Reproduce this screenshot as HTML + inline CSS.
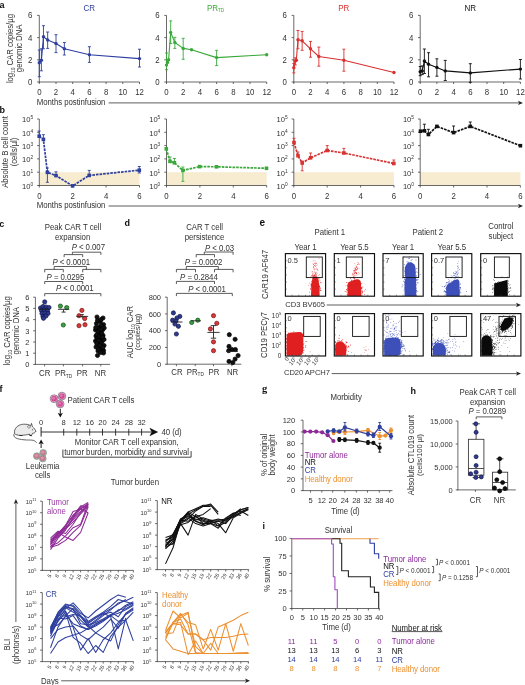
<!DOCTYPE html>
<html><head><meta charset="utf-8"><style>
html,body{margin:0;padding:0;background:#fff;}
svg{display:block;font-family:"Liberation Sans", sans-serif;filter:blur(0.3px);}
</style></head><body>
<svg width="525" height="685" viewBox="0 0 525 685">
<rect width="525" height="685" fill="#fff"/>
<text x="-0.60" y="8.14" font-size="9" font-weight="bold" fill="#111">a</text>
<line x1="39.30" y1="15.40" x2="39.30" y2="82.40" stroke="#444" stroke-width="0.8"/>
<line x1="38.90" y1="82.00" x2="139.50" y2="82.00" stroke="#444" stroke-width="0.8"/>
<line x1="37.10" y1="82.00" x2="39.30" y2="82.00" stroke="#444" stroke-width="0.8"/>
<g transform="translate(32.40 82.00) scale(1 1.07)"><text x="0" y="2.83" font-size="7.85" fill="#333" text-anchor="end" letter-spacing="-0.05">0</text></g>
<line x1="37.10" y1="59.80" x2="39.30" y2="59.80" stroke="#444" stroke-width="0.8"/>
<g transform="translate(32.40 59.80) scale(1 1.07)"><text x="0" y="2.83" font-size="7.85" fill="#333" text-anchor="end" letter-spacing="-0.05">2</text></g>
<line x1="37.10" y1="37.60" x2="39.30" y2="37.60" stroke="#444" stroke-width="0.8"/>
<g transform="translate(32.40 37.60) scale(1 1.07)"><text x="0" y="2.83" font-size="7.85" fill="#333" text-anchor="end" letter-spacing="-0.05">4</text></g>
<line x1="37.10" y1="15.40" x2="39.30" y2="15.40" stroke="#444" stroke-width="0.8"/>
<g transform="translate(32.40 15.40) scale(1 1.07)"><text x="0" y="2.83" font-size="7.85" fill="#333" text-anchor="end" letter-spacing="-0.05">6</text></g>
<line x1="39.30" y1="82.00" x2="39.30" y2="84.00" stroke="#444" stroke-width="0.8"/>
<g transform="translate(39.30 92.20) scale(1 1.07)"><text x="0" y="2.83" font-size="7.85" fill="#333" text-anchor="middle" letter-spacing="-0.05">0</text></g>
<line x1="56.00" y1="82.00" x2="56.00" y2="84.00" stroke="#444" stroke-width="0.8"/>
<g transform="translate(56.00 92.20) scale(1 1.07)"><text x="0" y="2.83" font-size="7.85" fill="#333" text-anchor="middle" letter-spacing="-0.05">2</text></g>
<line x1="72.70" y1="82.00" x2="72.70" y2="84.00" stroke="#444" stroke-width="0.8"/>
<g transform="translate(72.70 92.20) scale(1 1.07)"><text x="0" y="2.83" font-size="7.85" fill="#333" text-anchor="middle" letter-spacing="-0.05">4</text></g>
<line x1="89.40" y1="82.00" x2="89.40" y2="84.00" stroke="#444" stroke-width="0.8"/>
<g transform="translate(89.40 92.20) scale(1 1.07)"><text x="0" y="2.83" font-size="7.85" fill="#333" text-anchor="middle" letter-spacing="-0.05">6</text></g>
<line x1="106.10" y1="82.00" x2="106.10" y2="84.00" stroke="#444" stroke-width="0.8"/>
<g transform="translate(106.10 92.20) scale(1 1.07)"><text x="0" y="2.83" font-size="7.85" fill="#333" text-anchor="middle" letter-spacing="-0.05">8</text></g>
<line x1="122.80" y1="82.00" x2="122.80" y2="84.00" stroke="#444" stroke-width="0.8"/>
<g transform="translate(122.80 92.20) scale(1 1.07)"><text x="0" y="2.83" font-size="7.85" fill="#333" text-anchor="middle" letter-spacing="-0.05">10</text></g>
<line x1="139.50" y1="82.00" x2="139.50" y2="84.00" stroke="#444" stroke-width="0.8"/>
<g transform="translate(139.50 92.20) scale(1 1.07)"><text x="0" y="2.83" font-size="7.85" fill="#333" text-anchor="middle" letter-spacing="-0.05">12</text></g>
<g transform="translate(89.30 7.50) scale(1 1.07)"><text x="0" y="2.88" font-size="8.0" fill="#2e3f9e" text-anchor="middle" letter-spacing="-0.05">CR</text></g>
<line x1="166.50" y1="15.40" x2="166.50" y2="82.40" stroke="#444" stroke-width="0.8"/>
<line x1="166.10" y1="82.00" x2="266.70" y2="82.00" stroke="#444" stroke-width="0.8"/>
<line x1="164.30" y1="82.00" x2="166.50" y2="82.00" stroke="#444" stroke-width="0.8"/>
<g transform="translate(159.60 82.00) scale(1 1.07)"><text x="0" y="2.83" font-size="7.85" fill="#333" text-anchor="end" letter-spacing="-0.05">0</text></g>
<line x1="164.30" y1="59.80" x2="166.50" y2="59.80" stroke="#444" stroke-width="0.8"/>
<g transform="translate(159.60 59.80) scale(1 1.07)"><text x="0" y="2.83" font-size="7.85" fill="#333" text-anchor="end" letter-spacing="-0.05">2</text></g>
<line x1="164.30" y1="37.60" x2="166.50" y2="37.60" stroke="#444" stroke-width="0.8"/>
<g transform="translate(159.60 37.60) scale(1 1.07)"><text x="0" y="2.83" font-size="7.85" fill="#333" text-anchor="end" letter-spacing="-0.05">4</text></g>
<line x1="164.30" y1="15.40" x2="166.50" y2="15.40" stroke="#444" stroke-width="0.8"/>
<g transform="translate(159.60 15.40) scale(1 1.07)"><text x="0" y="2.83" font-size="7.85" fill="#333" text-anchor="end" letter-spacing="-0.05">6</text></g>
<line x1="166.50" y1="82.00" x2="166.50" y2="84.00" stroke="#444" stroke-width="0.8"/>
<g transform="translate(166.50 92.20) scale(1 1.07)"><text x="0" y="2.83" font-size="7.85" fill="#333" text-anchor="middle" letter-spacing="-0.05">0</text></g>
<line x1="183.20" y1="82.00" x2="183.20" y2="84.00" stroke="#444" stroke-width="0.8"/>
<g transform="translate(183.20 92.20) scale(1 1.07)"><text x="0" y="2.83" font-size="7.85" fill="#333" text-anchor="middle" letter-spacing="-0.05">2</text></g>
<line x1="199.90" y1="82.00" x2="199.90" y2="84.00" stroke="#444" stroke-width="0.8"/>
<g transform="translate(199.90 92.20) scale(1 1.07)"><text x="0" y="2.83" font-size="7.85" fill="#333" text-anchor="middle" letter-spacing="-0.05">4</text></g>
<line x1="216.60" y1="82.00" x2="216.60" y2="84.00" stroke="#444" stroke-width="0.8"/>
<g transform="translate(216.60 92.20) scale(1 1.07)"><text x="0" y="2.83" font-size="7.85" fill="#333" text-anchor="middle" letter-spacing="-0.05">6</text></g>
<line x1="233.30" y1="82.00" x2="233.30" y2="84.00" stroke="#444" stroke-width="0.8"/>
<g transform="translate(233.30 92.20) scale(1 1.07)"><text x="0" y="2.83" font-size="7.85" fill="#333" text-anchor="middle" letter-spacing="-0.05">8</text></g>
<line x1="250.00" y1="82.00" x2="250.00" y2="84.00" stroke="#444" stroke-width="0.8"/>
<g transform="translate(250.00 92.20) scale(1 1.07)"><text x="0" y="2.83" font-size="7.85" fill="#333" text-anchor="middle" letter-spacing="-0.05">10</text></g>
<line x1="266.70" y1="82.00" x2="266.70" y2="84.00" stroke="#444" stroke-width="0.8"/>
<g transform="translate(266.70 92.20) scale(1 1.07)"><text x="0" y="2.83" font-size="7.85" fill="#333" text-anchor="middle" letter-spacing="-0.05">12</text></g>
<g transform="translate(215.50 7.50) scale(1 1.07)"><text x="0" y="2.88" font-size="8.0" fill="#3aa83a" text-anchor="middle" letter-spacing="-0.05">PR<tspan font-size="4.6" dy="1.5">TD</tspan></text></g>
<line x1="293.80" y1="15.40" x2="293.80" y2="82.40" stroke="#444" stroke-width="0.8"/>
<line x1="293.40" y1="82.00" x2="394.00" y2="82.00" stroke="#444" stroke-width="0.8"/>
<line x1="291.60" y1="82.00" x2="293.80" y2="82.00" stroke="#444" stroke-width="0.8"/>
<g transform="translate(286.90 82.00) scale(1 1.07)"><text x="0" y="2.83" font-size="7.85" fill="#333" text-anchor="end" letter-spacing="-0.05">0</text></g>
<line x1="291.60" y1="59.80" x2="293.80" y2="59.80" stroke="#444" stroke-width="0.8"/>
<g transform="translate(286.90 59.80) scale(1 1.07)"><text x="0" y="2.83" font-size="7.85" fill="#333" text-anchor="end" letter-spacing="-0.05">2</text></g>
<line x1="291.60" y1="37.60" x2="293.80" y2="37.60" stroke="#444" stroke-width="0.8"/>
<g transform="translate(286.90 37.60) scale(1 1.07)"><text x="0" y="2.83" font-size="7.85" fill="#333" text-anchor="end" letter-spacing="-0.05">4</text></g>
<line x1="291.60" y1="15.40" x2="293.80" y2="15.40" stroke="#444" stroke-width="0.8"/>
<g transform="translate(286.90 15.40) scale(1 1.07)"><text x="0" y="2.83" font-size="7.85" fill="#333" text-anchor="end" letter-spacing="-0.05">6</text></g>
<line x1="293.80" y1="82.00" x2="293.80" y2="84.00" stroke="#444" stroke-width="0.8"/>
<g transform="translate(293.80 92.20) scale(1 1.07)"><text x="0" y="2.83" font-size="7.85" fill="#333" text-anchor="middle" letter-spacing="-0.05">0</text></g>
<line x1="310.50" y1="82.00" x2="310.50" y2="84.00" stroke="#444" stroke-width="0.8"/>
<g transform="translate(310.50 92.20) scale(1 1.07)"><text x="0" y="2.83" font-size="7.85" fill="#333" text-anchor="middle" letter-spacing="-0.05">2</text></g>
<line x1="327.20" y1="82.00" x2="327.20" y2="84.00" stroke="#444" stroke-width="0.8"/>
<g transform="translate(327.20 92.20) scale(1 1.07)"><text x="0" y="2.83" font-size="7.85" fill="#333" text-anchor="middle" letter-spacing="-0.05">4</text></g>
<line x1="343.90" y1="82.00" x2="343.90" y2="84.00" stroke="#444" stroke-width="0.8"/>
<g transform="translate(343.90 92.20) scale(1 1.07)"><text x="0" y="2.83" font-size="7.85" fill="#333" text-anchor="middle" letter-spacing="-0.05">6</text></g>
<line x1="360.60" y1="82.00" x2="360.60" y2="84.00" stroke="#444" stroke-width="0.8"/>
<g transform="translate(360.60 92.20) scale(1 1.07)"><text x="0" y="2.83" font-size="7.85" fill="#333" text-anchor="middle" letter-spacing="-0.05">8</text></g>
<line x1="377.30" y1="82.00" x2="377.30" y2="84.00" stroke="#444" stroke-width="0.8"/>
<g transform="translate(377.30 92.20) scale(1 1.07)"><text x="0" y="2.83" font-size="7.85" fill="#333" text-anchor="middle" letter-spacing="-0.05">10</text></g>
<line x1="394.00" y1="82.00" x2="394.00" y2="84.00" stroke="#444" stroke-width="0.8"/>
<g transform="translate(394.00 92.20) scale(1 1.07)"><text x="0" y="2.83" font-size="7.85" fill="#333" text-anchor="middle" letter-spacing="-0.05">12</text></g>
<g transform="translate(343.80 7.50) scale(1 1.07)"><text x="0" y="2.88" font-size="8.0" fill="#d93030" text-anchor="middle" letter-spacing="-0.05">PR</text></g>
<line x1="420.20" y1="15.40" x2="420.20" y2="82.40" stroke="#444" stroke-width="0.8"/>
<line x1="419.80" y1="82.00" x2="520.40" y2="82.00" stroke="#444" stroke-width="0.8"/>
<line x1="418.00" y1="82.00" x2="420.20" y2="82.00" stroke="#444" stroke-width="0.8"/>
<g transform="translate(413.30 82.00) scale(1 1.07)"><text x="0" y="2.83" font-size="7.85" fill="#333" text-anchor="end" letter-spacing="-0.05">0</text></g>
<line x1="418.00" y1="59.80" x2="420.20" y2="59.80" stroke="#444" stroke-width="0.8"/>
<g transform="translate(413.30 59.80) scale(1 1.07)"><text x="0" y="2.83" font-size="7.85" fill="#333" text-anchor="end" letter-spacing="-0.05">2</text></g>
<line x1="418.00" y1="37.60" x2="420.20" y2="37.60" stroke="#444" stroke-width="0.8"/>
<g transform="translate(413.30 37.60) scale(1 1.07)"><text x="0" y="2.83" font-size="7.85" fill="#333" text-anchor="end" letter-spacing="-0.05">4</text></g>
<line x1="418.00" y1="15.40" x2="420.20" y2="15.40" stroke="#444" stroke-width="0.8"/>
<g transform="translate(413.30 15.40) scale(1 1.07)"><text x="0" y="2.83" font-size="7.85" fill="#333" text-anchor="end" letter-spacing="-0.05">6</text></g>
<line x1="420.20" y1="82.00" x2="420.20" y2="84.00" stroke="#444" stroke-width="0.8"/>
<g transform="translate(420.20 92.20) scale(1 1.07)"><text x="0" y="2.83" font-size="7.85" fill="#333" text-anchor="middle" letter-spacing="-0.05">0</text></g>
<line x1="436.90" y1="82.00" x2="436.90" y2="84.00" stroke="#444" stroke-width="0.8"/>
<g transform="translate(436.90 92.20) scale(1 1.07)"><text x="0" y="2.83" font-size="7.85" fill="#333" text-anchor="middle" letter-spacing="-0.05">2</text></g>
<line x1="453.60" y1="82.00" x2="453.60" y2="84.00" stroke="#444" stroke-width="0.8"/>
<g transform="translate(453.60 92.20) scale(1 1.07)"><text x="0" y="2.83" font-size="7.85" fill="#333" text-anchor="middle" letter-spacing="-0.05">4</text></g>
<line x1="470.30" y1="82.00" x2="470.30" y2="84.00" stroke="#444" stroke-width="0.8"/>
<g transform="translate(470.30 92.20) scale(1 1.07)"><text x="0" y="2.83" font-size="7.85" fill="#333" text-anchor="middle" letter-spacing="-0.05">6</text></g>
<line x1="487.00" y1="82.00" x2="487.00" y2="84.00" stroke="#444" stroke-width="0.8"/>
<g transform="translate(487.00 92.20) scale(1 1.07)"><text x="0" y="2.83" font-size="7.85" fill="#333" text-anchor="middle" letter-spacing="-0.05">8</text></g>
<line x1="503.70" y1="82.00" x2="503.70" y2="84.00" stroke="#444" stroke-width="0.8"/>
<g transform="translate(503.70 92.20) scale(1 1.07)"><text x="0" y="2.83" font-size="7.85" fill="#333" text-anchor="middle" letter-spacing="-0.05">10</text></g>
<line x1="520.40" y1="82.00" x2="520.40" y2="84.00" stroke="#444" stroke-width="0.8"/>
<g transform="translate(520.40 92.20) scale(1 1.07)"><text x="0" y="2.83" font-size="7.85" fill="#333" text-anchor="middle" letter-spacing="-0.05">12</text></g>
<g transform="translate(470.20 7.50) scale(1 1.07)"><text x="0" y="2.88" font-size="8.0" fill="#111" text-anchor="middle" letter-spacing="-0.05">NR</text></g>
<g transform="translate(10.30 48.60) rotate(-90) scale(1 1.07)"><text x="0" y="2.81" font-size="7.8" fill="#333" text-anchor="middle" letter-spacing="-0.05">log<tspan font-size="4.8" dy="1.5">10</tspan><tspan dy="-1.5"> CAR copies/µg</tspan></text></g>
<g transform="translate(19.10 48.40) rotate(-90) scale(1 1.07)"><text x="0" y="2.81" font-size="7.8" fill="#333" text-anchor="middle" letter-spacing="-0.05">genomic DNA</text></g>
<g transform="translate(36.70 102.20) scale(1 1.07)"><text x="0" y="2.83" font-size="7.85" fill="#333" letter-spacing="-0.05">Months postinfusion</text></g>
<line x1="108.60" y1="102.90" x2="519.00" y2="102.90" stroke="#333" stroke-width="0.8"/>
<path d="M523.00,102.90 L518.00,100.70 L519.25,102.90 L518.00,105.10Z" fill="#222"/>
<line x1="39.30" y1="50.00" x2="39.30" y2="76.70" stroke="#2e3f9e" stroke-width="0.9"/>
<line x1="37.80" y1="50.00" x2="40.80" y2="50.00" stroke="#2e3f9e" stroke-width="0.9"/>
<line x1="37.80" y1="76.70" x2="40.80" y2="76.70" stroke="#2e3f9e" stroke-width="0.9"/>
<line x1="41.39" y1="48.80" x2="41.39" y2="70.80" stroke="#2e3f9e" stroke-width="0.9"/>
<line x1="39.89" y1="48.80" x2="42.89" y2="48.80" stroke="#2e3f9e" stroke-width="0.9"/>
<line x1="39.89" y1="70.80" x2="42.89" y2="70.80" stroke="#2e3f9e" stroke-width="0.9"/>
<line x1="43.47" y1="25.70" x2="43.47" y2="48.80" stroke="#2e3f9e" stroke-width="0.9"/>
<line x1="41.97" y1="25.70" x2="44.97" y2="25.70" stroke="#2e3f9e" stroke-width="0.9"/>
<line x1="41.97" y1="48.80" x2="44.97" y2="48.80" stroke="#2e3f9e" stroke-width="0.9"/>
<line x1="47.65" y1="32.00" x2="47.65" y2="48.40" stroke="#2e3f9e" stroke-width="0.9"/>
<line x1="46.15" y1="32.00" x2="49.15" y2="32.00" stroke="#2e3f9e" stroke-width="0.9"/>
<line x1="46.15" y1="48.40" x2="49.15" y2="48.40" stroke="#2e3f9e" stroke-width="0.9"/>
<line x1="56.00" y1="34.70" x2="56.00" y2="52.60" stroke="#2e3f9e" stroke-width="0.9"/>
<line x1="54.50" y1="34.70" x2="57.50" y2="34.70" stroke="#2e3f9e" stroke-width="0.9"/>
<line x1="54.50" y1="52.60" x2="57.50" y2="52.60" stroke="#2e3f9e" stroke-width="0.9"/>
<line x1="64.35" y1="42.50" x2="64.35" y2="55.00" stroke="#2e3f9e" stroke-width="0.9"/>
<line x1="62.85" y1="42.50" x2="65.85" y2="42.50" stroke="#2e3f9e" stroke-width="0.9"/>
<line x1="62.85" y1="55.00" x2="65.85" y2="55.00" stroke="#2e3f9e" stroke-width="0.9"/>
<line x1="89.40" y1="46.70" x2="89.40" y2="62.40" stroke="#2e3f9e" stroke-width="0.9"/>
<line x1="87.90" y1="46.70" x2="90.90" y2="46.70" stroke="#2e3f9e" stroke-width="0.9"/>
<line x1="87.90" y1="62.40" x2="90.90" y2="62.40" stroke="#2e3f9e" stroke-width="0.9"/>
<line x1="139.50" y1="49.20" x2="139.50" y2="67.00" stroke="#2e3f9e" stroke-width="0.9"/>
<line x1="138.00" y1="49.20" x2="141.00" y2="49.20" stroke="#2e3f9e" stroke-width="0.9"/>
<line x1="138.00" y1="67.00" x2="141.00" y2="67.00" stroke="#2e3f9e" stroke-width="0.9"/>
<polyline points="39.30,62.80 41.39,60.30 43.47,36.80 47.65,40.00 56.00,43.50 64.35,48.80 89.40,54.70 139.50,58.60" fill="none" stroke="#2e3f9e" stroke-width="1.1" stroke-linejoin="round"/>
<circle cx="39.30" cy="62.80" r="1.7" fill="#2e3f9e" stroke="none" stroke-width="0.5"/>
<circle cx="41.39" cy="60.30" r="1.7" fill="#2e3f9e" stroke="none" stroke-width="0.5"/>
<circle cx="43.47" cy="36.80" r="1.7" fill="#2e3f9e" stroke="none" stroke-width="0.5"/>
<circle cx="47.65" cy="40.00" r="1.7" fill="#2e3f9e" stroke="none" stroke-width="0.5"/>
<circle cx="56.00" cy="43.50" r="1.7" fill="#2e3f9e" stroke="none" stroke-width="0.5"/>
<circle cx="64.35" cy="48.80" r="1.7" fill="#2e3f9e" stroke="none" stroke-width="0.5"/>
<circle cx="89.40" cy="54.70" r="1.7" fill="#2e3f9e" stroke="none" stroke-width="0.5"/>
<circle cx="139.50" cy="58.60" r="1.7" fill="#2e3f9e" stroke="none" stroke-width="0.5"/>
<line x1="166.50" y1="53.00" x2="166.50" y2="69.70" stroke="#3aa83a" stroke-width="0.9"/>
<line x1="165.00" y1="53.00" x2="168.00" y2="53.00" stroke="#3aa83a" stroke-width="0.9"/>
<line x1="165.00" y1="69.70" x2="168.00" y2="69.70" stroke="#3aa83a" stroke-width="0.9"/>
<line x1="170.68" y1="20.90" x2="170.68" y2="43.50" stroke="#3aa83a" stroke-width="0.9"/>
<line x1="169.18" y1="20.90" x2="172.18" y2="20.90" stroke="#3aa83a" stroke-width="0.9"/>
<line x1="169.18" y1="43.50" x2="172.18" y2="43.50" stroke="#3aa83a" stroke-width="0.9"/>
<line x1="174.85" y1="37.30" x2="174.85" y2="48.40" stroke="#3aa83a" stroke-width="0.9"/>
<line x1="173.35" y1="37.30" x2="176.35" y2="37.30" stroke="#3aa83a" stroke-width="0.9"/>
<line x1="173.35" y1="48.40" x2="176.35" y2="48.40" stroke="#3aa83a" stroke-width="0.9"/>
<line x1="183.20" y1="38.30" x2="183.20" y2="59.30" stroke="#3aa83a" stroke-width="0.9"/>
<line x1="181.70" y1="38.30" x2="184.70" y2="38.30" stroke="#3aa83a" stroke-width="0.9"/>
<line x1="181.70" y1="59.30" x2="184.70" y2="59.30" stroke="#3aa83a" stroke-width="0.9"/>
<line x1="216.60" y1="50.30" x2="216.60" y2="65.60" stroke="#3aa83a" stroke-width="0.9"/>
<line x1="215.10" y1="50.30" x2="218.10" y2="50.30" stroke="#3aa83a" stroke-width="0.9"/>
<line x1="215.10" y1="65.60" x2="218.10" y2="65.60" stroke="#3aa83a" stroke-width="0.9"/>
<polyline points="166.50,65.10 167.50,62.40 168.59,59.70 170.68,32.40 174.85,42.50 183.20,48.40 191.55,49.80 216.60,57.60 266.70,54.70" fill="none" stroke="#3aa83a" stroke-width="1.1" stroke-linejoin="round"/>
<circle cx="166.50" cy="65.10" r="1.7" fill="#3aa83a" stroke="none" stroke-width="0.5"/>
<circle cx="167.50" cy="62.40" r="1.7" fill="#3aa83a" stroke="none" stroke-width="0.5"/>
<circle cx="168.59" cy="59.70" r="1.7" fill="#3aa83a" stroke="none" stroke-width="0.5"/>
<circle cx="170.68" cy="32.40" r="1.7" fill="#3aa83a" stroke="none" stroke-width="0.5"/>
<circle cx="174.85" cy="42.50" r="1.7" fill="#3aa83a" stroke="none" stroke-width="0.5"/>
<circle cx="183.20" cy="48.40" r="1.7" fill="#3aa83a" stroke="none" stroke-width="0.5"/>
<circle cx="191.55" cy="49.80" r="1.7" fill="#3aa83a" stroke="none" stroke-width="0.5"/>
<circle cx="216.60" cy="57.60" r="1.7" fill="#3aa83a" stroke="none" stroke-width="0.5"/>
<circle cx="266.70" cy="54.70" r="1.7" fill="#3aa83a" stroke="none" stroke-width="0.5"/>
<line x1="293.80" y1="63.50" x2="293.80" y2="72.90" stroke="#d93030" stroke-width="0.9"/>
<line x1="292.30" y1="63.50" x2="295.30" y2="63.50" stroke="#d93030" stroke-width="0.9"/>
<line x1="292.30" y1="72.90" x2="295.30" y2="72.90" stroke="#d93030" stroke-width="0.9"/>
<line x1="295.30" y1="57.80" x2="295.30" y2="65.00" stroke="#d93030" stroke-width="0.9"/>
<line x1="293.80" y1="57.80" x2="296.80" y2="57.80" stroke="#d93030" stroke-width="0.9"/>
<line x1="293.80" y1="65.00" x2="296.80" y2="65.00" stroke="#d93030" stroke-width="0.9"/>
<line x1="297.98" y1="30.50" x2="297.98" y2="48.80" stroke="#d93030" stroke-width="0.9"/>
<line x1="296.48" y1="30.50" x2="299.48" y2="30.50" stroke="#d93030" stroke-width="0.9"/>
<line x1="296.48" y1="48.80" x2="299.48" y2="48.80" stroke="#d93030" stroke-width="0.9"/>
<line x1="302.15" y1="31.40" x2="302.15" y2="50.30" stroke="#d93030" stroke-width="0.9"/>
<line x1="300.65" y1="31.40" x2="303.65" y2="31.40" stroke="#d93030" stroke-width="0.9"/>
<line x1="300.65" y1="50.30" x2="303.65" y2="50.30" stroke="#d93030" stroke-width="0.9"/>
<line x1="310.50" y1="41.40" x2="310.50" y2="57.20" stroke="#d93030" stroke-width="0.9"/>
<line x1="309.00" y1="41.40" x2="312.00" y2="41.40" stroke="#d93030" stroke-width="0.9"/>
<line x1="309.00" y1="57.20" x2="312.00" y2="57.20" stroke="#d93030" stroke-width="0.9"/>
<line x1="318.85" y1="47.10" x2="318.85" y2="66.20" stroke="#d93030" stroke-width="0.9"/>
<line x1="317.35" y1="47.10" x2="320.35" y2="47.10" stroke="#d93030" stroke-width="0.9"/>
<line x1="317.35" y1="66.20" x2="320.35" y2="66.20" stroke="#d93030" stroke-width="0.9"/>
<line x1="343.90" y1="49.20" x2="343.90" y2="71.20" stroke="#d93030" stroke-width="0.9"/>
<line x1="342.40" y1="49.20" x2="345.40" y2="49.20" stroke="#d93030" stroke-width="0.9"/>
<line x1="342.40" y1="71.20" x2="345.40" y2="71.20" stroke="#d93030" stroke-width="0.9"/>
<polyline points="293.80,67.70 295.30,61.00 296.31,60.30 297.98,39.80 302.15,40.80 310.50,48.80 318.85,56.50 343.90,60.30 394.00,72.50" fill="none" stroke="#d93030" stroke-width="1.1" stroke-linejoin="round"/>
<circle cx="293.80" cy="67.70" r="1.7" fill="#d93030" stroke="none" stroke-width="0.5"/>
<circle cx="295.30" cy="61.00" r="1.7" fill="#d93030" stroke="none" stroke-width="0.5"/>
<circle cx="296.31" cy="60.30" r="1.7" fill="#d93030" stroke="none" stroke-width="0.5"/>
<circle cx="297.98" cy="39.80" r="1.7" fill="#d93030" stroke="none" stroke-width="0.5"/>
<circle cx="302.15" cy="40.80" r="1.7" fill="#d93030" stroke="none" stroke-width="0.5"/>
<circle cx="310.50" cy="48.80" r="1.7" fill="#d93030" stroke="none" stroke-width="0.5"/>
<circle cx="318.85" cy="56.50" r="1.7" fill="#d93030" stroke="none" stroke-width="0.5"/>
<circle cx="343.90" cy="60.30" r="1.7" fill="#d93030" stroke="none" stroke-width="0.5"/>
<circle cx="394.00" cy="72.50" r="1.7" fill="#d93030" stroke="none" stroke-width="0.5"/>
<line x1="420.20" y1="66.50" x2="420.20" y2="75.70" stroke="#111" stroke-width="0.9"/>
<line x1="418.70" y1="66.50" x2="421.70" y2="66.50" stroke="#111" stroke-width="0.9"/>
<line x1="418.70" y1="75.70" x2="421.70" y2="75.70" stroke="#111" stroke-width="0.9"/>
<line x1="422.29" y1="65.90" x2="422.29" y2="74.60" stroke="#111" stroke-width="0.9"/>
<line x1="420.79" y1="65.90" x2="423.79" y2="65.90" stroke="#111" stroke-width="0.9"/>
<line x1="420.79" y1="74.60" x2="423.79" y2="74.60" stroke="#111" stroke-width="0.9"/>
<line x1="424.38" y1="49.00" x2="424.38" y2="73.50" stroke="#111" stroke-width="0.9"/>
<line x1="422.88" y1="49.00" x2="425.88" y2="49.00" stroke="#111" stroke-width="0.9"/>
<line x1="422.88" y1="73.50" x2="425.88" y2="73.50" stroke="#111" stroke-width="0.9"/>
<line x1="428.55" y1="52.70" x2="428.55" y2="76.80" stroke="#111" stroke-width="0.9"/>
<line x1="427.05" y1="52.70" x2="430.05" y2="52.70" stroke="#111" stroke-width="0.9"/>
<line x1="427.05" y1="76.80" x2="430.05" y2="76.80" stroke="#111" stroke-width="0.9"/>
<line x1="436.90" y1="58.80" x2="436.90" y2="76.20" stroke="#111" stroke-width="0.9"/>
<line x1="435.40" y1="58.80" x2="438.40" y2="58.80" stroke="#111" stroke-width="0.9"/>
<line x1="435.40" y1="76.20" x2="438.40" y2="76.20" stroke="#111" stroke-width="0.9"/>
<line x1="445.25" y1="60.40" x2="445.25" y2="80.50" stroke="#111" stroke-width="0.9"/>
<line x1="443.75" y1="60.40" x2="446.75" y2="60.40" stroke="#111" stroke-width="0.9"/>
<line x1="443.75" y1="80.50" x2="446.75" y2="80.50" stroke="#111" stroke-width="0.9"/>
<line x1="470.30" y1="63.70" x2="470.30" y2="82.30" stroke="#111" stroke-width="0.9"/>
<line x1="468.80" y1="63.70" x2="471.80" y2="63.70" stroke="#111" stroke-width="0.9"/>
<line x1="468.80" y1="82.30" x2="471.80" y2="82.30" stroke="#111" stroke-width="0.9"/>
<line x1="520.40" y1="59.50" x2="520.40" y2="79.00" stroke="#111" stroke-width="0.9"/>
<line x1="518.90" y1="59.50" x2="521.90" y2="59.50" stroke="#111" stroke-width="0.9"/>
<line x1="518.90" y1="79.00" x2="521.90" y2="79.00" stroke="#111" stroke-width="0.9"/>
<polyline points="420.20,71.80 422.29,70.90 424.38,61.00 428.55,64.30 436.90,67.40 445.25,70.90 470.30,72.90 520.40,69.10" fill="none" stroke="#111" stroke-width="1.1" stroke-linejoin="round"/>
<circle cx="420.20" cy="71.80" r="1.7" fill="#111" stroke="none" stroke-width="0.5"/>
<circle cx="422.29" cy="70.90" r="1.7" fill="#111" stroke="none" stroke-width="0.5"/>
<circle cx="424.38" cy="61.00" r="1.7" fill="#111" stroke="none" stroke-width="0.5"/>
<circle cx="428.55" cy="64.30" r="1.7" fill="#111" stroke="none" stroke-width="0.5"/>
<circle cx="436.90" cy="67.40" r="1.7" fill="#111" stroke="none" stroke-width="0.5"/>
<circle cx="445.25" cy="70.90" r="1.7" fill="#111" stroke="none" stroke-width="0.5"/>
<circle cx="470.30" cy="72.90" r="1.7" fill="#111" stroke="none" stroke-width="0.5"/>
<circle cx="520.40" cy="69.10" r="1.7" fill="#111" stroke="none" stroke-width="0.5"/>
<text x="-0.60" y="113.34" font-size="9" font-weight="bold" fill="#111">b</text>
<rect x="39.30" y="172.20" width="100.20" height="13.30" fill="#f7ecd0" stroke="none" stroke-width="0.8"/>
<line x1="39.30" y1="119.00" x2="39.30" y2="185.90" stroke="#444" stroke-width="0.8"/>
<line x1="38.90" y1="185.50" x2="139.50" y2="185.50" stroke="#444" stroke-width="0.8"/>
<line x1="37.10" y1="185.50" x2="39.30" y2="185.50" stroke="#444" stroke-width="0.8"/>
<g transform="translate(33.00 186.10) scale(1 1.0)"><text x="0" y="2.74" font-size="7.6" fill="#333" text-anchor="end" letter-spacing="-0.05">10<tspan font-size="4.8" dy="-2.88">0</tspan></text></g>
<line x1="37.10" y1="172.20" x2="39.30" y2="172.20" stroke="#444" stroke-width="0.8"/>
<g transform="translate(33.00 172.80) scale(1 1.0)"><text x="0" y="2.74" font-size="7.6" fill="#333" text-anchor="end" letter-spacing="-0.05">10<tspan font-size="4.8" dy="-2.88">1</tspan></text></g>
<line x1="37.10" y1="158.90" x2="39.30" y2="158.90" stroke="#444" stroke-width="0.8"/>
<g transform="translate(33.00 159.50) scale(1 1.0)"><text x="0" y="2.74" font-size="7.6" fill="#333" text-anchor="end" letter-spacing="-0.05">10<tspan font-size="4.8" dy="-2.88">2</tspan></text></g>
<line x1="37.10" y1="145.60" x2="39.30" y2="145.60" stroke="#444" stroke-width="0.8"/>
<g transform="translate(33.00 146.20) scale(1 1.0)"><text x="0" y="2.74" font-size="7.6" fill="#333" text-anchor="end" letter-spacing="-0.05">10<tspan font-size="4.8" dy="-2.88">3</tspan></text></g>
<line x1="37.10" y1="132.30" x2="39.30" y2="132.30" stroke="#444" stroke-width="0.8"/>
<g transform="translate(33.00 132.90) scale(1 1.0)"><text x="0" y="2.74" font-size="7.6" fill="#333" text-anchor="end" letter-spacing="-0.05">10<tspan font-size="4.8" dy="-2.88">4</tspan></text></g>
<line x1="37.10" y1="119.00" x2="39.30" y2="119.00" stroke="#444" stroke-width="0.8"/>
<g transform="translate(33.00 119.60) scale(1 1.0)"><text x="0" y="2.74" font-size="7.6" fill="#333" text-anchor="end" letter-spacing="-0.05">10<tspan font-size="4.8" dy="-2.88">5</tspan></text></g>
<line x1="39.30" y1="185.50" x2="39.30" y2="187.50" stroke="#444" stroke-width="0.8"/>
<g transform="translate(39.30 195.50) scale(1 1.07)"><text x="0" y="2.83" font-size="7.85" fill="#333" text-anchor="middle" letter-spacing="-0.05">0</text></g>
<line x1="72.70" y1="185.50" x2="72.70" y2="187.50" stroke="#444" stroke-width="0.8"/>
<g transform="translate(72.70 195.50) scale(1 1.07)"><text x="0" y="2.83" font-size="7.85" fill="#333" text-anchor="middle" letter-spacing="-0.05">2</text></g>
<line x1="106.10" y1="185.50" x2="106.10" y2="187.50" stroke="#444" stroke-width="0.8"/>
<g transform="translate(106.10 195.50) scale(1 1.07)"><text x="0" y="2.83" font-size="7.85" fill="#333" text-anchor="middle" letter-spacing="-0.05">4</text></g>
<line x1="139.50" y1="185.50" x2="139.50" y2="187.50" stroke="#444" stroke-width="0.8"/>
<g transform="translate(139.50 195.50) scale(1 1.07)"><text x="0" y="2.83" font-size="7.85" fill="#333" text-anchor="middle" letter-spacing="-0.05">6</text></g>
<rect x="166.50" y="172.20" width="100.20" height="13.30" fill="#f7ecd0" stroke="none" stroke-width="0.8"/>
<line x1="166.50" y1="119.00" x2="166.50" y2="185.90" stroke="#444" stroke-width="0.8"/>
<line x1="166.10" y1="185.50" x2="266.70" y2="185.50" stroke="#444" stroke-width="0.8"/>
<line x1="164.30" y1="185.50" x2="166.50" y2="185.50" stroke="#444" stroke-width="0.8"/>
<g transform="translate(160.20 186.10) scale(1 1.0)"><text x="0" y="2.74" font-size="7.6" fill="#333" text-anchor="end" letter-spacing="-0.05">10<tspan font-size="4.8" dy="-2.88">0</tspan></text></g>
<line x1="164.30" y1="172.20" x2="166.50" y2="172.20" stroke="#444" stroke-width="0.8"/>
<g transform="translate(160.20 172.80) scale(1 1.0)"><text x="0" y="2.74" font-size="7.6" fill="#333" text-anchor="end" letter-spacing="-0.05">10<tspan font-size="4.8" dy="-2.88">1</tspan></text></g>
<line x1="164.30" y1="158.90" x2="166.50" y2="158.90" stroke="#444" stroke-width="0.8"/>
<g transform="translate(160.20 159.50) scale(1 1.0)"><text x="0" y="2.74" font-size="7.6" fill="#333" text-anchor="end" letter-spacing="-0.05">10<tspan font-size="4.8" dy="-2.88">2</tspan></text></g>
<line x1="164.30" y1="145.60" x2="166.50" y2="145.60" stroke="#444" stroke-width="0.8"/>
<g transform="translate(160.20 146.20) scale(1 1.0)"><text x="0" y="2.74" font-size="7.6" fill="#333" text-anchor="end" letter-spacing="-0.05">10<tspan font-size="4.8" dy="-2.88">3</tspan></text></g>
<line x1="164.30" y1="132.30" x2="166.50" y2="132.30" stroke="#444" stroke-width="0.8"/>
<g transform="translate(160.20 132.90) scale(1 1.0)"><text x="0" y="2.74" font-size="7.6" fill="#333" text-anchor="end" letter-spacing="-0.05">10<tspan font-size="4.8" dy="-2.88">4</tspan></text></g>
<line x1="164.30" y1="119.00" x2="166.50" y2="119.00" stroke="#444" stroke-width="0.8"/>
<g transform="translate(160.20 119.60) scale(1 1.0)"><text x="0" y="2.74" font-size="7.6" fill="#333" text-anchor="end" letter-spacing="-0.05">10<tspan font-size="4.8" dy="-2.88">5</tspan></text></g>
<line x1="166.50" y1="185.50" x2="166.50" y2="187.50" stroke="#444" stroke-width="0.8"/>
<g transform="translate(166.50 195.50) scale(1 1.07)"><text x="0" y="2.83" font-size="7.85" fill="#333" text-anchor="middle" letter-spacing="-0.05">0</text></g>
<line x1="199.90" y1="185.50" x2="199.90" y2="187.50" stroke="#444" stroke-width="0.8"/>
<g transform="translate(199.90 195.50) scale(1 1.07)"><text x="0" y="2.83" font-size="7.85" fill="#333" text-anchor="middle" letter-spacing="-0.05">2</text></g>
<line x1="233.30" y1="185.50" x2="233.30" y2="187.50" stroke="#444" stroke-width="0.8"/>
<g transform="translate(233.30 195.50) scale(1 1.07)"><text x="0" y="2.83" font-size="7.85" fill="#333" text-anchor="middle" letter-spacing="-0.05">4</text></g>
<line x1="266.70" y1="185.50" x2="266.70" y2="187.50" stroke="#444" stroke-width="0.8"/>
<g transform="translate(266.70 195.50) scale(1 1.07)"><text x="0" y="2.83" font-size="7.85" fill="#333" text-anchor="middle" letter-spacing="-0.05">6</text></g>
<rect x="293.80" y="172.20" width="100.20" height="13.30" fill="#f7ecd0" stroke="none" stroke-width="0.8"/>
<line x1="293.80" y1="119.00" x2="293.80" y2="185.90" stroke="#444" stroke-width="0.8"/>
<line x1="293.40" y1="185.50" x2="394.00" y2="185.50" stroke="#444" stroke-width="0.8"/>
<line x1="291.60" y1="185.50" x2="293.80" y2="185.50" stroke="#444" stroke-width="0.8"/>
<g transform="translate(287.50 186.10) scale(1 1.0)"><text x="0" y="2.74" font-size="7.6" fill="#333" text-anchor="end" letter-spacing="-0.05">10<tspan font-size="4.8" dy="-2.88">0</tspan></text></g>
<line x1="291.60" y1="172.20" x2="293.80" y2="172.20" stroke="#444" stroke-width="0.8"/>
<g transform="translate(287.50 172.80) scale(1 1.0)"><text x="0" y="2.74" font-size="7.6" fill="#333" text-anchor="end" letter-spacing="-0.05">10<tspan font-size="4.8" dy="-2.88">1</tspan></text></g>
<line x1="291.60" y1="158.90" x2="293.80" y2="158.90" stroke="#444" stroke-width="0.8"/>
<g transform="translate(287.50 159.50) scale(1 1.0)"><text x="0" y="2.74" font-size="7.6" fill="#333" text-anchor="end" letter-spacing="-0.05">10<tspan font-size="4.8" dy="-2.88">2</tspan></text></g>
<line x1="291.60" y1="145.60" x2="293.80" y2="145.60" stroke="#444" stroke-width="0.8"/>
<g transform="translate(287.50 146.20) scale(1 1.0)"><text x="0" y="2.74" font-size="7.6" fill="#333" text-anchor="end" letter-spacing="-0.05">10<tspan font-size="4.8" dy="-2.88">3</tspan></text></g>
<line x1="291.60" y1="132.30" x2="293.80" y2="132.30" stroke="#444" stroke-width="0.8"/>
<g transform="translate(287.50 132.90) scale(1 1.0)"><text x="0" y="2.74" font-size="7.6" fill="#333" text-anchor="end" letter-spacing="-0.05">10<tspan font-size="4.8" dy="-2.88">4</tspan></text></g>
<line x1="291.60" y1="119.00" x2="293.80" y2="119.00" stroke="#444" stroke-width="0.8"/>
<g transform="translate(287.50 119.60) scale(1 1.0)"><text x="0" y="2.74" font-size="7.6" fill="#333" text-anchor="end" letter-spacing="-0.05">10<tspan font-size="4.8" dy="-2.88">5</tspan></text></g>
<line x1="293.80" y1="185.50" x2="293.80" y2="187.50" stroke="#444" stroke-width="0.8"/>
<g transform="translate(293.80 195.50) scale(1 1.07)"><text x="0" y="2.83" font-size="7.85" fill="#333" text-anchor="middle" letter-spacing="-0.05">0</text></g>
<line x1="327.20" y1="185.50" x2="327.20" y2="187.50" stroke="#444" stroke-width="0.8"/>
<g transform="translate(327.20 195.50) scale(1 1.07)"><text x="0" y="2.83" font-size="7.85" fill="#333" text-anchor="middle" letter-spacing="-0.05">2</text></g>
<line x1="360.60" y1="185.50" x2="360.60" y2="187.50" stroke="#444" stroke-width="0.8"/>
<g transform="translate(360.60 195.50) scale(1 1.07)"><text x="0" y="2.83" font-size="7.85" fill="#333" text-anchor="middle" letter-spacing="-0.05">4</text></g>
<line x1="394.00" y1="185.50" x2="394.00" y2="187.50" stroke="#444" stroke-width="0.8"/>
<g transform="translate(394.00 195.50) scale(1 1.07)"><text x="0" y="2.83" font-size="7.85" fill="#333" text-anchor="middle" letter-spacing="-0.05">6</text></g>
<rect x="420.20" y="172.20" width="100.20" height="13.30" fill="#f7ecd0" stroke="none" stroke-width="0.8"/>
<line x1="420.20" y1="119.00" x2="420.20" y2="185.90" stroke="#444" stroke-width="0.8"/>
<line x1="419.80" y1="185.50" x2="520.40" y2="185.50" stroke="#444" stroke-width="0.8"/>
<line x1="418.00" y1="185.50" x2="420.20" y2="185.50" stroke="#444" stroke-width="0.8"/>
<g transform="translate(413.90 186.10) scale(1 1.0)"><text x="0" y="2.74" font-size="7.6" fill="#333" text-anchor="end" letter-spacing="-0.05">10<tspan font-size="4.8" dy="-2.88">0</tspan></text></g>
<line x1="418.00" y1="172.20" x2="420.20" y2="172.20" stroke="#444" stroke-width="0.8"/>
<g transform="translate(413.90 172.80) scale(1 1.0)"><text x="0" y="2.74" font-size="7.6" fill="#333" text-anchor="end" letter-spacing="-0.05">10<tspan font-size="4.8" dy="-2.88">1</tspan></text></g>
<line x1="418.00" y1="158.90" x2="420.20" y2="158.90" stroke="#444" stroke-width="0.8"/>
<g transform="translate(413.90 159.50) scale(1 1.0)"><text x="0" y="2.74" font-size="7.6" fill="#333" text-anchor="end" letter-spacing="-0.05">10<tspan font-size="4.8" dy="-2.88">2</tspan></text></g>
<line x1="418.00" y1="145.60" x2="420.20" y2="145.60" stroke="#444" stroke-width="0.8"/>
<g transform="translate(413.90 146.20) scale(1 1.0)"><text x="0" y="2.74" font-size="7.6" fill="#333" text-anchor="end" letter-spacing="-0.05">10<tspan font-size="4.8" dy="-2.88">3</tspan></text></g>
<line x1="418.00" y1="132.30" x2="420.20" y2="132.30" stroke="#444" stroke-width="0.8"/>
<g transform="translate(413.90 132.90) scale(1 1.0)"><text x="0" y="2.74" font-size="7.6" fill="#333" text-anchor="end" letter-spacing="-0.05">10<tspan font-size="4.8" dy="-2.88">4</tspan></text></g>
<line x1="418.00" y1="119.00" x2="420.20" y2="119.00" stroke="#444" stroke-width="0.8"/>
<g transform="translate(413.90 119.60) scale(1 1.0)"><text x="0" y="2.74" font-size="7.6" fill="#333" text-anchor="end" letter-spacing="-0.05">10<tspan font-size="4.8" dy="-2.88">5</tspan></text></g>
<line x1="420.20" y1="185.50" x2="420.20" y2="187.50" stroke="#444" stroke-width="0.8"/>
<g transform="translate(420.20 195.50) scale(1 1.07)"><text x="0" y="2.83" font-size="7.85" fill="#333" text-anchor="middle" letter-spacing="-0.05">0</text></g>
<line x1="453.60" y1="185.50" x2="453.60" y2="187.50" stroke="#444" stroke-width="0.8"/>
<g transform="translate(453.60 195.50) scale(1 1.07)"><text x="0" y="2.83" font-size="7.85" fill="#333" text-anchor="middle" letter-spacing="-0.05">2</text></g>
<line x1="487.00" y1="185.50" x2="487.00" y2="187.50" stroke="#444" stroke-width="0.8"/>
<g transform="translate(487.00 195.50) scale(1 1.07)"><text x="0" y="2.83" font-size="7.85" fill="#333" text-anchor="middle" letter-spacing="-0.05">4</text></g>
<line x1="520.40" y1="185.50" x2="520.40" y2="187.50" stroke="#444" stroke-width="0.8"/>
<g transform="translate(520.40 195.50) scale(1 1.07)"><text x="0" y="2.83" font-size="7.85" fill="#333" text-anchor="middle" letter-spacing="-0.05">6</text></g>
<g transform="translate(5.00 152.00) rotate(-90) scale(1 1.07)"><text x="0" y="2.81" font-size="7.8" fill="#333" text-anchor="middle" letter-spacing="-0.05">Absolute B cell count</text></g>
<g transform="translate(14.40 152.00) rotate(-90) scale(1 1.07)"><text x="0" y="2.81" font-size="7.8" fill="#333" text-anchor="middle" letter-spacing="-0.05">(cells/µl)</text></g>
<g transform="translate(36.70 205.30) scale(1 1.07)"><text x="0" y="2.83" font-size="7.85" fill="#333" letter-spacing="-0.05">Months postinfusion</text></g>
<line x1="108.60" y1="206.00" x2="519.00" y2="206.00" stroke="#333" stroke-width="0.8"/>
<path d="M523.00,206.00 L518.00,203.80 L519.25,206.00 L518.00,208.20Z" fill="#222"/>
<line x1="39.20" y1="136.20" x2="39.20" y2="131.00" stroke="#2e3f9e" stroke-width="0.9"/>
<line x1="37.70" y1="131.00" x2="40.70" y2="131.00" stroke="#2e3f9e" stroke-width="0.9"/>
<line x1="43.40" y1="139.40" x2="43.40" y2="134.70" stroke="#2e3f9e" stroke-width="0.9"/>
<line x1="41.90" y1="134.70" x2="44.90" y2="134.70" stroke="#2e3f9e" stroke-width="0.9"/>
<line x1="47.40" y1="172.30" x2="47.40" y2="182.30" stroke="#2e3f9e" stroke-width="0.9"/>
<line x1="45.90" y1="182.30" x2="48.90" y2="182.30" stroke="#2e3f9e" stroke-width="0.9"/>
<line x1="47.40" y1="172.30" x2="47.40" y2="168.00" stroke="#2e3f9e" stroke-width="0.9"/>
<line x1="45.90" y1="168.00" x2="48.90" y2="168.00" stroke="#2e3f9e" stroke-width="0.9"/>
<line x1="56.00" y1="175.60" x2="56.00" y2="171.80" stroke="#2e3f9e" stroke-width="0.9"/>
<line x1="54.50" y1="171.80" x2="57.50" y2="171.80" stroke="#2e3f9e" stroke-width="0.9"/>
<line x1="89.20" y1="175.40" x2="89.20" y2="170.40" stroke="#2e3f9e" stroke-width="0.9"/>
<line x1="87.70" y1="170.40" x2="90.70" y2="170.40" stroke="#2e3f9e" stroke-width="0.9"/>
<line x1="139.30" y1="170.20" x2="139.30" y2="166.50" stroke="#2e3f9e" stroke-width="0.9"/>
<line x1="137.80" y1="166.50" x2="140.80" y2="166.50" stroke="#2e3f9e" stroke-width="0.9"/>
<line x1="139.30" y1="170.20" x2="139.30" y2="173.00" stroke="#2e3f9e" stroke-width="0.9"/>
<line x1="137.80" y1="173.00" x2="140.80" y2="173.00" stroke="#2e3f9e" stroke-width="0.9"/>
<polyline points="39.20,136.20 43.40,139.40 47.40,172.30 56.00,175.60 72.60,185.90 89.20,175.40 139.30,170.20" fill="none" stroke="#2e3f9e" stroke-width="1.7" stroke-linejoin="round" stroke-dasharray="2.6,1.0"/>
<rect x="37.40" y="134.40" width="3.60" height="3.60" fill="#2e3f9e" stroke="none" stroke-width="0.8"/>
<rect x="41.60" y="137.60" width="3.60" height="3.60" fill="#2e3f9e" stroke="none" stroke-width="0.8"/>
<rect x="45.60" y="170.50" width="3.60" height="3.60" fill="#2e3f9e" stroke="none" stroke-width="0.8"/>
<rect x="54.20" y="173.80" width="3.60" height="3.60" fill="#2e3f9e" stroke="none" stroke-width="0.8"/>
<rect x="70.80" y="184.10" width="3.60" height="3.60" fill="#2e3f9e" stroke="none" stroke-width="0.8"/>
<rect x="87.40" y="173.60" width="3.60" height="3.60" fill="#2e3f9e" stroke="none" stroke-width="0.8"/>
<rect x="137.50" y="168.40" width="3.60" height="3.60" fill="#2e3f9e" stroke="none" stroke-width="0.8"/>
<line x1="170.00" y1="161.40" x2="170.00" y2="157.00" stroke="#3aa83a" stroke-width="0.9"/>
<line x1="168.50" y1="157.00" x2="171.50" y2="157.00" stroke="#3aa83a" stroke-width="0.9"/>
<line x1="174.40" y1="162.80" x2="174.40" y2="158.50" stroke="#3aa83a" stroke-width="0.9"/>
<line x1="172.90" y1="158.50" x2="175.90" y2="158.50" stroke="#3aa83a" stroke-width="0.9"/>
<line x1="182.90" y1="170.40" x2="182.90" y2="167.00" stroke="#3aa83a" stroke-width="0.9"/>
<line x1="181.40" y1="167.00" x2="184.40" y2="167.00" stroke="#3aa83a" stroke-width="0.9"/>
<line x1="182.90" y1="170.40" x2="182.90" y2="181.30" stroke="#3aa83a" stroke-width="0.9"/>
<line x1="181.40" y1="181.30" x2="184.40" y2="181.30" stroke="#3aa83a" stroke-width="0.9"/>
<polyline points="166.30,148.80 170.00,161.40 174.40,162.80 182.90,170.40 199.60,166.60 216.50,166.80 266.50,168.30" fill="none" stroke="#3aa83a" stroke-width="1.7" stroke-linejoin="round" stroke-dasharray="2.6,1.0"/>
<rect x="164.50" y="147.00" width="3.60" height="3.60" fill="#3aa83a" stroke="none" stroke-width="0.8"/>
<rect x="168.20" y="159.60" width="3.60" height="3.60" fill="#3aa83a" stroke="none" stroke-width="0.8"/>
<rect x="172.60" y="161.00" width="3.60" height="3.60" fill="#3aa83a" stroke="none" stroke-width="0.8"/>
<rect x="181.10" y="168.60" width="3.60" height="3.60" fill="#3aa83a" stroke="none" stroke-width="0.8"/>
<rect x="197.80" y="164.80" width="3.60" height="3.60" fill="#3aa83a" stroke="none" stroke-width="0.8"/>
<rect x="214.70" y="165.00" width="3.60" height="3.60" fill="#3aa83a" stroke="none" stroke-width="0.8"/>
<rect x="264.70" y="166.50" width="3.60" height="3.60" fill="#3aa83a" stroke="none" stroke-width="0.8"/>
<line x1="294.00" y1="142.50" x2="294.00" y2="138.30" stroke="#d93030" stroke-width="0.9"/>
<line x1="292.50" y1="138.30" x2="295.50" y2="138.30" stroke="#d93030" stroke-width="0.9"/>
<line x1="298.00" y1="155.70" x2="298.00" y2="152.00" stroke="#d93030" stroke-width="0.9"/>
<line x1="296.50" y1="152.00" x2="299.50" y2="152.00" stroke="#d93030" stroke-width="0.9"/>
<line x1="302.20" y1="163.00" x2="302.20" y2="161.00" stroke="#d93030" stroke-width="0.9"/>
<line x1="300.70" y1="161.00" x2="303.70" y2="161.00" stroke="#d93030" stroke-width="0.9"/>
<line x1="302.20" y1="163.00" x2="302.20" y2="170.80" stroke="#d93030" stroke-width="0.9"/>
<line x1="300.70" y1="170.80" x2="303.70" y2="170.80" stroke="#d93030" stroke-width="0.9"/>
<line x1="310.60" y1="157.80" x2="310.60" y2="153.00" stroke="#d93030" stroke-width="0.9"/>
<line x1="309.10" y1="153.00" x2="312.10" y2="153.00" stroke="#d93030" stroke-width="0.9"/>
<line x1="327.20" y1="150.50" x2="327.20" y2="145.60" stroke="#d93030" stroke-width="0.9"/>
<line x1="325.70" y1="145.60" x2="328.70" y2="145.60" stroke="#d93030" stroke-width="0.9"/>
<line x1="343.90" y1="153.00" x2="343.90" y2="148.40" stroke="#d93030" stroke-width="0.9"/>
<line x1="342.40" y1="148.40" x2="345.40" y2="148.40" stroke="#d93030" stroke-width="0.9"/>
<line x1="393.80" y1="163.50" x2="393.80" y2="160.00" stroke="#d93030" stroke-width="0.9"/>
<line x1="392.30" y1="160.00" x2="395.30" y2="160.00" stroke="#d93030" stroke-width="0.9"/>
<polyline points="294.00,142.50 298.00,155.70 302.20,163.00 310.60,157.80 327.20,150.50 343.90,153.00 393.80,163.50" fill="none" stroke="#d93030" stroke-width="1.7" stroke-linejoin="round" stroke-dasharray="2.6,1.0"/>
<rect x="292.20" y="140.70" width="3.60" height="3.60" fill="#d93030" stroke="none" stroke-width="0.8"/>
<rect x="296.20" y="153.90" width="3.60" height="3.60" fill="#d93030" stroke="none" stroke-width="0.8"/>
<rect x="300.40" y="161.20" width="3.60" height="3.60" fill="#d93030" stroke="none" stroke-width="0.8"/>
<rect x="308.80" y="156.00" width="3.60" height="3.60" fill="#d93030" stroke="none" stroke-width="0.8"/>
<rect x="325.40" y="148.70" width="3.60" height="3.60" fill="#d93030" stroke="none" stroke-width="0.8"/>
<rect x="342.10" y="151.20" width="3.60" height="3.60" fill="#d93030" stroke="none" stroke-width="0.8"/>
<rect x="392.00" y="161.70" width="3.60" height="3.60" fill="#d93030" stroke="none" stroke-width="0.8"/>
<line x1="424.40" y1="130.80" x2="424.40" y2="124.20" stroke="#111" stroke-width="0.9"/>
<line x1="422.90" y1="124.20" x2="425.90" y2="124.20" stroke="#111" stroke-width="0.9"/>
<line x1="428.40" y1="134.50" x2="428.40" y2="129.30" stroke="#111" stroke-width="0.9"/>
<line x1="426.90" y1="129.30" x2="429.90" y2="129.30" stroke="#111" stroke-width="0.9"/>
<line x1="453.60" y1="132.60" x2="453.60" y2="126.00" stroke="#111" stroke-width="0.9"/>
<line x1="452.10" y1="126.00" x2="455.10" y2="126.00" stroke="#111" stroke-width="0.9"/>
<line x1="470.30" y1="126.40" x2="470.30" y2="122.00" stroke="#111" stroke-width="0.9"/>
<line x1="468.80" y1="122.00" x2="471.80" y2="122.00" stroke="#111" stroke-width="0.9"/>
<polyline points="420.50,131.20 424.40,130.80 428.40,134.50 436.90,126.40 453.60,132.60 470.30,126.40 520.40,145.70" fill="none" stroke="#111" stroke-width="1.7" stroke-linejoin="round" stroke-dasharray="2.6,1.0"/>
<rect x="418.70" y="129.40" width="3.60" height="3.60" fill="#111" stroke="none" stroke-width="0.8"/>
<rect x="422.60" y="129.00" width="3.60" height="3.60" fill="#111" stroke="none" stroke-width="0.8"/>
<rect x="426.60" y="132.70" width="3.60" height="3.60" fill="#111" stroke="none" stroke-width="0.8"/>
<rect x="435.10" y="124.60" width="3.60" height="3.60" fill="#111" stroke="none" stroke-width="0.8"/>
<rect x="451.80" y="130.80" width="3.60" height="3.60" fill="#111" stroke="none" stroke-width="0.8"/>
<rect x="468.50" y="124.60" width="3.60" height="3.60" fill="#111" stroke="none" stroke-width="0.8"/>
<rect x="518.60" y="143.90" width="3.60" height="3.60" fill="#111" stroke="none" stroke-width="0.8"/>
<text x="-0.80" y="226.54" font-size="9" font-weight="bold" fill="#111">c</text>
<text x="124.60" y="225.64" font-size="9" font-weight="bold" fill="#111">d</text>
<g transform="translate(73.00 227.30) scale(1 1.07)"><text x="0" y="2.83" font-size="7.85" fill="#333" text-anchor="middle" letter-spacing="-0.05">Peak CAR T cell</text></g>
<g transform="translate(72.60 236.60) scale(1 1.07)"><text x="0" y="2.83" font-size="7.85" fill="#333" text-anchor="middle" letter-spacing="-0.05">expansion</text></g>
<g transform="translate(204.50 226.90) scale(1 1.07)"><text x="0" y="2.83" font-size="7.85" fill="#333" text-anchor="middle" letter-spacing="-0.05">CAR T cell</text></g>
<g transform="translate(204.50 236.80) scale(1 1.07)"><text x="0" y="2.83" font-size="7.85" fill="#333" text-anchor="middle" letter-spacing="-0.05">persistence</text></g>
<g transform="translate(88.30 247.40) scale(1 1.07)"><text x="0" y="2.83" font-size="7.85" fill="#333" text-anchor="middle" letter-spacing="-0.05"><tspan font-style="italic">P</tspan> &lt; 0.007</text></g>
<path d="M72.40,254.40 L72.40,252.20 L100.90,252.20 L100.90,254.90" fill="none" stroke="#333" stroke-width="0.8"/>
<path d="M64.10,257.20 L64.10,254.60 L82.70,254.60 L82.70,257.20" fill="none" stroke="#333" stroke-width="0.8"/>
<g transform="translate(71.20 262.30) scale(1 1.07)"><text x="0" y="2.83" font-size="7.85" fill="#333" text-anchor="middle" letter-spacing="-0.05"><tspan font-style="italic">P</tspan> &lt; 0.0001</text></g>
<path d="M54.20,269.50 L54.20,266.50 L86.40,266.50 L86.40,269.50" fill="none" stroke="#333" stroke-width="0.8"/>
<path d="M44.70,272.30 L44.70,269.40 L63.30,269.40 L63.30,272.30" fill="none" stroke="#333" stroke-width="0.8"/>
<path d="M82.70,272.30 L82.70,269.40 L100.90,269.40 L100.90,272.30" fill="none" stroke="#333" stroke-width="0.8"/>
<g transform="translate(65.40 276.60) scale(1 1.07)"><text x="0" y="2.83" font-size="7.85" fill="#333" text-anchor="middle" letter-spacing="-0.05"><tspan font-style="italic">P</tspan> = 0.0295</text></g>
<path d="M44.70,284.10 L44.70,281.50 L82.70,281.50 L82.70,284.10" fill="none" stroke="#333" stroke-width="0.8"/>
<g transform="translate(74.80 288.40) scale(1 1.07)"><text x="0" y="2.83" font-size="7.85" fill="#333" text-anchor="middle" letter-spacing="-0.05"><tspan font-style="italic">P</tspan> &lt; 0.0001</text></g>
<path d="M44.70,296.30 L44.70,293.60 L100.90,293.60 L100.90,296.30" fill="none" stroke="#333" stroke-width="0.8"/>
<g transform="translate(219.50 247.90) scale(1 1.07)"><text x="0" y="2.83" font-size="7.85" fill="#333" text-anchor="middle" letter-spacing="-0.05"><tspan font-style="italic">P</tspan> &lt; 0.03</text></g>
<path d="M204.30,254.20 L204.30,252.00 L233.10,252.00 L233.10,254.80" fill="none" stroke="#333" stroke-width="0.8"/>
<path d="M196.20,257.30 L196.20,254.60 L214.50,254.60 L214.50,257.30" fill="none" stroke="#333" stroke-width="0.8"/>
<g transform="translate(203.60 262.00) scale(1 1.07)"><text x="0" y="2.83" font-size="7.85" fill="#333" text-anchor="middle" letter-spacing="-0.05"><tspan font-style="italic">P</tspan> = 0.0002</text></g>
<path d="M186.30,269.50 L186.30,266.50 L218.30,266.50 L218.30,269.50" fill="none" stroke="#333" stroke-width="0.8"/>
<path d="M176.40,272.30 L176.40,269.40 L195.50,269.40 L195.50,272.30" fill="none" stroke="#333" stroke-width="0.8"/>
<path d="M214.50,272.30 L214.50,269.40 L233.10,269.40 L233.10,272.30" fill="none" stroke="#333" stroke-width="0.8"/>
<g transform="translate(198.90 276.80) scale(1 1.07)"><text x="0" y="2.83" font-size="7.85" fill="#333" text-anchor="middle" letter-spacing="-0.05"><tspan font-style="italic">P</tspan> = 0.2844</text></g>
<path d="M176.40,284.00 L176.40,281.40 L214.50,281.40 L214.50,284.00" fill="none" stroke="#333" stroke-width="0.8"/>
<g transform="translate(207.10 288.60) scale(1 1.07)"><text x="0" y="2.83" font-size="7.85" fill="#333" text-anchor="middle" letter-spacing="-0.05"><tspan font-style="italic">P</tspan> &lt; 0.0001</text></g>
<path d="M176.40,296.10 L176.40,293.40 L232.30,293.40 L232.30,296.10" fill="none" stroke="#333" stroke-width="0.8"/>
<line x1="35.40" y1="297.20" x2="35.40" y2="364.80" stroke="#444" stroke-width="0.8"/>
<line x1="35.00" y1="364.40" x2="110.00" y2="364.40" stroke="#444" stroke-width="0.8"/>
<line x1="33.20" y1="364.40" x2="35.40" y2="364.40" stroke="#444" stroke-width="0.8"/>
<g transform="translate(27.20 364.40) scale(1 1.0)"><text x="0" y="2.70" font-size="7.5" fill="#333" text-anchor="middle" letter-spacing="-0.05">0</text></g>
<line x1="33.20" y1="353.20" x2="35.40" y2="353.20" stroke="#444" stroke-width="0.8"/>
<g transform="translate(27.20 353.20) scale(1 1.0)"><text x="0" y="2.70" font-size="7.5" fill="#333" text-anchor="middle" letter-spacing="-0.05">1</text></g>
<line x1="33.20" y1="342.00" x2="35.40" y2="342.00" stroke="#444" stroke-width="0.8"/>
<g transform="translate(27.20 342.00) scale(1 1.0)"><text x="0" y="2.70" font-size="7.5" fill="#333" text-anchor="middle" letter-spacing="-0.05">2</text></g>
<line x1="33.20" y1="330.80" x2="35.40" y2="330.80" stroke="#444" stroke-width="0.8"/>
<g transform="translate(27.20 330.80) scale(1 1.0)"><text x="0" y="2.70" font-size="7.5" fill="#333" text-anchor="middle" letter-spacing="-0.05">3</text></g>
<line x1="33.20" y1="319.60" x2="35.40" y2="319.60" stroke="#444" stroke-width="0.8"/>
<g transform="translate(27.20 319.60) scale(1 1.0)"><text x="0" y="2.70" font-size="7.5" fill="#333" text-anchor="middle" letter-spacing="-0.05">4</text></g>
<line x1="33.20" y1="308.40" x2="35.40" y2="308.40" stroke="#444" stroke-width="0.8"/>
<g transform="translate(27.20 308.40) scale(1 1.0)"><text x="0" y="2.70" font-size="7.5" fill="#333" text-anchor="middle" letter-spacing="-0.05">5</text></g>
<line x1="33.20" y1="297.20" x2="35.40" y2="297.20" stroke="#444" stroke-width="0.8"/>
<g transform="translate(27.20 297.20) scale(1 1.0)"><text x="0" y="2.70" font-size="7.5" fill="#333" text-anchor="middle" letter-spacing="-0.05">6</text></g>
<line x1="44.60" y1="364.40" x2="44.60" y2="366.40" stroke="#444" stroke-width="0.8"/>
<line x1="63.40" y1="364.40" x2="63.40" y2="366.40" stroke="#444" stroke-width="0.8"/>
<line x1="82.60" y1="364.40" x2="82.60" y2="366.40" stroke="#444" stroke-width="0.8"/>
<line x1="100.80" y1="364.40" x2="100.80" y2="366.40" stroke="#444" stroke-width="0.8"/>
<g transform="translate(44.70 373.40) scale(1 1.07)"><text x="0" y="2.83" font-size="7.85" fill="#333" text-anchor="middle" letter-spacing="-0.05">CR</text></g>
<g transform="translate(63.60 373.40) scale(1 1.07)"><text x="0" y="2.83" font-size="7.85" fill="#333" text-anchor="middle" letter-spacing="-0.05">PR<tspan font-size="4.8" dy="1.6">TD</tspan></text></g>
<g transform="translate(82.10 373.40) scale(1 1.07)"><text x="0" y="2.83" font-size="7.85" fill="#333" text-anchor="middle" letter-spacing="-0.05">PR</text></g>
<g transform="translate(100.40 373.40) scale(1 1.07)"><text x="0" y="2.83" font-size="7.85" fill="#333" text-anchor="middle" letter-spacing="-0.05">NR</text></g>
<g transform="translate(7.00 330.80) rotate(-90) scale(1 1.07)"><text x="0" y="2.81" font-size="7.8" fill="#333" text-anchor="middle" letter-spacing="-0.05">log<tspan font-size="4.8" dy="1.5">10</tspan><tspan dy="-1.5"> CAR copies/µg</tspan></text></g>
<g transform="translate(16.00 330.80) rotate(-90) scale(1 1.07)"><text x="0" y="2.81" font-size="7.8" fill="#333" text-anchor="middle" letter-spacing="-0.05">genomic DNA</text></g>
<circle cx="44.70" cy="301.90" r="2.1" fill="#2e3b8e" stroke="#10164a" stroke-width="0.7"/>
<circle cx="40.50" cy="308.00" r="2.1" fill="#2e3b8e" stroke="#10164a" stroke-width="0.7"/>
<circle cx="43.00" cy="306.50" r="2.1" fill="#2e3b8e" stroke="#10164a" stroke-width="0.7"/>
<circle cx="46.00" cy="307.00" r="2.1" fill="#2e3b8e" stroke="#10164a" stroke-width="0.7"/>
<circle cx="49.00" cy="307.50" r="2.1" fill="#2e3b8e" stroke="#10164a" stroke-width="0.7"/>
<circle cx="41.50" cy="310.50" r="2.1" fill="#2e3b8e" stroke="#10164a" stroke-width="0.7"/>
<circle cx="44.50" cy="310.00" r="2.1" fill="#2e3b8e" stroke="#10164a" stroke-width="0.7"/>
<circle cx="47.50" cy="311.00" r="2.1" fill="#2e3b8e" stroke="#10164a" stroke-width="0.7"/>
<circle cx="42.00" cy="313.50" r="2.1" fill="#2e3b8e" stroke="#10164a" stroke-width="0.7"/>
<circle cx="45.00" cy="313.00" r="2.1" fill="#2e3b8e" stroke="#10164a" stroke-width="0.7"/>
<circle cx="48.00" cy="313.50" r="2.1" fill="#2e3b8e" stroke="#10164a" stroke-width="0.7"/>
<circle cx="43.00" cy="316.50" r="2.1" fill="#2e3b8e" stroke="#10164a" stroke-width="0.7"/>
<circle cx="46.00" cy="316.00" r="2.1" fill="#2e3b8e" stroke="#10164a" stroke-width="0.7"/>
<circle cx="43.50" cy="318.30" r="2.1" fill="#2e3b8e" stroke="#10164a" stroke-width="0.7"/>
<line x1="39.50" y1="309.30" x2="50.00" y2="309.30" stroke="#222" stroke-width="0.9"/>
<circle cx="60.40" cy="306.10" r="2.1" fill="#3aa040" stroke="#0f4a12" stroke-width="0.7"/>
<circle cx="66.70" cy="307.60" r="2.1" fill="#3aa040" stroke="#0f4a12" stroke-width="0.7"/>
<circle cx="63.30" cy="325.00" r="2.1" fill="#3aa040" stroke="#0f4a12" stroke-width="0.7"/>
<line x1="57.90" y1="309.30" x2="69.30" y2="309.30" stroke="#222" stroke-width="0.9"/>
<line x1="63.60" y1="309.30" x2="63.60" y2="312.10" stroke="#222" stroke-width="0.9"/>
<line x1="61.60" y1="312.10" x2="65.60" y2="312.10" stroke="#222" stroke-width="0.9"/>
<circle cx="81.90" cy="310.40" r="2.1" fill="#d83a3a" stroke="#7a1010" stroke-width="0.7"/>
<circle cx="79.00" cy="315.70" r="2.1" fill="#d83a3a" stroke="#7a1010" stroke-width="0.7"/>
<circle cx="84.70" cy="318.60" r="2.1" fill="#d83a3a" stroke="#7a1010" stroke-width="0.7"/>
<circle cx="79.00" cy="325.70" r="2.1" fill="#d83a3a" stroke="#7a1010" stroke-width="0.7"/>
<circle cx="85.00" cy="324.70" r="2.1" fill="#d83a3a" stroke="#7a1010" stroke-width="0.7"/>
<line x1="76.40" y1="316.40" x2="88.10" y2="316.40" stroke="#222" stroke-width="0.9"/>
<line x1="82.20" y1="314.60" x2="82.20" y2="318.20" stroke="#222" stroke-width="0.9"/>
<line x1="80.60" y1="314.60" x2="83.80" y2="314.60" stroke="#222" stroke-width="0.9"/>
<circle cx="97.00" cy="317.00" r="2.1" fill="#111" stroke="#000" stroke-width="0.7"/>
<circle cx="103.00" cy="318.00" r="2.1" fill="#111" stroke="#000" stroke-width="0.7"/>
<circle cx="100.20" cy="321.50" r="2.1" fill="#111" stroke="#000" stroke-width="0.7"/>
<circle cx="96.50" cy="323.50" r="2.1" fill="#111" stroke="#000" stroke-width="0.7"/>
<circle cx="103.50" cy="324.50" r="2.1" fill="#111" stroke="#000" stroke-width="0.7"/>
<circle cx="99.50" cy="327.00" r="2.1" fill="#111" stroke="#000" stroke-width="0.7"/>
<circle cx="95.50" cy="330.00" r="2.1" fill="#111" stroke="#000" stroke-width="0.7"/>
<circle cx="102.50" cy="330.00" r="2.1" fill="#111" stroke="#000" stroke-width="0.7"/>
<circle cx="99.50" cy="333.00" r="2.1" fill="#111" stroke="#000" stroke-width="0.7"/>
<circle cx="96.00" cy="336.00" r="2.1" fill="#111" stroke="#000" stroke-width="0.7"/>
<circle cx="103.00" cy="335.50" r="2.1" fill="#111" stroke="#000" stroke-width="0.7"/>
<circle cx="100.00" cy="338.50" r="2.1" fill="#111" stroke="#000" stroke-width="0.7"/>
<circle cx="95.50" cy="341.00" r="2.1" fill="#111" stroke="#000" stroke-width="0.7"/>
<circle cx="102.00" cy="341.50" r="2.1" fill="#111" stroke="#000" stroke-width="0.7"/>
<circle cx="98.50" cy="344.00" r="2.1" fill="#111" stroke="#000" stroke-width="0.7"/>
<circle cx="104.00" cy="345.50" r="2.1" fill="#111" stroke="#000" stroke-width="0.7"/>
<circle cx="96.00" cy="347.00" r="2.1" fill="#111" stroke="#000" stroke-width="0.7"/>
<circle cx="100.50" cy="348.50" r="2.1" fill="#111" stroke="#000" stroke-width="0.7"/>
<circle cx="103.50" cy="350.50" r="2.1" fill="#111" stroke="#000" stroke-width="0.7"/>
<circle cx="97.50" cy="355.50" r="2.1" fill="#111" stroke="#000" stroke-width="0.7"/>
<circle cx="103.50" cy="353.00" r="2.1" fill="#111" stroke="#000" stroke-width="0.7"/>
<circle cx="98.00" cy="351.00" r="2.1" fill="#111" stroke="#000" stroke-width="0.7"/>
<circle cx="101.00" cy="343.50" r="2.1" fill="#111" stroke="#000" stroke-width="0.7"/>
<circle cx="97.00" cy="338.50" r="2.1" fill="#111" stroke="#000" stroke-width="0.7"/>
<circle cx="104.00" cy="339.50" r="2.1" fill="#111" stroke="#000" stroke-width="0.7"/>
<circle cx="98.00" cy="328.00" r="2.1" fill="#111" stroke="#000" stroke-width="0.7"/>
<circle cx="101.50" cy="325.00" r="2.1" fill="#111" stroke="#000" stroke-width="0.7"/>
<circle cx="97.50" cy="320.50" r="2.1" fill="#111" stroke="#000" stroke-width="0.7"/>
<circle cx="101.00" cy="319.50" r="2.1" fill="#111" stroke="#000" stroke-width="0.7"/>
<circle cx="98.20" cy="331.50" r="2.1" fill="#111" stroke="#000" stroke-width="0.7"/>
<circle cx="101.80" cy="333.50" r="2.1" fill="#111" stroke="#000" stroke-width="0.7"/>
<circle cx="97.00" cy="334.50" r="2.1" fill="#111" stroke="#000" stroke-width="0.7"/>
<circle cx="99.50" cy="336.50" r="2.1" fill="#111" stroke="#000" stroke-width="0.7"/>
<circle cx="102.50" cy="337.00" r="2.1" fill="#111" stroke="#000" stroke-width="0.7"/>
<circle cx="96.80" cy="343.50" r="2.1" fill="#111" stroke="#000" stroke-width="0.7"/>
<circle cx="99.80" cy="345.50" r="2.1" fill="#111" stroke="#000" stroke-width="0.7"/>
<circle cx="102.80" cy="347.50" r="2.1" fill="#111" stroke="#000" stroke-width="0.7"/>
<circle cx="98.50" cy="349.50" r="2.1" fill="#111" stroke="#000" stroke-width="0.7"/>
<circle cx="100.50" cy="352.50" r="2.1" fill="#111" stroke="#000" stroke-width="0.7"/>
<circle cx="95.80" cy="327.50" r="2.1" fill="#111" stroke="#000" stroke-width="0.7"/>
<circle cx="104.20" cy="328.00" r="2.1" fill="#111" stroke="#000" stroke-width="0.7"/>
<circle cx="98.50" cy="340.50" r="2.1" fill="#111" stroke="#000" stroke-width="0.7"/>
<circle cx="101.20" cy="329.50" r="2.1" fill="#111" stroke="#000" stroke-width="0.7"/>
<line x1="167.20" y1="297.16" x2="167.20" y2="364.60" stroke="#444" stroke-width="0.8"/>
<line x1="166.80" y1="364.20" x2="241.30" y2="364.20" stroke="#444" stroke-width="0.8"/>
<line x1="165.00" y1="364.20" x2="167.20" y2="364.20" stroke="#444" stroke-width="0.8"/>
<g transform="translate(161.00 364.20) scale(1 1.0)"><text x="0" y="2.70" font-size="7.5" fill="#333" text-anchor="end" letter-spacing="-0.05">0</text></g>
<line x1="165.00" y1="347.44" x2="167.20" y2="347.44" stroke="#444" stroke-width="0.8"/>
<g transform="translate(161.00 347.44) scale(1 1.0)"><text x="0" y="2.70" font-size="7.5" fill="#333" text-anchor="end" letter-spacing="-0.05">200</text></g>
<line x1="165.00" y1="330.68" x2="167.20" y2="330.68" stroke="#444" stroke-width="0.8"/>
<g transform="translate(161.00 330.68) scale(1 1.0)"><text x="0" y="2.70" font-size="7.5" fill="#333" text-anchor="end" letter-spacing="-0.05">400</text></g>
<line x1="165.00" y1="313.92" x2="167.20" y2="313.92" stroke="#444" stroke-width="0.8"/>
<g transform="translate(161.00 313.92) scale(1 1.0)"><text x="0" y="2.70" font-size="7.5" fill="#333" text-anchor="end" letter-spacing="-0.05">600</text></g>
<line x1="165.00" y1="297.16" x2="167.20" y2="297.16" stroke="#444" stroke-width="0.8"/>
<g transform="translate(161.00 297.16) scale(1 1.0)"><text x="0" y="2.70" font-size="7.5" fill="#333" text-anchor="end" letter-spacing="-0.05">800</text></g>
<line x1="176.40" y1="364.20" x2="176.40" y2="366.20" stroke="#444" stroke-width="0.8"/>
<line x1="195.20" y1="364.20" x2="195.20" y2="366.20" stroke="#444" stroke-width="0.8"/>
<line x1="213.50" y1="364.20" x2="213.50" y2="366.20" stroke="#444" stroke-width="0.8"/>
<line x1="231.80" y1="364.20" x2="231.80" y2="366.20" stroke="#444" stroke-width="0.8"/>
<g transform="translate(176.90 371.70) scale(1 1.07)"><text x="0" y="2.83" font-size="7.85" fill="#333" text-anchor="middle" letter-spacing="-0.05">CR</text></g>
<g transform="translate(195.30 371.70) scale(1 1.07)"><text x="0" y="2.83" font-size="7.85" fill="#333" text-anchor="middle" letter-spacing="-0.05">PR<tspan font-size="4.8" dy="1.6">TD</tspan></text></g>
<g transform="translate(214.00 371.70) scale(1 1.07)"><text x="0" y="2.83" font-size="7.85" fill="#333" text-anchor="middle" letter-spacing="-0.05">PR</text></g>
<g transform="translate(232.60 371.70) scale(1 1.07)"><text x="0" y="2.83" font-size="7.85" fill="#333" text-anchor="middle" letter-spacing="-0.05">NR</text></g>
<g transform="translate(129.90 332.00) rotate(-90) scale(1 1.07)"><text x="0" y="2.81" font-size="7.8" fill="#333" text-anchor="middle" letter-spacing="-0.05">AUC log<tspan font-size="4.8" dy="1.5">10</tspan><tspan dy="-1.5"> CAR</tspan></text></g>
<g transform="translate(137.40 332.00) rotate(-90) scale(1 1.07)"><text x="0" y="2.70" font-size="7.5" fill="#333" text-anchor="middle" letter-spacing="-0.05">(copies/µg)</text></g>
<circle cx="173.40" cy="312.90" r="2.1" fill="#2e3b8e" stroke="#10164a" stroke-width="0.7"/>
<circle cx="179.80" cy="316.40" r="2.1" fill="#2e3b8e" stroke="#10164a" stroke-width="0.7"/>
<circle cx="176.90" cy="318.00" r="2.1" fill="#2e3b8e" stroke="#10164a" stroke-width="0.7"/>
<circle cx="172.60" cy="320.20" r="2.1" fill="#2e3b8e" stroke="#10164a" stroke-width="0.7"/>
<circle cx="176.00" cy="321.00" r="2.1" fill="#2e3b8e" stroke="#10164a" stroke-width="0.7"/>
<circle cx="174.90" cy="324.00" r="2.1" fill="#2e3b8e" stroke="#10164a" stroke-width="0.7"/>
<circle cx="178.40" cy="326.30" r="2.1" fill="#2e3b8e" stroke="#10164a" stroke-width="0.7"/>
<circle cx="176.40" cy="334.00" r="2.1" fill="#2e3b8e" stroke="#10164a" stroke-width="0.7"/>
<line x1="170.80" y1="322.00" x2="182.50" y2="322.00" stroke="#222" stroke-width="0.9"/>
<circle cx="191.70" cy="322.50" r="2.1" fill="#3aa040" stroke="#0f4a12" stroke-width="0.7"/>
<circle cx="197.80" cy="320.20" r="2.1" fill="#3aa040" stroke="#0f4a12" stroke-width="0.7"/>
<line x1="191.00" y1="320.80" x2="201.00" y2="320.80" stroke="#222" stroke-width="0.9"/>
<circle cx="213.50" cy="315.70" r="2.1" fill="#d83a3a" stroke="#7a1010" stroke-width="0.7"/>
<circle cx="216.80" cy="323.30" r="2.1" fill="#d83a3a" stroke="#7a1010" stroke-width="0.7"/>
<circle cx="210.40" cy="328.90" r="2.1" fill="#d83a3a" stroke="#7a1010" stroke-width="0.7"/>
<circle cx="213.50" cy="341.90" r="2.1" fill="#d83a3a" stroke="#7a1010" stroke-width="0.7"/>
<circle cx="213.50" cy="350.70" r="2.1" fill="#d83a3a" stroke="#7a1010" stroke-width="0.7"/>
<line x1="207.40" y1="332.40" x2="219.60" y2="332.40" stroke="#222" stroke-width="0.9"/>
<line x1="213.50" y1="325.60" x2="213.50" y2="338.20" stroke="#222" stroke-width="0.9"/>
<line x1="210.80" y1="325.60" x2="216.20" y2="325.60" stroke="#222" stroke-width="0.9"/>
<line x1="210.80" y1="338.20" x2="216.20" y2="338.20" stroke="#222" stroke-width="0.9"/>
<circle cx="229.30" cy="334.70" r="2.1" fill="#111" stroke="#000" stroke-width="0.7"/>
<circle cx="235.10" cy="339.30" r="2.1" fill="#111" stroke="#000" stroke-width="0.7"/>
<circle cx="229.00" cy="346.40" r="2.1" fill="#111" stroke="#000" stroke-width="0.7"/>
<circle cx="232.00" cy="349.50" r="2.1" fill="#111" stroke="#000" stroke-width="0.7"/>
<circle cx="235.40" cy="349.50" r="2.1" fill="#111" stroke="#000" stroke-width="0.7"/>
<circle cx="228.70" cy="350.70" r="2.1" fill="#111" stroke="#000" stroke-width="0.7"/>
<circle cx="238.10" cy="355.60" r="2.1" fill="#111" stroke="#000" stroke-width="0.7"/>
<circle cx="235.10" cy="359.10" r="2.1" fill="#111" stroke="#000" stroke-width="0.7"/>
<circle cx="229.00" cy="361.40" r="2.1" fill="#111" stroke="#000" stroke-width="0.7"/>
<circle cx="232.80" cy="362.60" r="2.1" fill="#111" stroke="#000" stroke-width="0.7"/>
<line x1="226.30" y1="351.50" x2="237.80" y2="351.50" stroke="#222" stroke-width="0.9"/>
<text x="259.60" y="226.00" font-size="10" font-weight="bold" fill="#111">e</text>
<g transform="translate(329.80 232.00) scale(1 1.07)"><text x="0" y="2.83" font-size="7.85" fill="#333" text-anchor="middle" letter-spacing="-0.05">Patient 1</text></g>
<g transform="translate(427.80 232.00) scale(1 1.07)"><text x="0" y="2.83" font-size="7.85" fill="#333" text-anchor="middle" letter-spacing="-0.05">Patient 2</text></g>
<g transform="translate(500.80 225.90) scale(1 1.07)"><text x="0" y="2.83" font-size="7.85" fill="#333" text-anchor="middle" letter-spacing="-0.05">Control</text></g>
<g transform="translate(500.80 236.00) scale(1 1.07)"><text x="0" y="2.83" font-size="7.85" fill="#333" text-anchor="middle" letter-spacing="-0.05">subject</text></g>
<g transform="translate(305.50 247.00) scale(1 1.07)"><text x="0" y="2.83" font-size="7.85" fill="#333" text-anchor="middle" letter-spacing="-0.05">Year 1</text></g>
<g transform="translate(354.40 247.00) scale(1 1.07)"><text x="0" y="2.83" font-size="7.85" fill="#333" text-anchor="middle" letter-spacing="-0.05">Year 5.5</text></g>
<g transform="translate(403.10 247.00) scale(1 1.07)"><text x="0" y="2.83" font-size="7.85" fill="#333" text-anchor="middle" letter-spacing="-0.05">Year 1</text></g>
<g transform="translate(451.70 247.00) scale(1 1.07)"><text x="0" y="2.83" font-size="7.85" fill="#333" text-anchor="middle" letter-spacing="-0.05">Year 5.5</text></g>
<path d="M315.2 286.6h0.7v0.7h-0.7zM315.9 285.8h0.7v0.7h-0.7zM313.2 291.0h0.7v0.7h-0.7zM314.2 292.0h0.7v0.7h-0.7zM313.0 285.0h0.7v0.7h-0.7zM314.1 291.4h0.7v0.7h-0.7zM313.8 292.1h0.7v0.7h-0.7zM316.3 275.8h0.7v0.7h-0.7zM316.0 291.8h0.7v0.7h-0.7zM315.4 286.8h0.7v0.7h-0.7zM313.2 290.6h0.7v0.7h-0.7zM315.1 292.1h0.7v0.7h-0.7zM316.7 286.0h0.7v0.7h-0.7zM312.2 277.9h0.7v0.7h-0.7zM314.2 290.2h0.7v0.7h-0.7zM311.0 283.6h0.7v0.7h-0.7zM312.4 286.0h0.7v0.7h-0.7zM311.1 284.4h0.7v0.7h-0.7zM314.7 286.0h0.7v0.7h-0.7zM312.4 274.1h0.7v0.7h-0.7zM315.5 289.5h0.7v0.7h-0.7zM314.8 294.7h0.7v0.7h-0.7zM314.0 288.1h0.7v0.7h-0.7zM315.1 277.2h0.7v0.7h-0.7zM315.4 282.6h0.7v0.7h-0.7zM311.8 280.8h0.7v0.7h-0.7zM314.1 285.0h0.7v0.7h-0.7zM313.0 288.5h0.7v0.7h-0.7zM313.4 276.0h0.7v0.7h-0.7zM317.5 290.1h0.7v0.7h-0.7zM313.4 278.9h0.7v0.7h-0.7zM315.1 289.8h0.7v0.7h-0.7zM317.1 287.3h0.7v0.7h-0.7zM313.9 286.1h0.7v0.7h-0.7zM315.0 287.6h0.7v0.7h-0.7zM315.4 284.8h0.7v0.7h-0.7zM315.3 284.3h0.7v0.7h-0.7zM312.5 277.9h0.7v0.7h-0.7zM315.4 287.8h0.7v0.7h-0.7zM315.5 292.2h0.7v0.7h-0.7zM313.8 283.9h0.7v0.7h-0.7zM316.9 287.7h0.7v0.7h-0.7zM312.6 287.6h0.7v0.7h-0.7zM315.4 286.3h0.7v0.7h-0.7zM316.5 288.6h0.7v0.7h-0.7zM314.8 285.4h0.7v0.7h-0.7zM316.7 287.5h0.7v0.7h-0.7zM315.1 281.5h0.7v0.7h-0.7zM316.7 285.8h0.7v0.7h-0.7zM313.7 287.6h0.7v0.7h-0.7zM315.6 286.6h0.7v0.7h-0.7zM314.2 291.2h0.7v0.7h-0.7zM315.5 292.2h0.7v0.7h-0.7zM312.6 281.3h0.7v0.7h-0.7zM313.9 286.8h0.7v0.7h-0.7zM314.8 293.5h0.7v0.7h-0.7zM317.2 289.6h0.7v0.7h-0.7zM317.7 288.7h0.7v0.7h-0.7zM313.5 283.9h0.7v0.7h-0.7zM316.6 288.5h0.7v0.7h-0.7zM310.8 284.9h0.7v0.7h-0.7zM315.0 276.3h0.7v0.7h-0.7zM318.0 284.0h0.7v0.7h-0.7zM316.7 284.8h0.7v0.7h-0.7zM314.5 292.0h0.7v0.7h-0.7zM314.4 291.6h0.7v0.7h-0.7zM318.6 278.6h0.7v0.7h-0.7zM314.3 292.5h0.7v0.7h-0.7zM314.5 286.2h0.7v0.7h-0.7zM316.0 284.0h0.7v0.7h-0.7zM314.9 291.2h0.7v0.7h-0.7zM314.8 282.5h0.7v0.7h-0.7zM312.7 275.5h0.7v0.7h-0.7zM315.2 285.8h0.7v0.7h-0.7zM314.2 279.0h0.7v0.7h-0.7zM317.8 284.1h0.7v0.7h-0.7zM316.6 290.2h0.7v0.7h-0.7zM315.1 289.9h0.7v0.7h-0.7zM314.5 286.8h0.7v0.7h-0.7zM317.5 278.8h0.7v0.7h-0.7zM315.2 283.5h0.7v0.7h-0.7zM316.5 282.5h0.7v0.7h-0.7zM312.4 280.7h0.7v0.7h-0.7zM316.0 290.6h0.7v0.7h-0.7zM311.5 284.1h0.7v0.7h-0.7zM310.7 276.1h0.7v0.7h-0.7zM314.5 292.2h0.7v0.7h-0.7zM313.2 287.3h0.7v0.7h-0.7zM315.6 290.1h0.7v0.7h-0.7zM320.1 288.6h0.7v0.7h-0.7zM313.4 291.8h0.7v0.7h-0.7zM313.8 288.2h0.7v0.7h-0.7zM316.3 290.5h0.7v0.7h-0.7zM314.8 290.4h0.7v0.7h-0.7zM314.7 290.5h0.7v0.7h-0.7zM316.7 279.3h0.7v0.7h-0.7zM316.3 287.0h0.7v0.7h-0.7zM312.9 286.4h0.7v0.7h-0.7zM315.0 289.2h0.7v0.7h-0.7zM315.3 279.8h0.7v0.7h-0.7zM315.8 288.6h0.7v0.7h-0.7zM313.3 280.7h0.7v0.7h-0.7zM317.3 277.7h0.7v0.7h-0.7zM315.6 286.3h0.7v0.7h-0.7zM315.4 287.5h0.7v0.7h-0.7zM313.9 283.7h0.7v0.7h-0.7zM314.9 288.6h0.7v0.7h-0.7zM310.8 284.2h0.7v0.7h-0.7zM312.7 291.3h0.7v0.7h-0.7zM316.0 283.7h0.7v0.7h-0.7zM310.5 287.8h0.7v0.7h-0.7zM317.1 293.9h0.7v0.7h-0.7zM316.9 282.0h0.7v0.7h-0.7zM313.3 285.2h0.7v0.7h-0.7zM316.9 283.0h0.7v0.7h-0.7zM315.5 292.7h0.7v0.7h-0.7zM311.8 281.1h0.7v0.7h-0.7zM317.9 285.1h0.7v0.7h-0.7zM318.4 287.8h0.7v0.7h-0.7zM315.1 282.1h0.7v0.7h-0.7zM314.6 282.3h0.7v0.7h-0.7zM314.8 285.1h0.7v0.7h-0.7zM313.1 275.4h0.7v0.7h-0.7zM317.6 279.3h0.7v0.7h-0.7zM314.0 285.5h0.7v0.7h-0.7zM315.1 288.9h0.7v0.7h-0.7zM313.5 286.9h0.7v0.7h-0.7zM313.8 277.4h0.7v0.7h-0.7zM312.4 285.2h0.7v0.7h-0.7zM318.0 292.8h0.7v0.7h-0.7zM314.9 291.3h0.7v0.7h-0.7zM317.3 287.5h0.7v0.7h-0.7zM315.2 282.7h0.7v0.7h-0.7zM313.7 291.8h0.7v0.7h-0.7zM314.5 284.5h0.7v0.7h-0.7zM314.0 281.0h0.7v0.7h-0.7zM315.2 283.2h0.7v0.7h-0.7zM314.5 289.3h0.7v0.7h-0.7zM312.2 295.0h0.7v0.7h-0.7zM313.4 285.1h0.7v0.7h-0.7zM318.8 293.6h0.7v0.7h-0.7zM313.7 284.4h0.7v0.7h-0.7zM312.9 287.1h0.7v0.7h-0.7zM318.3 292.6h0.7v0.7h-0.7zM312.0 285.0h0.7v0.7h-0.7zM314.7 287.5h0.7v0.7h-0.7zM313.8 290.0h0.7v0.7h-0.7zM316.8 285.1h0.7v0.7h-0.7zM315.1 277.6h0.7v0.7h-0.7zM315.4 286.3h0.7v0.7h-0.7zM313.5 288.1h0.7v0.7h-0.7zM316.2 288.7h0.7v0.7h-0.7zM314.9 289.9h0.7v0.7h-0.7zM312.8 292.9h0.7v0.7h-0.7zM312.5 281.4h0.7v0.7h-0.7zM318.1 293.2h0.7v0.7h-0.7zM315.8 292.6h0.7v0.7h-0.7zM315.1 289.5h0.7v0.7h-0.7zM314.2 288.9h0.7v0.7h-0.7zM316.6 282.4h0.7v0.7h-0.7zM314.5 287.3h0.7v0.7h-0.7zM314.9 290.8h0.7v0.7h-0.7zM315.2 292.5h0.7v0.7h-0.7zM317.8 285.4h0.7v0.7h-0.7zM316.7 289.8h0.7v0.7h-0.7zM316.0 286.3h0.7v0.7h-0.7zM314.0 288.7h0.7v0.7h-0.7zM312.2 287.2h0.7v0.7h-0.7zM317.3 281.2h0.7v0.7h-0.7zM317.3 287.9h0.7v0.7h-0.7zM314.9 293.3h0.7v0.7h-0.7zM316.4 282.2h0.7v0.7h-0.7zM316.9 286.6h0.7v0.7h-0.7zM317.0 292.0h0.7v0.7h-0.7zM317.2 281.6h0.7v0.7h-0.7zM314.2 289.1h0.7v0.7h-0.7zM318.5 281.6h0.7v0.7h-0.7zM312.5 294.8h0.7v0.7h-0.7zM317.1 286.7h0.7v0.7h-0.7zM319.3 292.4h0.7v0.7h-0.7zM318.5 288.7h0.7v0.7h-0.7zM312.7 288.6h0.7v0.7h-0.7zM317.0 280.1h0.7v0.7h-0.7zM313.0 294.3h0.7v0.7h-0.7zM315.2 287.7h0.7v0.7h-0.7zM311.6 289.1h0.7v0.7h-0.7zM310.6 284.0h0.7v0.7h-0.7zM315.8 289.7h0.7v0.7h-0.7zM315.3 292.4h0.7v0.7h-0.7zM314.7 288.2h0.7v0.7h-0.7zM315.3 290.9h0.7v0.7h-0.7zM313.3 284.9h0.7v0.7h-0.7zM311.9 275.2h0.7v0.7h-0.7zM314.8 293.4h0.7v0.7h-0.7zM313.1 292.2h0.7v0.7h-0.7zM311.6 288.9h0.7v0.7h-0.7zM316.3 288.4h0.7v0.7h-0.7zM315.1 294.2h0.7v0.7h-0.7zM316.1 285.3h0.7v0.7h-0.7zM313.0 283.8h0.7v0.7h-0.7zM313.8 286.9h0.7v0.7h-0.7zM313.2 279.7h0.7v0.7h-0.7zM313.5 284.2h0.7v0.7h-0.7zM316.0 281.4h0.7v0.7h-0.7zM319.7 287.4h0.7v0.7h-0.7zM312.1 280.2h0.7v0.7h-0.7zM317.2 285.8h0.7v0.7h-0.7zM315.0 293.6h0.7v0.7h-0.7zM312.0 285.4h0.7v0.7h-0.7zM314.2 290.4h0.7v0.7h-0.7zM316.8 292.3h0.7v0.7h-0.7zM315.0 284.1h0.7v0.7h-0.7zM315.4 290.1h0.7v0.7h-0.7zM314.6 287.8h0.7v0.7h-0.7zM317.7 284.8h0.7v0.7h-0.7zM315.2 285.0h0.7v0.7h-0.7zM310.4 288.4h0.7v0.7h-0.7zM313.7 288.2h0.7v0.7h-0.7zM310.9 284.6h0.7v0.7h-0.7zM308.0 285.4h0.7v0.7h-0.7zM314.0 294.7h0.7v0.7h-0.7zM318.1 289.3h0.7v0.7h-0.7zM315.3 293.3h0.7v0.7h-0.7zM313.1 291.5h0.7v0.7h-0.7zM315.5 283.0h0.7v0.7h-0.7zM315.3 292.9h0.7v0.7h-0.7zM315.1 286.1h0.7v0.7h-0.7zM316.4 276.3h0.7v0.7h-0.7zM315.7 282.2h0.7v0.7h-0.7zM312.9 292.0h0.7v0.7h-0.7zM316.3 292.7h0.7v0.7h-0.7zM313.7 292.4h0.7v0.7h-0.7zM317.6 287.6h0.7v0.7h-0.7zM312.4 290.7h0.7v0.7h-0.7zM314.9 291.9h0.7v0.7h-0.7zM315.2 287.5h0.7v0.7h-0.7zM312.3 294.2h0.7v0.7h-0.7zM319.0 274.4h0.7v0.7h-0.7zM318.4 291.8h0.7v0.7h-0.7zM314.2 281.8h0.7v0.7h-0.7zM316.9 293.8h0.7v0.7h-0.7zM316.0 286.6h0.7v0.7h-0.7zM309.5 282.7h0.7v0.7h-0.7zM315.8 290.2h0.7v0.7h-0.7zM315.1 282.5h0.7v0.7h-0.7zM315.4 282.5h0.7v0.7h-0.7zM312.8 278.6h0.7v0.7h-0.7zM314.6 287.8h0.7v0.7h-0.7zM314.8 291.0h0.7v0.7h-0.7zM317.8 294.1h0.7v0.7h-0.7zM315.9 287.1h0.7v0.7h-0.7zM315.2 294.3h0.7v0.7h-0.7zM318.6 288.1h0.7v0.7h-0.7zM314.0 287.4h0.7v0.7h-0.7zM314.3 291.4h0.7v0.7h-0.7zM311.2 294.4h0.7v0.7h-0.7zM318.7 286.0h0.7v0.7h-0.7zM317.3 286.5h0.7v0.7h-0.7zM317.2 287.0h0.7v0.7h-0.7zM316.7 288.5h0.7v0.7h-0.7zM315.4 282.6h0.7v0.7h-0.7zM315.7 294.2h0.7v0.7h-0.7zM314.6 285.6h0.7v0.7h-0.7zM314.8 290.8h0.7v0.7h-0.7zM315.3 283.0h0.7v0.7h-0.7zM318.5 290.2h0.7v0.7h-0.7zM316.4 290.3h0.7v0.7h-0.7zM315.1 285.5h0.7v0.7h-0.7zM313.8 290.2h0.7v0.7h-0.7zM316.3 293.8h0.7v0.7h-0.7zM315.3 284.0h0.7v0.7h-0.7zM314.4 285.7h0.7v0.7h-0.7zM312.8 290.6h0.7v0.7h-0.7zM315.1 288.4h0.7v0.7h-0.7zM317.1 288.3h0.7v0.7h-0.7zM314.3 286.3h0.7v0.7h-0.7zM314.7 277.1h0.7v0.7h-0.7zM314.7 286.6h0.7v0.7h-0.7zM315.4 274.7h0.7v0.7h-0.7zM311.7 290.2h0.7v0.7h-0.7zM314.7 283.6h0.7v0.7h-0.7zM313.3 283.7h0.7v0.7h-0.7zM317.1 286.7h0.7v0.7h-0.7zM313.5 289.6h0.7v0.7h-0.7zM316.5 279.4h0.7v0.7h-0.7zM318.6 277.5h0.7v0.7h-0.7zM314.5 281.6h0.7v0.7h-0.7zM313.9 275.7h0.7v0.7h-0.7zM315.6 282.2h0.7v0.7h-0.7zM313.0 281.7h0.7v0.7h-0.7zM316.2 291.9h0.7v0.7h-0.7zM319.6 279.8h0.7v0.7h-0.7zM314.6 289.8h0.7v0.7h-0.7zM314.8 286.1h0.7v0.7h-0.7zM312.9 287.6h0.7v0.7h-0.7zM315.9 291.4h0.7v0.7h-0.7zM312.8 289.2h0.7v0.7h-0.7zM318.0 288.7h0.7v0.7h-0.7zM313.2 282.2h0.7v0.7h-0.7zM317.6 291.5h0.7v0.7h-0.7zM318.6 286.5h0.7v0.7h-0.7zM315.8 293.0h0.7v0.7h-0.7zM316.4 287.7h0.7v0.7h-0.7zM314.8 276.1h0.7v0.7h-0.7zM313.9 286.2h0.7v0.7h-0.7zM312.2 293.3h0.7v0.7h-0.7zM315.3 285.9h0.7v0.7h-0.7zM318.5 283.2h0.7v0.7h-0.7zM317.3 286.4h0.7v0.7h-0.7zM313.1 279.7h0.7v0.7h-0.7zM313.3 288.7h0.7v0.7h-0.7zM315.8 294.9h0.7v0.7h-0.7zM314.7 281.3h0.7v0.7h-0.7zM315.7 282.8h0.7v0.7h-0.7zM315.9 285.6h0.7v0.7h-0.7zM314.5 294.0h0.7v0.7h-0.7zM315.1 283.1h0.7v0.7h-0.7zM315.7 283.9h0.7v0.7h-0.7zM315.0 293.3h0.7v0.7h-0.7zM316.3 293.2h0.7v0.7h-0.7zM319.3 285.8h0.7v0.7h-0.7zM316.5 281.3h0.7v0.7h-0.7zM315.3 278.7h0.7v0.7h-0.7zM311.5 283.8h0.7v0.7h-0.7zM316.1 274.6h0.7v0.7h-0.7zM310.9 292.5h0.7v0.7h-0.7zM312.1 284.2h0.7v0.7h-0.7zM317.1 290.9h0.7v0.7h-0.7zM311.4 281.1h0.7v0.7h-0.7zM314.4 293.2h0.7v0.7h-0.7zM313.7 294.9h0.7v0.7h-0.7zM316.6 283.5h0.7v0.7h-0.7zM320.2 282.3h0.7v0.7h-0.7zM315.7 287.3h0.7v0.7h-0.7zM313.5 278.4h0.7v0.7h-0.7zM315.1 273.6h0.7v0.7h-0.7zM314.8 281.4h0.7v0.7h-0.7zM312.7 286.4h0.7v0.7h-0.7zM315.5 286.6h0.7v0.7h-0.7zM312.7 289.0h0.7v0.7h-0.7zM317.6 289.6h0.7v0.7h-0.7zM317.5 286.7h0.7v0.7h-0.7zM317.6 294.8h0.7v0.7h-0.7zM314.2 275.2h0.7v0.7h-0.7zM316.3 288.0h0.7v0.7h-0.7zM314.9 283.7h0.7v0.7h-0.7zM314.3 288.8h0.7v0.7h-0.7zM314.5 289.3h0.7v0.7h-0.7zM312.3 282.5h0.7v0.7h-0.7zM312.0 284.2h0.7v0.7h-0.7zM316.9 292.8h0.7v0.7h-0.7zM314.8 290.1h0.7v0.7h-0.7zM315.7 283.9h0.7v0.7h-0.7zM313.5 279.2h0.7v0.7h-0.7zM315.6 289.8h0.7v0.7h-0.7zM314.4 292.7h0.7v0.7h-0.7zM317.5 289.3h0.7v0.7h-0.7zM315.7 286.8h0.7v0.7h-0.7zM312.5 284.8h0.7v0.7h-0.7zM313.2 286.7h0.7v0.7h-0.7zM317.0 284.7h0.7v0.7h-0.7zM316.2 292.5h0.7v0.7h-0.7zM311.0 285.6h0.7v0.7h-0.7zM318.2 285.4h0.7v0.7h-0.7zM316.5 280.8h0.7v0.7h-0.7zM318.2 287.7h0.7v0.7h-0.7zM314.4 282.6h0.7v0.7h-0.7zM314.5 286.9h0.7v0.7h-0.7zM312.7 294.3h0.7v0.7h-0.7zM320.8 290.2h0.7v0.7h-0.7zM314.8 291.0h0.7v0.7h-0.7zM318.7 290.1h0.7v0.7h-0.7zM313.8 288.4h0.7v0.7h-0.7zM315.6 287.2h0.7v0.7h-0.7zM311.5 286.2h0.7v0.7h-0.7zM314.4 292.6h0.7v0.7h-0.7zM317.4 281.5h0.7v0.7h-0.7zM317.6 288.2h0.7v0.7h-0.7zM315.9 283.5h0.7v0.7h-0.7zM312.9 285.1h0.7v0.7h-0.7zM314.1 283.9h0.7v0.7h-0.7zM314.2 289.0h0.7v0.7h-0.7zM315.1 283.7h0.7v0.7h-0.7zM314.0 294.9h0.7v0.7h-0.7zM313.4 283.3h0.7v0.7h-0.7zM314.5 274.4h0.7v0.7h-0.7zM312.9 283.6h0.7v0.7h-0.7zM312.4 275.9h0.7v0.7h-0.7zM315.1 287.8h0.7v0.7h-0.7zM317.1 294.4h0.7v0.7h-0.7zM311.8 291.9h0.7v0.7h-0.7zM315.2 280.0h0.7v0.7h-0.7zM313.8 283.4h0.7v0.7h-0.7zM317.1 289.9h0.7v0.7h-0.7zM314.1 288.0h0.7v0.7h-0.7zM318.5 294.3h0.7v0.7h-0.7zM314.7 288.8h0.7v0.7h-0.7zM313.5 290.1h0.7v0.7h-0.7zM316.5 291.7h0.7v0.7h-0.7zM314.9 284.3h0.7v0.7h-0.7zM316.5 281.6h0.7v0.7h-0.7zM315.1 288.3h0.7v0.7h-0.7zM312.8 282.3h0.7v0.7h-0.7zM315.0 287.6h0.7v0.7h-0.7zM315.3 288.6h0.7v0.7h-0.7zM313.2 282.9h0.7v0.7h-0.7zM315.1 287.3h0.7v0.7h-0.7zM311.4 287.0h0.7v0.7h-0.7zM316.6 290.6h0.7v0.7h-0.7zM312.8 294.3h0.7v0.7h-0.7zM311.2 285.1h0.7v0.7h-0.7zM315.1 283.1h0.7v0.7h-0.7zM317.6 278.2h0.7v0.7h-0.7zM311.8 282.4h0.7v0.7h-0.7zM312.8 291.2h0.7v0.7h-0.7zM313.6 288.3h0.7v0.7h-0.7zM312.7 281.9h0.7v0.7h-0.7zM316.0 285.8h0.7v0.7h-0.7zM313.4 288.2h0.7v0.7h-0.7zM313.6 291.0h0.7v0.7h-0.7zM316.5 284.4h0.7v0.7h-0.7zM313.5 286.5h0.7v0.7h-0.7zM316.2 277.1h0.7v0.7h-0.7zM313.1 281.1h0.7v0.7h-0.7zM311.2 274.9h0.7v0.7h-0.7zM319.3 286.0h0.7v0.7h-0.7zM314.5 289.3h0.7v0.7h-0.7zM315.7 285.8h0.7v0.7h-0.7zM315.1 283.2h0.7v0.7h-0.7zM315.6 287.6h0.7v0.7h-0.7zM315.3 288.0h0.7v0.7h-0.7zM319.4 287.5h0.7v0.7h-0.7zM312.9 276.7h0.7v0.7h-0.7zM311.8 287.1h0.7v0.7h-0.7zM313.0 282.9h0.7v0.7h-0.7zM312.3 284.7h0.7v0.7h-0.7zM316.8 289.4h0.7v0.7h-0.7zM317.0 291.8h0.7v0.7h-0.7zM313.1 293.4h0.7v0.7h-0.7zM312.1 285.0h0.7v0.7h-0.7zM314.4 293.5h0.7v0.7h-0.7zM309.0 294.8h0.7v0.7h-0.7zM312.8 287.1h0.7v0.7h-0.7zM317.5 287.0h0.7v0.7h-0.7zM312.8 293.0h0.7v0.7h-0.7zM314.6 279.8h0.7v0.7h-0.7zM311.9 289.3h0.7v0.7h-0.7zM313.1 284.8h0.7v0.7h-0.7zM318.2 285.8h0.7v0.7h-0.7zM317.0 277.6h0.7v0.7h-0.7zM314.3 282.7h0.7v0.7h-0.7zM313.3 287.9h0.7v0.7h-0.7zM311.0 293.3h0.7v0.7h-0.7zM314.3 293.9h0.7v0.7h-0.7zM315.1 287.5h0.7v0.7h-0.7zM315.0 286.9h0.7v0.7h-0.7zM315.0 283.0h0.7v0.7h-0.7zM312.7 290.4h0.7v0.7h-0.7zM315.1 286.5h0.7v0.7h-0.7zM315.1 291.6h0.7v0.7h-0.7zM319.3 287.8h0.7v0.7h-0.7zM314.9 279.0h0.7v0.7h-0.7zM313.5 282.8h0.7v0.7h-0.7zM315.1 279.3h0.7v0.7h-0.7zM313.9 280.8h0.7v0.7h-0.7zM315.1 289.4h0.7v0.7h-0.7zM312.9 278.9h0.7v0.7h-0.7zM316.5 291.9h0.7v0.7h-0.7zM315.8 285.8h0.7v0.7h-0.7zM314.8 283.9h0.7v0.7h-0.7zM313.6 286.0h0.7v0.7h-0.7zM313.1 289.7h0.7v0.7h-0.7zM314.7 291.8h0.7v0.7h-0.7zM315.3 292.0h0.7v0.7h-0.7zM312.2 278.8h0.7v0.7h-0.7zM313.8 287.2h0.7v0.7h-0.7zM314.6 289.9h0.7v0.7h-0.7zM310.6 285.7h0.7v0.7h-0.7zM315.4 293.5h0.7v0.7h-0.7zM315.5 285.8h0.7v0.7h-0.7zM314.9 282.4h0.7v0.7h-0.7zM314.4 292.0h0.7v0.7h-0.7zM313.1 289.3h0.7v0.7h-0.7zM314.6 293.6h0.7v0.7h-0.7zM314.0 294.4h0.7v0.7h-0.7zM315.4 290.0h0.7v0.7h-0.7zM312.6 273.3h0.7v0.7h-0.7zM315.7 283.9h0.7v0.7h-0.7zM315.5 285.3h0.7v0.7h-0.7zM314.9 282.1h0.7v0.7h-0.7zM314.2 289.2h0.7v0.7h-0.7zM311.5 285.1h0.7v0.7h-0.7zM316.2 281.2h0.7v0.7h-0.7zM315.8 285.3h0.7v0.7h-0.7zM316.0 280.6h0.7v0.7h-0.7zM313.8 289.4h0.7v0.7h-0.7zM314.6 290.6h0.7v0.7h-0.7zM316.6 283.8h0.7v0.7h-0.7zM316.1 292.7h0.7v0.7h-0.7zM315.7 285.1h0.7v0.7h-0.7zM311.9 282.5h0.7v0.7h-0.7zM316.4 289.1h0.7v0.7h-0.7zM317.8 292.6h0.7v0.7h-0.7zM317.4 284.2h0.7v0.7h-0.7zM315.7 290.0h0.7v0.7h-0.7zM311.8 287.4h0.7v0.7h-0.7zM314.9 283.7h0.7v0.7h-0.7zM316.0 287.7h0.7v0.7h-0.7zM311.9 287.2h0.7v0.7h-0.7zM312.3 292.3h0.7v0.7h-0.7zM313.8 293.4h0.7v0.7h-0.7zM314.4 290.0h0.7v0.7h-0.7zM315.8 284.4h0.7v0.7h-0.7zM319.0 284.8h0.7v0.7h-0.7zM318.7 291.1h0.7v0.7h-0.7zM315.0 291.5h0.7v0.7h-0.7zM312.4 290.5h0.7v0.7h-0.7zM313.7 294.4h0.7v0.7h-0.7zM316.1 289.0h0.7v0.7h-0.7zM315.4 279.1h0.7v0.7h-0.7zM317.4 280.9h0.7v0.7h-0.7zM313.5 279.4h0.7v0.7h-0.7zM316.8 282.9h0.7v0.7h-0.7zM317.6 291.5h0.7v0.7h-0.7zM314.5 294.0h0.7v0.7h-0.7zM316.0 287.4h0.7v0.7h-0.7zM313.0 286.8h0.7v0.7h-0.7zM311.6 288.5h0.7v0.7h-0.7zM316.5 289.1h0.7v0.7h-0.7zM315.1 284.8h0.7v0.7h-0.7zM315.9 287.8h0.7v0.7h-0.7zM314.4 277.8h0.7v0.7h-0.7zM313.9 289.6h0.7v0.7h-0.7zM313.3 282.6h0.7v0.7h-0.7zM310.2 289.1h0.7v0.7h-0.7zM314.5 293.0h0.7v0.7h-0.7zM317.2 287.7h0.7v0.7h-0.7zM316.0 292.6h0.7v0.7h-0.7zM313.9 278.5h0.7v0.7h-0.7zM315.2 294.6h0.7v0.7h-0.7zM316.9 284.4h0.7v0.7h-0.7zM309.1 291.7h0.7v0.7h-0.7zM314.9 289.1h0.7v0.7h-0.7zM316.4 272.5h0.7v0.7h-0.7zM316.7 283.5h0.7v0.7h-0.7zM318.9 289.3h0.7v0.7h-0.7zM315.9 289.7h0.7v0.7h-0.7zM315.9 289.5h0.7v0.7h-0.7zM316.9 279.5h0.7v0.7h-0.7zM317.2 288.2h0.7v0.7h-0.7zM319.5 286.7h0.7v0.7h-0.7zM314.8 278.3h0.7v0.7h-0.7zM315.1 293.3h0.7v0.7h-0.7zM318.2 292.3h0.7v0.7h-0.7zM318.4 291.3h0.7v0.7h-0.7zM313.1 282.1h0.7v0.7h-0.7zM314.8 280.6h0.7v0.7h-0.7zM316.9 286.7h0.7v0.7h-0.7zM317.5 289.7h0.7v0.7h-0.7zM311.9 293.3h0.7v0.7h-0.7zM313.2 290.5h0.7v0.7h-0.7zM315.9 290.3h0.7v0.7h-0.7zM313.8 283.4h0.7v0.7h-0.7zM311.9 280.3h0.7v0.7h-0.7zM317.5 288.4h0.7v0.7h-0.7zM316.3 283.7h0.7v0.7h-0.7zM316.3 280.2h0.7v0.7h-0.7zM314.2 280.4h0.7v0.7h-0.7zM317.5 285.1h0.7v0.7h-0.7zM314.7 276.9h0.7v0.7h-0.7zM317.6 279.9h0.7v0.7h-0.7zM313.2 278.2h0.7v0.7h-0.7zM313.3 289.1h0.7v0.7h-0.7zM315.7 290.4h0.7v0.7h-0.7zM316.7 279.0h0.7v0.7h-0.7zM315.8 283.9h0.7v0.7h-0.7zM313.2 293.5h0.7v0.7h-0.7zM315.4 286.7h0.7v0.7h-0.7zM314.4 286.0h0.7v0.7h-0.7zM313.8 286.0h0.7v0.7h-0.7zM314.2 281.1h0.7v0.7h-0.7zM317.9 280.1h0.7v0.7h-0.7zM320.1 290.0h0.7v0.7h-0.7zM319.6 289.8h0.7v0.7h-0.7zM315.3 279.8h0.7v0.7h-0.7zM315.7 282.1h0.7v0.7h-0.7zM318.6 291.2h0.7v0.7h-0.7zM314.9 291.5h0.7v0.7h-0.7zM313.1 284.1h0.7v0.7h-0.7zM315.5 291.7h0.7v0.7h-0.7zM316.2 291.4h0.7v0.7h-0.7zM313.4 277.3h0.7v0.7h-0.7zM311.6 286.1h0.7v0.7h-0.7zM312.0 290.5h0.7v0.7h-0.7zM316.7 284.6h0.7v0.7h-0.7zM313.5 275.2h0.7v0.7h-0.7zM314.9 286.3h0.7v0.7h-0.7zM315.7 292.5h0.7v0.7h-0.7zM314.5 274.9h0.7v0.7h-0.7zM313.2 281.2h0.7v0.7h-0.7zM314.4 293.7h0.7v0.7h-0.7zM317.7 293.9h0.7v0.7h-0.7zM315.1 288.9h0.7v0.7h-0.7zM313.6 281.0h0.7v0.7h-0.7zM314.4 291.8h0.7v0.7h-0.7zM314.7 283.7h0.7v0.7h-0.7zM316.7 272.9h0.7v0.7h-0.7zM312.9 292.2h0.7v0.7h-0.7zM320.8 282.5h0.7v0.7h-0.7zM319.7 287.9h0.7v0.7h-0.7z" fill="#e02020"/>
<path d="M311,296 L311.5,284 Q312,277 315,276.5 Q318.5,277 319,284 L319.5,296Z" fill="#e02020" opacity="1"/>
<path d="M313.1 263.9h0.6v0.6h-0.6zM314.7 263.3h0.6v0.6h-0.6zM311.5 271.7h0.6v0.6h-0.6zM312.3 276.5h0.6v0.6h-0.6zM315.1 272.3h0.6v0.6h-0.6zM313.4 266.3h0.6v0.6h-0.6zM314.7 275.3h0.6v0.6h-0.6zM314.8 260.4h0.6v0.6h-0.6zM318.1 275.5h0.6v0.6h-0.6zM317.1 264.7h0.6v0.6h-0.6zM316.9 281.3h0.6v0.6h-0.6zM313.8 275.9h0.6v0.6h-0.6zM314.5 262.8h0.6v0.6h-0.6zM316.5 268.8h0.6v0.6h-0.6zM313.0 266.9h0.6v0.6h-0.6zM314.6 268.5h0.6v0.6h-0.6zM312.9 260.6h0.6v0.6h-0.6zM315.2 264.6h0.6v0.6h-0.6zM317.6 270.3h0.6v0.6h-0.6zM313.8 269.1h0.6v0.6h-0.6zM315.4 274.0h0.6v0.6h-0.6zM313.6 268.4h0.6v0.6h-0.6zM313.2 279.7h0.6v0.6h-0.6zM313.0 264.4h0.6v0.6h-0.6zM317.3 269.3h0.6v0.6h-0.6zM318.8 258.4h0.6v0.6h-0.6zM315.8 261.7h0.6v0.6h-0.6zM313.9 274.6h0.6v0.6h-0.6zM316.1 263.3h0.6v0.6h-0.6zM314.5 270.7h0.6v0.6h-0.6zM316.3 267.7h0.6v0.6h-0.6zM315.5 262.8h0.6v0.6h-0.6zM315.4 266.3h0.6v0.6h-0.6zM316.0 265.4h0.6v0.6h-0.6zM314.1 265.6h0.6v0.6h-0.6zM314.4 271.8h0.6v0.6h-0.6zM312.2 271.3h0.6v0.6h-0.6zM314.3 265.1h0.6v0.6h-0.6zM312.7 263.5h0.6v0.6h-0.6zM314.8 269.4h0.6v0.6h-0.6zM313.5 267.5h0.6v0.6h-0.6zM315.2 273.1h0.6v0.6h-0.6zM315.7 281.3h0.6v0.6h-0.6zM312.7 272.2h0.6v0.6h-0.6z" fill="#e02020"/>
<path d="M354.2 283.7h0.7v0.7h-0.7zM351.2 285.9h0.7v0.7h-0.7zM351.0 279.7h0.7v0.7h-0.7zM350.7 288.5h0.7v0.7h-0.7zM352.9 288.4h0.7v0.7h-0.7zM357.0 287.6h0.7v0.7h-0.7zM352.9 288.9h0.7v0.7h-0.7zM353.6 291.5h0.7v0.7h-0.7zM360.2 288.7h0.7v0.7h-0.7zM356.1 293.4h0.7v0.7h-0.7zM360.7 291.2h0.7v0.7h-0.7zM357.2 287.8h0.7v0.7h-0.7zM359.7 289.3h0.7v0.7h-0.7zM353.4 289.1h0.7v0.7h-0.7zM356.9 285.2h0.7v0.7h-0.7zM364.0 294.1h0.7v0.7h-0.7zM349.9 283.2h0.7v0.7h-0.7zM358.5 293.9h0.7v0.7h-0.7zM360.4 293.0h0.7v0.7h-0.7zM355.8 288.6h0.7v0.7h-0.7zM357.1 285.8h0.7v0.7h-0.7zM358.9 288.0h0.7v0.7h-0.7zM351.9 291.0h0.7v0.7h-0.7zM355.8 292.1h0.7v0.7h-0.7zM351.1 290.2h0.7v0.7h-0.7zM351.8 293.2h0.7v0.7h-0.7zM352.0 286.7h0.7v0.7h-0.7zM353.8 290.0h0.7v0.7h-0.7zM354.8 282.4h0.7v0.7h-0.7zM356.0 292.2h0.7v0.7h-0.7zM349.1 289.6h0.7v0.7h-0.7zM361.6 287.3h0.7v0.7h-0.7zM358.6 293.9h0.7v0.7h-0.7zM357.0 291.9h0.7v0.7h-0.7zM353.0 277.2h0.7v0.7h-0.7zM354.0 289.2h0.7v0.7h-0.7zM356.3 282.9h0.7v0.7h-0.7zM355.8 293.5h0.7v0.7h-0.7zM357.0 286.8h0.7v0.7h-0.7zM365.1 289.3h0.7v0.7h-0.7zM347.5 287.9h0.7v0.7h-0.7zM358.0 290.5h0.7v0.7h-0.7zM355.7 291.7h0.7v0.7h-0.7zM353.9 294.4h0.7v0.7h-0.7zM359.4 284.9h0.7v0.7h-0.7zM354.9 285.1h0.7v0.7h-0.7zM359.7 290.2h0.7v0.7h-0.7zM353.6 293.9h0.7v0.7h-0.7zM352.8 292.0h0.7v0.7h-0.7zM354.7 285.1h0.7v0.7h-0.7zM352.7 286.1h0.7v0.7h-0.7zM360.0 287.1h0.7v0.7h-0.7zM350.9 288.8h0.7v0.7h-0.7zM357.5 293.8h0.7v0.7h-0.7zM349.7 283.6h0.7v0.7h-0.7zM356.8 291.0h0.7v0.7h-0.7zM353.9 291.6h0.7v0.7h-0.7zM344.7 291.3h0.7v0.7h-0.7zM354.3 291.0h0.7v0.7h-0.7zM352.7 291.0h0.7v0.7h-0.7zM360.0 292.6h0.7v0.7h-0.7zM350.2 291.4h0.7v0.7h-0.7zM359.6 281.0h0.7v0.7h-0.7zM354.7 294.4h0.7v0.7h-0.7zM360.0 287.9h0.7v0.7h-0.7zM355.5 287.8h0.7v0.7h-0.7zM351.0 284.9h0.7v0.7h-0.7zM354.1 281.2h0.7v0.7h-0.7zM358.9 287.4h0.7v0.7h-0.7zM357.8 286.1h0.7v0.7h-0.7zM354.3 291.1h0.7v0.7h-0.7zM354.5 282.8h0.7v0.7h-0.7zM352.2 290.1h0.7v0.7h-0.7zM361.4 288.0h0.7v0.7h-0.7zM354.3 286.0h0.7v0.7h-0.7zM350.1 285.7h0.7v0.7h-0.7zM352.5 284.3h0.7v0.7h-0.7zM357.0 286.7h0.7v0.7h-0.7zM356.7 289.0h0.7v0.7h-0.7zM353.8 288.3h0.7v0.7h-0.7zM351.8 283.1h0.7v0.7h-0.7zM354.4 287.9h0.7v0.7h-0.7zM348.1 285.2h0.7v0.7h-0.7zM349.5 289.7h0.7v0.7h-0.7zM352.5 291.6h0.7v0.7h-0.7zM355.7 287.7h0.7v0.7h-0.7zM358.8 282.2h0.7v0.7h-0.7zM356.7 283.1h0.7v0.7h-0.7zM354.4 281.9h0.7v0.7h-0.7zM362.2 292.0h0.7v0.7h-0.7zM356.8 285.8h0.7v0.7h-0.7zM353.0 289.3h0.7v0.7h-0.7zM357.0 286.4h0.7v0.7h-0.7zM355.8 289.4h0.7v0.7h-0.7zM351.1 294.9h0.7v0.7h-0.7zM354.6 286.1h0.7v0.7h-0.7zM353.7 287.6h0.7v0.7h-0.7zM347.0 285.6h0.7v0.7h-0.7zM353.7 292.7h0.7v0.7h-0.7zM353.3 284.7h0.7v0.7h-0.7zM352.7 284.2h0.7v0.7h-0.7zM348.2 283.2h0.7v0.7h-0.7zM353.0 283.1h0.7v0.7h-0.7zM354.2 291.0h0.7v0.7h-0.7zM350.1 284.8h0.7v0.7h-0.7zM356.6 293.0h0.7v0.7h-0.7zM349.8 290.1h0.7v0.7h-0.7zM353.5 284.4h0.7v0.7h-0.7zM359.1 287.8h0.7v0.7h-0.7zM351.7 288.0h0.7v0.7h-0.7zM352.4 286.1h0.7v0.7h-0.7zM352.9 281.0h0.7v0.7h-0.7zM353.2 290.6h0.7v0.7h-0.7zM355.1 290.4h0.7v0.7h-0.7zM358.2 286.6h0.7v0.7h-0.7zM346.1 289.6h0.7v0.7h-0.7zM351.2 292.7h0.7v0.7h-0.7zM350.6 289.6h0.7v0.7h-0.7zM350.3 290.8h0.7v0.7h-0.7zM351.1 291.9h0.7v0.7h-0.7zM351.2 280.5h0.7v0.7h-0.7zM354.8 293.1h0.7v0.7h-0.7zM355.8 293.3h0.7v0.7h-0.7zM351.6 283.1h0.7v0.7h-0.7zM354.8 288.5h0.7v0.7h-0.7zM360.3 285.6h0.7v0.7h-0.7zM355.5 286.5h0.7v0.7h-0.7zM351.9 293.1h0.7v0.7h-0.7zM354.1 285.6h0.7v0.7h-0.7zM350.9 288.5h0.7v0.7h-0.7zM355.3 281.0h0.7v0.7h-0.7zM357.5 288.3h0.7v0.7h-0.7zM351.3 289.4h0.7v0.7h-0.7zM353.5 286.0h0.7v0.7h-0.7zM358.4 286.0h0.7v0.7h-0.7zM355.0 283.9h0.7v0.7h-0.7zM350.5 284.6h0.7v0.7h-0.7zM351.3 285.6h0.7v0.7h-0.7zM352.4 294.0h0.7v0.7h-0.7zM352.8 290.4h0.7v0.7h-0.7zM352.4 286.0h0.7v0.7h-0.7zM352.3 287.2h0.7v0.7h-0.7zM353.7 293.5h0.7v0.7h-0.7zM356.7 285.2h0.7v0.7h-0.7zM361.7 294.9h0.7v0.7h-0.7zM355.1 289.3h0.7v0.7h-0.7zM359.5 291.7h0.7v0.7h-0.7zM355.3 292.1h0.7v0.7h-0.7zM349.1 284.6h0.7v0.7h-0.7zM353.8 294.0h0.7v0.7h-0.7zM354.1 287.4h0.7v0.7h-0.7zM353.4 285.8h0.7v0.7h-0.7zM346.5 289.4h0.7v0.7h-0.7zM357.5 288.1h0.7v0.7h-0.7zM352.9 284.9h0.7v0.7h-0.7zM352.7 282.3h0.7v0.7h-0.7zM353.4 285.0h0.7v0.7h-0.7zM349.7 291.7h0.7v0.7h-0.7zM350.9 294.0h0.7v0.7h-0.7zM355.3 286.8h0.7v0.7h-0.7zM354.8 288.7h0.7v0.7h-0.7zM352.9 290.2h0.7v0.7h-0.7zM352.2 284.5h0.7v0.7h-0.7zM351.3 284.8h0.7v0.7h-0.7zM354.1 289.4h0.7v0.7h-0.7zM358.6 287.7h0.7v0.7h-0.7zM350.5 284.5h0.7v0.7h-0.7zM359.8 290.6h0.7v0.7h-0.7zM357.3 287.9h0.7v0.7h-0.7zM352.7 293.3h0.7v0.7h-0.7zM357.1 289.0h0.7v0.7h-0.7zM349.0 287.7h0.7v0.7h-0.7zM348.1 289.5h0.7v0.7h-0.7zM349.7 288.3h0.7v0.7h-0.7zM352.8 286.2h0.7v0.7h-0.7zM353.1 287.3h0.7v0.7h-0.7zM352.4 292.1h0.7v0.7h-0.7zM354.7 291.7h0.7v0.7h-0.7zM346.6 294.4h0.7v0.7h-0.7zM356.1 281.9h0.7v0.7h-0.7zM349.2 287.3h0.7v0.7h-0.7zM351.9 287.3h0.7v0.7h-0.7zM352.8 289.7h0.7v0.7h-0.7zM350.1 287.1h0.7v0.7h-0.7zM349.4 286.8h0.7v0.7h-0.7zM350.7 292.3h0.7v0.7h-0.7zM354.3 289.7h0.7v0.7h-0.7zM356.4 284.1h0.7v0.7h-0.7zM356.3 294.6h0.7v0.7h-0.7zM350.7 293.2h0.7v0.7h-0.7zM351.5 286.6h0.7v0.7h-0.7zM351.0 292.5h0.7v0.7h-0.7zM355.9 285.9h0.7v0.7h-0.7zM347.0 293.7h0.7v0.7h-0.7zM358.8 288.1h0.7v0.7h-0.7zM352.6 285.6h0.7v0.7h-0.7zM351.5 287.4h0.7v0.7h-0.7zM355.5 285.8h0.7v0.7h-0.7zM358.0 289.8h0.7v0.7h-0.7zM355.5 289.7h0.7v0.7h-0.7zM358.1 289.2h0.7v0.7h-0.7zM354.8 286.7h0.7v0.7h-0.7zM358.7 273.6h0.7v0.7h-0.7zM358.8 289.4h0.7v0.7h-0.7zM353.9 281.0h0.7v0.7h-0.7zM359.5 290.0h0.7v0.7h-0.7zM354.9 293.7h0.7v0.7h-0.7zM354.6 290.2h0.7v0.7h-0.7zM351.0 287.4h0.7v0.7h-0.7zM353.3 288.2h0.7v0.7h-0.7zM357.1 288.4h0.7v0.7h-0.7zM349.6 286.7h0.7v0.7h-0.7zM356.6 286.5h0.7v0.7h-0.7zM355.6 285.1h0.7v0.7h-0.7zM355.3 294.0h0.7v0.7h-0.7zM346.4 288.9h0.7v0.7h-0.7zM353.9 293.0h0.7v0.7h-0.7zM356.6 287.9h0.7v0.7h-0.7zM351.6 289.3h0.7v0.7h-0.7zM354.6 288.3h0.7v0.7h-0.7zM345.7 290.9h0.7v0.7h-0.7zM356.7 292.5h0.7v0.7h-0.7zM351.9 290.0h0.7v0.7h-0.7zM357.4 286.2h0.7v0.7h-0.7zM347.7 285.7h0.7v0.7h-0.7zM353.4 287.8h0.7v0.7h-0.7zM357.2 287.8h0.7v0.7h-0.7zM352.1 293.6h0.7v0.7h-0.7zM362.4 291.2h0.7v0.7h-0.7zM351.3 287.3h0.7v0.7h-0.7zM353.3 290.7h0.7v0.7h-0.7zM350.6 291.3h0.7v0.7h-0.7zM358.6 288.3h0.7v0.7h-0.7zM360.5 283.1h0.7v0.7h-0.7zM351.8 283.4h0.7v0.7h-0.7zM348.1 290.7h0.7v0.7h-0.7zM358.5 290.6h0.7v0.7h-0.7zM358.3 288.0h0.7v0.7h-0.7zM357.3 284.1h0.7v0.7h-0.7zM358.5 282.9h0.7v0.7h-0.7zM351.2 287.6h0.7v0.7h-0.7zM353.7 282.9h0.7v0.7h-0.7zM349.3 292.8h0.7v0.7h-0.7zM349.2 293.8h0.7v0.7h-0.7zM351.9 292.7h0.7v0.7h-0.7zM362.5 286.5h0.7v0.7h-0.7zM354.6 285.3h0.7v0.7h-0.7zM352.0 274.5h0.7v0.7h-0.7zM357.2 286.5h0.7v0.7h-0.7zM360.8 288.3h0.7v0.7h-0.7zM356.1 293.1h0.7v0.7h-0.7zM349.9 291.6h0.7v0.7h-0.7zM355.6 291.5h0.7v0.7h-0.7zM359.3 289.9h0.7v0.7h-0.7zM352.5 291.8h0.7v0.7h-0.7zM358.0 284.5h0.7v0.7h-0.7zM354.8 287.1h0.7v0.7h-0.7zM350.3 283.2h0.7v0.7h-0.7zM351.6 294.4h0.7v0.7h-0.7zM355.4 292.2h0.7v0.7h-0.7zM354.7 284.0h0.7v0.7h-0.7zM358.4 289.7h0.7v0.7h-0.7zM356.9 288.0h0.7v0.7h-0.7zM348.7 289.3h0.7v0.7h-0.7zM355.8 288.2h0.7v0.7h-0.7zM357.5 291.2h0.7v0.7h-0.7zM355.9 287.3h0.7v0.7h-0.7zM358.0 292.6h0.7v0.7h-0.7zM352.3 290.0h0.7v0.7h-0.7zM350.9 287.8h0.7v0.7h-0.7zM357.6 288.5h0.7v0.7h-0.7zM350.5 287.1h0.7v0.7h-0.7zM346.5 292.4h0.7v0.7h-0.7zM358.0 287.9h0.7v0.7h-0.7zM351.7 290.2h0.7v0.7h-0.7zM353.2 287.4h0.7v0.7h-0.7zM349.3 282.8h0.7v0.7h-0.7zM349.5 292.8h0.7v0.7h-0.7zM350.1 284.6h0.7v0.7h-0.7zM353.0 291.9h0.7v0.7h-0.7zM355.6 290.8h0.7v0.7h-0.7zM346.0 282.0h0.7v0.7h-0.7zM357.0 285.0h0.7v0.7h-0.7zM350.0 286.8h0.7v0.7h-0.7zM350.5 285.6h0.7v0.7h-0.7zM356.7 284.0h0.7v0.7h-0.7zM354.0 292.1h0.7v0.7h-0.7zM348.8 288.0h0.7v0.7h-0.7zM360.9 290.6h0.7v0.7h-0.7zM351.2 287.2h0.7v0.7h-0.7zM355.2 290.3h0.7v0.7h-0.7zM355.0 285.8h0.7v0.7h-0.7zM359.4 288.9h0.7v0.7h-0.7zM352.7 291.4h0.7v0.7h-0.7zM357.9 289.2h0.7v0.7h-0.7zM351.6 287.1h0.7v0.7h-0.7zM358.3 284.4h0.7v0.7h-0.7zM351.6 289.7h0.7v0.7h-0.7zM353.0 290.4h0.7v0.7h-0.7zM361.1 287.9h0.7v0.7h-0.7zM355.4 285.8h0.7v0.7h-0.7zM354.7 291.3h0.7v0.7h-0.7zM355.6 287.7h0.7v0.7h-0.7zM351.4 290.4h0.7v0.7h-0.7zM356.9 290.6h0.7v0.7h-0.7zM350.0 278.2h0.7v0.7h-0.7zM358.4 289.5h0.7v0.7h-0.7zM358.6 286.0h0.7v0.7h-0.7zM352.2 294.8h0.7v0.7h-0.7zM352.0 287.9h0.7v0.7h-0.7zM354.9 285.7h0.7v0.7h-0.7zM354.4 288.1h0.7v0.7h-0.7zM350.8 289.7h0.7v0.7h-0.7zM356.3 286.6h0.7v0.7h-0.7zM346.9 288.8h0.7v0.7h-0.7zM352.7 283.3h0.7v0.7h-0.7zM352.8 288.1h0.7v0.7h-0.7zM353.3 292.3h0.7v0.7h-0.7zM349.9 292.0h0.7v0.7h-0.7zM356.4 290.1h0.7v0.7h-0.7zM353.7 294.0h0.7v0.7h-0.7zM352.0 293.3h0.7v0.7h-0.7zM350.0 293.5h0.7v0.7h-0.7zM355.6 288.5h0.7v0.7h-0.7zM350.8 290.1h0.7v0.7h-0.7zM354.5 289.8h0.7v0.7h-0.7zM358.1 290.3h0.7v0.7h-0.7zM358.0 289.8h0.7v0.7h-0.7zM359.9 285.7h0.7v0.7h-0.7zM353.2 280.2h0.7v0.7h-0.7zM350.4 286.2h0.7v0.7h-0.7zM358.0 280.5h0.7v0.7h-0.7zM355.4 289.3h0.7v0.7h-0.7zM358.3 289.0h0.7v0.7h-0.7zM354.3 282.0h0.7v0.7h-0.7zM358.6 291.9h0.7v0.7h-0.7zM357.3 292.6h0.7v0.7h-0.7zM356.9 289.4h0.7v0.7h-0.7zM355.1 283.9h0.7v0.7h-0.7zM355.1 293.4h0.7v0.7h-0.7zM357.9 290.9h0.7v0.7h-0.7zM352.5 290.8h0.7v0.7h-0.7zM360.5 292.9h0.7v0.7h-0.7zM353.9 286.0h0.7v0.7h-0.7zM357.8 286.5h0.7v0.7h-0.7zM354.0 285.5h0.7v0.7h-0.7zM353.4 285.8h0.7v0.7h-0.7zM361.6 288.6h0.7v0.7h-0.7zM353.2 282.9h0.7v0.7h-0.7zM349.7 284.6h0.7v0.7h-0.7zM351.7 291.4h0.7v0.7h-0.7zM353.2 288.7h0.7v0.7h-0.7zM362.1 290.6h0.7v0.7h-0.7zM355.0 281.1h0.7v0.7h-0.7zM357.7 285.7h0.7v0.7h-0.7zM350.7 286.7h0.7v0.7h-0.7zM355.6 289.1h0.7v0.7h-0.7zM356.7 286.5h0.7v0.7h-0.7zM360.8 292.9h0.7v0.7h-0.7zM351.8 288.8h0.7v0.7h-0.7zM356.5 289.1h0.7v0.7h-0.7zM355.4 289.1h0.7v0.7h-0.7zM350.6 292.0h0.7v0.7h-0.7zM354.2 287.0h0.7v0.7h-0.7zM353.4 293.7h0.7v0.7h-0.7zM345.9 290.9h0.7v0.7h-0.7zM356.5 289.6h0.7v0.7h-0.7zM356.2 289.2h0.7v0.7h-0.7zM352.7 291.2h0.7v0.7h-0.7zM349.5 293.3h0.7v0.7h-0.7zM359.6 293.0h0.7v0.7h-0.7zM355.3 290.6h0.7v0.7h-0.7zM358.0 292.7h0.7v0.7h-0.7zM359.4 289.5h0.7v0.7h-0.7zM352.4 294.3h0.7v0.7h-0.7zM357.2 288.9h0.7v0.7h-0.7zM353.4 280.3h0.7v0.7h-0.7zM354.1 294.6h0.7v0.7h-0.7zM354.0 289.5h0.7v0.7h-0.7zM354.3 284.1h0.7v0.7h-0.7zM358.3 288.2h0.7v0.7h-0.7zM354.7 285.3h0.7v0.7h-0.7zM353.3 291.1h0.7v0.7h-0.7zM355.5 282.4h0.7v0.7h-0.7zM351.1 291.3h0.7v0.7h-0.7zM352.5 287.3h0.7v0.7h-0.7zM352.3 284.6h0.7v0.7h-0.7zM353.9 279.6h0.7v0.7h-0.7zM352.1 289.3h0.7v0.7h-0.7zM361.5 287.5h0.7v0.7h-0.7zM359.1 287.3h0.7v0.7h-0.7zM355.9 280.0h0.7v0.7h-0.7zM354.1 290.8h0.7v0.7h-0.7zM355.5 281.0h0.7v0.7h-0.7zM354.0 293.9h0.7v0.7h-0.7zM355.4 286.6h0.7v0.7h-0.7zM359.4 290.8h0.7v0.7h-0.7zM354.2 288.2h0.7v0.7h-0.7zM361.9 293.6h0.7v0.7h-0.7zM351.1 291.2h0.7v0.7h-0.7zM356.8 286.5h0.7v0.7h-0.7zM350.7 292.0h0.7v0.7h-0.7zM360.8 286.9h0.7v0.7h-0.7zM353.1 281.5h0.7v0.7h-0.7zM357.6 287.5h0.7v0.7h-0.7zM358.8 286.4h0.7v0.7h-0.7zM350.3 290.4h0.7v0.7h-0.7zM353.1 282.4h0.7v0.7h-0.7zM349.3 283.3h0.7v0.7h-0.7zM354.8 286.9h0.7v0.7h-0.7zM353.9 286.8h0.7v0.7h-0.7zM353.0 289.3h0.7v0.7h-0.7zM351.8 293.7h0.7v0.7h-0.7zM352.9 287.0h0.7v0.7h-0.7zM351.6 291.1h0.7v0.7h-0.7zM356.2 291.5h0.7v0.7h-0.7zM359.8 284.4h0.7v0.7h-0.7zM347.3 290.0h0.7v0.7h-0.7zM353.9 285.0h0.7v0.7h-0.7zM352.8 293.5h0.7v0.7h-0.7zM356.1 290.9h0.7v0.7h-0.7zM350.9 289.1h0.7v0.7h-0.7zM353.8 283.4h0.7v0.7h-0.7zM350.6 289.5h0.7v0.7h-0.7zM356.8 285.8h0.7v0.7h-0.7zM354.7 292.0h0.7v0.7h-0.7zM353.7 288.5h0.7v0.7h-0.7zM355.6 285.6h0.7v0.7h-0.7zM353.4 292.9h0.7v0.7h-0.7zM348.7 292.0h0.7v0.7h-0.7zM356.4 286.5h0.7v0.7h-0.7zM355.3 293.9h0.7v0.7h-0.7zM353.7 287.7h0.7v0.7h-0.7zM357.8 287.7h0.7v0.7h-0.7zM358.7 289.5h0.7v0.7h-0.7zM350.4 285.8h0.7v0.7h-0.7zM351.5 287.1h0.7v0.7h-0.7zM359.9 288.3h0.7v0.7h-0.7zM350.0 287.9h0.7v0.7h-0.7zM352.5 288.8h0.7v0.7h-0.7zM348.6 290.6h0.7v0.7h-0.7zM354.4 292.7h0.7v0.7h-0.7zM349.7 290.2h0.7v0.7h-0.7zM357.6 290.0h0.7v0.7h-0.7zM351.8 284.0h0.7v0.7h-0.7zM354.0 294.5h0.7v0.7h-0.7zM356.6 287.3h0.7v0.7h-0.7zM357.2 287.7h0.7v0.7h-0.7zM353.1 276.4h0.7v0.7h-0.7zM354.5 293.2h0.7v0.7h-0.7zM351.3 292.4h0.7v0.7h-0.7zM360.6 292.4h0.7v0.7h-0.7zM356.6 293.1h0.7v0.7h-0.7zM354.3 288.8h0.7v0.7h-0.7zM356.9 292.9h0.7v0.7h-0.7zM356.0 285.9h0.7v0.7h-0.7zM360.9 287.5h0.7v0.7h-0.7zM359.2 293.4h0.7v0.7h-0.7zM352.4 290.6h0.7v0.7h-0.7zM354.0 283.4h0.7v0.7h-0.7zM349.7 290.5h0.7v0.7h-0.7zM355.2 288.2h0.7v0.7h-0.7zM354.8 285.6h0.7v0.7h-0.7zM364.0 290.8h0.7v0.7h-0.7zM354.7 287.3h0.7v0.7h-0.7zM346.8 282.4h0.7v0.7h-0.7zM351.9 284.3h0.7v0.7h-0.7zM349.8 282.6h0.7v0.7h-0.7zM351.2 289.9h0.7v0.7h-0.7zM353.0 291.6h0.7v0.7h-0.7zM355.5 291.7h0.7v0.7h-0.7zM353.7 283.9h0.7v0.7h-0.7zM351.1 287.6h0.7v0.7h-0.7zM357.1 289.6h0.7v0.7h-0.7zM352.4 292.4h0.7v0.7h-0.7zM352.5 286.3h0.7v0.7h-0.7zM349.3 284.1h0.7v0.7h-0.7zM351.5 293.2h0.7v0.7h-0.7zM356.6 293.6h0.7v0.7h-0.7zM348.5 290.6h0.7v0.7h-0.7zM354.0 286.4h0.7v0.7h-0.7zM356.9 290.7h0.7v0.7h-0.7zM352.9 289.5h0.7v0.7h-0.7zM355.2 292.5h0.7v0.7h-0.7zM350.3 283.8h0.7v0.7h-0.7zM359.0 289.5h0.7v0.7h-0.7zM358.3 288.3h0.7v0.7h-0.7zM355.1 284.3h0.7v0.7h-0.7zM348.0 289.9h0.7v0.7h-0.7zM350.5 289.1h0.7v0.7h-0.7zM357.8 287.3h0.7v0.7h-0.7zM360.5 290.7h0.7v0.7h-0.7zM355.4 283.0h0.7v0.7h-0.7zM358.8 288.8h0.7v0.7h-0.7zM352.1 290.8h0.7v0.7h-0.7zM353.6 290.2h0.7v0.7h-0.7zM354.3 293.5h0.7v0.7h-0.7zM355.8 284.0h0.7v0.7h-0.7zM348.8 282.7h0.7v0.7h-0.7zM357.7 290.0h0.7v0.7h-0.7zM359.1 290.9h0.7v0.7h-0.7zM349.4 291.6h0.7v0.7h-0.7zM355.6 285.3h0.7v0.7h-0.7zM351.9 292.4h0.7v0.7h-0.7zM345.8 285.4h0.7v0.7h-0.7zM357.2 282.8h0.7v0.7h-0.7zM352.6 290.4h0.7v0.7h-0.7zM361.9 292.0h0.7v0.7h-0.7zM354.8 291.4h0.7v0.7h-0.7zM354.7 290.2h0.7v0.7h-0.7zM350.6 294.1h0.7v0.7h-0.7zM351.6 284.7h0.7v0.7h-0.7zM355.7 283.2h0.7v0.7h-0.7zM352.3 295.0h0.7v0.7h-0.7zM360.3 291.1h0.7v0.7h-0.7zM357.4 289.9h0.7v0.7h-0.7zM357.2 289.7h0.7v0.7h-0.7zM356.2 286.1h0.7v0.7h-0.7zM359.5 291.8h0.7v0.7h-0.7zM354.2 291.1h0.7v0.7h-0.7zM361.0 290.6h0.7v0.7h-0.7zM350.9 293.4h0.7v0.7h-0.7zM353.4 291.1h0.7v0.7h-0.7zM349.3 292.1h0.7v0.7h-0.7zM353.1 284.1h0.7v0.7h-0.7zM356.2 291.1h0.7v0.7h-0.7zM351.9 286.8h0.7v0.7h-0.7zM354.3 288.5h0.7v0.7h-0.7zM353.0 292.7h0.7v0.7h-0.7zM351.6 293.0h0.7v0.7h-0.7zM350.0 291.6h0.7v0.7h-0.7zM354.5 282.2h0.7v0.7h-0.7zM348.1 291.1h0.7v0.7h-0.7zM354.7 284.0h0.7v0.7h-0.7zM354.4 285.5h0.7v0.7h-0.7zM351.9 291.3h0.7v0.7h-0.7zM350.7 287.8h0.7v0.7h-0.7zM349.3 292.4h0.7v0.7h-0.7zM349.5 292.3h0.7v0.7h-0.7zM359.9 292.0h0.7v0.7h-0.7zM356.5 285.2h0.7v0.7h-0.7zM353.0 286.3h0.7v0.7h-0.7zM350.1 284.5h0.7v0.7h-0.7zM358.1 286.8h0.7v0.7h-0.7zM360.5 284.4h0.7v0.7h-0.7zM350.9 286.2h0.7v0.7h-0.7zM353.2 288.1h0.7v0.7h-0.7zM358.1 284.8h0.7v0.7h-0.7zM355.5 283.0h0.7v0.7h-0.7zM361.5 283.3h0.7v0.7h-0.7zM352.2 290.9h0.7v0.7h-0.7zM356.3 289.3h0.7v0.7h-0.7z" fill="#e02020"/>
<path d="M347.6,296 L347.4,285 Q347.8,281.5 351.5,281 L356.5,279.2 Q360.6,278.8 361,283 L361.3,296Z" fill="#e02020" opacity="1"/>
<path d="M357.1 264.2h0.6v0.6h-0.6zM357.2 267.8h0.6v0.6h-0.6zM355.0 272.3h0.6v0.6h-0.6zM356.6 266.8h0.6v0.6h-0.6zM353.2 276.7h0.6v0.6h-0.6zM359.2 264.0h0.6v0.6h-0.6zM357.4 264.1h0.6v0.6h-0.6zM355.2 271.7h0.6v0.6h-0.6zM353.6 280.9h0.6v0.6h-0.6zM356.1 267.5h0.6v0.6h-0.6zM352.5 280.2h0.6v0.6h-0.6zM354.3 278.1h0.6v0.6h-0.6zM356.7 274.4h0.6v0.6h-0.6zM355.6 267.8h0.6v0.6h-0.6zM354.7 279.6h0.6v0.6h-0.6zM357.0 268.9h0.6v0.6h-0.6zM353.8 272.9h0.6v0.6h-0.6zM356.0 269.4h0.6v0.6h-0.6zM354.7 274.5h0.6v0.6h-0.6zM354.1 273.5h0.6v0.6h-0.6zM356.2 269.1h0.6v0.6h-0.6zM353.9 278.3h0.6v0.6h-0.6zM358.5 263.3h0.6v0.6h-0.6zM354.6 268.8h0.6v0.6h-0.6zM358.7 268.5h0.6v0.6h-0.6zM353.7 276.5h0.6v0.6h-0.6zM356.5 273.3h0.6v0.6h-0.6zM353.6 270.4h0.6v0.6h-0.6zM353.4 278.5h0.6v0.6h-0.6zM355.8 272.3h0.6v0.6h-0.6zM356.6 275.5h0.6v0.6h-0.6zM353.5 269.9h0.6v0.6h-0.6zM357.4 268.6h0.6v0.6h-0.6zM354.2 272.2h0.6v0.6h-0.6zM355.7 264.9h0.6v0.6h-0.6zM356.1 267.4h0.6v0.6h-0.6zM356.5 273.5h0.6v0.6h-0.6zM352.6 274.2h0.6v0.6h-0.6zM358.1 264.0h0.6v0.6h-0.6zM356.4 272.6h0.6v0.6h-0.6zM354.8 275.7h0.6v0.6h-0.6zM353.9 277.3h0.6v0.6h-0.6zM352.8 272.7h0.6v0.6h-0.6zM353.3 274.5h0.6v0.6h-0.6zM356.4 273.2h0.6v0.6h-0.6zM355.0 269.6h0.6v0.6h-0.6zM353.7 271.4h0.6v0.6h-0.6zM354.7 275.4h0.6v0.6h-0.6zM358.0 272.4h0.6v0.6h-0.6zM355.0 267.7h0.6v0.6h-0.6zM354.6 263.2h0.6v0.6h-0.6zM357.7 262.1h0.6v0.6h-0.6zM356.2 266.1h0.6v0.6h-0.6zM355.6 270.4h0.6v0.6h-0.6zM354.5 274.9h0.6v0.6h-0.6zM353.0 274.7h0.6v0.6h-0.6zM353.6 271.6h0.6v0.6h-0.6zM354.7 272.8h0.6v0.6h-0.6zM355.1 268.1h0.6v0.6h-0.6zM356.1 269.9h0.6v0.6h-0.6zM356.4 267.2h0.6v0.6h-0.6zM355.9 280.0h0.6v0.6h-0.6zM355.9 273.3h0.6v0.6h-0.6zM353.9 270.7h0.6v0.6h-0.6zM352.1 273.2h0.6v0.6h-0.6zM354.7 270.8h0.6v0.6h-0.6zM354.0 267.7h0.6v0.6h-0.6zM354.5 270.1h0.6v0.6h-0.6zM355.1 269.1h0.6v0.6h-0.6zM353.5 277.5h0.6v0.6h-0.6z" fill="#e02020"/>
<path d="M408.9 266.8h0.7v0.7h-0.7zM407.8 272.2h0.7v0.7h-0.7zM406.2 266.5h0.7v0.7h-0.7zM406.7 290.6h0.7v0.7h-0.7zM410.0 286.5h0.7v0.7h-0.7zM409.6 287.3h0.7v0.7h-0.7zM413.6 273.1h0.7v0.7h-0.7zM408.3 270.5h0.7v0.7h-0.7zM413.4 281.7h0.7v0.7h-0.7zM411.0 281.9h0.7v0.7h-0.7zM410.2 273.3h0.7v0.7h-0.7zM404.2 282.3h0.7v0.7h-0.7zM406.3 286.8h0.7v0.7h-0.7zM412.4 283.1h0.7v0.7h-0.7zM414.4 271.6h0.7v0.7h-0.7zM410.8 262.0h0.7v0.7h-0.7zM412.5 278.7h0.7v0.7h-0.7zM409.0 282.5h0.7v0.7h-0.7zM409.1 278.7h0.7v0.7h-0.7zM408.2 277.1h0.7v0.7h-0.7zM413.1 274.8h0.7v0.7h-0.7zM411.2 287.4h0.7v0.7h-0.7zM409.5 280.5h0.7v0.7h-0.7zM409.2 282.1h0.7v0.7h-0.7zM411.9 272.3h0.7v0.7h-0.7zM411.2 275.4h0.7v0.7h-0.7zM407.7 282.5h0.7v0.7h-0.7zM415.3 272.0h0.7v0.7h-0.7zM411.0 269.7h0.7v0.7h-0.7zM410.2 278.0h0.7v0.7h-0.7zM414.6 291.8h0.7v0.7h-0.7zM413.3 282.7h0.7v0.7h-0.7zM409.9 294.1h0.7v0.7h-0.7zM411.8 279.8h0.7v0.7h-0.7zM407.0 278.2h0.7v0.7h-0.7zM408.3 268.5h0.7v0.7h-0.7zM403.4 275.8h0.7v0.7h-0.7zM413.9 293.9h0.7v0.7h-0.7zM404.5 283.9h0.7v0.7h-0.7zM412.2 287.6h0.7v0.7h-0.7zM407.7 287.3h0.7v0.7h-0.7zM407.3 280.9h0.7v0.7h-0.7zM409.6 279.2h0.7v0.7h-0.7zM411.0 282.1h0.7v0.7h-0.7zM412.0 287.0h0.7v0.7h-0.7zM415.5 285.1h0.7v0.7h-0.7zM411.3 285.4h0.7v0.7h-0.7zM412.8 282.4h0.7v0.7h-0.7zM408.4 274.1h0.7v0.7h-0.7zM412.3 278.6h0.7v0.7h-0.7zM410.7 272.5h0.7v0.7h-0.7zM408.8 290.0h0.7v0.7h-0.7zM409.9 262.1h0.7v0.7h-0.7zM410.0 279.0h0.7v0.7h-0.7zM411.4 277.9h0.7v0.7h-0.7zM408.7 270.8h0.7v0.7h-0.7zM408.0 280.8h0.7v0.7h-0.7zM412.4 292.6h0.7v0.7h-0.7zM405.1 279.6h0.7v0.7h-0.7zM408.3 286.5h0.7v0.7h-0.7zM414.9 281.9h0.7v0.7h-0.7zM402.1 277.6h0.7v0.7h-0.7zM412.3 281.6h0.7v0.7h-0.7zM405.2 276.2h0.7v0.7h-0.7zM418.0 276.6h0.7v0.7h-0.7zM402.4 284.4h0.7v0.7h-0.7zM414.5 284.7h0.7v0.7h-0.7zM414.9 287.9h0.7v0.7h-0.7zM412.9 282.3h0.7v0.7h-0.7zM409.5 268.1h0.7v0.7h-0.7zM411.3 285.8h0.7v0.7h-0.7zM407.5 278.2h0.7v0.7h-0.7zM412.6 278.4h0.7v0.7h-0.7zM406.8 267.7h0.7v0.7h-0.7zM409.4 275.8h0.7v0.7h-0.7zM413.2 274.5h0.7v0.7h-0.7zM406.9 280.7h0.7v0.7h-0.7zM409.1 267.9h0.7v0.7h-0.7zM410.7 281.5h0.7v0.7h-0.7zM406.2 282.1h0.7v0.7h-0.7zM413.7 270.9h0.7v0.7h-0.7zM411.2 275.4h0.7v0.7h-0.7zM405.7 273.3h0.7v0.7h-0.7zM410.1 289.2h0.7v0.7h-0.7zM407.9 258.2h0.7v0.7h-0.7zM408.2 277.9h0.7v0.7h-0.7zM410.4 266.1h0.7v0.7h-0.7zM408.1 277.1h0.7v0.7h-0.7zM413.1 288.6h0.7v0.7h-0.7zM408.1 275.3h0.7v0.7h-0.7zM413.1 282.2h0.7v0.7h-0.7zM410.1 273.4h0.7v0.7h-0.7zM408.6 289.2h0.7v0.7h-0.7zM408.7 291.1h0.7v0.7h-0.7zM406.7 269.0h0.7v0.7h-0.7zM411.9 271.1h0.7v0.7h-0.7zM413.0 290.7h0.7v0.7h-0.7zM416.6 279.3h0.7v0.7h-0.7zM414.1 278.7h0.7v0.7h-0.7zM410.9 284.0h0.7v0.7h-0.7zM409.6 269.7h0.7v0.7h-0.7zM411.4 288.0h0.7v0.7h-0.7zM410.1 281.2h0.7v0.7h-0.7zM414.6 285.3h0.7v0.7h-0.7zM413.0 275.0h0.7v0.7h-0.7zM407.7 285.6h0.7v0.7h-0.7zM408.1 274.7h0.7v0.7h-0.7zM414.3 289.6h0.7v0.7h-0.7zM411.1 291.2h0.7v0.7h-0.7zM409.5 289.2h0.7v0.7h-0.7zM413.8 285.6h0.7v0.7h-0.7zM409.0 286.7h0.7v0.7h-0.7zM409.4 256.6h0.7v0.7h-0.7zM408.8 288.5h0.7v0.7h-0.7zM404.3 278.5h0.7v0.7h-0.7zM412.8 281.9h0.7v0.7h-0.7zM406.6 278.4h0.7v0.7h-0.7zM408.5 268.5h0.7v0.7h-0.7zM408.0 276.2h0.7v0.7h-0.7zM412.4 286.9h0.7v0.7h-0.7zM410.0 293.8h0.7v0.7h-0.7zM410.2 275.4h0.7v0.7h-0.7zM405.2 272.9h0.7v0.7h-0.7zM409.9 294.1h0.7v0.7h-0.7zM405.8 273.1h0.7v0.7h-0.7zM411.3 281.5h0.7v0.7h-0.7zM410.1 273.0h0.7v0.7h-0.7zM416.3 289.9h0.7v0.7h-0.7zM412.0 268.1h0.7v0.7h-0.7zM409.6 278.5h0.7v0.7h-0.7zM413.1 294.4h0.7v0.7h-0.7zM413.5 277.6h0.7v0.7h-0.7zM406.3 266.8h0.7v0.7h-0.7zM413.4 285.5h0.7v0.7h-0.7zM411.7 289.3h0.7v0.7h-0.7zM406.5 287.3h0.7v0.7h-0.7zM406.7 278.9h0.7v0.7h-0.7zM415.7 276.3h0.7v0.7h-0.7zM411.0 278.3h0.7v0.7h-0.7zM405.9 273.5h0.7v0.7h-0.7zM411.2 278.5h0.7v0.7h-0.7zM409.1 258.1h0.7v0.7h-0.7zM404.7 282.6h0.7v0.7h-0.7zM403.3 280.7h0.7v0.7h-0.7zM411.0 287.8h0.7v0.7h-0.7zM410.1 276.7h0.7v0.7h-0.7zM409.5 286.1h0.7v0.7h-0.7zM411.1 270.0h0.7v0.7h-0.7zM412.0 275.6h0.7v0.7h-0.7zM403.9 264.2h0.7v0.7h-0.7zM409.3 293.9h0.7v0.7h-0.7zM407.7 286.3h0.7v0.7h-0.7zM406.5 270.4h0.7v0.7h-0.7zM408.6 280.5h0.7v0.7h-0.7zM409.8 289.5h0.7v0.7h-0.7zM409.4 285.5h0.7v0.7h-0.7zM405.8 284.4h0.7v0.7h-0.7zM408.8 273.3h0.7v0.7h-0.7zM416.2 275.3h0.7v0.7h-0.7zM407.0 281.9h0.7v0.7h-0.7zM405.1 289.3h0.7v0.7h-0.7zM411.0 273.5h0.7v0.7h-0.7zM412.0 270.9h0.7v0.7h-0.7zM411.6 291.3h0.7v0.7h-0.7zM406.8 272.6h0.7v0.7h-0.7zM413.2 290.7h0.7v0.7h-0.7zM407.8 283.2h0.7v0.7h-0.7zM406.8 288.9h0.7v0.7h-0.7zM409.9 287.2h0.7v0.7h-0.7zM412.3 288.0h0.7v0.7h-0.7zM412.1 272.7h0.7v0.7h-0.7zM410.1 274.7h0.7v0.7h-0.7zM413.0 286.8h0.7v0.7h-0.7zM410.4 294.8h0.7v0.7h-0.7zM412.9 293.5h0.7v0.7h-0.7zM405.5 283.8h0.7v0.7h-0.7zM412.5 282.8h0.7v0.7h-0.7zM406.0 290.1h0.7v0.7h-0.7zM409.3 281.2h0.7v0.7h-0.7zM409.9 280.4h0.7v0.7h-0.7zM408.7 271.6h0.7v0.7h-0.7zM408.8 289.9h0.7v0.7h-0.7zM414.4 271.4h0.7v0.7h-0.7zM402.6 285.6h0.7v0.7h-0.7zM412.9 268.2h0.7v0.7h-0.7zM417.1 290.9h0.7v0.7h-0.7zM410.3 271.7h0.7v0.7h-0.7zM410.1 288.6h0.7v0.7h-0.7zM412.4 266.7h0.7v0.7h-0.7zM415.7 277.0h0.7v0.7h-0.7zM406.6 291.6h0.7v0.7h-0.7zM410.5 273.8h0.7v0.7h-0.7zM409.6 281.6h0.7v0.7h-0.7zM411.9 276.7h0.7v0.7h-0.7zM410.7 260.2h0.7v0.7h-0.7zM412.2 283.8h0.7v0.7h-0.7zM408.9 284.9h0.7v0.7h-0.7zM410.3 271.0h0.7v0.7h-0.7zM408.2 286.2h0.7v0.7h-0.7zM408.2 273.8h0.7v0.7h-0.7zM409.8 272.0h0.7v0.7h-0.7zM409.8 281.1h0.7v0.7h-0.7zM406.7 274.9h0.7v0.7h-0.7zM409.8 267.0h0.7v0.7h-0.7zM406.0 287.6h0.7v0.7h-0.7zM413.5 289.9h0.7v0.7h-0.7zM408.0 263.2h0.7v0.7h-0.7zM411.7 265.4h0.7v0.7h-0.7zM410.1 286.1h0.7v0.7h-0.7zM411.0 276.7h0.7v0.7h-0.7zM410.7 284.5h0.7v0.7h-0.7zM408.5 291.3h0.7v0.7h-0.7zM410.3 277.7h0.7v0.7h-0.7zM416.3 271.4h0.7v0.7h-0.7zM403.5 256.4h0.7v0.7h-0.7zM410.4 282.8h0.7v0.7h-0.7zM411.5 272.6h0.7v0.7h-0.7zM407.0 283.8h0.7v0.7h-0.7zM406.1 283.1h0.7v0.7h-0.7zM416.7 268.5h0.7v0.7h-0.7zM416.4 290.7h0.7v0.7h-0.7zM411.8 288.6h0.7v0.7h-0.7zM410.4 270.3h0.7v0.7h-0.7zM411.6 277.3h0.7v0.7h-0.7zM412.1 276.1h0.7v0.7h-0.7zM413.7 277.3h0.7v0.7h-0.7zM411.5 270.9h0.7v0.7h-0.7zM410.6 284.9h0.7v0.7h-0.7zM410.7 283.1h0.7v0.7h-0.7zM414.3 284.3h0.7v0.7h-0.7zM412.7 276.4h0.7v0.7h-0.7zM407.2 292.6h0.7v0.7h-0.7zM408.3 282.7h0.7v0.7h-0.7zM411.2 256.4h0.7v0.7h-0.7zM408.3 275.2h0.7v0.7h-0.7zM409.1 280.5h0.7v0.7h-0.7zM407.3 289.7h0.7v0.7h-0.7zM409.4 278.3h0.7v0.7h-0.7zM411.5 278.7h0.7v0.7h-0.7zM413.2 275.0h0.7v0.7h-0.7zM410.2 287.0h0.7v0.7h-0.7zM416.4 277.0h0.7v0.7h-0.7zM410.0 275.6h0.7v0.7h-0.7zM419.8 274.3h0.7v0.7h-0.7zM413.2 286.0h0.7v0.7h-0.7zM411.7 276.2h0.7v0.7h-0.7zM408.7 265.9h0.7v0.7h-0.7zM401.7 286.6h0.7v0.7h-0.7zM409.7 274.7h0.7v0.7h-0.7zM410.7 284.2h0.7v0.7h-0.7zM416.0 284.4h0.7v0.7h-0.7zM406.1 291.8h0.7v0.7h-0.7zM415.9 290.4h0.7v0.7h-0.7zM409.4 275.8h0.7v0.7h-0.7zM412.4 279.5h0.7v0.7h-0.7zM402.6 269.4h0.7v0.7h-0.7zM409.2 285.0h0.7v0.7h-0.7zM412.2 293.5h0.7v0.7h-0.7zM410.5 278.1h0.7v0.7h-0.7zM406.8 262.6h0.7v0.7h-0.7zM413.0 294.8h0.7v0.7h-0.7zM412.3 281.8h0.7v0.7h-0.7zM412.0 282.2h0.7v0.7h-0.7zM413.2 281.5h0.7v0.7h-0.7zM413.5 286.8h0.7v0.7h-0.7zM410.1 285.8h0.7v0.7h-0.7zM406.1 266.7h0.7v0.7h-0.7zM406.0 290.8h0.7v0.7h-0.7zM414.2 276.2h0.7v0.7h-0.7zM412.3 276.8h0.7v0.7h-0.7zM408.9 289.3h0.7v0.7h-0.7zM410.3 278.0h0.7v0.7h-0.7zM410.3 264.3h0.7v0.7h-0.7zM409.2 282.5h0.7v0.7h-0.7zM408.1 285.8h0.7v0.7h-0.7zM416.7 280.3h0.7v0.7h-0.7zM410.9 269.8h0.7v0.7h-0.7zM408.4 273.9h0.7v0.7h-0.7zM406.3 269.7h0.7v0.7h-0.7zM408.0 282.9h0.7v0.7h-0.7zM412.4 288.4h0.7v0.7h-0.7zM412.5 290.2h0.7v0.7h-0.7zM409.5 274.4h0.7v0.7h-0.7zM410.4 283.1h0.7v0.7h-0.7zM409.3 286.0h0.7v0.7h-0.7zM406.9 276.4h0.7v0.7h-0.7zM414.1 279.7h0.7v0.7h-0.7zM417.6 282.8h0.7v0.7h-0.7zM407.9 288.9h0.7v0.7h-0.7zM409.8 277.1h0.7v0.7h-0.7zM412.8 281.4h0.7v0.7h-0.7zM409.5 265.6h0.7v0.7h-0.7zM406.0 280.8h0.7v0.7h-0.7zM407.4 291.7h0.7v0.7h-0.7zM411.2 291.8h0.7v0.7h-0.7zM409.9 287.2h0.7v0.7h-0.7zM413.2 281.5h0.7v0.7h-0.7zM413.2 275.6h0.7v0.7h-0.7zM411.2 279.6h0.7v0.7h-0.7zM410.3 286.5h0.7v0.7h-0.7zM409.4 273.9h0.7v0.7h-0.7zM411.9 289.4h0.7v0.7h-0.7zM413.0 272.1h0.7v0.7h-0.7zM410.4 265.0h0.7v0.7h-0.7zM411.5 271.9h0.7v0.7h-0.7zM409.2 266.0h0.7v0.7h-0.7zM406.0 268.6h0.7v0.7h-0.7zM407.2 291.2h0.7v0.7h-0.7zM412.5 279.2h0.7v0.7h-0.7zM411.5 283.0h0.7v0.7h-0.7zM415.0 291.4h0.7v0.7h-0.7zM410.4 292.3h0.7v0.7h-0.7zM412.8 276.5h0.7v0.7h-0.7zM414.2 293.0h0.7v0.7h-0.7zM413.2 284.5h0.7v0.7h-0.7zM408.4 281.0h0.7v0.7h-0.7zM409.6 285.0h0.7v0.7h-0.7zM410.6 268.2h0.7v0.7h-0.7zM407.2 273.9h0.7v0.7h-0.7zM411.6 280.0h0.7v0.7h-0.7zM413.3 286.5h0.7v0.7h-0.7zM408.8 277.7h0.7v0.7h-0.7zM416.1 279.9h0.7v0.7h-0.7zM409.3 289.7h0.7v0.7h-0.7zM409.6 293.7h0.7v0.7h-0.7zM409.5 287.9h0.7v0.7h-0.7zM408.1 292.4h0.7v0.7h-0.7zM411.5 277.4h0.7v0.7h-0.7zM410.3 278.2h0.7v0.7h-0.7zM415.2 283.9h0.7v0.7h-0.7zM412.0 278.3h0.7v0.7h-0.7zM411.8 276.4h0.7v0.7h-0.7zM406.0 279.2h0.7v0.7h-0.7zM409.9 272.3h0.7v0.7h-0.7zM407.6 285.4h0.7v0.7h-0.7zM410.1 281.7h0.7v0.7h-0.7zM415.2 292.1h0.7v0.7h-0.7zM412.4 277.1h0.7v0.7h-0.7zM412.7 276.6h0.7v0.7h-0.7zM410.9 274.8h0.7v0.7h-0.7zM410.8 279.7h0.7v0.7h-0.7zM413.0 270.6h0.7v0.7h-0.7zM411.7 271.9h0.7v0.7h-0.7zM418.1 278.9h0.7v0.7h-0.7zM409.9 288.5h0.7v0.7h-0.7zM409.4 286.7h0.7v0.7h-0.7zM408.1 283.5h0.7v0.7h-0.7zM405.9 266.2h0.7v0.7h-0.7zM413.8 284.3h0.7v0.7h-0.7zM410.4 271.8h0.7v0.7h-0.7zM415.7 279.1h0.7v0.7h-0.7zM417.7 282.7h0.7v0.7h-0.7zM407.5 270.7h0.7v0.7h-0.7zM413.4 276.7h0.7v0.7h-0.7zM412.1 269.4h0.7v0.7h-0.7zM411.4 289.8h0.7v0.7h-0.7zM411.6 278.6h0.7v0.7h-0.7zM410.1 286.1h0.7v0.7h-0.7zM415.0 274.8h0.7v0.7h-0.7zM412.0 276.5h0.7v0.7h-0.7zM411.2 292.6h0.7v0.7h-0.7zM413.9 272.3h0.7v0.7h-0.7zM412.9 264.8h0.7v0.7h-0.7zM411.6 284.7h0.7v0.7h-0.7zM411.2 270.7h0.7v0.7h-0.7zM415.5 277.0h0.7v0.7h-0.7zM411.7 289.2h0.7v0.7h-0.7zM409.9 273.6h0.7v0.7h-0.7zM407.6 288.9h0.7v0.7h-0.7zM409.2 274.9h0.7v0.7h-0.7zM407.1 294.4h0.7v0.7h-0.7zM410.5 292.9h0.7v0.7h-0.7zM411.0 276.8h0.7v0.7h-0.7zM404.1 279.1h0.7v0.7h-0.7zM410.3 273.5h0.7v0.7h-0.7zM412.2 282.8h0.7v0.7h-0.7zM410.7 291.3h0.7v0.7h-0.7zM407.3 268.0h0.7v0.7h-0.7zM414.0 289.3h0.7v0.7h-0.7zM408.1 269.1h0.7v0.7h-0.7zM406.5 273.3h0.7v0.7h-0.7zM407.0 264.9h0.7v0.7h-0.7zM413.2 281.5h0.7v0.7h-0.7zM413.7 283.2h0.7v0.7h-0.7zM410.8 274.9h0.7v0.7h-0.7zM406.6 290.6h0.7v0.7h-0.7zM408.2 262.1h0.7v0.7h-0.7zM407.5 281.2h0.7v0.7h-0.7zM404.9 277.6h0.7v0.7h-0.7zM410.5 281.2h0.7v0.7h-0.7zM412.1 287.1h0.7v0.7h-0.7zM409.8 273.7h0.7v0.7h-0.7zM411.6 281.2h0.7v0.7h-0.7zM407.4 289.6h0.7v0.7h-0.7zM405.8 282.7h0.7v0.7h-0.7zM408.3 284.3h0.7v0.7h-0.7zM413.7 277.9h0.7v0.7h-0.7zM413.3 283.8h0.7v0.7h-0.7zM408.8 281.5h0.7v0.7h-0.7zM413.8 294.1h0.7v0.7h-0.7zM409.2 287.5h0.7v0.7h-0.7zM414.7 278.8h0.7v0.7h-0.7zM411.7 259.0h0.7v0.7h-0.7zM408.8 287.4h0.7v0.7h-0.7zM412.6 287.8h0.7v0.7h-0.7zM407.9 272.7h0.7v0.7h-0.7zM407.4 263.0h0.7v0.7h-0.7zM405.8 270.7h0.7v0.7h-0.7zM411.0 289.3h0.7v0.7h-0.7zM410.0 271.4h0.7v0.7h-0.7zM410.0 276.9h0.7v0.7h-0.7zM409.0 283.0h0.7v0.7h-0.7zM414.5 292.0h0.7v0.7h-0.7zM408.9 280.8h0.7v0.7h-0.7zM408.0 280.1h0.7v0.7h-0.7zM413.9 276.1h0.7v0.7h-0.7zM411.2 290.6h0.7v0.7h-0.7zM405.0 280.1h0.7v0.7h-0.7zM408.4 268.4h0.7v0.7h-0.7zM412.0 273.9h0.7v0.7h-0.7zM410.3 286.2h0.7v0.7h-0.7zM414.9 274.5h0.7v0.7h-0.7zM406.1 289.0h0.7v0.7h-0.7zM412.2 284.3h0.7v0.7h-0.7zM408.3 283.6h0.7v0.7h-0.7zM414.2 286.9h0.7v0.7h-0.7zM410.0 285.5h0.7v0.7h-0.7zM413.3 273.3h0.7v0.7h-0.7zM408.3 278.1h0.7v0.7h-0.7zM406.9 270.1h0.7v0.7h-0.7zM408.4 276.7h0.7v0.7h-0.7zM407.1 290.6h0.7v0.7h-0.7zM413.8 279.6h0.7v0.7h-0.7zM414.2 273.7h0.7v0.7h-0.7zM411.0 269.1h0.7v0.7h-0.7zM407.1 285.8h0.7v0.7h-0.7zM409.8 290.2h0.7v0.7h-0.7zM408.1 293.6h0.7v0.7h-0.7zM414.6 281.5h0.7v0.7h-0.7zM411.1 290.4h0.7v0.7h-0.7zM411.7 271.7h0.7v0.7h-0.7zM409.0 282.5h0.7v0.7h-0.7zM404.2 274.9h0.7v0.7h-0.7zM407.9 282.6h0.7v0.7h-0.7zM406.9 287.8h0.7v0.7h-0.7zM411.3 290.6h0.7v0.7h-0.7zM410.5 272.1h0.7v0.7h-0.7zM407.8 292.4h0.7v0.7h-0.7zM409.0 276.7h0.7v0.7h-0.7zM414.9 271.8h0.7v0.7h-0.7zM407.3 279.5h0.7v0.7h-0.7zM407.4 267.8h0.7v0.7h-0.7zM409.5 281.0h0.7v0.7h-0.7zM408.1 283.6h0.7v0.7h-0.7zM408.9 279.2h0.7v0.7h-0.7zM411.8 285.8h0.7v0.7h-0.7zM415.4 278.2h0.7v0.7h-0.7zM404.9 281.0h0.7v0.7h-0.7zM410.1 268.0h0.7v0.7h-0.7zM410.3 281.4h0.7v0.7h-0.7zM409.9 273.3h0.7v0.7h-0.7zM409.6 277.0h0.7v0.7h-0.7zM409.2 280.2h0.7v0.7h-0.7zM413.2 282.7h0.7v0.7h-0.7zM408.8 266.2h0.7v0.7h-0.7zM409.8 266.9h0.7v0.7h-0.7zM410.2 278.3h0.7v0.7h-0.7zM410.5 285.3h0.7v0.7h-0.7zM409.7 284.2h0.7v0.7h-0.7zM413.2 289.0h0.7v0.7h-0.7zM410.2 292.7h0.7v0.7h-0.7zM410.7 285.5h0.7v0.7h-0.7zM410.0 280.8h0.7v0.7h-0.7zM407.2 271.7h0.7v0.7h-0.7zM407.7 272.5h0.7v0.7h-0.7zM407.0 276.8h0.7v0.7h-0.7zM410.8 283.4h0.7v0.7h-0.7zM408.1 283.0h0.7v0.7h-0.7zM407.0 281.0h0.7v0.7h-0.7zM410.9 279.6h0.7v0.7h-0.7zM411.8 286.7h0.7v0.7h-0.7zM404.9 282.9h0.7v0.7h-0.7zM415.3 283.7h0.7v0.7h-0.7zM410.3 283.8h0.7v0.7h-0.7zM409.9 276.1h0.7v0.7h-0.7zM413.4 271.7h0.7v0.7h-0.7zM410.4 285.4h0.7v0.7h-0.7zM408.4 284.8h0.7v0.7h-0.7zM416.8 279.0h0.7v0.7h-0.7zM407.0 277.3h0.7v0.7h-0.7zM412.7 274.2h0.7v0.7h-0.7zM407.0 279.0h0.7v0.7h-0.7zM409.9 283.4h0.7v0.7h-0.7zM411.4 270.6h0.7v0.7h-0.7zM417.4 282.1h0.7v0.7h-0.7zM410.1 289.4h0.7v0.7h-0.7zM412.2 286.7h0.7v0.7h-0.7zM410.4 286.3h0.7v0.7h-0.7zM406.6 282.0h0.7v0.7h-0.7zM411.4 289.6h0.7v0.7h-0.7zM410.5 279.6h0.7v0.7h-0.7zM411.5 277.2h0.7v0.7h-0.7zM413.6 281.9h0.7v0.7h-0.7zM413.2 289.2h0.7v0.7h-0.7zM411.4 284.0h0.7v0.7h-0.7zM411.1 287.1h0.7v0.7h-0.7zM406.9 262.8h0.7v0.7h-0.7zM409.8 291.7h0.7v0.7h-0.7zM409.0 293.0h0.7v0.7h-0.7zM410.5 278.1h0.7v0.7h-0.7zM407.7 273.4h0.7v0.7h-0.7zM414.8 283.5h0.7v0.7h-0.7zM416.7 272.1h0.7v0.7h-0.7zM409.0 287.5h0.7v0.7h-0.7zM411.4 276.3h0.7v0.7h-0.7zM409.5 289.6h0.7v0.7h-0.7zM414.0 293.3h0.7v0.7h-0.7zM411.5 262.7h0.7v0.7h-0.7zM410.4 283.6h0.7v0.7h-0.7zM409.5 274.7h0.7v0.7h-0.7zM410.6 268.3h0.7v0.7h-0.7zM407.2 275.4h0.7v0.7h-0.7zM412.2 279.0h0.7v0.7h-0.7zM408.1 290.3h0.7v0.7h-0.7zM411.8 267.3h0.7v0.7h-0.7zM410.6 290.5h0.7v0.7h-0.7zM410.1 286.4h0.7v0.7h-0.7zM413.3 285.9h0.7v0.7h-0.7zM407.4 280.9h0.7v0.7h-0.7zM412.0 270.4h0.7v0.7h-0.7zM409.5 285.8h0.7v0.7h-0.7zM410.8 284.5h0.7v0.7h-0.7zM410.4 287.6h0.7v0.7h-0.7zM404.1 287.6h0.7v0.7h-0.7zM411.2 284.8h0.7v0.7h-0.7zM413.8 268.9h0.7v0.7h-0.7zM404.3 270.7h0.7v0.7h-0.7zM407.2 277.6h0.7v0.7h-0.7zM405.2 275.1h0.7v0.7h-0.7zM415.1 287.2h0.7v0.7h-0.7zM406.3 278.1h0.7v0.7h-0.7zM408.6 294.7h0.7v0.7h-0.7zM404.8 287.9h0.7v0.7h-0.7zM409.2 277.5h0.7v0.7h-0.7zM412.2 286.6h0.7v0.7h-0.7zM409.6 288.3h0.7v0.7h-0.7zM413.0 271.4h0.7v0.7h-0.7zM409.1 284.1h0.7v0.7h-0.7zM410.2 287.4h0.7v0.7h-0.7zM409.0 282.9h0.7v0.7h-0.7zM415.9 291.9h0.7v0.7h-0.7zM411.3 273.6h0.7v0.7h-0.7zM410.8 282.1h0.7v0.7h-0.7zM408.3 273.5h0.7v0.7h-0.7zM407.9 286.2h0.7v0.7h-0.7zM414.6 273.2h0.7v0.7h-0.7zM406.9 289.3h0.7v0.7h-0.7zM407.5 284.5h0.7v0.7h-0.7zM409.9 289.7h0.7v0.7h-0.7zM408.9 279.7h0.7v0.7h-0.7zM416.1 267.9h0.7v0.7h-0.7zM411.3 279.4h0.7v0.7h-0.7zM412.3 293.4h0.7v0.7h-0.7zM406.8 284.9h0.7v0.7h-0.7zM408.3 287.1h0.7v0.7h-0.7zM415.1 284.1h0.7v0.7h-0.7zM407.4 293.6h0.7v0.7h-0.7zM405.5 267.6h0.7v0.7h-0.7zM413.1 288.8h0.7v0.7h-0.7zM414.8 278.8h0.7v0.7h-0.7zM409.2 279.8h0.7v0.7h-0.7zM403.6 281.1h0.7v0.7h-0.7zM414.6 284.1h0.7v0.7h-0.7zM413.6 264.3h0.7v0.7h-0.7zM410.1 281.4h0.7v0.7h-0.7zM409.1 274.6h0.7v0.7h-0.7zM408.8 291.5h0.7v0.7h-0.7zM414.6 277.2h0.7v0.7h-0.7zM414.5 285.1h0.7v0.7h-0.7zM403.8 277.4h0.7v0.7h-0.7zM407.4 287.0h0.7v0.7h-0.7zM415.5 290.1h0.7v0.7h-0.7zM409.1 277.4h0.7v0.7h-0.7zM406.1 281.4h0.7v0.7h-0.7zM410.2 268.2h0.7v0.7h-0.7zM409.9 283.7h0.7v0.7h-0.7zM409.9 288.7h0.7v0.7h-0.7zM408.8 276.0h0.7v0.7h-0.7zM409.3 291.1h0.7v0.7h-0.7zM408.8 262.3h0.7v0.7h-0.7zM411.2 264.3h0.7v0.7h-0.7zM407.8 268.5h0.7v0.7h-0.7zM409.3 276.6h0.7v0.7h-0.7zM409.8 281.2h0.7v0.7h-0.7zM414.1 280.3h0.7v0.7h-0.7zM411.3 280.4h0.7v0.7h-0.7zM409.9 287.5h0.7v0.7h-0.7zM411.8 276.8h0.7v0.7h-0.7zM411.4 269.6h0.7v0.7h-0.7zM413.5 269.8h0.7v0.7h-0.7zM415.6 259.8h0.7v0.7h-0.7zM414.2 279.4h0.7v0.7h-0.7zM410.1 294.1h0.7v0.7h-0.7zM409.0 285.4h0.7v0.7h-0.7zM412.8 273.5h0.7v0.7h-0.7zM411.7 281.0h0.7v0.7h-0.7zM409.9 288.8h0.7v0.7h-0.7zM405.8 291.9h0.7v0.7h-0.7zM404.7 272.9h0.7v0.7h-0.7zM411.2 287.8h0.7v0.7h-0.7zM412.5 283.3h0.7v0.7h-0.7zM412.6 290.9h0.7v0.7h-0.7zM406.3 293.5h0.7v0.7h-0.7zM413.3 277.9h0.7v0.7h-0.7zM408.6 268.0h0.7v0.7h-0.7zM411.4 284.6h0.7v0.7h-0.7zM407.8 287.2h0.7v0.7h-0.7zM408.4 283.1h0.7v0.7h-0.7zM407.4 271.6h0.7v0.7h-0.7zM404.8 289.1h0.7v0.7h-0.7zM411.5 275.9h0.7v0.7h-0.7zM410.4 281.4h0.7v0.7h-0.7zM412.9 281.8h0.7v0.7h-0.7zM411.3 294.6h0.7v0.7h-0.7zM408.3 272.6h0.7v0.7h-0.7zM411.2 276.2h0.7v0.7h-0.7zM409.0 266.7h0.7v0.7h-0.7zM412.0 285.4h0.7v0.7h-0.7zM411.1 276.9h0.7v0.7h-0.7zM407.2 284.8h0.7v0.7h-0.7zM410.2 271.3h0.7v0.7h-0.7zM410.4 277.8h0.7v0.7h-0.7zM409.3 290.4h0.7v0.7h-0.7zM412.9 279.4h0.7v0.7h-0.7zM415.3 286.6h0.7v0.7h-0.7zM409.1 285.8h0.7v0.7h-0.7zM409.1 277.8h0.7v0.7h-0.7zM403.5 267.0h0.7v0.7h-0.7zM409.8 289.9h0.7v0.7h-0.7zM408.9 282.5h0.7v0.7h-0.7zM403.7 289.8h0.7v0.7h-0.7zM411.1 262.9h0.7v0.7h-0.7zM412.0 266.1h0.7v0.7h-0.7zM408.0 261.7h0.7v0.7h-0.7zM409.1 273.1h0.7v0.7h-0.7zM407.3 290.4h0.7v0.7h-0.7zM412.5 286.1h0.7v0.7h-0.7zM405.6 280.7h0.7v0.7h-0.7zM409.3 282.2h0.7v0.7h-0.7zM416.1 287.8h0.7v0.7h-0.7zM410.4 278.3h0.7v0.7h-0.7zM411.6 284.6h0.7v0.7h-0.7zM409.8 282.3h0.7v0.7h-0.7zM406.7 261.3h0.7v0.7h-0.7zM410.1 277.5h0.7v0.7h-0.7zM411.4 293.2h0.7v0.7h-0.7zM407.1 277.4h0.7v0.7h-0.7zM411.2 279.7h0.7v0.7h-0.7zM413.9 275.5h0.7v0.7h-0.7zM413.4 276.6h0.7v0.7h-0.7z" fill="#3d4fb8"/>
<path d="M404.6,296 L404.5,283 Q404.6,279.5 405.8,278.3 Q404.6,276 404.8,268.5 Q405.6,262.6 410.3,262.4 Q415.2,262.7 415.6,268.5 L415.7,277 Q416.2,279.2 416.2,283 L416.3,296Z" fill="#3d4fb8" opacity="1"/>
<path d="M456.3 288.1h0.7v0.7h-0.7zM451.6 288.3h0.7v0.7h-0.7zM449.0 284.8h0.7v0.7h-0.7zM441.9 286.1h0.7v0.7h-0.7zM450.6 291.4h0.7v0.7h-0.7zM445.8 291.1h0.7v0.7h-0.7zM446.3 288.9h0.7v0.7h-0.7zM455.2 286.3h0.7v0.7h-0.7zM454.9 291.5h0.7v0.7h-0.7zM446.0 282.4h0.7v0.7h-0.7zM455.4 287.6h0.7v0.7h-0.7zM454.1 288.0h0.7v0.7h-0.7zM449.8 285.7h0.7v0.7h-0.7zM455.0 289.5h0.7v0.7h-0.7zM447.0 286.4h0.7v0.7h-0.7zM448.4 285.9h0.7v0.7h-0.7zM448.7 291.8h0.7v0.7h-0.7zM455.5 293.5h0.7v0.7h-0.7zM448.0 289.1h0.7v0.7h-0.7zM448.6 292.6h0.7v0.7h-0.7zM449.3 291.9h0.7v0.7h-0.7zM453.2 293.6h0.7v0.7h-0.7zM455.4 288.1h0.7v0.7h-0.7zM450.1 289.9h0.7v0.7h-0.7zM448.1 288.8h0.7v0.7h-0.7zM450.8 275.6h0.7v0.7h-0.7zM452.6 283.7h0.7v0.7h-0.7zM449.3 289.0h0.7v0.7h-0.7zM453.4 291.4h0.7v0.7h-0.7zM458.7 286.8h0.7v0.7h-0.7zM450.5 293.3h0.7v0.7h-0.7zM452.6 293.9h0.7v0.7h-0.7zM457.1 287.4h0.7v0.7h-0.7zM450.3 294.4h0.7v0.7h-0.7zM448.7 290.7h0.7v0.7h-0.7zM453.8 285.3h0.7v0.7h-0.7zM454.2 294.6h0.7v0.7h-0.7zM451.9 288.4h0.7v0.7h-0.7zM452.6 287.6h0.7v0.7h-0.7zM456.8 289.4h0.7v0.7h-0.7zM455.4 286.9h0.7v0.7h-0.7zM447.7 293.1h0.7v0.7h-0.7zM452.4 291.9h0.7v0.7h-0.7zM452.8 293.6h0.7v0.7h-0.7zM454.9 291.2h0.7v0.7h-0.7zM451.7 286.0h0.7v0.7h-0.7zM450.2 288.4h0.7v0.7h-0.7zM450.9 292.3h0.7v0.7h-0.7zM446.4 287.5h0.7v0.7h-0.7zM450.4 288.1h0.7v0.7h-0.7zM454.0 286.8h0.7v0.7h-0.7zM448.9 293.4h0.7v0.7h-0.7zM450.9 291.8h0.7v0.7h-0.7zM449.1 288.9h0.7v0.7h-0.7zM448.8 288.1h0.7v0.7h-0.7zM454.8 290.6h0.7v0.7h-0.7zM450.8 292.2h0.7v0.7h-0.7zM453.9 291.9h0.7v0.7h-0.7zM448.6 287.9h0.7v0.7h-0.7zM452.7 290.6h0.7v0.7h-0.7zM446.6 292.2h0.7v0.7h-0.7zM450.7 291.9h0.7v0.7h-0.7zM450.7 277.3h0.7v0.7h-0.7zM454.3 285.6h0.7v0.7h-0.7zM453.0 286.1h0.7v0.7h-0.7zM451.8 288.1h0.7v0.7h-0.7zM455.2 289.7h0.7v0.7h-0.7zM453.0 292.5h0.7v0.7h-0.7zM454.2 291.3h0.7v0.7h-0.7zM455.0 288.5h0.7v0.7h-0.7zM452.1 289.1h0.7v0.7h-0.7zM453.5 286.7h0.7v0.7h-0.7zM450.9 290.2h0.7v0.7h-0.7zM453.7 294.9h0.7v0.7h-0.7zM456.1 290.3h0.7v0.7h-0.7zM455.3 281.2h0.7v0.7h-0.7zM451.1 290.4h0.7v0.7h-0.7zM448.0 287.5h0.7v0.7h-0.7zM452.2 288.6h0.7v0.7h-0.7zM451.9 293.0h0.7v0.7h-0.7zM456.1 290.8h0.7v0.7h-0.7zM451.0 288.0h0.7v0.7h-0.7zM451.6 292.4h0.7v0.7h-0.7zM454.8 290.7h0.7v0.7h-0.7zM450.7 289.4h0.7v0.7h-0.7zM451.8 290.1h0.7v0.7h-0.7zM458.2 290.0h0.7v0.7h-0.7zM457.4 287.7h0.7v0.7h-0.7zM454.5 287.3h0.7v0.7h-0.7zM453.3 289.1h0.7v0.7h-0.7zM449.1 285.4h0.7v0.7h-0.7zM454.2 284.2h0.7v0.7h-0.7zM452.5 293.9h0.7v0.7h-0.7zM453.1 288.1h0.7v0.7h-0.7zM450.6 288.9h0.7v0.7h-0.7zM452.3 288.5h0.7v0.7h-0.7zM451.7 289.1h0.7v0.7h-0.7zM453.4 289.1h0.7v0.7h-0.7zM457.2 289.2h0.7v0.7h-0.7zM453.6 285.9h0.7v0.7h-0.7zM446.7 292.5h0.7v0.7h-0.7zM449.0 286.4h0.7v0.7h-0.7zM447.0 292.9h0.7v0.7h-0.7zM449.6 281.7h0.7v0.7h-0.7zM454.2 285.0h0.7v0.7h-0.7zM453.7 292.8h0.7v0.7h-0.7zM450.3 288.4h0.7v0.7h-0.7zM453.2 286.5h0.7v0.7h-0.7zM449.8 290.4h0.7v0.7h-0.7zM447.5 285.0h0.7v0.7h-0.7zM447.6 289.3h0.7v0.7h-0.7zM449.4 280.6h0.7v0.7h-0.7zM457.2 287.3h0.7v0.7h-0.7zM447.8 286.5h0.7v0.7h-0.7zM456.6 291.1h0.7v0.7h-0.7zM456.8 292.3h0.7v0.7h-0.7zM451.7 285.8h0.7v0.7h-0.7zM450.3 286.8h0.7v0.7h-0.7zM452.2 281.2h0.7v0.7h-0.7zM454.6 280.0h0.7v0.7h-0.7zM452.4 294.8h0.7v0.7h-0.7zM455.7 288.7h0.7v0.7h-0.7zM456.4 286.5h0.7v0.7h-0.7zM453.5 286.2h0.7v0.7h-0.7zM453.4 284.8h0.7v0.7h-0.7zM452.1 294.1h0.7v0.7h-0.7zM453.5 288.7h0.7v0.7h-0.7zM453.7 288.2h0.7v0.7h-0.7zM453.0 280.1h0.7v0.7h-0.7zM449.4 292.2h0.7v0.7h-0.7zM459.6 287.6h0.7v0.7h-0.7zM449.0 288.1h0.7v0.7h-0.7zM449.4 295.0h0.7v0.7h-0.7zM453.3 288.0h0.7v0.7h-0.7zM445.7 293.4h0.7v0.7h-0.7zM449.6 289.0h0.7v0.7h-0.7zM447.1 286.1h0.7v0.7h-0.7zM449.0 290.9h0.7v0.7h-0.7zM451.9 286.7h0.7v0.7h-0.7zM453.4 293.7h0.7v0.7h-0.7zM456.1 292.6h0.7v0.7h-0.7zM455.1 289.2h0.7v0.7h-0.7zM456.3 291.3h0.7v0.7h-0.7zM454.3 291.1h0.7v0.7h-0.7zM450.7 288.0h0.7v0.7h-0.7zM456.1 292.4h0.7v0.7h-0.7zM450.7 288.1h0.7v0.7h-0.7zM450.2 291.3h0.7v0.7h-0.7zM457.5 285.4h0.7v0.7h-0.7zM455.0 289.4h0.7v0.7h-0.7zM453.1 290.6h0.7v0.7h-0.7zM454.9 286.0h0.7v0.7h-0.7zM455.3 287.4h0.7v0.7h-0.7zM447.7 287.0h0.7v0.7h-0.7zM452.0 291.8h0.7v0.7h-0.7zM448.3 286.3h0.7v0.7h-0.7zM452.7 290.7h0.7v0.7h-0.7zM450.0 294.8h0.7v0.7h-0.7zM456.9 290.4h0.7v0.7h-0.7zM454.1 282.9h0.7v0.7h-0.7zM449.6 289.5h0.7v0.7h-0.7zM452.2 293.0h0.7v0.7h-0.7zM448.2 287.9h0.7v0.7h-0.7zM452.4 293.2h0.7v0.7h-0.7zM454.2 291.4h0.7v0.7h-0.7zM453.2 290.6h0.7v0.7h-0.7zM445.8 288.0h0.7v0.7h-0.7zM451.2 287.1h0.7v0.7h-0.7zM454.0 288.1h0.7v0.7h-0.7zM453.3 289.3h0.7v0.7h-0.7zM456.2 291.0h0.7v0.7h-0.7zM447.9 290.6h0.7v0.7h-0.7zM454.1 287.9h0.7v0.7h-0.7zM450.1 289.3h0.7v0.7h-0.7zM453.0 290.5h0.7v0.7h-0.7zM453.7 282.9h0.7v0.7h-0.7zM454.6 286.1h0.7v0.7h-0.7zM450.3 286.0h0.7v0.7h-0.7zM452.9 288.3h0.7v0.7h-0.7zM448.3 288.0h0.7v0.7h-0.7zM447.5 288.1h0.7v0.7h-0.7zM454.2 285.7h0.7v0.7h-0.7zM452.1 291.6h0.7v0.7h-0.7zM446.8 290.1h0.7v0.7h-0.7zM449.4 282.8h0.7v0.7h-0.7zM452.4 289.1h0.7v0.7h-0.7zM457.6 284.8h0.7v0.7h-0.7zM455.0 287.3h0.7v0.7h-0.7zM446.2 287.6h0.7v0.7h-0.7zM452.0 289.4h0.7v0.7h-0.7zM453.9 288.3h0.7v0.7h-0.7zM453.6 288.8h0.7v0.7h-0.7zM453.7 294.9h0.7v0.7h-0.7zM451.5 289.9h0.7v0.7h-0.7zM458.3 292.2h0.7v0.7h-0.7zM457.3 293.3h0.7v0.7h-0.7zM452.0 285.4h0.7v0.7h-0.7zM459.3 291.7h0.7v0.7h-0.7zM450.4 292.7h0.7v0.7h-0.7zM456.4 285.8h0.7v0.7h-0.7zM458.8 292.2h0.7v0.7h-0.7zM449.1 290.6h0.7v0.7h-0.7zM453.3 287.0h0.7v0.7h-0.7zM454.1 291.2h0.7v0.7h-0.7zM453.4 288.2h0.7v0.7h-0.7zM458.9 289.8h0.7v0.7h-0.7zM454.3 292.5h0.7v0.7h-0.7zM452.3 293.4h0.7v0.7h-0.7zM456.1 291.3h0.7v0.7h-0.7zM451.4 293.7h0.7v0.7h-0.7zM451.1 294.7h0.7v0.7h-0.7zM459.9 284.4h0.7v0.7h-0.7zM449.5 287.2h0.7v0.7h-0.7zM450.6 285.5h0.7v0.7h-0.7zM452.5 289.4h0.7v0.7h-0.7zM448.7 294.6h0.7v0.7h-0.7zM445.1 291.6h0.7v0.7h-0.7zM455.9 285.1h0.7v0.7h-0.7zM449.6 288.0h0.7v0.7h-0.7zM450.5 293.0h0.7v0.7h-0.7zM451.0 287.1h0.7v0.7h-0.7zM449.0 288.7h0.7v0.7h-0.7zM448.6 290.2h0.7v0.7h-0.7zM452.8 282.2h0.7v0.7h-0.7zM460.5 292.0h0.7v0.7h-0.7zM454.8 290.4h0.7v0.7h-0.7zM454.8 291.2h0.7v0.7h-0.7zM447.2 285.4h0.7v0.7h-0.7zM452.2 286.2h0.7v0.7h-0.7zM448.3 286.8h0.7v0.7h-0.7zM454.9 290.0h0.7v0.7h-0.7zM451.5 289.3h0.7v0.7h-0.7zM452.4 289.6h0.7v0.7h-0.7zM450.3 294.0h0.7v0.7h-0.7zM447.1 286.3h0.7v0.7h-0.7zM454.3 286.6h0.7v0.7h-0.7zM448.3 287.9h0.7v0.7h-0.7zM451.3 294.3h0.7v0.7h-0.7zM453.2 287.0h0.7v0.7h-0.7zM455.7 288.1h0.7v0.7h-0.7zM453.1 289.4h0.7v0.7h-0.7zM453.0 285.8h0.7v0.7h-0.7zM452.4 285.4h0.7v0.7h-0.7zM455.2 287.6h0.7v0.7h-0.7zM446.0 292.3h0.7v0.7h-0.7zM453.5 287.4h0.7v0.7h-0.7zM449.1 288.3h0.7v0.7h-0.7zM448.1 287.3h0.7v0.7h-0.7zM452.3 283.9h0.7v0.7h-0.7zM451.0 294.7h0.7v0.7h-0.7zM454.3 280.2h0.7v0.7h-0.7zM456.0 286.6h0.7v0.7h-0.7zM444.4 291.2h0.7v0.7h-0.7zM452.1 283.8h0.7v0.7h-0.7zM459.0 291.4h0.7v0.7h-0.7zM455.2 293.8h0.7v0.7h-0.7zM457.2 285.8h0.7v0.7h-0.7zM452.6 289.9h0.7v0.7h-0.7zM447.4 284.9h0.7v0.7h-0.7zM448.5 291.0h0.7v0.7h-0.7zM454.7 289.4h0.7v0.7h-0.7zM455.6 289.9h0.7v0.7h-0.7zM449.8 294.3h0.7v0.7h-0.7zM451.4 290.9h0.7v0.7h-0.7zM453.2 294.2h0.7v0.7h-0.7zM446.3 291.5h0.7v0.7h-0.7zM451.1 284.5h0.7v0.7h-0.7zM457.8 290.1h0.7v0.7h-0.7zM459.7 290.9h0.7v0.7h-0.7zM451.9 283.6h0.7v0.7h-0.7zM458.5 294.1h0.7v0.7h-0.7zM450.5 289.3h0.7v0.7h-0.7zM449.5 290.5h0.7v0.7h-0.7zM444.7 285.7h0.7v0.7h-0.7zM455.6 289.3h0.7v0.7h-0.7zM451.0 290.2h0.7v0.7h-0.7zM460.3 287.8h0.7v0.7h-0.7zM453.4 289.4h0.7v0.7h-0.7zM452.9 281.0h0.7v0.7h-0.7zM446.2 294.2h0.7v0.7h-0.7zM457.4 284.8h0.7v0.7h-0.7zM451.1 280.8h0.7v0.7h-0.7zM451.8 285.4h0.7v0.7h-0.7zM444.8 285.9h0.7v0.7h-0.7zM455.5 291.1h0.7v0.7h-0.7zM455.7 285.6h0.7v0.7h-0.7zM450.2 290.2h0.7v0.7h-0.7zM452.6 285.4h0.7v0.7h-0.7zM455.6 291.1h0.7v0.7h-0.7zM458.2 285.2h0.7v0.7h-0.7zM451.5 291.6h0.7v0.7h-0.7zM450.2 285.4h0.7v0.7h-0.7zM450.7 291.3h0.7v0.7h-0.7zM443.7 291.6h0.7v0.7h-0.7zM449.6 283.0h0.7v0.7h-0.7zM455.7 284.7h0.7v0.7h-0.7zM453.2 284.6h0.7v0.7h-0.7zM449.5 283.3h0.7v0.7h-0.7zM453.5 286.3h0.7v0.7h-0.7zM445.4 285.4h0.7v0.7h-0.7zM451.3 283.6h0.7v0.7h-0.7zM454.1 289.4h0.7v0.7h-0.7zM454.7 291.1h0.7v0.7h-0.7zM449.7 284.1h0.7v0.7h-0.7zM455.4 286.9h0.7v0.7h-0.7zM458.7 289.1h0.7v0.7h-0.7zM450.9 288.2h0.7v0.7h-0.7zM454.8 286.4h0.7v0.7h-0.7zM447.0 292.1h0.7v0.7h-0.7zM445.6 292.3h0.7v0.7h-0.7zM454.4 291.6h0.7v0.7h-0.7zM452.5 288.3h0.7v0.7h-0.7zM451.3 287.5h0.7v0.7h-0.7zM455.1 288.6h0.7v0.7h-0.7zM458.2 293.6h0.7v0.7h-0.7zM451.6 286.0h0.7v0.7h-0.7zM446.7 290.6h0.7v0.7h-0.7zM456.7 289.2h0.7v0.7h-0.7zM454.4 286.4h0.7v0.7h-0.7zM454.6 288.2h0.7v0.7h-0.7zM452.9 283.1h0.7v0.7h-0.7zM460.2 287.0h0.7v0.7h-0.7zM452.6 281.5h0.7v0.7h-0.7zM446.0 294.8h0.7v0.7h-0.7zM450.4 293.7h0.7v0.7h-0.7zM450.0 290.2h0.7v0.7h-0.7zM452.2 292.8h0.7v0.7h-0.7zM453.5 293.9h0.7v0.7h-0.7zM449.8 292.9h0.7v0.7h-0.7zM458.2 292.5h0.7v0.7h-0.7zM448.7 285.6h0.7v0.7h-0.7zM450.8 290.7h0.7v0.7h-0.7zM453.1 287.0h0.7v0.7h-0.7zM448.1 284.5h0.7v0.7h-0.7zM454.3 284.7h0.7v0.7h-0.7zM454.5 290.6h0.7v0.7h-0.7zM451.3 293.0h0.7v0.7h-0.7zM458.8 283.8h0.7v0.7h-0.7zM453.3 294.6h0.7v0.7h-0.7zM449.1 287.6h0.7v0.7h-0.7zM446.6 287.3h0.7v0.7h-0.7zM450.2 288.7h0.7v0.7h-0.7zM451.2 292.7h0.7v0.7h-0.7zM450.8 287.6h0.7v0.7h-0.7zM454.9 284.8h0.7v0.7h-0.7zM444.2 290.3h0.7v0.7h-0.7zM448.5 281.2h0.7v0.7h-0.7zM446.1 289.5h0.7v0.7h-0.7zM456.9 293.4h0.7v0.7h-0.7zM450.4 290.2h0.7v0.7h-0.7zM450.6 292.0h0.7v0.7h-0.7zM448.6 290.9h0.7v0.7h-0.7zM455.4 291.8h0.7v0.7h-0.7zM450.9 289.6h0.7v0.7h-0.7zM453.1 285.8h0.7v0.7h-0.7zM445.4 288.1h0.7v0.7h-0.7zM456.3 288.7h0.7v0.7h-0.7zM453.7 293.8h0.7v0.7h-0.7zM456.5 290.6h0.7v0.7h-0.7zM451.7 286.1h0.7v0.7h-0.7zM451.8 286.2h0.7v0.7h-0.7zM454.8 288.3h0.7v0.7h-0.7zM453.8 294.3h0.7v0.7h-0.7zM451.5 290.3h0.7v0.7h-0.7zM452.5 288.8h0.7v0.7h-0.7zM450.6 286.1h0.7v0.7h-0.7zM454.8 292.4h0.7v0.7h-0.7zM455.5 290.1h0.7v0.7h-0.7zM452.4 288.8h0.7v0.7h-0.7zM458.7 289.4h0.7v0.7h-0.7zM451.5 288.4h0.7v0.7h-0.7zM450.9 293.7h0.7v0.7h-0.7zM446.9 289.2h0.7v0.7h-0.7zM457.1 292.4h0.7v0.7h-0.7zM454.2 288.5h0.7v0.7h-0.7zM448.3 285.9h0.7v0.7h-0.7zM455.0 288.0h0.7v0.7h-0.7zM448.9 285.6h0.7v0.7h-0.7zM447.8 290.9h0.7v0.7h-0.7zM451.8 289.1h0.7v0.7h-0.7zM450.7 291.2h0.7v0.7h-0.7zM448.6 292.1h0.7v0.7h-0.7zM451.1 277.1h0.7v0.7h-0.7zM448.9 290.2h0.7v0.7h-0.7zM452.5 282.2h0.7v0.7h-0.7zM452.3 289.6h0.7v0.7h-0.7zM454.9 285.7h0.7v0.7h-0.7zM450.8 289.4h0.7v0.7h-0.7zM447.8 294.2h0.7v0.7h-0.7zM447.8 282.5h0.7v0.7h-0.7zM451.5 289.7h0.7v0.7h-0.7zM457.6 288.7h0.7v0.7h-0.7zM455.2 281.8h0.7v0.7h-0.7zM450.2 291.5h0.7v0.7h-0.7zM455.6 289.1h0.7v0.7h-0.7zM448.4 287.1h0.7v0.7h-0.7zM455.8 286.3h0.7v0.7h-0.7zM455.0 287.5h0.7v0.7h-0.7zM454.5 282.2h0.7v0.7h-0.7zM451.4 285.5h0.7v0.7h-0.7zM453.5 287.6h0.7v0.7h-0.7zM448.7 287.5h0.7v0.7h-0.7zM452.1 288.7h0.7v0.7h-0.7zM456.0 285.0h0.7v0.7h-0.7zM466.3 291.1h0.7v0.7h-0.7zM454.7 287.2h0.7v0.7h-0.7zM452.6 283.8h0.7v0.7h-0.7zM448.9 285.9h0.7v0.7h-0.7zM456.0 287.5h0.7v0.7h-0.7zM446.7 292.2h0.7v0.7h-0.7zM449.6 290.8h0.7v0.7h-0.7zM453.6 287.7h0.7v0.7h-0.7zM448.2 289.1h0.7v0.7h-0.7zM457.6 289.8h0.7v0.7h-0.7zM450.4 286.7h0.7v0.7h-0.7zM450.4 290.8h0.7v0.7h-0.7zM447.8 291.8h0.7v0.7h-0.7zM447.6 285.4h0.7v0.7h-0.7zM453.9 289.7h0.7v0.7h-0.7zM454.5 289.6h0.7v0.7h-0.7zM453.5 287.2h0.7v0.7h-0.7zM453.2 291.2h0.7v0.7h-0.7zM450.4 292.9h0.7v0.7h-0.7zM453.6 293.3h0.7v0.7h-0.7zM447.3 288.3h0.7v0.7h-0.7zM452.4 289.7h0.7v0.7h-0.7zM456.9 284.8h0.7v0.7h-0.7zM450.8 289.8h0.7v0.7h-0.7zM451.2 292.4h0.7v0.7h-0.7zM457.0 289.6h0.7v0.7h-0.7zM458.4 291.5h0.7v0.7h-0.7zM447.2 289.7h0.7v0.7h-0.7zM450.9 291.9h0.7v0.7h-0.7zM453.1 293.9h0.7v0.7h-0.7zM456.5 288.2h0.7v0.7h-0.7zM449.5 289.8h0.7v0.7h-0.7zM454.5 288.8h0.7v0.7h-0.7zM451.3 287.5h0.7v0.7h-0.7zM460.5 288.9h0.7v0.7h-0.7zM453.8 284.7h0.7v0.7h-0.7zM451.9 291.8h0.7v0.7h-0.7zM454.7 293.8h0.7v0.7h-0.7zM448.6 285.3h0.7v0.7h-0.7zM453.1 294.8h0.7v0.7h-0.7zM447.8 286.3h0.7v0.7h-0.7zM449.8 288.8h0.7v0.7h-0.7zM447.8 284.9h0.7v0.7h-0.7zM450.0 292.2h0.7v0.7h-0.7zM449.0 290.1h0.7v0.7h-0.7zM454.1 288.4h0.7v0.7h-0.7zM455.1 285.7h0.7v0.7h-0.7zM451.5 290.6h0.7v0.7h-0.7zM448.5 287.2h0.7v0.7h-0.7zM455.1 293.0h0.7v0.7h-0.7zM445.4 293.7h0.7v0.7h-0.7zM445.8 283.8h0.7v0.7h-0.7zM454.8 287.1h0.7v0.7h-0.7zM454.6 287.8h0.7v0.7h-0.7zM455.7 284.5h0.7v0.7h-0.7zM451.6 284.8h0.7v0.7h-0.7zM448.0 289.3h0.7v0.7h-0.7zM450.6 288.2h0.7v0.7h-0.7zM454.3 282.7h0.7v0.7h-0.7zM449.7 287.0h0.7v0.7h-0.7zM450.0 291.0h0.7v0.7h-0.7zM447.6 284.4h0.7v0.7h-0.7zM448.4 285.5h0.7v0.7h-0.7zM453.9 294.0h0.7v0.7h-0.7zM448.4 282.8h0.7v0.7h-0.7zM448.7 283.9h0.7v0.7h-0.7zM450.4 290.4h0.7v0.7h-0.7zM454.2 284.5h0.7v0.7h-0.7zM448.4 288.0h0.7v0.7h-0.7zM451.8 287.3h0.7v0.7h-0.7zM445.0 291.1h0.7v0.7h-0.7zM448.1 279.4h0.7v0.7h-0.7zM453.8 280.6h0.7v0.7h-0.7zM455.4 284.3h0.7v0.7h-0.7zM448.4 292.9h0.7v0.7h-0.7zM449.7 288.4h0.7v0.7h-0.7zM455.1 282.5h0.7v0.7h-0.7zM451.0 290.9h0.7v0.7h-0.7zM450.5 291.7h0.7v0.7h-0.7zM454.1 288.1h0.7v0.7h-0.7zM453.0 287.7h0.7v0.7h-0.7zM456.1 290.7h0.7v0.7h-0.7zM455.1 293.6h0.7v0.7h-0.7zM450.4 289.6h0.7v0.7h-0.7zM451.9 291.0h0.7v0.7h-0.7zM452.1 288.8h0.7v0.7h-0.7zM447.7 287.6h0.7v0.7h-0.7zM449.0 285.5h0.7v0.7h-0.7zM455.7 290.0h0.7v0.7h-0.7zM446.9 287.9h0.7v0.7h-0.7zM455.7 288.1h0.7v0.7h-0.7zM453.3 292.5h0.7v0.7h-0.7zM451.9 290.9h0.7v0.7h-0.7zM454.2 292.3h0.7v0.7h-0.7zM454.0 283.0h0.7v0.7h-0.7zM456.5 291.1h0.7v0.7h-0.7zM451.0 286.8h0.7v0.7h-0.7zM451.6 285.9h0.7v0.7h-0.7zM451.5 285.8h0.7v0.7h-0.7zM458.8 293.6h0.7v0.7h-0.7zM455.6 292.1h0.7v0.7h-0.7zM449.2 286.3h0.7v0.7h-0.7zM451.2 284.7h0.7v0.7h-0.7zM449.9 289.1h0.7v0.7h-0.7zM452.4 287.3h0.7v0.7h-0.7zM460.2 283.4h0.7v0.7h-0.7zM446.1 282.0h0.7v0.7h-0.7zM455.9 288.0h0.7v0.7h-0.7zM453.9 289.0h0.7v0.7h-0.7zM450.0 289.5h0.7v0.7h-0.7zM451.9 291.9h0.7v0.7h-0.7zM452.5 287.7h0.7v0.7h-0.7zM455.8 286.9h0.7v0.7h-0.7zM447.2 282.3h0.7v0.7h-0.7zM456.8 289.9h0.7v0.7h-0.7zM451.1 292.2h0.7v0.7h-0.7zM457.5 288.0h0.7v0.7h-0.7zM453.8 293.5h0.7v0.7h-0.7zM456.6 289.1h0.7v0.7h-0.7zM454.3 294.8h0.7v0.7h-0.7zM456.1 290.3h0.7v0.7h-0.7zM452.6 285.0h0.7v0.7h-0.7zM449.5 286.6h0.7v0.7h-0.7zM454.7 283.2h0.7v0.7h-0.7zM454.8 282.4h0.7v0.7h-0.7zM459.5 290.0h0.7v0.7h-0.7zM445.5 292.3h0.7v0.7h-0.7zM456.0 288.8h0.7v0.7h-0.7zM448.1 288.1h0.7v0.7h-0.7zM451.6 284.8h0.7v0.7h-0.7zM459.6 292.8h0.7v0.7h-0.7zM457.2 290.5h0.7v0.7h-0.7zM449.4 286.7h0.7v0.7h-0.7zM457.2 291.6h0.7v0.7h-0.7zM456.4 291.1h0.7v0.7h-0.7zM455.0 281.9h0.7v0.7h-0.7zM453.7 291.8h0.7v0.7h-0.7zM453.2 289.5h0.7v0.7h-0.7zM449.4 287.5h0.7v0.7h-0.7zM450.6 287.4h0.7v0.7h-0.7zM452.9 294.8h0.7v0.7h-0.7zM451.3 284.6h0.7v0.7h-0.7zM444.2 286.5h0.7v0.7h-0.7zM451.3 292.4h0.7v0.7h-0.7zM453.3 284.4h0.7v0.7h-0.7zM453.7 286.3h0.7v0.7h-0.7zM452.6 282.1h0.7v0.7h-0.7zM457.5 293.0h0.7v0.7h-0.7zM450.1 290.7h0.7v0.7h-0.7zM454.8 289.8h0.7v0.7h-0.7zM451.4 287.4h0.7v0.7h-0.7zM448.3 287.5h0.7v0.7h-0.7zM457.2 291.3h0.7v0.7h-0.7zM443.9 286.3h0.7v0.7h-0.7zM449.5 293.7h0.7v0.7h-0.7zM453.9 287.1h0.7v0.7h-0.7zM451.2 285.7h0.7v0.7h-0.7zM455.0 293.9h0.7v0.7h-0.7zM452.1 288.5h0.7v0.7h-0.7zM450.9 291.1h0.7v0.7h-0.7zM459.8 287.4h0.7v0.7h-0.7z" fill="#3d4fb8"/>
<path d="M446.4,296 L446.2,287.5 Q446.6,284 450,283 L455,280 Q458.6,278 459.4,281.5 L459.7,296Z" fill="#3d4fb8" opacity="1"/>
<path d="M452.4 276.5h0.6v0.6h-0.6zM457.5 270.7h0.6v0.6h-0.6zM454.1 273.2h0.6v0.6h-0.6zM458.4 276.6h0.6v0.6h-0.6zM453.7 274.7h0.6v0.6h-0.6zM453.1 272.3h0.6v0.6h-0.6zM457.1 274.3h0.6v0.6h-0.6zM457.3 273.7h0.6v0.6h-0.6zM456.7 275.5h0.6v0.6h-0.6zM454.3 279.5h0.6v0.6h-0.6zM458.1 267.6h0.6v0.6h-0.6zM453.9 277.8h0.6v0.6h-0.6zM455.7 276.3h0.6v0.6h-0.6zM455.1 273.4h0.6v0.6h-0.6zM455.8 273.4h0.6v0.6h-0.6zM458.0 261.4h0.6v0.6h-0.6zM455.4 271.4h0.6v0.6h-0.6zM457.5 276.4h0.6v0.6h-0.6zM457.7 265.4h0.6v0.6h-0.6zM453.4 273.4h0.6v0.6h-0.6zM454.4 274.9h0.6v0.6h-0.6zM455.8 274.4h0.6v0.6h-0.6zM455.4 278.0h0.6v0.6h-0.6zM457.1 266.1h0.6v0.6h-0.6zM453.0 275.5h0.6v0.6h-0.6zM457.8 273.3h0.6v0.6h-0.6zM457.8 266.7h0.6v0.6h-0.6zM456.2 272.2h0.6v0.6h-0.6zM454.0 280.1h0.6v0.6h-0.6zM456.5 276.0h0.6v0.6h-0.6zM455.5 274.6h0.6v0.6h-0.6zM457.5 263.1h0.6v0.6h-0.6zM456.3 271.8h0.6v0.6h-0.6zM457.8 271.9h0.6v0.6h-0.6zM455.7 271.8h0.6v0.6h-0.6zM459.1 269.3h0.6v0.6h-0.6zM452.4 285.4h0.6v0.6h-0.6zM454.7 273.1h0.6v0.6h-0.6zM457.4 268.2h0.6v0.6h-0.6zM453.8 275.4h0.6v0.6h-0.6zM457.8 269.8h0.6v0.6h-0.6zM454.3 273.2h0.6v0.6h-0.6zM456.7 271.6h0.6v0.6h-0.6zM454.9 275.9h0.6v0.6h-0.6zM455.7 273.5h0.6v0.6h-0.6z" fill="#3d4fb8"/>
<path d="M494,296 L494.2,283.5 Q500,282 507.6,279.8 L507.8,296Z" fill="#0a0a0a" opacity="1"/>
<path d="M496.2 284.1h0.6v0.6h-0.6zM500.5 289.5h0.6v0.6h-0.6zM502.9 290.5h0.6v0.6h-0.6zM499.1 290.6h0.6v0.6h-0.6zM505.6 284.3h0.6v0.6h-0.6zM504.1 288.6h0.6v0.6h-0.6zM497.0 282.1h0.6v0.6h-0.6zM502.3 292.8h0.6v0.6h-0.6zM508.9 285.0h0.6v0.6h-0.6zM507.2 288.0h0.6v0.6h-0.6zM500.8 287.3h0.6v0.6h-0.6zM504.6 286.8h0.6v0.6h-0.6zM498.3 284.9h0.6v0.6h-0.6zM495.2 282.0h0.6v0.6h-0.6zM502.0 290.1h0.6v0.6h-0.6zM503.1 290.2h0.6v0.6h-0.6zM502.3 288.7h0.6v0.6h-0.6zM498.9 291.3h0.6v0.6h-0.6zM502.9 289.2h0.6v0.6h-0.6zM504.3 293.9h0.6v0.6h-0.6zM500.8 291.1h0.6v0.6h-0.6zM504.3 290.4h0.6v0.6h-0.6zM493.9 288.1h0.6v0.6h-0.6zM497.9 290.2h0.6v0.6h-0.6zM506.8 293.8h0.6v0.6h-0.6zM508.0 280.8h0.6v0.6h-0.6zM502.0 288.6h0.6v0.6h-0.6zM500.6 287.5h0.6v0.6h-0.6zM495.9 287.9h0.6v0.6h-0.6zM502.5 281.2h0.6v0.6h-0.6zM504.1 292.1h0.6v0.6h-0.6zM495.1 285.7h0.6v0.6h-0.6zM503.2 288.2h0.6v0.6h-0.6zM503.0 287.1h0.6v0.6h-0.6zM502.8 282.5h0.6v0.6h-0.6zM496.5 287.3h0.6v0.6h-0.6zM503.2 281.8h0.6v0.6h-0.6zM495.0 285.4h0.6v0.6h-0.6zM507.0 287.9h0.6v0.6h-0.6zM501.5 289.1h0.6v0.6h-0.6zM496.3 289.4h0.6v0.6h-0.6zM506.4 288.6h0.6v0.6h-0.6zM498.4 290.9h0.6v0.6h-0.6zM509.8 284.2h0.6v0.6h-0.6zM497.0 286.7h0.6v0.6h-0.6zM502.3 286.5h0.6v0.6h-0.6zM505.7 288.4h0.6v0.6h-0.6zM491.9 286.7h0.6v0.6h-0.6zM505.0 285.7h0.6v0.6h-0.6zM500.9 289.3h0.6v0.6h-0.6zM496.7 287.8h0.6v0.6h-0.6zM502.3 288.1h0.6v0.6h-0.6zM496.6 288.3h0.6v0.6h-0.6zM497.1 294.7h0.6v0.6h-0.6zM499.2 291.0h0.6v0.6h-0.6zM496.1 293.6h0.6v0.6h-0.6zM507.3 276.7h0.6v0.6h-0.6zM495.7 290.4h0.6v0.6h-0.6zM498.0 293.4h0.6v0.6h-0.6zM501.0 289.3h0.6v0.6h-0.6zM504.2 282.3h0.6v0.6h-0.6zM504.3 291.5h0.6v0.6h-0.6zM499.8 286.7h0.6v0.6h-0.6zM499.5 282.0h0.6v0.6h-0.6zM501.1 286.7h0.6v0.6h-0.6zM504.3 293.4h0.6v0.6h-0.6zM503.8 293.9h0.6v0.6h-0.6zM498.9 292.0h0.6v0.6h-0.6zM492.8 285.0h0.6v0.6h-0.6zM504.8 284.5h0.6v0.6h-0.6zM502.1 288.8h0.6v0.6h-0.6zM502.4 283.4h0.6v0.6h-0.6zM498.9 294.4h0.6v0.6h-0.6zM497.0 290.9h0.6v0.6h-0.6zM499.7 292.7h0.6v0.6h-0.6zM500.1 289.5h0.6v0.6h-0.6zM498.5 288.9h0.6v0.6h-0.6zM495.2 289.9h0.6v0.6h-0.6zM499.7 281.6h0.6v0.6h-0.6zM503.3 293.1h0.6v0.6h-0.6zM499.0 292.8h0.6v0.6h-0.6zM501.1 287.6h0.6v0.6h-0.6zM492.7 289.1h0.6v0.6h-0.6zM500.2 290.4h0.6v0.6h-0.6zM496.1 290.9h0.6v0.6h-0.6zM494.1 289.3h0.6v0.6h-0.6zM502.6 287.1h0.6v0.6h-0.6zM497.8 283.2h0.6v0.6h-0.6zM503.0 286.8h0.6v0.6h-0.6zM499.3 289.5h0.6v0.6h-0.6zM503.5 288.2h0.6v0.6h-0.6zM499.6 289.5h0.6v0.6h-0.6zM495.0 292.2h0.6v0.6h-0.6zM500.7 290.9h0.6v0.6h-0.6zM499.7 290.3h0.6v0.6h-0.6zM503.6 291.8h0.6v0.6h-0.6zM499.2 289.9h0.6v0.6h-0.6zM499.4 289.1h0.6v0.6h-0.6zM504.4 291.1h0.6v0.6h-0.6zM505.7 282.3h0.6v0.6h-0.6zM504.0 294.2h0.6v0.6h-0.6zM505.2 284.0h0.6v0.6h-0.6zM502.8 292.5h0.6v0.6h-0.6zM504.1 289.2h0.6v0.6h-0.6zM504.5 293.6h0.6v0.6h-0.6zM502.6 289.3h0.6v0.6h-0.6zM501.3 285.4h0.6v0.6h-0.6zM501.6 293.5h0.6v0.6h-0.6zM510.6 289.9h0.6v0.6h-0.6zM501.1 289.7h0.6v0.6h-0.6zM500.1 289.5h0.6v0.6h-0.6zM499.5 293.2h0.6v0.6h-0.6zM500.9 292.5h0.6v0.6h-0.6zM502.0 290.1h0.6v0.6h-0.6zM496.5 283.0h0.6v0.6h-0.6zM493.1 287.6h0.6v0.6h-0.6zM502.2 289.6h0.6v0.6h-0.6zM502.0 290.7h0.6v0.6h-0.6zM501.6 288.8h0.6v0.6h-0.6zM505.6 294.0h0.6v0.6h-0.6zM507.7 288.8h0.6v0.6h-0.6zM502.5 289.1h0.6v0.6h-0.6zM498.8 289.8h0.6v0.6h-0.6zM496.3 283.2h0.6v0.6h-0.6zM497.8 293.0h0.6v0.6h-0.6zM501.2 290.9h0.6v0.6h-0.6zM492.7 288.1h0.6v0.6h-0.6zM501.3 284.6h0.6v0.6h-0.6zM501.0 290.1h0.6v0.6h-0.6zM503.6 294.8h0.6v0.6h-0.6zM499.7 286.7h0.6v0.6h-0.6zM501.4 285.0h0.6v0.6h-0.6zM498.1 290.9h0.6v0.6h-0.6zM499.1 282.8h0.6v0.6h-0.6zM493.9 280.3h0.6v0.6h-0.6zM501.5 287.4h0.6v0.6h-0.6zM507.2 286.5h0.6v0.6h-0.6zM501.7 288.1h0.6v0.6h-0.6zM502.5 287.0h0.6v0.6h-0.6zM497.1 290.6h0.6v0.6h-0.6zM506.7 288.3h0.6v0.6h-0.6zM497.9 286.8h0.6v0.6h-0.6zM504.2 287.4h0.6v0.6h-0.6zM501.4 291.8h0.6v0.6h-0.6zM497.2 293.1h0.6v0.6h-0.6zM505.1 292.8h0.6v0.6h-0.6zM501.1 292.0h0.6v0.6h-0.6zM501.7 276.0h0.6v0.6h-0.6zM502.8 285.2h0.6v0.6h-0.6zM500.9 288.0h0.6v0.6h-0.6zM499.5 290.1h0.6v0.6h-0.6zM502.9 282.8h0.6v0.6h-0.6zM499.4 294.9h0.6v0.6h-0.6zM501.3 290.4h0.6v0.6h-0.6zM498.3 286.8h0.6v0.6h-0.6zM495.0 289.9h0.6v0.6h-0.6zM498.3 287.9h0.6v0.6h-0.6zM499.0 286.2h0.6v0.6h-0.6zM501.1 291.3h0.6v0.6h-0.6zM505.7 287.4h0.6v0.6h-0.6zM494.2 283.6h0.6v0.6h-0.6zM501.5 286.7h0.6v0.6h-0.6zM492.2 288.8h0.6v0.6h-0.6zM496.8 284.9h0.6v0.6h-0.6zM499.0 294.3h0.6v0.6h-0.6zM492.0 284.9h0.6v0.6h-0.6zM501.6 292.8h0.6v0.6h-0.6zM501.3 285.5h0.6v0.6h-0.6zM500.5 289.8h0.6v0.6h-0.6zM497.8 294.0h0.6v0.6h-0.6zM509.6 288.5h0.6v0.6h-0.6zM500.4 284.5h0.6v0.6h-0.6zM497.6 289.7h0.6v0.6h-0.6zM503.5 283.3h0.6v0.6h-0.6zM499.5 291.5h0.6v0.6h-0.6zM505.8 289.3h0.6v0.6h-0.6zM501.6 288.8h0.6v0.6h-0.6zM503.6 287.7h0.6v0.6h-0.6zM501.9 288.0h0.6v0.6h-0.6zM496.9 293.4h0.6v0.6h-0.6zM504.9 291.7h0.6v0.6h-0.6zM501.6 285.3h0.6v0.6h-0.6zM497.9 284.1h0.6v0.6h-0.6zM504.8 291.9h0.6v0.6h-0.6zM499.5 290.0h0.6v0.6h-0.6zM501.2 294.1h0.6v0.6h-0.6zM503.6 290.7h0.6v0.6h-0.6zM501.5 293.5h0.6v0.6h-0.6zM494.9 289.2h0.6v0.6h-0.6zM503.5 293.2h0.6v0.6h-0.6zM504.8 290.7h0.6v0.6h-0.6zM507.5 286.5h0.6v0.6h-0.6zM502.5 294.1h0.6v0.6h-0.6zM504.1 291.1h0.6v0.6h-0.6zM507.4 290.0h0.6v0.6h-0.6zM499.8 287.0h0.6v0.6h-0.6zM507.9 291.1h0.6v0.6h-0.6zM507.9 283.4h0.6v0.6h-0.6zM504.1 283.8h0.6v0.6h-0.6zM508.4 292.1h0.6v0.6h-0.6zM504.4 283.1h0.6v0.6h-0.6zM497.5 295.0h0.6v0.6h-0.6zM505.5 288.2h0.6v0.6h-0.6zM502.3 290.3h0.6v0.6h-0.6zM502.7 289.6h0.6v0.6h-0.6zM501.6 291.0h0.6v0.6h-0.6zM506.4 288.2h0.6v0.6h-0.6zM503.2 287.8h0.6v0.6h-0.6zM498.2 288.8h0.6v0.6h-0.6zM502.9 293.5h0.6v0.6h-0.6zM503.9 293.8h0.6v0.6h-0.6zM498.1 294.4h0.6v0.6h-0.6zM499.3 290.8h0.6v0.6h-0.6zM499.5 288.5h0.6v0.6h-0.6zM498.6 282.6h0.6v0.6h-0.6zM502.4 291.9h0.6v0.6h-0.6zM505.1 292.7h0.6v0.6h-0.6zM508.6 287.7h0.6v0.6h-0.6zM505.8 292.5h0.6v0.6h-0.6zM505.1 294.5h0.6v0.6h-0.6zM505.6 289.7h0.6v0.6h-0.6zM506.3 293.5h0.6v0.6h-0.6zM499.5 290.5h0.6v0.6h-0.6zM503.8 282.4h0.6v0.6h-0.6zM502.3 287.4h0.6v0.6h-0.6zM500.5 287.7h0.6v0.6h-0.6zM499.2 291.4h0.6v0.6h-0.6zM499.0 285.9h0.6v0.6h-0.6zM499.9 287.6h0.6v0.6h-0.6zM496.1 285.5h0.6v0.6h-0.6zM503.1 289.2h0.6v0.6h-0.6zM500.9 289.6h0.6v0.6h-0.6zM501.4 293.2h0.6v0.6h-0.6zM502.4 292.5h0.6v0.6h-0.6zM503.9 290.0h0.6v0.6h-0.6zM498.6 290.3h0.6v0.6h-0.6zM500.6 289.7h0.6v0.6h-0.6zM494.6 289.8h0.6v0.6h-0.6zM493.2 279.4h0.6v0.6h-0.6zM507.1 288.6h0.6v0.6h-0.6zM493.7 290.6h0.6v0.6h-0.6zM502.9 293.8h0.6v0.6h-0.6zM506.9 284.9h0.6v0.6h-0.6zM499.2 290.7h0.6v0.6h-0.6zM507.5 292.8h0.6v0.6h-0.6zM508.4 287.5h0.6v0.6h-0.6zM504.8 281.7h0.6v0.6h-0.6zM510.5 287.9h0.6v0.6h-0.6zM503.5 284.5h0.6v0.6h-0.6zM498.1 291.9h0.6v0.6h-0.6zM503.1 285.9h0.6v0.6h-0.6zM495.8 289.9h0.6v0.6h-0.6zM495.9 286.1h0.6v0.6h-0.6zM510.3 287.3h0.6v0.6h-0.6zM498.9 284.9h0.6v0.6h-0.6zM500.9 290.9h0.6v0.6h-0.6zM501.6 288.4h0.6v0.6h-0.6zM500.1 293.0h0.6v0.6h-0.6zM499.4 285.5h0.6v0.6h-0.6zM496.2 290.5h0.6v0.6h-0.6zM498.1 283.7h0.6v0.6h-0.6zM502.2 294.2h0.6v0.6h-0.6zM509.4 294.0h0.6v0.6h-0.6zM505.3 281.8h0.6v0.6h-0.6zM508.3 283.6h0.6v0.6h-0.6zM503.0 285.4h0.6v0.6h-0.6zM500.7 293.2h0.6v0.6h-0.6zM495.8 287.6h0.6v0.6h-0.6zM501.1 288.6h0.6v0.6h-0.6zM492.5 292.1h0.6v0.6h-0.6zM499.9 289.8h0.6v0.6h-0.6zM507.6 290.2h0.6v0.6h-0.6zM502.4 288.0h0.6v0.6h-0.6zM505.6 293.8h0.6v0.6h-0.6zM499.5 286.2h0.6v0.6h-0.6zM499.2 288.0h0.6v0.6h-0.6zM499.5 286.1h0.6v0.6h-0.6zM505.9 291.9h0.6v0.6h-0.6zM509.0 291.1h0.6v0.6h-0.6zM498.1 281.4h0.6v0.6h-0.6zM499.7 290.2h0.6v0.6h-0.6zM500.5 283.9h0.6v0.6h-0.6zM499.7 286.0h0.6v0.6h-0.6z" fill="#0a0a0a"/>
<rect x="285.40" y="253.60" width="40.20" height="42.60" fill="none" stroke="#111" stroke-width="1.15"/>
<rect x="306.30" y="257.00" width="16.00" height="20.60" fill="none" stroke="#111" stroke-width="0.9"/>
<g transform="translate(287.60 259.90) scale(1 1.0)"><text x="0" y="2.70" font-size="7.5" fill="#333" letter-spacing="-0.05">0.5</text></g>
<line x1="285.40" y1="260.70" x2="286.90" y2="260.70" stroke="#333" stroke-width="0.5"/>
<line x1="292.10" y1="296.20" x2="292.10" y2="294.70" stroke="#333" stroke-width="0.5"/>
<line x1="285.40" y1="267.80" x2="286.90" y2="267.80" stroke="#333" stroke-width="0.5"/>
<line x1="298.80" y1="296.20" x2="298.80" y2="294.70" stroke="#333" stroke-width="0.5"/>
<line x1="285.40" y1="274.90" x2="286.90" y2="274.90" stroke="#333" stroke-width="0.5"/>
<line x1="305.50" y1="296.20" x2="305.50" y2="294.70" stroke="#333" stroke-width="0.5"/>
<line x1="285.40" y1="282.00" x2="286.90" y2="282.00" stroke="#333" stroke-width="0.5"/>
<line x1="312.20" y1="296.20" x2="312.20" y2="294.70" stroke="#333" stroke-width="0.5"/>
<line x1="285.40" y1="289.10" x2="286.90" y2="289.10" stroke="#333" stroke-width="0.5"/>
<line x1="318.90" y1="296.20" x2="318.90" y2="294.70" stroke="#333" stroke-width="0.5"/>
<rect x="334.30" y="253.60" width="40.20" height="42.60" fill="none" stroke="#111" stroke-width="1.15"/>
<rect x="346.30" y="257.00" width="16.00" height="20.60" fill="none" stroke="#111" stroke-width="0.9"/>
<g transform="translate(336.50 259.90) scale(1 1.0)"><text x="0" y="2.70" font-size="7.5" fill="#333" letter-spacing="-0.05">1</text></g>
<line x1="334.30" y1="260.70" x2="335.80" y2="260.70" stroke="#333" stroke-width="0.5"/>
<line x1="341.00" y1="296.20" x2="341.00" y2="294.70" stroke="#333" stroke-width="0.5"/>
<line x1="334.30" y1="267.80" x2="335.80" y2="267.80" stroke="#333" stroke-width="0.5"/>
<line x1="347.70" y1="296.20" x2="347.70" y2="294.70" stroke="#333" stroke-width="0.5"/>
<line x1="334.30" y1="274.90" x2="335.80" y2="274.90" stroke="#333" stroke-width="0.5"/>
<line x1="354.40" y1="296.20" x2="354.40" y2="294.70" stroke="#333" stroke-width="0.5"/>
<line x1="334.30" y1="282.00" x2="335.80" y2="282.00" stroke="#333" stroke-width="0.5"/>
<line x1="361.10" y1="296.20" x2="361.10" y2="294.70" stroke="#333" stroke-width="0.5"/>
<line x1="334.30" y1="289.10" x2="335.80" y2="289.10" stroke="#333" stroke-width="0.5"/>
<line x1="367.80" y1="296.20" x2="367.80" y2="294.70" stroke="#333" stroke-width="0.5"/>
<rect x="383.00" y="253.60" width="40.20" height="42.60" fill="none" stroke="#111" stroke-width="1.15"/>
<rect x="403.00" y="257.00" width="15.70" height="20.60" fill="none" stroke="#111" stroke-width="0.9"/>
<g transform="translate(385.20 259.90) scale(1 1.0)"><text x="0" y="2.70" font-size="7.5" fill="#333" letter-spacing="-0.05">7</text></g>
<line x1="383.00" y1="260.70" x2="384.50" y2="260.70" stroke="#333" stroke-width="0.5"/>
<line x1="389.70" y1="296.20" x2="389.70" y2="294.70" stroke="#333" stroke-width="0.5"/>
<line x1="383.00" y1="267.80" x2="384.50" y2="267.80" stroke="#333" stroke-width="0.5"/>
<line x1="396.40" y1="296.20" x2="396.40" y2="294.70" stroke="#333" stroke-width="0.5"/>
<line x1="383.00" y1="274.90" x2="384.50" y2="274.90" stroke="#333" stroke-width="0.5"/>
<line x1="403.10" y1="296.20" x2="403.10" y2="294.70" stroke="#333" stroke-width="0.5"/>
<line x1="383.00" y1="282.00" x2="384.50" y2="282.00" stroke="#333" stroke-width="0.5"/>
<line x1="409.80" y1="296.20" x2="409.80" y2="294.70" stroke="#333" stroke-width="0.5"/>
<line x1="383.00" y1="289.10" x2="384.50" y2="289.10" stroke="#333" stroke-width="0.5"/>
<line x1="416.50" y1="296.20" x2="416.50" y2="294.70" stroke="#333" stroke-width="0.5"/>
<rect x="431.60" y="253.60" width="40.20" height="42.60" fill="none" stroke="#111" stroke-width="1.15"/>
<rect x="445.90" y="257.00" width="16.20" height="20.60" fill="none" stroke="#111" stroke-width="0.9"/>
<g transform="translate(433.80 259.90) scale(1 1.0)"><text x="0" y="2.70" font-size="7.5" fill="#333" letter-spacing="-0.05">0.7</text></g>
<line x1="431.60" y1="260.70" x2="433.10" y2="260.70" stroke="#333" stroke-width="0.5"/>
<line x1="438.30" y1="296.20" x2="438.30" y2="294.70" stroke="#333" stroke-width="0.5"/>
<line x1="431.60" y1="267.80" x2="433.10" y2="267.80" stroke="#333" stroke-width="0.5"/>
<line x1="445.00" y1="296.20" x2="445.00" y2="294.70" stroke="#333" stroke-width="0.5"/>
<line x1="431.60" y1="274.90" x2="433.10" y2="274.90" stroke="#333" stroke-width="0.5"/>
<line x1="451.70" y1="296.20" x2="451.70" y2="294.70" stroke="#333" stroke-width="0.5"/>
<line x1="431.60" y1="282.00" x2="433.10" y2="282.00" stroke="#333" stroke-width="0.5"/>
<line x1="458.40" y1="296.20" x2="458.40" y2="294.70" stroke="#333" stroke-width="0.5"/>
<line x1="431.60" y1="289.10" x2="433.10" y2="289.10" stroke="#333" stroke-width="0.5"/>
<line x1="465.10" y1="296.20" x2="465.10" y2="294.70" stroke="#333" stroke-width="0.5"/>
<rect x="480.70" y="253.60" width="40.20" height="42.60" fill="none" stroke="#111" stroke-width="1.15"/>
<rect x="494.40" y="257.00" width="14.90" height="20.60" fill="none" stroke="#111" stroke-width="0.9"/>
<g transform="translate(482.90 259.90) scale(1 1.0)"><text x="0" y="2.70" font-size="7.5" fill="#333" letter-spacing="-0.05">0</text></g>
<line x1="480.70" y1="260.70" x2="482.20" y2="260.70" stroke="#333" stroke-width="0.5"/>
<line x1="487.40" y1="296.20" x2="487.40" y2="294.70" stroke="#333" stroke-width="0.5"/>
<line x1="480.70" y1="267.80" x2="482.20" y2="267.80" stroke="#333" stroke-width="0.5"/>
<line x1="494.10" y1="296.20" x2="494.10" y2="294.70" stroke="#333" stroke-width="0.5"/>
<line x1="480.70" y1="274.90" x2="482.20" y2="274.90" stroke="#333" stroke-width="0.5"/>
<line x1="500.80" y1="296.20" x2="500.80" y2="294.70" stroke="#333" stroke-width="0.5"/>
<line x1="480.70" y1="282.00" x2="482.20" y2="282.00" stroke="#333" stroke-width="0.5"/>
<line x1="507.50" y1="296.20" x2="507.50" y2="294.70" stroke="#333" stroke-width="0.5"/>
<line x1="480.70" y1="289.10" x2="482.20" y2="289.10" stroke="#333" stroke-width="0.5"/>
<line x1="514.20" y1="296.20" x2="514.20" y2="294.70" stroke="#333" stroke-width="0.5"/>
<path d="M297.6 342.8h0.7v0.7h-0.7zM290.7 348.1h0.7v0.7h-0.7zM295.8 339.3h0.7v0.7h-0.7zM292.7 348.3h0.7v0.7h-0.7zM302.4 344.5h0.7v0.7h-0.7zM293.9 347.6h0.7v0.7h-0.7zM289.4 350.5h0.7v0.7h-0.7zM289.7 346.8h0.7v0.7h-0.7zM290.5 341.6h0.7v0.7h-0.7zM294.8 345.8h0.7v0.7h-0.7zM294.3 344.0h0.7v0.7h-0.7zM298.4 341.7h0.7v0.7h-0.7zM295.0 340.8h0.7v0.7h-0.7zM294.8 346.2h0.7v0.7h-0.7zM295.6 348.8h0.7v0.7h-0.7zM293.7 337.3h0.7v0.7h-0.7zM295.5 345.8h0.7v0.7h-0.7zM297.6 349.3h0.7v0.7h-0.7zM297.6 347.4h0.7v0.7h-0.7zM292.0 340.2h0.7v0.7h-0.7zM286.9 347.9h0.7v0.7h-0.7zM290.9 338.8h0.7v0.7h-0.7zM295.5 349.2h0.7v0.7h-0.7zM292.3 335.4h0.7v0.7h-0.7zM296.2 347.6h0.7v0.7h-0.7zM291.9 346.3h0.7v0.7h-0.7zM289.6 345.1h0.7v0.7h-0.7zM301.6 344.7h0.7v0.7h-0.7zM300.1 346.3h0.7v0.7h-0.7zM293.2 338.7h0.7v0.7h-0.7zM299.8 348.3h0.7v0.7h-0.7zM299.7 350.1h0.7v0.7h-0.7zM289.5 340.9h0.7v0.7h-0.7zM305.5 345.3h0.7v0.7h-0.7zM290.3 342.0h0.7v0.7h-0.7zM293.1 345.2h0.7v0.7h-0.7zM289.6 344.3h0.7v0.7h-0.7zM294.6 345.3h0.7v0.7h-0.7zM288.7 344.0h0.7v0.7h-0.7zM294.2 339.5h0.7v0.7h-0.7zM298.8 334.5h0.7v0.7h-0.7zM295.1 348.9h0.7v0.7h-0.7zM293.1 351.9h0.7v0.7h-0.7zM300.7 341.3h0.7v0.7h-0.7zM290.5 341.2h0.7v0.7h-0.7zM298.3 348.5h0.7v0.7h-0.7zM293.0 349.6h0.7v0.7h-0.7zM295.1 349.0h0.7v0.7h-0.7zM294.4 351.7h0.7v0.7h-0.7zM294.8 345.6h0.7v0.7h-0.7zM294.0 347.5h0.7v0.7h-0.7zM290.9 346.4h0.7v0.7h-0.7zM291.8 342.7h0.7v0.7h-0.7zM296.1 351.9h0.7v0.7h-0.7zM293.8 348.4h0.7v0.7h-0.7zM289.3 348.4h0.7v0.7h-0.7zM291.2 342.7h0.7v0.7h-0.7zM291.3 349.4h0.7v0.7h-0.7zM294.0 340.6h0.7v0.7h-0.7zM294.9 347.7h0.7v0.7h-0.7zM294.6 333.5h0.7v0.7h-0.7zM291.4 339.9h0.7v0.7h-0.7zM294.3 349.1h0.7v0.7h-0.7zM288.4 341.4h0.7v0.7h-0.7zM293.9 337.9h0.7v0.7h-0.7zM287.2 350.3h0.7v0.7h-0.7zM290.2 347.0h0.7v0.7h-0.7zM289.1 343.7h0.7v0.7h-0.7zM296.8 348.5h0.7v0.7h-0.7zM289.1 345.3h0.7v0.7h-0.7zM295.3 352.6h0.7v0.7h-0.7zM292.1 345.8h0.7v0.7h-0.7zM288.9 336.8h0.7v0.7h-0.7zM287.5 342.0h0.7v0.7h-0.7zM296.1 352.3h0.7v0.7h-0.7zM295.7 348.8h0.7v0.7h-0.7zM297.4 344.8h0.7v0.7h-0.7zM301.8 351.2h0.7v0.7h-0.7zM295.3 346.5h0.7v0.7h-0.7zM295.3 348.8h0.7v0.7h-0.7zM293.6 338.0h0.7v0.7h-0.7zM294.5 341.5h0.7v0.7h-0.7zM292.6 348.1h0.7v0.7h-0.7zM290.3 343.2h0.7v0.7h-0.7zM302.5 350.2h0.7v0.7h-0.7zM286.3 351.9h0.7v0.7h-0.7zM295.1 344.5h0.7v0.7h-0.7zM295.9 347.3h0.7v0.7h-0.7zM294.7 343.2h0.7v0.7h-0.7zM290.0 341.2h0.7v0.7h-0.7zM293.3 344.9h0.7v0.7h-0.7zM292.1 338.1h0.7v0.7h-0.7zM289.5 334.1h0.7v0.7h-0.7zM293.9 351.8h0.7v0.7h-0.7zM292.3 344.4h0.7v0.7h-0.7zM291.7 349.9h0.7v0.7h-0.7zM296.9 347.1h0.7v0.7h-0.7zM289.6 344.6h0.7v0.7h-0.7zM295.9 349.3h0.7v0.7h-0.7zM291.5 348.0h0.7v0.7h-0.7zM295.8 340.6h0.7v0.7h-0.7zM294.3 351.3h0.7v0.7h-0.7zM295.0 341.4h0.7v0.7h-0.7zM289.9 345.0h0.7v0.7h-0.7zM290.4 344.6h0.7v0.7h-0.7zM294.7 353.6h0.7v0.7h-0.7zM297.1 345.0h0.7v0.7h-0.7zM298.5 350.0h0.7v0.7h-0.7zM291.9 345.0h0.7v0.7h-0.7zM294.3 347.6h0.7v0.7h-0.7zM287.2 339.1h0.7v0.7h-0.7zM290.3 345.8h0.7v0.7h-0.7zM291.2 337.2h0.7v0.7h-0.7zM287.5 339.3h0.7v0.7h-0.7zM286.5 345.8h0.7v0.7h-0.7zM296.2 343.4h0.7v0.7h-0.7zM290.6 340.2h0.7v0.7h-0.7zM286.9 337.8h0.7v0.7h-0.7zM303.7 349.7h0.7v0.7h-0.7zM294.7 344.1h0.7v0.7h-0.7zM292.6 345.7h0.7v0.7h-0.7zM296.8 345.6h0.7v0.7h-0.7zM290.8 353.0h0.7v0.7h-0.7zM300.6 345.8h0.7v0.7h-0.7zM287.5 334.1h0.7v0.7h-0.7zM288.4 344.1h0.7v0.7h-0.7zM293.3 345.3h0.7v0.7h-0.7zM290.7 345.1h0.7v0.7h-0.7zM299.8 340.1h0.7v0.7h-0.7zM287.2 348.4h0.7v0.7h-0.7zM290.8 344.3h0.7v0.7h-0.7zM294.9 345.7h0.7v0.7h-0.7zM296.3 339.0h0.7v0.7h-0.7zM298.1 349.2h0.7v0.7h-0.7zM295.3 345.7h0.7v0.7h-0.7zM291.9 342.8h0.7v0.7h-0.7zM294.6 340.0h0.7v0.7h-0.7zM297.5 347.4h0.7v0.7h-0.7zM292.5 340.8h0.7v0.7h-0.7zM292.6 347.0h0.7v0.7h-0.7zM291.9 339.8h0.7v0.7h-0.7zM291.2 343.9h0.7v0.7h-0.7zM289.1 342.7h0.7v0.7h-0.7zM291.5 344.5h0.7v0.7h-0.7zM287.4 340.8h0.7v0.7h-0.7zM295.4 342.3h0.7v0.7h-0.7zM287.2 342.8h0.7v0.7h-0.7zM302.5 345.9h0.7v0.7h-0.7zM301.0 348.7h0.7v0.7h-0.7zM298.5 345.9h0.7v0.7h-0.7zM292.9 334.7h0.7v0.7h-0.7zM291.4 344.3h0.7v0.7h-0.7zM298.9 353.7h0.7v0.7h-0.7zM294.6 347.1h0.7v0.7h-0.7zM296.2 349.1h0.7v0.7h-0.7zM290.8 346.5h0.7v0.7h-0.7zM298.3 344.9h0.7v0.7h-0.7zM290.5 338.1h0.7v0.7h-0.7zM294.3 349.4h0.7v0.7h-0.7zM286.6 347.8h0.7v0.7h-0.7zM291.1 347.1h0.7v0.7h-0.7zM295.9 348.2h0.7v0.7h-0.7zM291.9 346.6h0.7v0.7h-0.7zM291.9 344.7h0.7v0.7h-0.7zM297.1 347.9h0.7v0.7h-0.7zM293.5 345.4h0.7v0.7h-0.7zM299.0 348.8h0.7v0.7h-0.7zM296.2 343.4h0.7v0.7h-0.7zM295.9 348.8h0.7v0.7h-0.7zM287.3 341.6h0.7v0.7h-0.7zM288.4 332.4h0.7v0.7h-0.7zM297.5 347.3h0.7v0.7h-0.7zM289.3 333.3h0.7v0.7h-0.7zM291.1 353.3h0.7v0.7h-0.7zM296.3 349.7h0.7v0.7h-0.7zM292.4 348.1h0.7v0.7h-0.7zM295.8 343.1h0.7v0.7h-0.7zM290.2 339.0h0.7v0.7h-0.7zM295.0 344.9h0.7v0.7h-0.7zM298.3 347.2h0.7v0.7h-0.7zM295.1 342.4h0.7v0.7h-0.7zM296.5 349.6h0.7v0.7h-0.7zM294.0 348.3h0.7v0.7h-0.7zM290.0 339.4h0.7v0.7h-0.7zM299.6 337.6h0.7v0.7h-0.7zM286.5 342.9h0.7v0.7h-0.7zM301.6 345.3h0.7v0.7h-0.7zM291.1 346.6h0.7v0.7h-0.7zM293.6 352.9h0.7v0.7h-0.7zM288.2 344.8h0.7v0.7h-0.7zM294.2 350.7h0.7v0.7h-0.7zM295.2 353.5h0.7v0.7h-0.7zM296.0 346.5h0.7v0.7h-0.7zM298.2 348.3h0.7v0.7h-0.7zM290.0 348.1h0.7v0.7h-0.7zM295.8 346.1h0.7v0.7h-0.7zM296.9 344.3h0.7v0.7h-0.7zM292.6 341.7h0.7v0.7h-0.7zM289.9 344.1h0.7v0.7h-0.7zM289.8 341.2h0.7v0.7h-0.7zM296.9 350.3h0.7v0.7h-0.7zM297.1 345.2h0.7v0.7h-0.7zM290.3 351.0h0.7v0.7h-0.7zM288.2 349.0h0.7v0.7h-0.7zM299.0 341.7h0.7v0.7h-0.7zM287.3 348.1h0.7v0.7h-0.7zM294.4 343.9h0.7v0.7h-0.7zM290.4 350.6h0.7v0.7h-0.7zM286.4 345.2h0.7v0.7h-0.7zM294.3 345.5h0.7v0.7h-0.7zM293.0 348.3h0.7v0.7h-0.7zM299.8 345.2h0.7v0.7h-0.7zM303.3 350.4h0.7v0.7h-0.7zM293.0 347.0h0.7v0.7h-0.7zM298.1 346.4h0.7v0.7h-0.7zM298.1 348.9h0.7v0.7h-0.7zM291.6 340.2h0.7v0.7h-0.7zM290.1 346.8h0.7v0.7h-0.7zM300.5 342.5h0.7v0.7h-0.7zM292.2 347.9h0.7v0.7h-0.7zM293.7 347.7h0.7v0.7h-0.7zM292.5 348.4h0.7v0.7h-0.7zM293.2 342.8h0.7v0.7h-0.7zM296.9 345.7h0.7v0.7h-0.7zM299.0 348.2h0.7v0.7h-0.7zM292.2 341.6h0.7v0.7h-0.7zM288.0 350.0h0.7v0.7h-0.7zM294.0 343.5h0.7v0.7h-0.7zM287.5 347.9h0.7v0.7h-0.7zM291.1 340.4h0.7v0.7h-0.7zM298.9 348.9h0.7v0.7h-0.7zM303.5 347.4h0.7v0.7h-0.7zM295.3 350.4h0.7v0.7h-0.7zM289.3 342.7h0.7v0.7h-0.7zM297.0 342.9h0.7v0.7h-0.7zM290.9 339.2h0.7v0.7h-0.7zM300.1 343.6h0.7v0.7h-0.7zM296.9 350.2h0.7v0.7h-0.7zM288.0 335.1h0.7v0.7h-0.7zM286.8 346.6h0.7v0.7h-0.7zM297.3 345.1h0.7v0.7h-0.7zM293.6 341.4h0.7v0.7h-0.7zM291.3 345.9h0.7v0.7h-0.7zM295.5 349.1h0.7v0.7h-0.7zM291.4 342.2h0.7v0.7h-0.7zM297.1 350.5h0.7v0.7h-0.7zM291.1 348.1h0.7v0.7h-0.7zM289.6 344.0h0.7v0.7h-0.7zM288.2 340.2h0.7v0.7h-0.7zM294.8 341.8h0.7v0.7h-0.7zM290.4 341.8h0.7v0.7h-0.7zM296.4 349.7h0.7v0.7h-0.7zM292.6 347.9h0.7v0.7h-0.7zM298.3 348.7h0.7v0.7h-0.7zM292.2 351.4h0.7v0.7h-0.7zM291.0 343.4h0.7v0.7h-0.7zM289.2 342.4h0.7v0.7h-0.7zM306.5 341.0h0.7v0.7h-0.7zM288.5 345.2h0.7v0.7h-0.7zM289.4 346.2h0.7v0.7h-0.7zM295.2 346.5h0.7v0.7h-0.7zM290.9 350.0h0.7v0.7h-0.7zM294.1 349.4h0.7v0.7h-0.7zM287.0 339.3h0.7v0.7h-0.7zM292.5 347.6h0.7v0.7h-0.7zM297.5 345.4h0.7v0.7h-0.7zM300.6 348.4h0.7v0.7h-0.7zM293.1 346.4h0.7v0.7h-0.7zM292.7 343.2h0.7v0.7h-0.7zM295.7 349.3h0.7v0.7h-0.7zM298.4 354.8h0.7v0.7h-0.7zM295.8 351.2h0.7v0.7h-0.7zM290.6 345.7h0.7v0.7h-0.7zM295.3 337.7h0.7v0.7h-0.7zM297.8 352.1h0.7v0.7h-0.7zM290.8 349.6h0.7v0.7h-0.7zM288.2 343.0h0.7v0.7h-0.7zM295.9 344.4h0.7v0.7h-0.7zM295.3 349.3h0.7v0.7h-0.7zM297.8 343.6h0.7v0.7h-0.7zM294.1 349.5h0.7v0.7h-0.7zM291.1 340.0h0.7v0.7h-0.7zM291.9 341.1h0.7v0.7h-0.7zM289.5 344.4h0.7v0.7h-0.7zM289.8 337.9h0.7v0.7h-0.7zM291.4 345.0h0.7v0.7h-0.7zM291.8 347.5h0.7v0.7h-0.7zM298.4 341.6h0.7v0.7h-0.7zM288.7 348.2h0.7v0.7h-0.7zM293.6 343.3h0.7v0.7h-0.7zM291.3 347.4h0.7v0.7h-0.7zM300.0 349.0h0.7v0.7h-0.7zM294.9 344.2h0.7v0.7h-0.7zM292.2 343.0h0.7v0.7h-0.7zM297.2 339.4h0.7v0.7h-0.7zM294.1 342.9h0.7v0.7h-0.7zM291.8 341.7h0.7v0.7h-0.7zM296.8 351.5h0.7v0.7h-0.7zM301.0 342.3h0.7v0.7h-0.7zM298.6 351.2h0.7v0.7h-0.7zM297.0 348.0h0.7v0.7h-0.7zM294.4 344.4h0.7v0.7h-0.7zM289.3 346.3h0.7v0.7h-0.7zM296.8 350.5h0.7v0.7h-0.7zM294.1 343.5h0.7v0.7h-0.7zM296.6 345.7h0.7v0.7h-0.7zM293.8 346.6h0.7v0.7h-0.7zM290.9 340.5h0.7v0.7h-0.7zM289.6 345.2h0.7v0.7h-0.7zM296.7 346.6h0.7v0.7h-0.7zM299.2 344.8h0.7v0.7h-0.7zM292.6 341.7h0.7v0.7h-0.7zM295.7 348.0h0.7v0.7h-0.7zM299.6 351.9h0.7v0.7h-0.7zM290.3 346.1h0.7v0.7h-0.7zM292.4 341.6h0.7v0.7h-0.7zM289.1 347.6h0.7v0.7h-0.7zM298.7 348.4h0.7v0.7h-0.7zM294.9 349.0h0.7v0.7h-0.7zM291.9 350.4h0.7v0.7h-0.7zM286.9 339.4h0.7v0.7h-0.7zM293.1 345.0h0.7v0.7h-0.7zM298.0 344.7h0.7v0.7h-0.7zM292.6 341.6h0.7v0.7h-0.7zM292.1 354.2h0.7v0.7h-0.7zM296.5 351.1h0.7v0.7h-0.7zM288.7 336.2h0.7v0.7h-0.7zM294.0 347.9h0.7v0.7h-0.7zM296.3 344.3h0.7v0.7h-0.7zM290.6 349.9h0.7v0.7h-0.7zM290.4 345.1h0.7v0.7h-0.7zM294.9 345.5h0.7v0.7h-0.7zM293.4 346.4h0.7v0.7h-0.7zM292.9 347.3h0.7v0.7h-0.7zM294.7 346.4h0.7v0.7h-0.7zM294.8 345.3h0.7v0.7h-0.7zM290.0 343.9h0.7v0.7h-0.7zM291.1 347.2h0.7v0.7h-0.7zM295.7 341.6h0.7v0.7h-0.7zM298.5 347.6h0.7v0.7h-0.7zM299.5 347.4h0.7v0.7h-0.7zM290.3 342.5h0.7v0.7h-0.7zM298.4 350.9h0.7v0.7h-0.7zM297.0 341.3h0.7v0.7h-0.7zM293.7 344.3h0.7v0.7h-0.7zM295.9 342.9h0.7v0.7h-0.7zM297.3 349.6h0.7v0.7h-0.7zM301.3 346.5h0.7v0.7h-0.7zM289.5 344.6h0.7v0.7h-0.7zM296.4 348.6h0.7v0.7h-0.7zM293.3 338.6h0.7v0.7h-0.7zM293.0 347.7h0.7v0.7h-0.7zM298.6 344.3h0.7v0.7h-0.7zM297.3 346.0h0.7v0.7h-0.7zM289.6 343.9h0.7v0.7h-0.7zM292.7 349.1h0.7v0.7h-0.7zM294.8 349.6h0.7v0.7h-0.7zM288.0 351.7h0.7v0.7h-0.7zM297.5 348.0h0.7v0.7h-0.7zM293.6 343.7h0.7v0.7h-0.7zM294.5 344.0h0.7v0.7h-0.7zM295.3 349.4h0.7v0.7h-0.7zM294.0 347.5h0.7v0.7h-0.7zM292.4 342.9h0.7v0.7h-0.7zM301.1 349.8h0.7v0.7h-0.7zM291.8 346.3h0.7v0.7h-0.7zM291.7 345.3h0.7v0.7h-0.7zM288.1 340.6h0.7v0.7h-0.7zM298.4 336.3h0.7v0.7h-0.7zM295.0 344.0h0.7v0.7h-0.7zM295.8 351.3h0.7v0.7h-0.7zM294.6 347.1h0.7v0.7h-0.7zM293.3 335.9h0.7v0.7h-0.7zM290.6 344.8h0.7v0.7h-0.7zM290.6 336.6h0.7v0.7h-0.7zM294.4 347.0h0.7v0.7h-0.7zM300.7 343.0h0.7v0.7h-0.7zM290.7 348.4h0.7v0.7h-0.7zM291.9 341.7h0.7v0.7h-0.7zM289.6 346.9h0.7v0.7h-0.7zM299.6 348.1h0.7v0.7h-0.7zM288.8 338.9h0.7v0.7h-0.7zM297.1 350.1h0.7v0.7h-0.7zM299.9 342.1h0.7v0.7h-0.7zM293.3 351.7h0.7v0.7h-0.7zM296.9 347.3h0.7v0.7h-0.7zM292.3 337.3h0.7v0.7h-0.7zM287.0 350.7h0.7v0.7h-0.7zM294.6 352.7h0.7v0.7h-0.7zM293.9 340.4h0.7v0.7h-0.7zM290.7 352.2h0.7v0.7h-0.7zM297.8 348.1h0.7v0.7h-0.7zM295.4 345.5h0.7v0.7h-0.7zM291.7 344.8h0.7v0.7h-0.7zM291.8 344.0h0.7v0.7h-0.7zM287.8 350.2h0.7v0.7h-0.7zM293.1 346.4h0.7v0.7h-0.7zM302.7 340.9h0.7v0.7h-0.7zM290.9 354.2h0.7v0.7h-0.7zM295.6 350.5h0.7v0.7h-0.7zM291.6 340.3h0.7v0.7h-0.7zM297.2 345.6h0.7v0.7h-0.7zM295.7 342.6h0.7v0.7h-0.7zM292.9 345.8h0.7v0.7h-0.7zM286.5 345.1h0.7v0.7h-0.7zM291.8 346.3h0.7v0.7h-0.7zM298.9 345.1h0.7v0.7h-0.7zM292.9 342.0h0.7v0.7h-0.7zM296.5 350.7h0.7v0.7h-0.7zM291.9 344.8h0.7v0.7h-0.7zM286.1 353.2h0.7v0.7h-0.7zM295.7 343.0h0.7v0.7h-0.7zM295.2 349.9h0.7v0.7h-0.7zM291.5 345.3h0.7v0.7h-0.7zM292.4 342.0h0.7v0.7h-0.7zM295.1 352.5h0.7v0.7h-0.7zM291.4 345.6h0.7v0.7h-0.7zM295.3 342.5h0.7v0.7h-0.7zM293.1 344.2h0.7v0.7h-0.7zM293.3 340.3h0.7v0.7h-0.7zM291.4 351.2h0.7v0.7h-0.7zM290.4 347.8h0.7v0.7h-0.7zM295.6 345.3h0.7v0.7h-0.7zM291.9 351.3h0.7v0.7h-0.7zM296.1 354.6h0.7v0.7h-0.7zM298.4 350.3h0.7v0.7h-0.7zM294.5 346.9h0.7v0.7h-0.7zM287.5 351.9h0.7v0.7h-0.7zM290.9 351.5h0.7v0.7h-0.7zM297.7 343.2h0.7v0.7h-0.7zM292.8 344.7h0.7v0.7h-0.7zM290.6 343.8h0.7v0.7h-0.7zM293.5 344.0h0.7v0.7h-0.7zM296.0 340.0h0.7v0.7h-0.7zM295.0 350.4h0.7v0.7h-0.7zM296.6 347.3h0.7v0.7h-0.7zM290.5 345.2h0.7v0.7h-0.7zM292.8 351.9h0.7v0.7h-0.7zM292.9 343.1h0.7v0.7h-0.7zM293.8 345.7h0.7v0.7h-0.7zM292.9 343.7h0.7v0.7h-0.7zM288.3 343.5h0.7v0.7h-0.7zM299.7 351.5h0.7v0.7h-0.7zM300.4 348.2h0.7v0.7h-0.7zM300.9 354.4h0.7v0.7h-0.7zM297.3 343.8h0.7v0.7h-0.7zM291.9 346.2h0.7v0.7h-0.7zM297.9 341.0h0.7v0.7h-0.7zM293.1 345.1h0.7v0.7h-0.7zM296.5 343.7h0.7v0.7h-0.7zM290.2 350.7h0.7v0.7h-0.7zM291.5 348.4h0.7v0.7h-0.7zM295.9 348.9h0.7v0.7h-0.7zM293.8 352.4h0.7v0.7h-0.7zM303.3 352.5h0.7v0.7h-0.7zM305.4 347.0h0.7v0.7h-0.7zM288.6 337.6h0.7v0.7h-0.7zM293.8 345.8h0.7v0.7h-0.7zM290.0 343.0h0.7v0.7h-0.7zM293.3 342.9h0.7v0.7h-0.7zM291.7 343.9h0.7v0.7h-0.7zM293.7 338.5h0.7v0.7h-0.7zM297.9 354.1h0.7v0.7h-0.7zM297.8 342.2h0.7v0.7h-0.7zM295.0 343.3h0.7v0.7h-0.7zM293.9 348.5h0.7v0.7h-0.7zM294.4 338.8h0.7v0.7h-0.7zM294.5 350.3h0.7v0.7h-0.7zM296.3 351.0h0.7v0.7h-0.7zM294.0 344.6h0.7v0.7h-0.7zM296.0 341.9h0.7v0.7h-0.7zM288.5 341.9h0.7v0.7h-0.7zM297.2 338.8h0.7v0.7h-0.7zM294.7 346.5h0.7v0.7h-0.7zM288.1 340.6h0.7v0.7h-0.7zM299.5 343.9h0.7v0.7h-0.7zM292.6 348.1h0.7v0.7h-0.7zM293.0 339.9h0.7v0.7h-0.7zM296.5 344.3h0.7v0.7h-0.7zM295.5 338.6h0.7v0.7h-0.7zM299.1 350.9h0.7v0.7h-0.7zM296.5 347.6h0.7v0.7h-0.7zM289.3 342.4h0.7v0.7h-0.7zM294.7 343.0h0.7v0.7h-0.7zM296.8 350.8h0.7v0.7h-0.7zM289.7 337.1h0.7v0.7h-0.7zM291.4 348.5h0.7v0.7h-0.7zM295.9 347.8h0.7v0.7h-0.7zM286.0 340.9h0.7v0.7h-0.7zM293.0 350.4h0.7v0.7h-0.7zM295.0 354.8h0.7v0.7h-0.7zM292.0 343.3h0.7v0.7h-0.7zM294.0 353.9h0.7v0.7h-0.7zM288.4 341.2h0.7v0.7h-0.7zM296.7 345.8h0.7v0.7h-0.7zM293.5 340.3h0.7v0.7h-0.7zM295.0 345.7h0.7v0.7h-0.7zM296.6 346.6h0.7v0.7h-0.7zM291.8 343.3h0.7v0.7h-0.7zM297.4 343.9h0.7v0.7h-0.7zM299.1 340.7h0.7v0.7h-0.7zM295.6 340.5h0.7v0.7h-0.7zM299.5 343.5h0.7v0.7h-0.7zM291.3 348.0h0.7v0.7h-0.7zM297.8 345.0h0.7v0.7h-0.7zM295.1 342.5h0.7v0.7h-0.7zM289.8 347.5h0.7v0.7h-0.7zM293.6 348.4h0.7v0.7h-0.7zM291.7 341.8h0.7v0.7h-0.7zM291.7 342.3h0.7v0.7h-0.7zM294.3 349.1h0.7v0.7h-0.7zM298.4 349.2h0.7v0.7h-0.7zM292.6 341.7h0.7v0.7h-0.7zM294.5 347.3h0.7v0.7h-0.7zM287.8 343.7h0.7v0.7h-0.7zM294.4 351.2h0.7v0.7h-0.7zM298.7 343.8h0.7v0.7h-0.7zM297.3 351.2h0.7v0.7h-0.7zM295.9 348.6h0.7v0.7h-0.7zM291.8 340.6h0.7v0.7h-0.7zM289.9 349.3h0.7v0.7h-0.7zM293.6 350.0h0.7v0.7h-0.7zM288.4 338.0h0.7v0.7h-0.7zM288.8 353.2h0.7v0.7h-0.7zM297.9 342.2h0.7v0.7h-0.7zM290.1 340.4h0.7v0.7h-0.7zM301.4 347.2h0.7v0.7h-0.7zM288.0 347.4h0.7v0.7h-0.7zM295.7 349.3h0.7v0.7h-0.7zM289.1 343.8h0.7v0.7h-0.7zM294.7 352.5h0.7v0.7h-0.7zM289.6 346.3h0.7v0.7h-0.7zM294.1 352.4h0.7v0.7h-0.7zM292.1 346.2h0.7v0.7h-0.7zM296.1 335.0h0.7v0.7h-0.7zM300.2 346.2h0.7v0.7h-0.7zM291.5 340.2h0.7v0.7h-0.7zM297.6 347.7h0.7v0.7h-0.7zM294.3 346.6h0.7v0.7h-0.7zM293.8 340.3h0.7v0.7h-0.7zM303.1 344.0h0.7v0.7h-0.7zM291.1 344.1h0.7v0.7h-0.7zM286.4 331.4h0.7v0.7h-0.7zM292.6 350.0h0.7v0.7h-0.7zM293.0 345.8h0.7v0.7h-0.7zM309.8 351.6h0.7v0.7h-0.7zM295.4 347.9h0.7v0.7h-0.7zM301.4 343.9h0.7v0.7h-0.7zM299.4 347.7h0.7v0.7h-0.7zM292.1 350.1h0.7v0.7h-0.7zM295.9 351.6h0.7v0.7h-0.7zM300.9 350.6h0.7v0.7h-0.7zM294.7 345.0h0.7v0.7h-0.7zM294.8 342.5h0.7v0.7h-0.7zM296.0 352.8h0.7v0.7h-0.7zM287.7 346.2h0.7v0.7h-0.7zM290.6 342.8h0.7v0.7h-0.7zM295.4 336.5h0.7v0.7h-0.7zM296.2 342.8h0.7v0.7h-0.7zM290.1 335.7h0.7v0.7h-0.7zM292.6 351.3h0.7v0.7h-0.7zM293.4 346.7h0.7v0.7h-0.7zM293.3 342.3h0.7v0.7h-0.7zM296.8 345.7h0.7v0.7h-0.7zM294.6 351.9h0.7v0.7h-0.7zM288.1 337.6h0.7v0.7h-0.7zM289.6 343.8h0.7v0.7h-0.7zM295.3 340.7h0.7v0.7h-0.7zM287.3 335.6h0.7v0.7h-0.7zM295.1 347.2h0.7v0.7h-0.7zM290.6 352.0h0.7v0.7h-0.7zM296.6 347.1h0.7v0.7h-0.7zM291.1 343.2h0.7v0.7h-0.7zM290.4 345.6h0.7v0.7h-0.7zM291.1 349.8h0.7v0.7h-0.7zM294.2 339.2h0.7v0.7h-0.7zM305.4 341.3h0.7v0.7h-0.7zM293.8 347.3h0.7v0.7h-0.7zM292.9 353.1h0.7v0.7h-0.7zM297.9 348.5h0.7v0.7h-0.7zM292.4 352.3h0.7v0.7h-0.7zM299.4 350.3h0.7v0.7h-0.7zM289.4 351.6h0.7v0.7h-0.7zM293.7 350.7h0.7v0.7h-0.7zM288.2 341.8h0.7v0.7h-0.7zM289.3 348.5h0.7v0.7h-0.7zM291.8 342.1h0.7v0.7h-0.7zM297.5 340.5h0.7v0.7h-0.7zM297.4 349.7h0.7v0.7h-0.7zM291.4 351.7h0.7v0.7h-0.7zM296.0 350.7h0.7v0.7h-0.7zM292.4 339.5h0.7v0.7h-0.7zM294.4 350.2h0.7v0.7h-0.7zM294.5 349.4h0.7v0.7h-0.7zM296.5 344.7h0.7v0.7h-0.7zM291.3 333.3h0.7v0.7h-0.7zM293.3 350.6h0.7v0.7h-0.7zM294.8 350.5h0.7v0.7h-0.7zM294.3 348.4h0.7v0.7h-0.7zM290.6 336.6h0.7v0.7h-0.7zM301.1 341.5h0.7v0.7h-0.7zM292.0 350.1h0.7v0.7h-0.7zM297.0 350.9h0.7v0.7h-0.7zM294.7 348.6h0.7v0.7h-0.7zM299.0 346.6h0.7v0.7h-0.7zM302.4 346.5h0.7v0.7h-0.7zM293.0 344.2h0.7v0.7h-0.7zM288.7 340.0h0.7v0.7h-0.7zM294.4 347.4h0.7v0.7h-0.7zM303.3 347.3h0.7v0.7h-0.7zM296.0 351.2h0.7v0.7h-0.7zM288.7 347.5h0.7v0.7h-0.7zM291.9 341.4h0.7v0.7h-0.7zM288.0 338.5h0.7v0.7h-0.7zM293.1 347.8h0.7v0.7h-0.7zM292.6 350.7h0.7v0.7h-0.7zM292.7 335.0h0.7v0.7h-0.7zM299.4 352.7h0.7v0.7h-0.7zM291.0 350.7h0.7v0.7h-0.7zM290.5 351.6h0.7v0.7h-0.7zM298.1 336.9h0.7v0.7h-0.7zM296.5 343.7h0.7v0.7h-0.7zM286.7 342.9h0.7v0.7h-0.7zM296.5 344.8h0.7v0.7h-0.7zM296.6 353.3h0.7v0.7h-0.7zM291.3 341.8h0.7v0.7h-0.7zM294.8 352.1h0.7v0.7h-0.7zM295.0 349.0h0.7v0.7h-0.7zM291.8 338.3h0.7v0.7h-0.7zM291.4 340.4h0.7v0.7h-0.7zM291.1 342.7h0.7v0.7h-0.7zM292.7 346.0h0.7v0.7h-0.7zM288.3 348.7h0.7v0.7h-0.7zM293.7 345.0h0.7v0.7h-0.7zM287.6 348.1h0.7v0.7h-0.7zM294.2 338.6h0.7v0.7h-0.7zM293.5 331.3h0.7v0.7h-0.7zM289.5 342.8h0.7v0.7h-0.7zM297.4 349.4h0.7v0.7h-0.7zM301.9 347.1h0.7v0.7h-0.7zM299.4 343.1h0.7v0.7h-0.7zM288.2 345.9h0.7v0.7h-0.7zM294.8 345.8h0.7v0.7h-0.7zM293.6 342.4h0.7v0.7h-0.7zM291.4 341.0h0.7v0.7h-0.7zM299.6 347.8h0.7v0.7h-0.7zM296.1 349.7h0.7v0.7h-0.7zM292.1 351.2h0.7v0.7h-0.7zM291.1 350.1h0.7v0.7h-0.7zM292.1 340.9h0.7v0.7h-0.7zM296.3 351.4h0.7v0.7h-0.7zM301.6 352.8h0.7v0.7h-0.7zM289.4 346.7h0.7v0.7h-0.7zM293.8 350.8h0.7v0.7h-0.7zM292.3 342.7h0.7v0.7h-0.7zM290.7 344.5h0.7v0.7h-0.7zM295.5 344.0h0.7v0.7h-0.7zM296.2 350.4h0.7v0.7h-0.7zM288.0 340.7h0.7v0.7h-0.7zM289.5 346.3h0.7v0.7h-0.7zM298.8 342.5h0.7v0.7h-0.7zM295.2 345.8h0.7v0.7h-0.7zM296.0 345.0h0.7v0.7h-0.7zM291.8 344.7h0.7v0.7h-0.7zM292.3 346.0h0.7v0.7h-0.7zM295.8 345.8h0.7v0.7h-0.7zM291.8 344.2h0.7v0.7h-0.7zM289.2 334.4h0.7v0.7h-0.7zM293.9 351.2h0.7v0.7h-0.7zM297.6 344.3h0.7v0.7h-0.7zM289.6 343.2h0.7v0.7h-0.7zM298.3 343.6h0.7v0.7h-0.7zM296.8 351.8h0.7v0.7h-0.7zM290.3 340.4h0.7v0.7h-0.7zM293.9 348.4h0.7v0.7h-0.7zM293.7 351.5h0.7v0.7h-0.7zM296.5 354.7h0.7v0.7h-0.7zM296.6 352.6h0.7v0.7h-0.7zM288.4 347.0h0.7v0.7h-0.7zM288.2 338.2h0.7v0.7h-0.7zM298.1 353.6h0.7v0.7h-0.7zM294.3 351.8h0.7v0.7h-0.7zM295.6 350.6h0.7v0.7h-0.7zM295.2 350.3h0.7v0.7h-0.7zM300.2 348.6h0.7v0.7h-0.7zM288.8 341.7h0.7v0.7h-0.7zM298.4 352.7h0.7v0.7h-0.7zM290.5 350.8h0.7v0.7h-0.7zM296.9 342.1h0.7v0.7h-0.7zM299.4 352.3h0.7v0.7h-0.7zM288.1 345.1h0.7v0.7h-0.7zM295.5 350.8h0.7v0.7h-0.7zM292.7 346.9h0.7v0.7h-0.7zM292.6 350.8h0.7v0.7h-0.7zM294.0 350.9h0.7v0.7h-0.7zM289.5 348.7h0.7v0.7h-0.7zM289.9 338.0h0.7v0.7h-0.7zM296.6 350.9h0.7v0.7h-0.7zM297.4 347.5h0.7v0.7h-0.7zM291.5 339.8h0.7v0.7h-0.7zM287.8 347.2h0.7v0.7h-0.7zM303.5 343.0h0.7v0.7h-0.7zM298.4 351.9h0.7v0.7h-0.7zM295.4 354.6h0.7v0.7h-0.7zM289.6 342.1h0.7v0.7h-0.7zM291.4 349.5h0.7v0.7h-0.7zM294.9 348.5h0.7v0.7h-0.7zM289.9 347.7h0.7v0.7h-0.7zM300.5 342.0h0.7v0.7h-0.7zM294.4 349.1h0.7v0.7h-0.7zM295.5 347.3h0.7v0.7h-0.7zM289.6 348.0h0.7v0.7h-0.7zM290.1 344.7h0.7v0.7h-0.7zM290.6 350.1h0.7v0.7h-0.7zM295.0 347.8h0.7v0.7h-0.7zM292.8 348.9h0.7v0.7h-0.7zM292.7 352.1h0.7v0.7h-0.7zM295.2 347.4h0.7v0.7h-0.7zM294.8 351.1h0.7v0.7h-0.7zM300.0 349.3h0.7v0.7h-0.7zM293.0 348.2h0.7v0.7h-0.7zM289.7 342.1h0.7v0.7h-0.7zM293.8 349.7h0.7v0.7h-0.7zM299.9 354.0h0.7v0.7h-0.7zM291.6 344.9h0.7v0.7h-0.7zM294.1 349.9h0.7v0.7h-0.7zM292.4 347.6h0.7v0.7h-0.7zM295.5 341.5h0.7v0.7h-0.7zM294.9 348.1h0.7v0.7h-0.7zM290.5 351.1h0.7v0.7h-0.7zM292.9 343.5h0.7v0.7h-0.7zM297.8 339.1h0.7v0.7h-0.7zM298.4 348.7h0.7v0.7h-0.7zM297.7 344.4h0.7v0.7h-0.7zM292.5 345.4h0.7v0.7h-0.7zM292.4 345.5h0.7v0.7h-0.7zM297.7 344.5h0.7v0.7h-0.7zM289.0 345.6h0.7v0.7h-0.7zM293.6 343.4h0.7v0.7h-0.7zM286.2 339.1h0.7v0.7h-0.7zM292.3 345.3h0.7v0.7h-0.7zM290.9 341.3h0.7v0.7h-0.7zM288.9 350.5h0.7v0.7h-0.7zM296.3 341.5h0.7v0.7h-0.7zM290.8 344.7h0.7v0.7h-0.7zM292.3 342.3h0.7v0.7h-0.7zM292.8 339.3h0.7v0.7h-0.7zM290.8 352.8h0.7v0.7h-0.7zM299.7 338.4h0.7v0.7h-0.7zM291.8 352.2h0.7v0.7h-0.7zM294.7 339.8h0.7v0.7h-0.7zM288.5 344.6h0.7v0.7h-0.7zM292.5 335.7h0.7v0.7h-0.7zM292.6 339.2h0.7v0.7h-0.7zM291.5 351.4h0.7v0.7h-0.7zM294.5 347.1h0.7v0.7h-0.7zM300.3 345.9h0.7v0.7h-0.7zM293.3 345.8h0.7v0.7h-0.7zM293.3 341.4h0.7v0.7h-0.7zM292.3 346.1h0.7v0.7h-0.7zM300.5 346.7h0.7v0.7h-0.7zM296.2 347.6h0.7v0.7h-0.7zM296.8 352.8h0.7v0.7h-0.7zM290.9 354.4h0.7v0.7h-0.7zM293.2 343.1h0.7v0.7h-0.7zM294.7 347.8h0.7v0.7h-0.7zM294.4 343.7h0.7v0.7h-0.7zM290.3 341.8h0.7v0.7h-0.7zM290.7 343.1h0.7v0.7h-0.7zM296.0 343.9h0.7v0.7h-0.7zM295.2 338.5h0.7v0.7h-0.7zM294.2 342.8h0.7v0.7h-0.7zM299.1 348.6h0.7v0.7h-0.7zM291.2 350.8h0.7v0.7h-0.7zM294.9 344.0h0.7v0.7h-0.7zM287.9 343.2h0.7v0.7h-0.7zM297.3 350.4h0.7v0.7h-0.7zM289.3 347.9h0.7v0.7h-0.7zM288.7 343.7h0.7v0.7h-0.7zM292.6 345.4h0.7v0.7h-0.7zM291.4 343.7h0.7v0.7h-0.7zM288.7 342.0h0.7v0.7h-0.7zM295.8 339.2h0.7v0.7h-0.7zM294.8 348.5h0.7v0.7h-0.7zM300.7 347.3h0.7v0.7h-0.7zM288.6 353.2h0.7v0.7h-0.7zM287.3 342.2h0.7v0.7h-0.7zM292.6 349.5h0.7v0.7h-0.7zM295.4 351.0h0.7v0.7h-0.7zM295.3 354.3h0.7v0.7h-0.7zM298.3 341.6h0.7v0.7h-0.7zM287.7 351.2h0.7v0.7h-0.7zM290.5 345.0h0.7v0.7h-0.7zM293.3 345.4h0.7v0.7h-0.7zM297.3 345.9h0.7v0.7h-0.7zM295.8 345.0h0.7v0.7h-0.7zM292.1 343.9h0.7v0.7h-0.7zM289.7 333.7h0.7v0.7h-0.7zM297.5 349.8h0.7v0.7h-0.7zM297.8 347.8h0.7v0.7h-0.7zM305.0 345.7h0.7v0.7h-0.7zM293.1 345.6h0.7v0.7h-0.7zM288.9 346.1h0.7v0.7h-0.7zM291.6 343.5h0.7v0.7h-0.7zM291.1 353.1h0.7v0.7h-0.7zM292.0 341.7h0.7v0.7h-0.7zM290.3 344.1h0.7v0.7h-0.7zM291.6 342.7h0.7v0.7h-0.7zM293.7 344.9h0.7v0.7h-0.7zM292.0 348.9h0.7v0.7h-0.7zM296.6 349.8h0.7v0.7h-0.7zM293.5 342.6h0.7v0.7h-0.7zM293.9 345.5h0.7v0.7h-0.7zM299.9 348.7h0.7v0.7h-0.7zM295.2 344.7h0.7v0.7h-0.7zM294.5 346.2h0.7v0.7h-0.7zM293.8 342.7h0.7v0.7h-0.7zM294.1 342.8h0.7v0.7h-0.7zM296.2 347.2h0.7v0.7h-0.7zM290.6 340.1h0.7v0.7h-0.7zM298.6 349.7h0.7v0.7h-0.7zM300.3 347.5h0.7v0.7h-0.7zM298.6 343.5h0.7v0.7h-0.7zM291.9 342.5h0.7v0.7h-0.7zM287.3 341.5h0.7v0.7h-0.7zM292.1 344.7h0.7v0.7h-0.7zM294.5 346.9h0.7v0.7h-0.7zM297.3 346.4h0.7v0.7h-0.7zM293.1 341.8h0.7v0.7h-0.7zM292.6 352.3h0.7v0.7h-0.7zM300.1 352.5h0.7v0.7h-0.7zM291.1 345.6h0.7v0.7h-0.7zM298.3 352.1h0.7v0.7h-0.7zM297.6 349.0h0.7v0.7h-0.7zM288.4 342.9h0.7v0.7h-0.7zM295.0 346.9h0.7v0.7h-0.7zM290.0 349.3h0.7v0.7h-0.7zM286.3 348.2h0.7v0.7h-0.7zM287.4 342.0h0.7v0.7h-0.7zM295.6 349.5h0.7v0.7h-0.7zM295.0 348.5h0.7v0.7h-0.7zM289.5 349.5h0.7v0.7h-0.7zM292.6 351.5h0.7v0.7h-0.7zM292.8 348.7h0.7v0.7h-0.7zM287.5 351.1h0.7v0.7h-0.7zM287.0 344.7h0.7v0.7h-0.7zM295.7 349.0h0.7v0.7h-0.7zM294.5 343.4h0.7v0.7h-0.7zM293.5 347.4h0.7v0.7h-0.7zM296.6 347.6h0.7v0.7h-0.7zM290.2 342.5h0.7v0.7h-0.7zM296.4 347.0h0.7v0.7h-0.7zM302.6 345.6h0.7v0.7h-0.7zM294.1 346.3h0.7v0.7h-0.7zM299.9 346.5h0.7v0.7h-0.7zM299.8 347.6h0.7v0.7h-0.7zM293.8 343.3h0.7v0.7h-0.7zM286.2 342.0h0.7v0.7h-0.7zM297.1 346.7h0.7v0.7h-0.7zM298.2 345.3h0.7v0.7h-0.7zM298.9 352.2h0.7v0.7h-0.7zM298.8 351.0h0.7v0.7h-0.7zM293.8 346.7h0.7v0.7h-0.7zM290.8 339.5h0.7v0.7h-0.7zM292.0 347.8h0.7v0.7h-0.7zM293.7 340.1h0.7v0.7h-0.7zM295.5 347.5h0.7v0.7h-0.7zM291.9 345.6h0.7v0.7h-0.7zM294.1 343.4h0.7v0.7h-0.7zM297.5 343.5h0.7v0.7h-0.7zM295.2 343.4h0.7v0.7h-0.7zM302.8 348.0h0.7v0.7h-0.7zM289.1 343.4h0.7v0.7h-0.7zM291.5 349.7h0.7v0.7h-0.7zM288.5 346.1h0.7v0.7h-0.7zM289.1 349.2h0.7v0.7h-0.7zM296.1 341.2h0.7v0.7h-0.7zM289.8 339.6h0.7v0.7h-0.7zM292.8 345.5h0.7v0.7h-0.7zM297.2 345.9h0.7v0.7h-0.7zM292.4 346.3h0.7v0.7h-0.7zM292.4 350.1h0.7v0.7h-0.7zM297.7 342.0h0.7v0.7h-0.7zM295.8 348.1h0.7v0.7h-0.7zM295.8 346.6h0.7v0.7h-0.7zM297.8 350.6h0.7v0.7h-0.7zM289.7 345.4h0.7v0.7h-0.7zM294.8 344.0h0.7v0.7h-0.7zM291.3 341.2h0.7v0.7h-0.7zM298.1 336.4h0.7v0.7h-0.7zM297.2 351.8h0.7v0.7h-0.7zM289.6 337.8h0.7v0.7h-0.7zM299.4 346.2h0.7v0.7h-0.7zM289.1 352.0h0.7v0.7h-0.7zM298.7 345.9h0.7v0.7h-0.7zM294.7 349.2h0.7v0.7h-0.7zM290.3 343.8h0.7v0.7h-0.7zM289.3 347.6h0.7v0.7h-0.7zM292.6 345.8h0.7v0.7h-0.7zM293.8 343.7h0.7v0.7h-0.7zM290.9 351.2h0.7v0.7h-0.7zM296.2 345.7h0.7v0.7h-0.7zM288.1 337.9h0.7v0.7h-0.7zM293.8 344.6h0.7v0.7h-0.7zM293.9 348.6h0.7v0.7h-0.7zM286.1 338.2h0.7v0.7h-0.7zM295.2 350.1h0.7v0.7h-0.7zM288.7 347.7h0.7v0.7h-0.7zM291.3 342.2h0.7v0.7h-0.7zM292.9 348.8h0.7v0.7h-0.7zM297.6 339.8h0.7v0.7h-0.7zM291.9 343.4h0.7v0.7h-0.7zM300.0 348.7h0.7v0.7h-0.7zM299.8 350.1h0.7v0.7h-0.7zM298.4 347.4h0.7v0.7h-0.7zM299.3 347.6h0.7v0.7h-0.7zM295.3 343.8h0.7v0.7h-0.7zM291.6 343.2h0.7v0.7h-0.7zM296.6 348.4h0.7v0.7h-0.7zM297.9 350.1h0.7v0.7h-0.7zM294.9 349.4h0.7v0.7h-0.7zM292.9 350.3h0.7v0.7h-0.7zM287.4 349.2h0.7v0.7h-0.7zM296.7 338.8h0.7v0.7h-0.7zM295.3 344.2h0.7v0.7h-0.7zM288.5 343.4h0.7v0.7h-0.7zM294.3 343.3h0.7v0.7h-0.7zM296.9 351.9h0.7v0.7h-0.7zM293.4 349.3h0.7v0.7h-0.7zM297.1 346.7h0.7v0.7h-0.7zM297.0 347.7h0.7v0.7h-0.7zM287.8 349.7h0.7v0.7h-0.7zM292.6 344.0h0.7v0.7h-0.7zM295.9 345.4h0.7v0.7h-0.7zM297.7 351.6h0.7v0.7h-0.7zM299.7 350.3h0.7v0.7h-0.7zM285.9 349.7h0.7v0.7h-0.7zM293.6 347.7h0.7v0.7h-0.7zM296.8 350.6h0.7v0.7h-0.7zM298.9 345.4h0.7v0.7h-0.7zM300.9 344.3h0.7v0.7h-0.7zM290.0 344.7h0.7v0.7h-0.7zM292.3 333.4h0.7v0.7h-0.7zM289.5 346.4h0.7v0.7h-0.7zM297.3 351.7h0.7v0.7h-0.7zM288.4 344.5h0.7v0.7h-0.7zM298.8 346.8h0.7v0.7h-0.7zM297.8 352.4h0.7v0.7h-0.7zM295.9 346.6h0.7v0.7h-0.7zM297.0 350.5h0.7v0.7h-0.7zM288.0 348.3h0.7v0.7h-0.7zM292.9 348.0h0.7v0.7h-0.7zM293.4 347.1h0.7v0.7h-0.7zM297.6 348.7h0.7v0.7h-0.7zM295.0 346.8h0.7v0.7h-0.7zM295.0 351.4h0.7v0.7h-0.7zM292.0 338.1h0.7v0.7h-0.7zM293.9 344.9h0.7v0.7h-0.7zM293.3 348.9h0.7v0.7h-0.7zM296.9 343.3h0.7v0.7h-0.7zM293.1 345.3h0.7v0.7h-0.7zM298.2 344.4h0.7v0.7h-0.7zM286.8 345.6h0.7v0.7h-0.7zM298.9 351.8h0.7v0.7h-0.7zM293.2 352.5h0.7v0.7h-0.7zM298.6 350.0h0.7v0.7h-0.7zM294.2 342.9h0.7v0.7h-0.7zM297.4 348.5h0.7v0.7h-0.7zM300.1 350.9h0.7v0.7h-0.7zM291.6 351.7h0.7v0.7h-0.7zM294.2 336.4h0.7v0.7h-0.7zM293.2 347.5h0.7v0.7h-0.7zM294.7 338.1h0.7v0.7h-0.7zM287.1 346.9h0.7v0.7h-0.7zM293.2 347.9h0.7v0.7h-0.7zM292.8 348.0h0.7v0.7h-0.7zM290.6 348.9h0.7v0.7h-0.7zM293.1 347.5h0.7v0.7h-0.7zM287.5 340.8h0.7v0.7h-0.7zM299.7 349.8h0.7v0.7h-0.7zM295.7 352.2h0.7v0.7h-0.7zM301.7 348.3h0.7v0.7h-0.7zM290.2 344.9h0.7v0.7h-0.7zM289.0 338.8h0.7v0.7h-0.7zM295.0 351.8h0.7v0.7h-0.7zM286.9 341.3h0.7v0.7h-0.7zM294.8 343.0h0.7v0.7h-0.7zM290.9 343.0h0.7v0.7h-0.7zM292.5 341.7h0.7v0.7h-0.7zM294.9 345.3h0.7v0.7h-0.7zM294.0 352.0h0.7v0.7h-0.7zM301.6 352.4h0.7v0.7h-0.7zM296.5 353.5h0.7v0.7h-0.7zM288.5 350.9h0.7v0.7h-0.7zM297.9 343.4h0.7v0.7h-0.7zM288.3 346.3h0.7v0.7h-0.7zM294.2 353.0h0.7v0.7h-0.7zM288.7 354.7h0.7v0.7h-0.7zM290.4 338.4h0.7v0.7h-0.7zM299.3 341.5h0.7v0.7h-0.7zM291.5 347.4h0.7v0.7h-0.7zM291.2 343.6h0.7v0.7h-0.7zM291.5 340.7h0.7v0.7h-0.7zM292.6 347.3h0.7v0.7h-0.7zM299.8 344.6h0.7v0.7h-0.7zM289.0 334.0h0.7v0.7h-0.7zM288.7 344.1h0.7v0.7h-0.7zM296.3 347.5h0.7v0.7h-0.7zM287.2 346.6h0.7v0.7h-0.7zM292.3 349.8h0.7v0.7h-0.7zM298.5 348.6h0.7v0.7h-0.7zM293.8 345.0h0.7v0.7h-0.7zM291.8 342.3h0.7v0.7h-0.7zM290.9 337.5h0.7v0.7h-0.7zM290.0 342.7h0.7v0.7h-0.7zM291.4 349.7h0.7v0.7h-0.7zM294.4 349.2h0.7v0.7h-0.7zM297.8 346.8h0.7v0.7h-0.7zM291.5 337.1h0.7v0.7h-0.7zM290.8 348.7h0.7v0.7h-0.7zM296.7 351.8h0.7v0.7h-0.7zM286.3 338.0h0.7v0.7h-0.7zM292.0 338.0h0.7v0.7h-0.7zM292.5 346.2h0.7v0.7h-0.7zM289.2 347.6h0.7v0.7h-0.7zM289.7 339.5h0.7v0.7h-0.7zM295.2 345.0h0.7v0.7h-0.7zM286.9 340.0h0.7v0.7h-0.7zM290.0 339.3h0.7v0.7h-0.7zM291.1 339.1h0.7v0.7h-0.7zM294.1 346.8h0.7v0.7h-0.7zM288.1 342.3h0.7v0.7h-0.7zM298.3 344.6h0.7v0.7h-0.7zM292.5 333.7h0.7v0.7h-0.7zM292.7 353.6h0.7v0.7h-0.7zM292.3 341.2h0.7v0.7h-0.7zM291.0 344.4h0.7v0.7h-0.7zM289.7 339.4h0.7v0.7h-0.7zM298.5 349.4h0.7v0.7h-0.7zM294.6 339.4h0.7v0.7h-0.7zM293.3 346.3h0.7v0.7h-0.7zM297.9 346.6h0.7v0.7h-0.7zM290.8 349.1h0.7v0.7h-0.7zM296.3 341.9h0.7v0.7h-0.7zM293.8 343.1h0.7v0.7h-0.7z" fill="#e02020"/>
<path d="M286.6,355.6 L286.6,334.8 Q287.5,332.6 291,332.4 L299.5,332.1 Q303.2,332.4 303.4,336 L303.2,351 Q302.5,355.6 299.5,355.6 Z" fill="#e02020" opacity="1"/>
<path d="M339.3 341.8h0.7v0.7h-0.7zM346.4 346.0h0.7v0.7h-0.7zM335.5 348.6h0.7v0.7h-0.7zM340.9 350.4h0.7v0.7h-0.7zM338.0 353.2h0.7v0.7h-0.7zM341.0 346.5h0.7v0.7h-0.7zM342.0 345.6h0.7v0.7h-0.7zM340.5 351.9h0.7v0.7h-0.7zM340.8 353.6h0.7v0.7h-0.7zM340.9 346.9h0.7v0.7h-0.7zM338.2 350.2h0.7v0.7h-0.7zM339.4 354.4h0.7v0.7h-0.7zM335.0 350.1h0.7v0.7h-0.7zM339.0 348.6h0.7v0.7h-0.7zM337.7 340.5h0.7v0.7h-0.7zM339.3 354.2h0.7v0.7h-0.7zM342.3 351.4h0.7v0.7h-0.7zM341.2 349.3h0.7v0.7h-0.7zM341.5 347.0h0.7v0.7h-0.7zM343.4 343.8h0.7v0.7h-0.7zM341.3 348.4h0.7v0.7h-0.7zM340.0 353.2h0.7v0.7h-0.7zM339.7 344.0h0.7v0.7h-0.7zM336.0 354.6h0.7v0.7h-0.7zM341.7 349.0h0.7v0.7h-0.7zM343.5 353.6h0.7v0.7h-0.7zM343.2 344.9h0.7v0.7h-0.7zM339.8 350.2h0.7v0.7h-0.7zM342.0 353.7h0.7v0.7h-0.7zM342.8 349.3h0.7v0.7h-0.7zM345.6 342.9h0.7v0.7h-0.7zM343.8 347.5h0.7v0.7h-0.7zM340.5 351.0h0.7v0.7h-0.7zM340.3 343.2h0.7v0.7h-0.7zM340.5 343.0h0.7v0.7h-0.7zM340.7 349.8h0.7v0.7h-0.7zM338.5 345.0h0.7v0.7h-0.7zM342.4 351.6h0.7v0.7h-0.7zM337.9 344.1h0.7v0.7h-0.7zM337.6 341.5h0.7v0.7h-0.7zM341.1 345.7h0.7v0.7h-0.7zM339.3 345.4h0.7v0.7h-0.7zM342.4 349.8h0.7v0.7h-0.7zM340.0 345.0h0.7v0.7h-0.7zM339.6 353.2h0.7v0.7h-0.7zM341.4 349.6h0.7v0.7h-0.7zM340.7 350.6h0.7v0.7h-0.7zM337.9 342.1h0.7v0.7h-0.7zM346.1 341.8h0.7v0.7h-0.7zM338.6 337.8h0.7v0.7h-0.7zM343.0 348.1h0.7v0.7h-0.7zM345.6 347.9h0.7v0.7h-0.7zM338.1 351.7h0.7v0.7h-0.7zM340.3 354.8h0.7v0.7h-0.7zM337.5 347.8h0.7v0.7h-0.7zM343.2 347.8h0.7v0.7h-0.7zM339.0 350.7h0.7v0.7h-0.7zM344.0 345.5h0.7v0.7h-0.7zM342.8 351.4h0.7v0.7h-0.7zM337.3 347.9h0.7v0.7h-0.7zM343.6 347.5h0.7v0.7h-0.7zM340.6 352.1h0.7v0.7h-0.7zM348.3 345.7h0.7v0.7h-0.7zM345.2 344.6h0.7v0.7h-0.7zM338.3 351.5h0.7v0.7h-0.7zM339.2 348.8h0.7v0.7h-0.7zM337.3 347.8h0.7v0.7h-0.7zM340.4 348.3h0.7v0.7h-0.7zM340.2 350.8h0.7v0.7h-0.7zM342.3 347.4h0.7v0.7h-0.7zM340.3 351.9h0.7v0.7h-0.7zM335.5 350.5h0.7v0.7h-0.7zM337.5 354.8h0.7v0.7h-0.7zM344.3 353.9h0.7v0.7h-0.7zM343.5 352.3h0.7v0.7h-0.7zM339.5 348.0h0.7v0.7h-0.7zM339.6 349.3h0.7v0.7h-0.7zM339.5 346.5h0.7v0.7h-0.7zM334.9 348.0h0.7v0.7h-0.7zM342.7 351.1h0.7v0.7h-0.7zM338.0 354.3h0.7v0.7h-0.7zM340.5 343.4h0.7v0.7h-0.7zM340.7 347.3h0.7v0.7h-0.7zM344.1 344.9h0.7v0.7h-0.7zM344.6 346.8h0.7v0.7h-0.7zM341.4 354.0h0.7v0.7h-0.7zM337.8 351.8h0.7v0.7h-0.7zM335.2 349.0h0.7v0.7h-0.7zM343.6 349.0h0.7v0.7h-0.7zM340.8 342.2h0.7v0.7h-0.7zM341.8 351.7h0.7v0.7h-0.7zM339.2 350.6h0.7v0.7h-0.7zM337.6 344.5h0.7v0.7h-0.7zM342.7 349.7h0.7v0.7h-0.7zM337.1 348.1h0.7v0.7h-0.7zM342.8 346.8h0.7v0.7h-0.7zM334.9 344.9h0.7v0.7h-0.7zM337.2 346.2h0.7v0.7h-0.7zM335.6 345.1h0.7v0.7h-0.7zM344.0 350.7h0.7v0.7h-0.7zM336.5 350.2h0.7v0.7h-0.7zM342.0 348.1h0.7v0.7h-0.7zM340.7 347.2h0.7v0.7h-0.7zM345.6 341.4h0.7v0.7h-0.7zM341.9 353.7h0.7v0.7h-0.7zM342.1 350.3h0.7v0.7h-0.7zM337.3 346.8h0.7v0.7h-0.7zM339.0 348.0h0.7v0.7h-0.7zM339.5 344.1h0.7v0.7h-0.7zM335.8 343.3h0.7v0.7h-0.7zM337.2 348.4h0.7v0.7h-0.7zM337.4 342.3h0.7v0.7h-0.7zM343.3 352.2h0.7v0.7h-0.7zM341.3 353.3h0.7v0.7h-0.7zM339.0 335.1h0.7v0.7h-0.7zM339.2 342.7h0.7v0.7h-0.7zM340.9 350.0h0.7v0.7h-0.7zM337.9 349.7h0.7v0.7h-0.7zM339.2 349.3h0.7v0.7h-0.7zM342.0 351.9h0.7v0.7h-0.7zM342.9 352.3h0.7v0.7h-0.7zM341.5 349.0h0.7v0.7h-0.7zM341.1 352.3h0.7v0.7h-0.7zM346.2 342.4h0.7v0.7h-0.7zM340.6 348.4h0.7v0.7h-0.7zM335.9 344.0h0.7v0.7h-0.7zM336.8 354.5h0.7v0.7h-0.7zM343.3 351.1h0.7v0.7h-0.7zM342.4 343.7h0.7v0.7h-0.7zM342.6 348.4h0.7v0.7h-0.7zM340.6 349.0h0.7v0.7h-0.7zM335.4 349.7h0.7v0.7h-0.7zM337.8 353.3h0.7v0.7h-0.7zM338.8 338.3h0.7v0.7h-0.7zM335.8 354.4h0.7v0.7h-0.7zM340.3 346.9h0.7v0.7h-0.7zM339.5 346.7h0.7v0.7h-0.7zM342.2 347.8h0.7v0.7h-0.7zM342.3 343.4h0.7v0.7h-0.7zM335.7 343.6h0.7v0.7h-0.7zM340.4 349.1h0.7v0.7h-0.7zM342.2 352.5h0.7v0.7h-0.7zM342.6 348.2h0.7v0.7h-0.7zM340.6 347.0h0.7v0.7h-0.7zM340.6 347.1h0.7v0.7h-0.7zM339.5 354.7h0.7v0.7h-0.7zM341.5 349.8h0.7v0.7h-0.7zM342.4 349.9h0.7v0.7h-0.7zM340.7 348.0h0.7v0.7h-0.7zM338.6 350.1h0.7v0.7h-0.7zM337.5 347.1h0.7v0.7h-0.7zM338.8 346.2h0.7v0.7h-0.7zM338.2 348.4h0.7v0.7h-0.7zM340.6 346.3h0.7v0.7h-0.7zM340.5 350.1h0.7v0.7h-0.7zM339.7 349.2h0.7v0.7h-0.7zM340.0 347.9h0.7v0.7h-0.7zM340.5 348.1h0.7v0.7h-0.7zM344.8 348.0h0.7v0.7h-0.7zM338.2 348.9h0.7v0.7h-0.7zM341.3 346.5h0.7v0.7h-0.7zM338.9 347.7h0.7v0.7h-0.7zM339.7 351.6h0.7v0.7h-0.7zM339.2 348.1h0.7v0.7h-0.7zM338.0 348.3h0.7v0.7h-0.7zM335.8 347.9h0.7v0.7h-0.7zM340.6 350.5h0.7v0.7h-0.7zM343.6 350.7h0.7v0.7h-0.7zM337.2 342.4h0.7v0.7h-0.7zM341.5 344.6h0.7v0.7h-0.7zM338.8 338.4h0.7v0.7h-0.7zM340.8 352.1h0.7v0.7h-0.7zM337.5 353.3h0.7v0.7h-0.7zM339.2 354.1h0.7v0.7h-0.7zM339.6 349.5h0.7v0.7h-0.7zM340.6 348.8h0.7v0.7h-0.7zM339.5 348.4h0.7v0.7h-0.7zM341.9 345.8h0.7v0.7h-0.7zM339.8 346.5h0.7v0.7h-0.7zM340.6 352.6h0.7v0.7h-0.7zM338.6 347.0h0.7v0.7h-0.7zM336.6 350.4h0.7v0.7h-0.7zM338.6 350.0h0.7v0.7h-0.7zM338.6 345.8h0.7v0.7h-0.7zM346.8 342.0h0.7v0.7h-0.7zM345.6 345.9h0.7v0.7h-0.7zM338.4 343.2h0.7v0.7h-0.7zM338.6 347.6h0.7v0.7h-0.7zM340.9 348.3h0.7v0.7h-0.7zM341.7 348.2h0.7v0.7h-0.7zM337.8 348.2h0.7v0.7h-0.7zM336.8 350.8h0.7v0.7h-0.7zM345.9 345.2h0.7v0.7h-0.7zM343.2 352.4h0.7v0.7h-0.7zM335.1 342.2h0.7v0.7h-0.7zM337.4 350.4h0.7v0.7h-0.7zM340.6 345.7h0.7v0.7h-0.7zM341.6 342.5h0.7v0.7h-0.7zM338.9 351.4h0.7v0.7h-0.7zM334.9 346.2h0.7v0.7h-0.7zM340.6 352.0h0.7v0.7h-0.7zM341.8 352.0h0.7v0.7h-0.7zM339.9 348.9h0.7v0.7h-0.7zM338.4 348.9h0.7v0.7h-0.7zM341.7 352.8h0.7v0.7h-0.7zM339.7 350.4h0.7v0.7h-0.7zM336.4 345.2h0.7v0.7h-0.7zM340.2 349.6h0.7v0.7h-0.7zM335.9 351.1h0.7v0.7h-0.7zM342.9 349.7h0.7v0.7h-0.7zM341.4 349.6h0.7v0.7h-0.7zM336.8 348.3h0.7v0.7h-0.7zM340.6 348.4h0.7v0.7h-0.7zM343.8 345.2h0.7v0.7h-0.7zM339.5 353.4h0.7v0.7h-0.7zM345.0 346.4h0.7v0.7h-0.7zM335.1 349.8h0.7v0.7h-0.7zM339.4 342.9h0.7v0.7h-0.7zM335.5 349.5h0.7v0.7h-0.7zM339.7 345.6h0.7v0.7h-0.7zM334.8 344.8h0.7v0.7h-0.7zM338.2 345.0h0.7v0.7h-0.7zM340.3 352.6h0.7v0.7h-0.7zM341.1 353.4h0.7v0.7h-0.7zM341.2 340.5h0.7v0.7h-0.7zM343.5 349.9h0.7v0.7h-0.7zM342.1 352.4h0.7v0.7h-0.7zM342.2 344.0h0.7v0.7h-0.7zM336.8 351.6h0.7v0.7h-0.7zM339.4 346.8h0.7v0.7h-0.7zM349.9 344.9h0.7v0.7h-0.7zM347.0 347.5h0.7v0.7h-0.7zM342.5 347.1h0.7v0.7h-0.7zM342.2 343.4h0.7v0.7h-0.7zM338.6 347.1h0.7v0.7h-0.7zM346.0 345.9h0.7v0.7h-0.7zM338.7 352.3h0.7v0.7h-0.7zM339.6 348.6h0.7v0.7h-0.7zM346.7 354.2h0.7v0.7h-0.7zM341.0 350.3h0.7v0.7h-0.7zM337.9 349.5h0.7v0.7h-0.7zM339.6 348.1h0.7v0.7h-0.7zM338.8 348.5h0.7v0.7h-0.7zM337.5 346.2h0.7v0.7h-0.7zM339.6 346.7h0.7v0.7h-0.7zM336.2 347.5h0.7v0.7h-0.7zM338.7 351.2h0.7v0.7h-0.7zM335.5 350.5h0.7v0.7h-0.7zM342.0 352.6h0.7v0.7h-0.7zM335.8 343.6h0.7v0.7h-0.7zM342.1 349.9h0.7v0.7h-0.7zM338.6 348.2h0.7v0.7h-0.7zM338.9 347.7h0.7v0.7h-0.7zM343.6 349.5h0.7v0.7h-0.7zM340.2 341.1h0.7v0.7h-0.7zM341.5 349.5h0.7v0.7h-0.7zM340.7 348.5h0.7v0.7h-0.7zM335.5 347.3h0.7v0.7h-0.7zM340.2 351.2h0.7v0.7h-0.7zM338.9 348.0h0.7v0.7h-0.7zM346.2 345.7h0.7v0.7h-0.7zM338.5 345.2h0.7v0.7h-0.7zM346.0 347.3h0.7v0.7h-0.7zM344.3 354.0h0.7v0.7h-0.7zM338.0 352.1h0.7v0.7h-0.7zM337.3 346.1h0.7v0.7h-0.7zM344.1 352.8h0.7v0.7h-0.7zM339.5 348.4h0.7v0.7h-0.7zM340.4 346.1h0.7v0.7h-0.7zM339.1 350.6h0.7v0.7h-0.7zM336.1 345.3h0.7v0.7h-0.7zM338.7 342.7h0.7v0.7h-0.7zM336.9 354.0h0.7v0.7h-0.7zM335.1 341.6h0.7v0.7h-0.7zM339.0 351.0h0.7v0.7h-0.7zM345.6 342.8h0.7v0.7h-0.7zM345.0 348.8h0.7v0.7h-0.7zM339.7 348.1h0.7v0.7h-0.7zM340.3 347.1h0.7v0.7h-0.7zM341.5 340.2h0.7v0.7h-0.7zM344.2 348.5h0.7v0.7h-0.7zM340.9 348.7h0.7v0.7h-0.7zM338.4 345.3h0.7v0.7h-0.7zM338.7 348.6h0.7v0.7h-0.7zM343.5 352.8h0.7v0.7h-0.7zM348.2 346.0h0.7v0.7h-0.7zM337.9 349.9h0.7v0.7h-0.7zM342.5 350.4h0.7v0.7h-0.7zM339.7 351.4h0.7v0.7h-0.7zM343.8 352.5h0.7v0.7h-0.7zM340.1 350.6h0.7v0.7h-0.7zM335.7 354.5h0.7v0.7h-0.7zM339.8 353.1h0.7v0.7h-0.7zM336.2 346.7h0.7v0.7h-0.7zM340.8 346.5h0.7v0.7h-0.7zM335.8 353.2h0.7v0.7h-0.7zM338.8 349.8h0.7v0.7h-0.7zM335.2 354.1h0.7v0.7h-0.7zM338.8 343.2h0.7v0.7h-0.7zM338.5 350.0h0.7v0.7h-0.7zM341.8 346.8h0.7v0.7h-0.7zM344.2 347.8h0.7v0.7h-0.7zM339.3 341.4h0.7v0.7h-0.7zM337.2 352.6h0.7v0.7h-0.7zM346.1 349.7h0.7v0.7h-0.7zM341.1 345.0h0.7v0.7h-0.7zM341.9 343.6h0.7v0.7h-0.7zM341.9 345.5h0.7v0.7h-0.7zM344.6 354.4h0.7v0.7h-0.7zM343.1 348.5h0.7v0.7h-0.7zM342.1 347.6h0.7v0.7h-0.7zM342.4 350.9h0.7v0.7h-0.7zM337.2 349.0h0.7v0.7h-0.7zM338.0 349.8h0.7v0.7h-0.7zM339.6 351.9h0.7v0.7h-0.7zM340.2 350.2h0.7v0.7h-0.7zM340.0 352.4h0.7v0.7h-0.7zM340.9 344.2h0.7v0.7h-0.7zM340.0 349.2h0.7v0.7h-0.7zM338.6 347.5h0.7v0.7h-0.7zM342.6 348.8h0.7v0.7h-0.7zM341.8 346.4h0.7v0.7h-0.7zM337.1 347.6h0.7v0.7h-0.7zM341.5 352.7h0.7v0.7h-0.7zM341.2 346.8h0.7v0.7h-0.7zM340.1 344.1h0.7v0.7h-0.7zM336.1 352.8h0.7v0.7h-0.7zM338.0 347.9h0.7v0.7h-0.7zM345.1 349.5h0.7v0.7h-0.7zM337.2 345.7h0.7v0.7h-0.7zM338.8 348.2h0.7v0.7h-0.7zM336.4 353.3h0.7v0.7h-0.7zM338.3 352.1h0.7v0.7h-0.7zM341.0 349.6h0.7v0.7h-0.7zM342.0 350.2h0.7v0.7h-0.7zM340.0 350.8h0.7v0.7h-0.7zM338.0 353.1h0.7v0.7h-0.7zM343.0 350.5h0.7v0.7h-0.7zM339.4 344.6h0.7v0.7h-0.7zM343.5 353.7h0.7v0.7h-0.7zM337.8 352.4h0.7v0.7h-0.7zM338.9 354.3h0.7v0.7h-0.7zM343.0 351.6h0.7v0.7h-0.7zM339.1 350.8h0.7v0.7h-0.7zM336.1 354.8h0.7v0.7h-0.7zM337.7 346.4h0.7v0.7h-0.7zM335.7 351.5h0.7v0.7h-0.7zM341.7 353.2h0.7v0.7h-0.7zM343.1 344.5h0.7v0.7h-0.7zM340.1 349.5h0.7v0.7h-0.7zM335.2 351.4h0.7v0.7h-0.7zM338.9 351.5h0.7v0.7h-0.7zM343.2 346.0h0.7v0.7h-0.7zM343.5 350.3h0.7v0.7h-0.7zM344.1 353.4h0.7v0.7h-0.7zM339.6 347.6h0.7v0.7h-0.7zM340.3 347.9h0.7v0.7h-0.7zM340.7 344.6h0.7v0.7h-0.7zM341.9 352.2h0.7v0.7h-0.7zM343.4 343.7h0.7v0.7h-0.7zM341.0 352.0h0.7v0.7h-0.7zM343.6 352.6h0.7v0.7h-0.7zM341.4 346.9h0.7v0.7h-0.7zM342.1 347.6h0.7v0.7h-0.7zM337.6 345.0h0.7v0.7h-0.7zM338.6 346.0h0.7v0.7h-0.7zM335.8 349.7h0.7v0.7h-0.7zM339.0 351.6h0.7v0.7h-0.7zM339.4 349.5h0.7v0.7h-0.7zM342.6 352.4h0.7v0.7h-0.7zM335.9 349.9h0.7v0.7h-0.7zM350.3 344.5h0.7v0.7h-0.7zM339.5 354.7h0.7v0.7h-0.7zM343.9 353.7h0.7v0.7h-0.7zM343.2 346.3h0.7v0.7h-0.7zM339.1 350.9h0.7v0.7h-0.7zM344.6 349.6h0.7v0.7h-0.7zM342.4 339.3h0.7v0.7h-0.7zM337.0 342.8h0.7v0.7h-0.7zM338.4 351.8h0.7v0.7h-0.7zM340.6 348.1h0.7v0.7h-0.7zM337.8 351.0h0.7v0.7h-0.7zM337.5 344.1h0.7v0.7h-0.7zM342.2 346.5h0.7v0.7h-0.7zM351.1 352.4h0.7v0.7h-0.7zM341.7 341.3h0.7v0.7h-0.7zM339.7 350.1h0.7v0.7h-0.7zM337.6 347.6h0.7v0.7h-0.7zM340.7 342.3h0.7v0.7h-0.7zM344.8 348.5h0.7v0.7h-0.7zM340.5 342.9h0.7v0.7h-0.7zM342.8 347.0h0.7v0.7h-0.7zM348.0 351.1h0.7v0.7h-0.7zM341.8 351.5h0.7v0.7h-0.7zM341.6 350.5h0.7v0.7h-0.7zM340.8 352.9h0.7v0.7h-0.7zM336.3 344.6h0.7v0.7h-0.7zM336.3 347.7h0.7v0.7h-0.7zM339.1 352.5h0.7v0.7h-0.7zM340.2 346.3h0.7v0.7h-0.7zM336.0 347.4h0.7v0.7h-0.7zM336.5 353.8h0.7v0.7h-0.7zM343.2 346.8h0.7v0.7h-0.7zM338.1 346.0h0.7v0.7h-0.7zM337.7 351.4h0.7v0.7h-0.7zM337.6 350.2h0.7v0.7h-0.7zM347.8 346.5h0.7v0.7h-0.7zM341.5 351.5h0.7v0.7h-0.7zM339.7 351.3h0.7v0.7h-0.7zM343.1 349.5h0.7v0.7h-0.7zM343.6 354.5h0.7v0.7h-0.7zM335.3 352.3h0.7v0.7h-0.7zM339.6 353.1h0.7v0.7h-0.7zM338.8 353.4h0.7v0.7h-0.7zM336.0 346.4h0.7v0.7h-0.7zM338.6 350.4h0.7v0.7h-0.7zM336.4 349.4h0.7v0.7h-0.7zM341.0 346.9h0.7v0.7h-0.7zM340.0 350.2h0.7v0.7h-0.7zM335.3 350.1h0.7v0.7h-0.7zM338.3 347.3h0.7v0.7h-0.7zM342.0 352.4h0.7v0.7h-0.7zM341.5 342.9h0.7v0.7h-0.7zM339.7 352.4h0.7v0.7h-0.7zM338.3 350.2h0.7v0.7h-0.7zM337.5 339.9h0.7v0.7h-0.7zM336.0 342.4h0.7v0.7h-0.7zM338.5 345.8h0.7v0.7h-0.7zM337.7 351.7h0.7v0.7h-0.7zM348.6 346.8h0.7v0.7h-0.7zM342.1 347.6h0.7v0.7h-0.7zM339.3 340.4h0.7v0.7h-0.7zM339.7 347.5h0.7v0.7h-0.7zM339.5 350.0h0.7v0.7h-0.7zM340.5 351.8h0.7v0.7h-0.7zM338.6 348.0h0.7v0.7h-0.7zM339.8 350.0h0.7v0.7h-0.7zM343.2 350.9h0.7v0.7h-0.7zM342.5 346.5h0.7v0.7h-0.7zM340.9 346.2h0.7v0.7h-0.7zM340.6 345.8h0.7v0.7h-0.7zM336.7 354.0h0.7v0.7h-0.7z" fill="#e02020"/>
<path d="M335.3,355.5 L335.3,345 Q337,341 341,341.5 Q346,343 346.5,349 L346,355.5Z" fill="#e02020" opacity="1"/>
<path d="M365.2 349.9h0.6v0.6h-0.6zM368.0 349.0h0.6v0.6h-0.6zM363.8 352.4h0.6v0.6h-0.6zM366.1 349.9h0.6v0.6h-0.6zM365.7 346.0h0.6v0.6h-0.6zM364.6 349.0h0.6v0.6h-0.6zM365.7 349.8h0.6v0.6h-0.6zM363.6 347.5h0.6v0.6h-0.6z" fill="#e02020"/>
<path d="M398.7 343.9h0.7v0.7h-0.7zM394.5 344.8h0.7v0.7h-0.7zM396.5 341.1h0.7v0.7h-0.7zM389.3 349.6h0.7v0.7h-0.7zM390.9 350.4h0.7v0.7h-0.7zM397.3 349.9h0.7v0.7h-0.7zM386.2 341.2h0.7v0.7h-0.7zM394.4 343.4h0.7v0.7h-0.7zM393.1 340.2h0.7v0.7h-0.7zM390.5 339.4h0.7v0.7h-0.7zM393.1 340.6h0.7v0.7h-0.7zM387.9 339.5h0.7v0.7h-0.7zM393.7 346.2h0.7v0.7h-0.7zM387.2 349.0h0.7v0.7h-0.7zM386.9 350.0h0.7v0.7h-0.7zM399.0 346.9h0.7v0.7h-0.7zM389.5 343.8h0.7v0.7h-0.7zM397.1 349.7h0.7v0.7h-0.7zM389.2 345.6h0.7v0.7h-0.7zM392.4 345.6h0.7v0.7h-0.7zM396.9 344.5h0.7v0.7h-0.7zM394.3 347.2h0.7v0.7h-0.7zM400.5 341.7h0.7v0.7h-0.7zM392.1 352.0h0.7v0.7h-0.7zM395.4 339.6h0.7v0.7h-0.7zM388.2 349.2h0.7v0.7h-0.7zM393.4 340.5h0.7v0.7h-0.7zM399.6 354.2h0.7v0.7h-0.7zM395.0 351.1h0.7v0.7h-0.7zM393.4 343.2h0.7v0.7h-0.7zM383.8 344.9h0.7v0.7h-0.7zM391.0 341.7h0.7v0.7h-0.7zM386.9 346.7h0.7v0.7h-0.7zM396.2 349.0h0.7v0.7h-0.7zM394.3 340.5h0.7v0.7h-0.7zM388.2 352.9h0.7v0.7h-0.7zM401.2 344.2h0.7v0.7h-0.7zM387.4 348.3h0.7v0.7h-0.7zM393.3 351.2h0.7v0.7h-0.7zM404.6 349.6h0.7v0.7h-0.7zM393.7 349.0h0.7v0.7h-0.7zM388.8 346.1h0.7v0.7h-0.7zM395.5 347.0h0.7v0.7h-0.7zM397.2 347.7h0.7v0.7h-0.7zM396.7 352.7h0.7v0.7h-0.7zM383.8 340.1h0.7v0.7h-0.7zM393.7 344.7h0.7v0.7h-0.7zM401.3 342.4h0.7v0.7h-0.7zM393.0 343.2h0.7v0.7h-0.7zM390.6 352.2h0.7v0.7h-0.7zM394.9 353.4h0.7v0.7h-0.7zM387.3 341.4h0.7v0.7h-0.7zM400.1 347.4h0.7v0.7h-0.7zM391.6 341.6h0.7v0.7h-0.7zM384.7 349.1h0.7v0.7h-0.7zM399.1 353.0h0.7v0.7h-0.7zM399.7 349.8h0.7v0.7h-0.7zM398.4 351.1h0.7v0.7h-0.7zM395.2 346.3h0.7v0.7h-0.7zM388.7 337.7h0.7v0.7h-0.7zM397.0 337.6h0.7v0.7h-0.7zM401.2 346.5h0.7v0.7h-0.7zM396.4 349.7h0.7v0.7h-0.7zM400.0 353.0h0.7v0.7h-0.7zM389.2 345.4h0.7v0.7h-0.7zM397.4 347.4h0.7v0.7h-0.7zM397.0 348.2h0.7v0.7h-0.7zM386.0 352.0h0.7v0.7h-0.7zM385.3 346.7h0.7v0.7h-0.7zM389.5 341.8h0.7v0.7h-0.7zM393.1 352.1h0.7v0.7h-0.7zM394.8 348.9h0.7v0.7h-0.7zM391.7 348.8h0.7v0.7h-0.7zM392.4 341.0h0.7v0.7h-0.7zM392.2 347.0h0.7v0.7h-0.7zM393.1 338.9h0.7v0.7h-0.7zM395.4 337.5h0.7v0.7h-0.7zM395.0 345.9h0.7v0.7h-0.7zM392.5 344.9h0.7v0.7h-0.7zM393.9 349.7h0.7v0.7h-0.7zM390.7 353.8h0.7v0.7h-0.7zM396.4 346.8h0.7v0.7h-0.7zM400.2 344.2h0.7v0.7h-0.7zM392.6 350.6h0.7v0.7h-0.7zM394.0 341.0h0.7v0.7h-0.7zM389.3 347.6h0.7v0.7h-0.7zM391.2 345.5h0.7v0.7h-0.7zM393.5 346.0h0.7v0.7h-0.7zM392.8 349.8h0.7v0.7h-0.7zM389.9 338.1h0.7v0.7h-0.7zM387.4 347.5h0.7v0.7h-0.7zM392.9 343.2h0.7v0.7h-0.7zM393.4 347.6h0.7v0.7h-0.7zM395.3 348.9h0.7v0.7h-0.7zM398.4 345.2h0.7v0.7h-0.7zM391.3 345.2h0.7v0.7h-0.7zM383.6 341.6h0.7v0.7h-0.7zM392.1 349.6h0.7v0.7h-0.7zM384.3 343.8h0.7v0.7h-0.7zM386.9 349.1h0.7v0.7h-0.7zM397.5 340.3h0.7v0.7h-0.7zM395.3 353.5h0.7v0.7h-0.7zM389.8 342.2h0.7v0.7h-0.7zM389.8 352.5h0.7v0.7h-0.7zM392.3 344.9h0.7v0.7h-0.7zM384.7 349.6h0.7v0.7h-0.7zM394.9 346.3h0.7v0.7h-0.7zM391.2 350.2h0.7v0.7h-0.7zM401.2 347.0h0.7v0.7h-0.7zM387.9 353.0h0.7v0.7h-0.7zM397.3 350.2h0.7v0.7h-0.7zM389.6 350.2h0.7v0.7h-0.7zM388.3 343.7h0.7v0.7h-0.7zM396.1 353.1h0.7v0.7h-0.7zM390.7 347.3h0.7v0.7h-0.7zM389.0 340.0h0.7v0.7h-0.7zM392.1 349.3h0.7v0.7h-0.7zM394.9 346.0h0.7v0.7h-0.7zM400.0 344.7h0.7v0.7h-0.7zM396.5 347.2h0.7v0.7h-0.7zM390.9 338.0h0.7v0.7h-0.7zM383.6 349.4h0.7v0.7h-0.7zM391.0 342.3h0.7v0.7h-0.7zM395.6 353.6h0.7v0.7h-0.7zM387.4 347.0h0.7v0.7h-0.7zM393.4 339.5h0.7v0.7h-0.7zM391.4 347.9h0.7v0.7h-0.7zM400.0 347.8h0.7v0.7h-0.7zM394.2 350.4h0.7v0.7h-0.7zM395.2 345.6h0.7v0.7h-0.7zM400.8 341.4h0.7v0.7h-0.7zM390.5 346.3h0.7v0.7h-0.7zM392.8 342.6h0.7v0.7h-0.7zM393.9 343.7h0.7v0.7h-0.7zM397.5 343.9h0.7v0.7h-0.7zM399.0 346.8h0.7v0.7h-0.7zM392.6 341.1h0.7v0.7h-0.7zM389.5 344.9h0.7v0.7h-0.7zM389.3 346.4h0.7v0.7h-0.7zM386.4 344.7h0.7v0.7h-0.7zM393.3 345.8h0.7v0.7h-0.7zM399.0 352.9h0.7v0.7h-0.7zM399.2 345.0h0.7v0.7h-0.7zM385.4 350.5h0.7v0.7h-0.7zM394.3 343.9h0.7v0.7h-0.7zM387.0 347.4h0.7v0.7h-0.7zM396.4 346.9h0.7v0.7h-0.7zM396.4 349.5h0.7v0.7h-0.7zM393.6 346.2h0.7v0.7h-0.7zM396.6 346.3h0.7v0.7h-0.7zM393.0 342.9h0.7v0.7h-0.7zM395.4 348.7h0.7v0.7h-0.7zM401.2 342.6h0.7v0.7h-0.7zM389.8 346.9h0.7v0.7h-0.7zM389.1 345.9h0.7v0.7h-0.7zM391.7 350.7h0.7v0.7h-0.7zM391.7 346.6h0.7v0.7h-0.7zM393.1 347.4h0.7v0.7h-0.7zM390.0 346.8h0.7v0.7h-0.7zM395.8 343.6h0.7v0.7h-0.7zM393.0 342.7h0.7v0.7h-0.7zM394.5 343.7h0.7v0.7h-0.7zM392.8 352.3h0.7v0.7h-0.7zM395.6 344.0h0.7v0.7h-0.7zM387.3 345.1h0.7v0.7h-0.7zM400.1 344.9h0.7v0.7h-0.7zM394.4 350.3h0.7v0.7h-0.7zM395.6 342.6h0.7v0.7h-0.7zM397.8 349.6h0.7v0.7h-0.7zM396.2 347.6h0.7v0.7h-0.7zM393.9 345.6h0.7v0.7h-0.7zM392.0 349.4h0.7v0.7h-0.7zM385.3 341.0h0.7v0.7h-0.7zM393.8 350.9h0.7v0.7h-0.7zM391.4 348.0h0.7v0.7h-0.7zM391.4 342.3h0.7v0.7h-0.7zM403.9 354.5h0.7v0.7h-0.7zM384.3 351.0h0.7v0.7h-0.7zM393.1 352.5h0.7v0.7h-0.7zM398.4 340.1h0.7v0.7h-0.7zM397.3 345.7h0.7v0.7h-0.7zM398.5 344.5h0.7v0.7h-0.7zM387.0 349.9h0.7v0.7h-0.7zM388.4 353.4h0.7v0.7h-0.7zM395.7 338.0h0.7v0.7h-0.7zM391.5 347.1h0.7v0.7h-0.7zM400.7 346.4h0.7v0.7h-0.7zM393.9 351.7h0.7v0.7h-0.7zM393.8 346.8h0.7v0.7h-0.7zM394.9 341.0h0.7v0.7h-0.7zM391.6 346.1h0.7v0.7h-0.7zM393.4 342.1h0.7v0.7h-0.7zM389.8 343.3h0.7v0.7h-0.7zM392.7 347.2h0.7v0.7h-0.7zM390.6 344.7h0.7v0.7h-0.7zM394.1 348.3h0.7v0.7h-0.7zM386.4 339.9h0.7v0.7h-0.7zM395.0 352.9h0.7v0.7h-0.7zM393.9 350.4h0.7v0.7h-0.7zM388.4 340.9h0.7v0.7h-0.7zM391.8 336.8h0.7v0.7h-0.7zM388.1 342.9h0.7v0.7h-0.7zM402.3 345.9h0.7v0.7h-0.7zM400.8 353.1h0.7v0.7h-0.7zM389.1 344.5h0.7v0.7h-0.7zM394.8 352.7h0.7v0.7h-0.7zM391.7 352.8h0.7v0.7h-0.7zM391.1 347.1h0.7v0.7h-0.7zM397.2 352.7h0.7v0.7h-0.7zM396.6 348.6h0.7v0.7h-0.7zM391.6 343.9h0.7v0.7h-0.7zM388.7 341.5h0.7v0.7h-0.7zM402.4 346.4h0.7v0.7h-0.7zM399.4 351.7h0.7v0.7h-0.7zM393.6 340.6h0.7v0.7h-0.7zM391.5 339.4h0.7v0.7h-0.7zM394.3 349.6h0.7v0.7h-0.7zM393.3 334.2h0.7v0.7h-0.7zM388.5 344.9h0.7v0.7h-0.7zM393.0 350.4h0.7v0.7h-0.7zM398.9 340.2h0.7v0.7h-0.7zM401.2 342.1h0.7v0.7h-0.7zM395.4 345.7h0.7v0.7h-0.7zM399.4 346.4h0.7v0.7h-0.7zM391.5 348.1h0.7v0.7h-0.7zM388.6 352.0h0.7v0.7h-0.7zM397.7 353.2h0.7v0.7h-0.7zM395.2 347.5h0.7v0.7h-0.7zM392.0 345.4h0.7v0.7h-0.7zM399.6 346.8h0.7v0.7h-0.7zM394.0 348.4h0.7v0.7h-0.7zM384.7 353.2h0.7v0.7h-0.7zM394.5 347.6h0.7v0.7h-0.7zM401.6 343.0h0.7v0.7h-0.7zM392.8 349.5h0.7v0.7h-0.7zM394.9 353.1h0.7v0.7h-0.7zM394.0 348.6h0.7v0.7h-0.7zM386.4 342.8h0.7v0.7h-0.7zM393.5 343.6h0.7v0.7h-0.7zM391.4 346.3h0.7v0.7h-0.7zM399.4 348.5h0.7v0.7h-0.7zM404.0 345.8h0.7v0.7h-0.7zM387.8 340.2h0.7v0.7h-0.7zM388.5 343.5h0.7v0.7h-0.7zM389.0 349.4h0.7v0.7h-0.7zM389.9 350.9h0.7v0.7h-0.7zM389.7 340.4h0.7v0.7h-0.7zM393.2 345.3h0.7v0.7h-0.7zM397.9 339.1h0.7v0.7h-0.7zM386.9 344.3h0.7v0.7h-0.7zM384.5 347.3h0.7v0.7h-0.7zM398.0 345.4h0.7v0.7h-0.7zM399.0 344.2h0.7v0.7h-0.7zM385.9 341.3h0.7v0.7h-0.7zM385.4 338.3h0.7v0.7h-0.7zM393.5 346.8h0.7v0.7h-0.7zM398.0 345.7h0.7v0.7h-0.7zM397.6 353.9h0.7v0.7h-0.7zM393.8 339.3h0.7v0.7h-0.7zM396.1 349.0h0.7v0.7h-0.7zM394.4 353.3h0.7v0.7h-0.7zM390.4 337.8h0.7v0.7h-0.7zM401.7 350.1h0.7v0.7h-0.7zM392.9 339.4h0.7v0.7h-0.7zM387.8 349.5h0.7v0.7h-0.7zM390.8 353.9h0.7v0.7h-0.7zM385.8 347.0h0.7v0.7h-0.7zM393.0 348.4h0.7v0.7h-0.7zM398.0 343.7h0.7v0.7h-0.7zM387.1 348.4h0.7v0.7h-0.7zM398.1 352.3h0.7v0.7h-0.7zM402.6 346.1h0.7v0.7h-0.7zM394.7 346.3h0.7v0.7h-0.7zM387.6 348.8h0.7v0.7h-0.7zM389.0 350.9h0.7v0.7h-0.7zM391.4 339.3h0.7v0.7h-0.7zM387.0 347.3h0.7v0.7h-0.7zM387.2 343.8h0.7v0.7h-0.7zM391.7 349.3h0.7v0.7h-0.7zM392.1 351.9h0.7v0.7h-0.7zM395.7 348.5h0.7v0.7h-0.7zM387.4 353.1h0.7v0.7h-0.7zM401.6 342.3h0.7v0.7h-0.7zM397.8 345.1h0.7v0.7h-0.7zM397.0 342.3h0.7v0.7h-0.7zM389.9 347.3h0.7v0.7h-0.7zM400.9 347.5h0.7v0.7h-0.7zM391.4 346.1h0.7v0.7h-0.7zM401.3 341.3h0.7v0.7h-0.7zM397.9 346.6h0.7v0.7h-0.7zM388.8 344.9h0.7v0.7h-0.7zM390.8 349.8h0.7v0.7h-0.7zM401.5 345.7h0.7v0.7h-0.7zM397.5 352.5h0.7v0.7h-0.7zM392.2 348.1h0.7v0.7h-0.7zM393.9 338.3h0.7v0.7h-0.7zM393.9 346.2h0.7v0.7h-0.7zM389.4 340.3h0.7v0.7h-0.7zM392.0 351.6h0.7v0.7h-0.7zM389.9 353.8h0.7v0.7h-0.7zM391.0 346.9h0.7v0.7h-0.7zM395.1 349.1h0.7v0.7h-0.7zM388.5 340.2h0.7v0.7h-0.7zM396.3 336.4h0.7v0.7h-0.7zM393.4 344.4h0.7v0.7h-0.7zM396.5 345.8h0.7v0.7h-0.7zM397.0 339.9h0.7v0.7h-0.7zM398.7 347.4h0.7v0.7h-0.7zM395.8 348.5h0.7v0.7h-0.7zM396.2 350.0h0.7v0.7h-0.7zM392.1 354.3h0.7v0.7h-0.7zM395.6 350.8h0.7v0.7h-0.7zM388.8 345.3h0.7v0.7h-0.7zM391.8 347.5h0.7v0.7h-0.7zM396.4 349.8h0.7v0.7h-0.7zM392.7 342.1h0.7v0.7h-0.7zM395.0 353.3h0.7v0.7h-0.7zM388.1 351.3h0.7v0.7h-0.7zM399.2 345.9h0.7v0.7h-0.7zM390.3 344.0h0.7v0.7h-0.7zM392.8 351.0h0.7v0.7h-0.7zM397.2 351.4h0.7v0.7h-0.7zM388.3 351.6h0.7v0.7h-0.7zM384.2 348.0h0.7v0.7h-0.7zM391.5 350.3h0.7v0.7h-0.7zM387.4 342.7h0.7v0.7h-0.7zM395.4 350.4h0.7v0.7h-0.7zM399.6 339.8h0.7v0.7h-0.7zM387.0 349.6h0.7v0.7h-0.7zM394.4 339.7h0.7v0.7h-0.7zM394.3 341.6h0.7v0.7h-0.7zM394.4 352.0h0.7v0.7h-0.7zM395.3 344.5h0.7v0.7h-0.7zM395.6 348.5h0.7v0.7h-0.7zM400.5 343.9h0.7v0.7h-0.7zM387.2 351.9h0.7v0.7h-0.7zM393.9 350.7h0.7v0.7h-0.7zM389.2 350.3h0.7v0.7h-0.7zM391.7 347.8h0.7v0.7h-0.7zM390.5 345.9h0.7v0.7h-0.7zM389.7 349.9h0.7v0.7h-0.7zM396.1 347.8h0.7v0.7h-0.7zM391.1 346.4h0.7v0.7h-0.7zM387.9 340.6h0.7v0.7h-0.7zM389.6 345.6h0.7v0.7h-0.7zM393.1 349.9h0.7v0.7h-0.7zM402.7 344.9h0.7v0.7h-0.7zM394.1 348.7h0.7v0.7h-0.7zM399.8 346.4h0.7v0.7h-0.7zM395.2 342.2h0.7v0.7h-0.7zM394.7 343.6h0.7v0.7h-0.7zM389.0 345.7h0.7v0.7h-0.7zM386.7 345.9h0.7v0.7h-0.7zM388.0 352.4h0.7v0.7h-0.7zM401.2 342.0h0.7v0.7h-0.7zM385.6 337.5h0.7v0.7h-0.7zM390.1 350.3h0.7v0.7h-0.7zM398.3 345.0h0.7v0.7h-0.7zM396.0 346.5h0.7v0.7h-0.7zM392.4 354.0h0.7v0.7h-0.7zM390.5 349.9h0.7v0.7h-0.7zM392.0 351.6h0.7v0.7h-0.7zM396.4 347.7h0.7v0.7h-0.7zM390.3 351.6h0.7v0.7h-0.7zM391.4 344.2h0.7v0.7h-0.7zM399.7 343.8h0.7v0.7h-0.7zM384.4 344.9h0.7v0.7h-0.7zM391.2 354.6h0.7v0.7h-0.7zM395.1 354.5h0.7v0.7h-0.7zM387.2 344.3h0.7v0.7h-0.7zM390.0 352.6h0.7v0.7h-0.7zM386.8 346.4h0.7v0.7h-0.7zM393.6 352.2h0.7v0.7h-0.7zM390.0 345.6h0.7v0.7h-0.7zM396.6 351.7h0.7v0.7h-0.7zM397.7 346.6h0.7v0.7h-0.7zM393.1 345.8h0.7v0.7h-0.7zM391.2 347.0h0.7v0.7h-0.7zM394.1 347.9h0.7v0.7h-0.7zM393.2 344.4h0.7v0.7h-0.7zM387.3 340.7h0.7v0.7h-0.7zM394.0 345.3h0.7v0.7h-0.7zM396.6 338.6h0.7v0.7h-0.7zM386.6 336.4h0.7v0.7h-0.7zM397.0 333.9h0.7v0.7h-0.7zM402.7 344.3h0.7v0.7h-0.7zM395.8 353.6h0.7v0.7h-0.7zM386.2 339.4h0.7v0.7h-0.7zM393.1 345.6h0.7v0.7h-0.7zM392.6 338.5h0.7v0.7h-0.7zM393.9 352.4h0.7v0.7h-0.7zM391.8 348.9h0.7v0.7h-0.7zM395.2 348.7h0.7v0.7h-0.7zM390.8 353.6h0.7v0.7h-0.7zM389.7 352.0h0.7v0.7h-0.7zM393.4 344.4h0.7v0.7h-0.7zM397.5 340.9h0.7v0.7h-0.7zM390.6 342.2h0.7v0.7h-0.7zM396.0 338.9h0.7v0.7h-0.7zM391.2 346.3h0.7v0.7h-0.7zM391.8 347.8h0.7v0.7h-0.7zM398.7 348.1h0.7v0.7h-0.7zM398.6 344.5h0.7v0.7h-0.7zM386.1 352.8h0.7v0.7h-0.7zM392.2 348.6h0.7v0.7h-0.7zM397.1 346.5h0.7v0.7h-0.7zM396.1 338.1h0.7v0.7h-0.7zM388.2 351.5h0.7v0.7h-0.7zM387.2 343.7h0.7v0.7h-0.7zM397.0 345.0h0.7v0.7h-0.7zM387.0 348.3h0.7v0.7h-0.7zM395.6 347.6h0.7v0.7h-0.7zM390.5 352.5h0.7v0.7h-0.7zM392.8 344.0h0.7v0.7h-0.7zM403.6 348.0h0.7v0.7h-0.7zM400.1 348.5h0.7v0.7h-0.7zM396.8 347.3h0.7v0.7h-0.7zM386.5 350.4h0.7v0.7h-0.7zM394.4 346.0h0.7v0.7h-0.7zM393.1 352.9h0.7v0.7h-0.7zM392.4 343.8h0.7v0.7h-0.7zM399.1 340.4h0.7v0.7h-0.7zM384.9 347.0h0.7v0.7h-0.7zM394.4 352.8h0.7v0.7h-0.7zM393.5 344.8h0.7v0.7h-0.7zM389.4 344.2h0.7v0.7h-0.7zM400.9 345.6h0.7v0.7h-0.7zM387.0 348.0h0.7v0.7h-0.7zM393.0 346.4h0.7v0.7h-0.7zM393.3 348.7h0.7v0.7h-0.7zM386.2 354.3h0.7v0.7h-0.7zM388.4 350.0h0.7v0.7h-0.7zM396.5 343.1h0.7v0.7h-0.7zM397.3 353.7h0.7v0.7h-0.7zM395.6 349.3h0.7v0.7h-0.7zM394.0 354.2h0.7v0.7h-0.7zM390.5 347.4h0.7v0.7h-0.7zM398.3 337.5h0.7v0.7h-0.7zM399.1 350.8h0.7v0.7h-0.7zM403.3 345.8h0.7v0.7h-0.7zM396.2 342.4h0.7v0.7h-0.7zM396.7 346.2h0.7v0.7h-0.7zM388.1 338.0h0.7v0.7h-0.7zM393.2 350.0h0.7v0.7h-0.7zM387.1 346.2h0.7v0.7h-0.7zM397.0 345.9h0.7v0.7h-0.7zM387.3 353.9h0.7v0.7h-0.7zM391.9 347.4h0.7v0.7h-0.7zM389.0 344.1h0.7v0.7h-0.7zM390.7 342.7h0.7v0.7h-0.7zM395.0 346.9h0.7v0.7h-0.7zM390.2 352.2h0.7v0.7h-0.7zM393.9 344.4h0.7v0.7h-0.7zM388.2 342.3h0.7v0.7h-0.7zM399.4 351.6h0.7v0.7h-0.7zM389.9 347.5h0.7v0.7h-0.7zM397.6 347.1h0.7v0.7h-0.7zM388.2 348.1h0.7v0.7h-0.7zM391.9 338.8h0.7v0.7h-0.7zM398.3 345.8h0.7v0.7h-0.7zM390.6 350.0h0.7v0.7h-0.7zM394.6 352.5h0.7v0.7h-0.7zM389.4 341.2h0.7v0.7h-0.7zM395.5 351.2h0.7v0.7h-0.7zM387.2 350.9h0.7v0.7h-0.7zM396.7 346.6h0.7v0.7h-0.7zM384.0 347.2h0.7v0.7h-0.7zM401.3 343.0h0.7v0.7h-0.7zM393.6 349.2h0.7v0.7h-0.7zM388.7 338.4h0.7v0.7h-0.7zM403.1 354.6h0.7v0.7h-0.7zM397.8 351.9h0.7v0.7h-0.7zM398.1 345.3h0.7v0.7h-0.7zM390.9 350.1h0.7v0.7h-0.7zM395.7 349.7h0.7v0.7h-0.7zM385.1 344.3h0.7v0.7h-0.7zM395.6 341.1h0.7v0.7h-0.7zM392.0 337.6h0.7v0.7h-0.7zM398.9 345.8h0.7v0.7h-0.7zM398.9 339.8h0.7v0.7h-0.7zM389.8 346.4h0.7v0.7h-0.7zM390.0 349.1h0.7v0.7h-0.7zM393.7 345.1h0.7v0.7h-0.7zM395.9 342.7h0.7v0.7h-0.7zM390.9 352.8h0.7v0.7h-0.7zM392.3 346.2h0.7v0.7h-0.7zM395.7 348.3h0.7v0.7h-0.7zM394.8 351.7h0.7v0.7h-0.7zM398.3 341.0h0.7v0.7h-0.7zM393.9 342.8h0.7v0.7h-0.7zM384.5 346.4h0.7v0.7h-0.7zM396.6 342.3h0.7v0.7h-0.7zM391.3 346.0h0.7v0.7h-0.7zM391.2 344.5h0.7v0.7h-0.7zM391.5 341.4h0.7v0.7h-0.7zM385.4 345.3h0.7v0.7h-0.7zM391.0 347.1h0.7v0.7h-0.7zM390.9 349.7h0.7v0.7h-0.7zM388.6 339.0h0.7v0.7h-0.7zM401.5 340.1h0.7v0.7h-0.7zM394.9 350.9h0.7v0.7h-0.7zM391.8 345.1h0.7v0.7h-0.7zM393.6 353.0h0.7v0.7h-0.7zM396.2 348.6h0.7v0.7h-0.7zM389.2 340.5h0.7v0.7h-0.7zM391.7 349.7h0.7v0.7h-0.7zM391.1 342.4h0.7v0.7h-0.7zM404.5 348.4h0.7v0.7h-0.7zM393.2 353.0h0.7v0.7h-0.7zM396.6 346.9h0.7v0.7h-0.7zM405.0 350.5h0.7v0.7h-0.7zM388.3 348.6h0.7v0.7h-0.7zM409.2 350.9h0.7v0.7h-0.7zM392.5 335.1h0.7v0.7h-0.7zM397.5 345.3h0.7v0.7h-0.7zM390.1 348.6h0.7v0.7h-0.7zM391.5 349.4h0.7v0.7h-0.7zM387.0 343.6h0.7v0.7h-0.7zM387.8 351.1h0.7v0.7h-0.7zM398.2 347.5h0.7v0.7h-0.7zM387.4 346.1h0.7v0.7h-0.7zM394.5 345.5h0.7v0.7h-0.7zM394.4 347.8h0.7v0.7h-0.7zM389.7 352.8h0.7v0.7h-0.7zM393.0 354.3h0.7v0.7h-0.7zM392.3 345.0h0.7v0.7h-0.7zM390.4 342.8h0.7v0.7h-0.7zM393.0 343.4h0.7v0.7h-0.7zM393.0 351.8h0.7v0.7h-0.7zM388.0 348.2h0.7v0.7h-0.7zM386.7 348.6h0.7v0.7h-0.7zM388.8 349.5h0.7v0.7h-0.7zM393.4 349.0h0.7v0.7h-0.7zM399.3 346.6h0.7v0.7h-0.7zM399.7 342.3h0.7v0.7h-0.7zM394.3 344.3h0.7v0.7h-0.7zM397.3 347.8h0.7v0.7h-0.7zM393.4 349.0h0.7v0.7h-0.7zM398.0 345.4h0.7v0.7h-0.7zM393.4 345.2h0.7v0.7h-0.7zM394.6 353.7h0.7v0.7h-0.7zM391.4 345.0h0.7v0.7h-0.7zM392.7 348.2h0.7v0.7h-0.7zM401.8 345.7h0.7v0.7h-0.7zM387.1 343.1h0.7v0.7h-0.7zM392.8 340.0h0.7v0.7h-0.7zM390.0 344.7h0.7v0.7h-0.7zM397.3 343.3h0.7v0.7h-0.7zM401.4 351.2h0.7v0.7h-0.7zM391.3 341.8h0.7v0.7h-0.7zM395.7 350.3h0.7v0.7h-0.7zM395.7 346.7h0.7v0.7h-0.7zM384.8 349.5h0.7v0.7h-0.7zM391.6 351.1h0.7v0.7h-0.7zM392.4 339.4h0.7v0.7h-0.7zM396.0 342.7h0.7v0.7h-0.7zM394.9 353.5h0.7v0.7h-0.7zM393.9 346.6h0.7v0.7h-0.7zM387.7 349.5h0.7v0.7h-0.7zM389.7 345.5h0.7v0.7h-0.7zM395.0 347.5h0.7v0.7h-0.7zM388.1 349.1h0.7v0.7h-0.7zM399.7 345.9h0.7v0.7h-0.7zM394.6 353.1h0.7v0.7h-0.7zM400.8 351.9h0.7v0.7h-0.7zM393.5 347.4h0.7v0.7h-0.7zM390.1 345.6h0.7v0.7h-0.7zM393.2 345.5h0.7v0.7h-0.7zM384.0 345.5h0.7v0.7h-0.7zM393.6 339.5h0.7v0.7h-0.7zM387.9 351.0h0.7v0.7h-0.7zM399.2 347.1h0.7v0.7h-0.7zM398.8 344.9h0.7v0.7h-0.7zM391.1 347.4h0.7v0.7h-0.7zM388.1 348.2h0.7v0.7h-0.7zM397.2 348.7h0.7v0.7h-0.7zM393.7 343.2h0.7v0.7h-0.7zM395.7 348.9h0.7v0.7h-0.7zM387.6 350.4h0.7v0.7h-0.7zM396.5 347.5h0.7v0.7h-0.7zM399.7 342.4h0.7v0.7h-0.7zM385.2 344.4h0.7v0.7h-0.7zM389.7 350.5h0.7v0.7h-0.7zM389.5 354.0h0.7v0.7h-0.7zM396.2 344.1h0.7v0.7h-0.7zM396.3 349.4h0.7v0.7h-0.7zM394.4 349.6h0.7v0.7h-0.7zM395.3 351.9h0.7v0.7h-0.7zM394.9 348.3h0.7v0.7h-0.7zM392.4 349.2h0.7v0.7h-0.7zM383.5 351.4h0.7v0.7h-0.7zM392.5 338.9h0.7v0.7h-0.7zM391.6 338.0h0.7v0.7h-0.7zM392.0 343.3h0.7v0.7h-0.7zM393.8 340.0h0.7v0.7h-0.7zM391.6 349.5h0.7v0.7h-0.7zM387.9 351.8h0.7v0.7h-0.7zM385.5 345.8h0.7v0.7h-0.7zM383.6 346.5h0.7v0.7h-0.7zM398.5 346.1h0.7v0.7h-0.7zM397.0 346.0h0.7v0.7h-0.7zM386.2 347.8h0.7v0.7h-0.7zM391.4 348.8h0.7v0.7h-0.7zM394.8 345.0h0.7v0.7h-0.7zM400.3 343.5h0.7v0.7h-0.7zM389.8 344.7h0.7v0.7h-0.7zM393.5 350.9h0.7v0.7h-0.7zM398.2 345.2h0.7v0.7h-0.7zM384.3 353.9h0.7v0.7h-0.7zM389.1 346.0h0.7v0.7h-0.7zM392.5 353.5h0.7v0.7h-0.7zM389.2 341.6h0.7v0.7h-0.7zM402.8 343.9h0.7v0.7h-0.7zM396.8 349.4h0.7v0.7h-0.7zM393.6 349.4h0.7v0.7h-0.7zM388.0 346.4h0.7v0.7h-0.7zM395.7 347.5h0.7v0.7h-0.7zM390.2 348.5h0.7v0.7h-0.7zM390.6 344.5h0.7v0.7h-0.7zM392.3 351.1h0.7v0.7h-0.7zM396.8 349.1h0.7v0.7h-0.7zM397.5 339.6h0.7v0.7h-0.7zM395.4 348.8h0.7v0.7h-0.7zM396.6 345.0h0.7v0.7h-0.7zM389.8 349.0h0.7v0.7h-0.7zM390.4 351.4h0.7v0.7h-0.7zM398.4 343.7h0.7v0.7h-0.7zM394.8 348.2h0.7v0.7h-0.7zM388.8 351.2h0.7v0.7h-0.7zM395.0 347.9h0.7v0.7h-0.7zM396.6 345.6h0.7v0.7h-0.7zM396.0 342.3h0.7v0.7h-0.7zM393.1 344.1h0.7v0.7h-0.7zM390.2 341.3h0.7v0.7h-0.7zM394.5 351.7h0.7v0.7h-0.7zM400.8 347.6h0.7v0.7h-0.7zM393.3 341.5h0.7v0.7h-0.7zM389.4 347.1h0.7v0.7h-0.7zM394.3 341.2h0.7v0.7h-0.7zM386.7 332.0h0.7v0.7h-0.7zM393.7 352.7h0.7v0.7h-0.7zM391.2 352.6h0.7v0.7h-0.7zM397.2 340.3h0.7v0.7h-0.7zM393.1 343.8h0.7v0.7h-0.7zM397.7 348.1h0.7v0.7h-0.7zM403.7 345.4h0.7v0.7h-0.7zM391.6 343.2h0.7v0.7h-0.7zM388.6 344.8h0.7v0.7h-0.7zM394.8 346.0h0.7v0.7h-0.7zM392.2 344.6h0.7v0.7h-0.7zM393.3 348.1h0.7v0.7h-0.7zM389.7 346.1h0.7v0.7h-0.7zM395.3 343.6h0.7v0.7h-0.7zM392.9 347.3h0.7v0.7h-0.7zM391.5 353.8h0.7v0.7h-0.7zM394.2 339.1h0.7v0.7h-0.7zM398.3 346.8h0.7v0.7h-0.7zM389.8 348.7h0.7v0.7h-0.7zM388.8 349.0h0.7v0.7h-0.7zM398.1 348.3h0.7v0.7h-0.7zM389.7 353.0h0.7v0.7h-0.7zM393.1 341.9h0.7v0.7h-0.7zM394.9 346.8h0.7v0.7h-0.7zM396.1 347.8h0.7v0.7h-0.7zM392.6 344.8h0.7v0.7h-0.7zM387.3 344.4h0.7v0.7h-0.7zM397.4 353.1h0.7v0.7h-0.7zM390.5 343.8h0.7v0.7h-0.7zM390.1 344.9h0.7v0.7h-0.7zM402.2 345.9h0.7v0.7h-0.7zM396.8 346.1h0.7v0.7h-0.7zM387.5 347.9h0.7v0.7h-0.7zM390.3 346.2h0.7v0.7h-0.7zM391.4 348.8h0.7v0.7h-0.7zM389.0 347.7h0.7v0.7h-0.7zM396.4 353.4h0.7v0.7h-0.7zM396.3 343.2h0.7v0.7h-0.7zM393.8 354.7h0.7v0.7h-0.7zM390.7 345.1h0.7v0.7h-0.7zM393.6 350.2h0.7v0.7h-0.7zM395.6 347.9h0.7v0.7h-0.7zM387.6 345.8h0.7v0.7h-0.7zM391.0 338.1h0.7v0.7h-0.7zM389.9 354.5h0.7v0.7h-0.7zM395.9 343.6h0.7v0.7h-0.7zM393.8 343.5h0.7v0.7h-0.7zM386.4 352.0h0.7v0.7h-0.7zM389.6 347.5h0.7v0.7h-0.7zM393.3 350.4h0.7v0.7h-0.7zM389.6 348.3h0.7v0.7h-0.7zM398.5 350.6h0.7v0.7h-0.7zM392.3 341.1h0.7v0.7h-0.7zM390.5 347.9h0.7v0.7h-0.7zM387.0 347.8h0.7v0.7h-0.7zM391.4 344.9h0.7v0.7h-0.7zM396.5 348.3h0.7v0.7h-0.7zM395.8 340.4h0.7v0.7h-0.7zM386.3 351.2h0.7v0.7h-0.7zM400.0 353.0h0.7v0.7h-0.7zM391.4 341.2h0.7v0.7h-0.7zM387.6 347.8h0.7v0.7h-0.7zM393.2 354.2h0.7v0.7h-0.7zM389.6 349.0h0.7v0.7h-0.7zM389.8 342.4h0.7v0.7h-0.7zM389.6 342.6h0.7v0.7h-0.7zM392.1 351.0h0.7v0.7h-0.7zM384.4 342.1h0.7v0.7h-0.7zM395.1 347.3h0.7v0.7h-0.7zM390.1 343.5h0.7v0.7h-0.7zM398.3 345.8h0.7v0.7h-0.7zM395.1 348.5h0.7v0.7h-0.7zM395.5 346.9h0.7v0.7h-0.7zM393.4 344.0h0.7v0.7h-0.7zM391.0 346.4h0.7v0.7h-0.7zM387.8 346.3h0.7v0.7h-0.7zM394.2 352.2h0.7v0.7h-0.7zM390.8 346.2h0.7v0.7h-0.7zM393.6 351.4h0.7v0.7h-0.7zM390.6 342.4h0.7v0.7h-0.7zM398.5 350.5h0.7v0.7h-0.7zM395.9 351.8h0.7v0.7h-0.7zM393.1 350.1h0.7v0.7h-0.7zM390.6 346.3h0.7v0.7h-0.7zM397.8 347.1h0.7v0.7h-0.7zM389.3 339.3h0.7v0.7h-0.7zM390.6 346.5h0.7v0.7h-0.7zM396.1 348.4h0.7v0.7h-0.7zM395.4 351.0h0.7v0.7h-0.7zM402.2 347.7h0.7v0.7h-0.7zM391.5 345.3h0.7v0.7h-0.7zM383.6 343.3h0.7v0.7h-0.7zM395.7 346.9h0.7v0.7h-0.7zM398.5 347.7h0.7v0.7h-0.7zM391.8 352.6h0.7v0.7h-0.7zM399.9 347.1h0.7v0.7h-0.7zM401.0 344.8h0.7v0.7h-0.7z" fill="#3d4fb8"/>
<path d="M384.2,355.8 L384.2,341.5 Q384.6,338.2 388,337.9 L396,337.6 Q400.2,338 400.6,343 L400.8,352 Q400.5,355.8 397,355.8Z" fill="#3d4fb8" opacity="1"/>
<path d="M391.6 318.7h0.6v0.6h-0.6zM389.7 330.8h0.6v0.6h-0.6zM390.9 331.2h0.6v0.6h-0.6zM384.2 330.5h0.6v0.6h-0.6zM386.2 321.6h0.6v0.6h-0.6zM394.4 328.6h0.6v0.6h-0.6zM392.8 324.0h0.6v0.6h-0.6zM397.8 344.6h0.6v0.6h-0.6zM386.9 341.0h0.6v0.6h-0.6zM397.7 340.6h0.6v0.6h-0.6zM394.0 335.3h0.6v0.6h-0.6zM388.6 334.8h0.6v0.6h-0.6zM399.5 339.3h0.6v0.6h-0.6zM385.0 315.7h0.6v0.6h-0.6zM386.5 322.9h0.6v0.6h-0.6zM391.1 340.5h0.6v0.6h-0.6zM394.1 341.9h0.6v0.6h-0.6zM391.1 333.4h0.6v0.6h-0.6zM390.6 328.5h0.6v0.6h-0.6zM391.7 327.8h0.6v0.6h-0.6zM404.7 331.2h0.6v0.6h-0.6zM398.9 320.8h0.6v0.6h-0.6zM392.7 333.5h0.6v0.6h-0.6zM386.7 326.1h0.6v0.6h-0.6zM393.8 331.3h0.6v0.6h-0.6zM386.3 342.2h0.6v0.6h-0.6zM393.1 337.0h0.6v0.6h-0.6zM393.9 327.7h0.6v0.6h-0.6zM390.1 335.5h0.6v0.6h-0.6zM393.3 321.3h0.6v0.6h-0.6zM390.5 339.2h0.6v0.6h-0.6zM389.3 332.7h0.6v0.6h-0.6zM399.7 334.3h0.6v0.6h-0.6zM395.0 337.8h0.6v0.6h-0.6zM390.6 342.3h0.6v0.6h-0.6zM388.3 326.8h0.6v0.6h-0.6zM393.0 325.1h0.6v0.6h-0.6zM394.9 349.4h0.6v0.6h-0.6zM396.3 334.2h0.6v0.6h-0.6zM399.4 346.8h0.6v0.6h-0.6zM394.4 328.1h0.6v0.6h-0.6zM386.6 332.3h0.6v0.6h-0.6zM402.1 332.0h0.6v0.6h-0.6zM397.8 339.6h0.6v0.6h-0.6zM396.2 332.0h0.6v0.6h-0.6zM398.7 330.2h0.6v0.6h-0.6zM384.7 340.3h0.6v0.6h-0.6zM390.2 333.8h0.6v0.6h-0.6zM389.6 315.5h0.6v0.6h-0.6zM397.9 333.1h0.6v0.6h-0.6zM386.3 322.3h0.6v0.6h-0.6zM390.5 322.1h0.6v0.6h-0.6zM399.6 331.3h0.6v0.6h-0.6zM395.3 330.0h0.6v0.6h-0.6zM390.2 331.4h0.6v0.6h-0.6zM401.3 330.5h0.6v0.6h-0.6zM385.5 314.8h0.6v0.6h-0.6zM394.3 329.1h0.6v0.6h-0.6zM390.9 338.2h0.6v0.6h-0.6zM394.6 322.9h0.6v0.6h-0.6zM390.7 336.1h0.6v0.6h-0.6zM387.9 333.5h0.6v0.6h-0.6zM393.1 329.2h0.6v0.6h-0.6zM385.6 331.3h0.6v0.6h-0.6zM394.7 327.6h0.6v0.6h-0.6zM390.5 328.3h0.6v0.6h-0.6zM396.6 326.5h0.6v0.6h-0.6zM389.9 334.5h0.6v0.6h-0.6zM388.8 340.8h0.6v0.6h-0.6zM394.0 327.9h0.6v0.6h-0.6zM398.1 344.0h0.6v0.6h-0.6zM392.6 325.6h0.6v0.6h-0.6zM395.1 325.9h0.6v0.6h-0.6zM385.1 341.7h0.6v0.6h-0.6zM387.7 325.5h0.6v0.6h-0.6zM395.2 339.5h0.6v0.6h-0.6zM388.0 314.6h0.6v0.6h-0.6zM388.9 331.4h0.6v0.6h-0.6zM400.5 340.4h0.6v0.6h-0.6zM387.4 329.5h0.6v0.6h-0.6zM386.7 335.6h0.6v0.6h-0.6zM386.0 339.1h0.6v0.6h-0.6zM400.5 339.1h0.6v0.6h-0.6zM398.1 322.1h0.6v0.6h-0.6zM385.8 327.5h0.6v0.6h-0.6zM401.7 343.5h0.6v0.6h-0.6zM395.8 327.6h0.6v0.6h-0.6zM391.2 335.9h0.6v0.6h-0.6zM396.0 330.3h0.6v0.6h-0.6zM393.9 333.6h0.6v0.6h-0.6zM388.3 336.0h0.6v0.6h-0.6zM387.6 351.7h0.6v0.6h-0.6zM392.0 333.2h0.6v0.6h-0.6zM390.3 333.8h0.6v0.6h-0.6zM388.4 324.6h0.6v0.6h-0.6zM396.8 334.8h0.6v0.6h-0.6zM386.8 327.5h0.6v0.6h-0.6zM396.4 323.0h0.6v0.6h-0.6zM389.7 319.2h0.6v0.6h-0.6zM392.6 334.5h0.6v0.6h-0.6zM386.5 328.7h0.6v0.6h-0.6z" fill="#3d4fb8"/>
<path d="M437.8 352.3h0.7v0.7h-0.7zM438.7 349.2h0.7v0.7h-0.7zM441.3 350.5h0.7v0.7h-0.7zM434.3 342.9h0.7v0.7h-0.7zM441.2 347.7h0.7v0.7h-0.7zM437.8 341.7h0.7v0.7h-0.7zM438.5 354.5h0.7v0.7h-0.7zM442.7 351.8h0.7v0.7h-0.7zM441.1 353.3h0.7v0.7h-0.7zM436.4 352.6h0.7v0.7h-0.7zM437.9 342.5h0.7v0.7h-0.7zM434.6 348.1h0.7v0.7h-0.7zM436.9 339.5h0.7v0.7h-0.7zM437.5 345.6h0.7v0.7h-0.7zM437.2 343.9h0.7v0.7h-0.7zM441.7 348.8h0.7v0.7h-0.7zM440.6 350.4h0.7v0.7h-0.7zM441.9 345.2h0.7v0.7h-0.7zM439.5 347.7h0.7v0.7h-0.7zM443.1 350.0h0.7v0.7h-0.7zM439.4 348.2h0.7v0.7h-0.7zM442.7 348.2h0.7v0.7h-0.7zM440.9 339.3h0.7v0.7h-0.7zM441.8 347.1h0.7v0.7h-0.7zM438.7 352.0h0.7v0.7h-0.7zM434.3 349.9h0.7v0.7h-0.7zM433.5 342.9h0.7v0.7h-0.7zM446.4 347.8h0.7v0.7h-0.7zM440.5 349.9h0.7v0.7h-0.7zM440.7 345.0h0.7v0.7h-0.7zM438.4 351.6h0.7v0.7h-0.7zM437.3 345.7h0.7v0.7h-0.7zM449.9 347.5h0.7v0.7h-0.7zM434.7 348.4h0.7v0.7h-0.7zM438.8 347.6h0.7v0.7h-0.7zM434.7 346.6h0.7v0.7h-0.7zM434.2 351.7h0.7v0.7h-0.7zM436.3 347.0h0.7v0.7h-0.7zM437.7 349.6h0.7v0.7h-0.7zM437.2 339.8h0.7v0.7h-0.7zM442.1 350.0h0.7v0.7h-0.7zM434.5 348.8h0.7v0.7h-0.7zM440.5 343.7h0.7v0.7h-0.7zM444.6 354.3h0.7v0.7h-0.7zM442.4 347.9h0.7v0.7h-0.7zM434.7 348.1h0.7v0.7h-0.7zM442.2 342.4h0.7v0.7h-0.7zM440.9 346.6h0.7v0.7h-0.7zM436.8 342.8h0.7v0.7h-0.7zM443.9 350.8h0.7v0.7h-0.7zM437.5 352.3h0.7v0.7h-0.7zM439.4 346.3h0.7v0.7h-0.7zM435.1 342.4h0.7v0.7h-0.7zM440.2 347.3h0.7v0.7h-0.7zM437.4 344.6h0.7v0.7h-0.7zM437.1 349.5h0.7v0.7h-0.7zM443.1 349.6h0.7v0.7h-0.7zM439.8 347.1h0.7v0.7h-0.7zM433.3 349.1h0.7v0.7h-0.7zM441.6 353.0h0.7v0.7h-0.7zM435.8 346.8h0.7v0.7h-0.7zM437.5 351.7h0.7v0.7h-0.7zM439.2 347.9h0.7v0.7h-0.7zM438.1 344.6h0.7v0.7h-0.7zM439.5 354.0h0.7v0.7h-0.7zM441.5 350.4h0.7v0.7h-0.7zM437.1 349.4h0.7v0.7h-0.7zM446.9 350.3h0.7v0.7h-0.7zM436.3 348.2h0.7v0.7h-0.7zM437.0 344.6h0.7v0.7h-0.7zM448.1 352.4h0.7v0.7h-0.7zM439.1 349.9h0.7v0.7h-0.7zM438.3 352.7h0.7v0.7h-0.7zM434.9 354.0h0.7v0.7h-0.7zM443.3 348.0h0.7v0.7h-0.7zM439.7 351.2h0.7v0.7h-0.7zM435.8 347.5h0.7v0.7h-0.7zM440.5 351.4h0.7v0.7h-0.7zM444.2 347.8h0.7v0.7h-0.7zM447.4 347.4h0.7v0.7h-0.7zM443.4 350.9h0.7v0.7h-0.7zM440.7 350.7h0.7v0.7h-0.7zM438.9 347.5h0.7v0.7h-0.7zM441.1 352.6h0.7v0.7h-0.7zM443.6 348.5h0.7v0.7h-0.7zM442.3 347.2h0.7v0.7h-0.7zM443.0 348.8h0.7v0.7h-0.7zM439.8 345.8h0.7v0.7h-0.7zM441.9 353.6h0.7v0.7h-0.7zM443.6 351.3h0.7v0.7h-0.7zM438.4 352.8h0.7v0.7h-0.7zM434.1 343.4h0.7v0.7h-0.7zM445.6 349.9h0.7v0.7h-0.7zM441.2 345.8h0.7v0.7h-0.7zM437.3 349.2h0.7v0.7h-0.7zM439.9 353.9h0.7v0.7h-0.7zM438.1 349.9h0.7v0.7h-0.7zM432.5 348.1h0.7v0.7h-0.7zM438.3 353.3h0.7v0.7h-0.7zM433.6 352.9h0.7v0.7h-0.7zM438.6 341.4h0.7v0.7h-0.7zM443.3 350.1h0.7v0.7h-0.7zM438.5 347.2h0.7v0.7h-0.7zM440.4 345.3h0.7v0.7h-0.7zM437.9 349.3h0.7v0.7h-0.7zM437.6 344.2h0.7v0.7h-0.7zM433.7 339.9h0.7v0.7h-0.7zM442.8 345.2h0.7v0.7h-0.7zM439.6 347.8h0.7v0.7h-0.7zM439.8 345.9h0.7v0.7h-0.7zM437.4 344.2h0.7v0.7h-0.7zM436.2 340.9h0.7v0.7h-0.7zM439.9 347.4h0.7v0.7h-0.7zM443.6 347.9h0.7v0.7h-0.7zM438.0 349.4h0.7v0.7h-0.7zM433.6 343.1h0.7v0.7h-0.7zM436.7 345.8h0.7v0.7h-0.7zM445.8 339.8h0.7v0.7h-0.7zM435.9 349.5h0.7v0.7h-0.7zM443.5 342.6h0.7v0.7h-0.7zM438.1 337.8h0.7v0.7h-0.7zM441.8 353.5h0.7v0.7h-0.7zM438.6 350.9h0.7v0.7h-0.7zM433.0 350.2h0.7v0.7h-0.7zM437.4 350.2h0.7v0.7h-0.7zM447.0 344.7h0.7v0.7h-0.7zM438.5 353.1h0.7v0.7h-0.7zM441.1 344.6h0.7v0.7h-0.7zM438.5 349.7h0.7v0.7h-0.7zM440.2 341.5h0.7v0.7h-0.7zM440.8 352.3h0.7v0.7h-0.7zM438.9 347.8h0.7v0.7h-0.7zM438.3 353.1h0.7v0.7h-0.7zM436.5 348.0h0.7v0.7h-0.7zM434.0 346.3h0.7v0.7h-0.7zM432.9 338.5h0.7v0.7h-0.7zM441.5 353.8h0.7v0.7h-0.7zM444.3 350.4h0.7v0.7h-0.7zM442.3 344.3h0.7v0.7h-0.7zM437.9 345.2h0.7v0.7h-0.7zM434.6 353.3h0.7v0.7h-0.7zM439.1 347.3h0.7v0.7h-0.7zM439.1 347.2h0.7v0.7h-0.7zM443.3 343.8h0.7v0.7h-0.7zM436.2 349.7h0.7v0.7h-0.7zM437.6 352.0h0.7v0.7h-0.7zM438.8 347.0h0.7v0.7h-0.7zM438.0 348.1h0.7v0.7h-0.7zM436.6 344.0h0.7v0.7h-0.7zM432.5 354.5h0.7v0.7h-0.7zM432.8 346.4h0.7v0.7h-0.7zM436.4 348.2h0.7v0.7h-0.7zM442.8 347.9h0.7v0.7h-0.7zM447.8 342.6h0.7v0.7h-0.7zM445.5 345.1h0.7v0.7h-0.7zM440.5 347.4h0.7v0.7h-0.7zM438.6 349.8h0.7v0.7h-0.7zM437.0 348.0h0.7v0.7h-0.7zM447.8 352.2h0.7v0.7h-0.7zM435.0 354.1h0.7v0.7h-0.7zM437.4 345.8h0.7v0.7h-0.7zM438.0 354.6h0.7v0.7h-0.7zM444.6 352.3h0.7v0.7h-0.7zM436.8 350.7h0.7v0.7h-0.7zM442.0 339.4h0.7v0.7h-0.7zM437.5 349.7h0.7v0.7h-0.7zM434.4 354.5h0.7v0.7h-0.7zM439.9 347.8h0.7v0.7h-0.7zM434.6 349.2h0.7v0.7h-0.7zM435.7 344.8h0.7v0.7h-0.7zM436.0 351.3h0.7v0.7h-0.7zM442.7 350.1h0.7v0.7h-0.7zM440.8 352.2h0.7v0.7h-0.7zM439.9 348.0h0.7v0.7h-0.7zM440.9 354.1h0.7v0.7h-0.7zM437.2 346.7h0.7v0.7h-0.7zM440.8 349.4h0.7v0.7h-0.7zM436.7 343.9h0.7v0.7h-0.7zM434.0 345.7h0.7v0.7h-0.7zM436.3 349.7h0.7v0.7h-0.7zM439.8 346.2h0.7v0.7h-0.7zM439.4 347.1h0.7v0.7h-0.7zM443.0 348.1h0.7v0.7h-0.7zM432.6 349.9h0.7v0.7h-0.7zM438.2 352.0h0.7v0.7h-0.7zM440.5 352.0h0.7v0.7h-0.7zM435.4 353.0h0.7v0.7h-0.7zM440.0 349.7h0.7v0.7h-0.7zM437.5 346.7h0.7v0.7h-0.7zM434.7 342.5h0.7v0.7h-0.7zM443.3 347.5h0.7v0.7h-0.7zM433.7 345.7h0.7v0.7h-0.7zM442.8 341.6h0.7v0.7h-0.7zM435.5 341.5h0.7v0.7h-0.7zM435.7 350.3h0.7v0.7h-0.7zM436.2 351.2h0.7v0.7h-0.7zM435.8 348.0h0.7v0.7h-0.7zM443.7 345.8h0.7v0.7h-0.7zM444.3 345.7h0.7v0.7h-0.7zM435.3 343.1h0.7v0.7h-0.7zM436.7 346.3h0.7v0.7h-0.7zM438.4 349.1h0.7v0.7h-0.7zM440.2 350.3h0.7v0.7h-0.7zM437.1 342.8h0.7v0.7h-0.7zM438.7 350.3h0.7v0.7h-0.7zM433.1 346.0h0.7v0.7h-0.7zM445.9 348.4h0.7v0.7h-0.7zM434.8 351.7h0.7v0.7h-0.7zM440.0 353.8h0.7v0.7h-0.7zM443.1 346.2h0.7v0.7h-0.7zM436.1 345.0h0.7v0.7h-0.7zM439.0 344.8h0.7v0.7h-0.7zM445.2 353.4h0.7v0.7h-0.7zM438.0 352.6h0.7v0.7h-0.7zM443.0 340.1h0.7v0.7h-0.7zM440.1 340.2h0.7v0.7h-0.7zM439.9 343.9h0.7v0.7h-0.7zM441.8 342.8h0.7v0.7h-0.7zM438.2 350.6h0.7v0.7h-0.7zM438.2 349.8h0.7v0.7h-0.7zM440.0 352.1h0.7v0.7h-0.7zM440.9 349.4h0.7v0.7h-0.7zM434.5 353.7h0.7v0.7h-0.7zM439.1 345.3h0.7v0.7h-0.7zM443.7 343.2h0.7v0.7h-0.7zM442.5 349.0h0.7v0.7h-0.7zM440.4 352.7h0.7v0.7h-0.7zM437.1 342.3h0.7v0.7h-0.7zM436.7 352.5h0.7v0.7h-0.7zM440.7 352.4h0.7v0.7h-0.7zM444.4 346.9h0.7v0.7h-0.7zM439.2 349.6h0.7v0.7h-0.7zM444.0 347.8h0.7v0.7h-0.7zM437.9 349.2h0.7v0.7h-0.7zM443.6 352.2h0.7v0.7h-0.7zM435.3 345.6h0.7v0.7h-0.7zM439.8 353.1h0.7v0.7h-0.7zM435.0 352.4h0.7v0.7h-0.7zM441.6 352.6h0.7v0.7h-0.7zM441.2 340.9h0.7v0.7h-0.7zM435.5 341.3h0.7v0.7h-0.7zM436.2 351.7h0.7v0.7h-0.7zM437.4 346.5h0.7v0.7h-0.7zM433.4 346.1h0.7v0.7h-0.7zM435.5 345.8h0.7v0.7h-0.7zM435.8 343.5h0.7v0.7h-0.7zM442.0 347.7h0.7v0.7h-0.7zM444.3 346.0h0.7v0.7h-0.7zM437.4 346.2h0.7v0.7h-0.7zM438.0 350.9h0.7v0.7h-0.7zM439.9 344.1h0.7v0.7h-0.7zM437.1 353.5h0.7v0.7h-0.7zM438.0 339.9h0.7v0.7h-0.7zM439.9 343.4h0.7v0.7h-0.7zM438.7 351.3h0.7v0.7h-0.7zM436.9 352.6h0.7v0.7h-0.7zM444.6 348.9h0.7v0.7h-0.7zM436.7 351.9h0.7v0.7h-0.7zM439.5 348.5h0.7v0.7h-0.7zM435.1 341.7h0.7v0.7h-0.7zM436.8 350.3h0.7v0.7h-0.7zM439.4 353.6h0.7v0.7h-0.7zM437.6 346.7h0.7v0.7h-0.7zM441.1 342.0h0.7v0.7h-0.7zM439.3 346.5h0.7v0.7h-0.7zM433.8 350.2h0.7v0.7h-0.7zM442.8 353.4h0.7v0.7h-0.7zM436.8 351.2h0.7v0.7h-0.7zM444.7 351.0h0.7v0.7h-0.7zM439.1 340.8h0.7v0.7h-0.7zM441.2 349.1h0.7v0.7h-0.7zM438.0 352.4h0.7v0.7h-0.7zM439.1 347.5h0.7v0.7h-0.7zM435.5 348.3h0.7v0.7h-0.7zM441.5 349.2h0.7v0.7h-0.7zM445.8 351.4h0.7v0.7h-0.7zM440.0 347.3h0.7v0.7h-0.7zM432.8 351.0h0.7v0.7h-0.7zM447.0 354.2h0.7v0.7h-0.7zM444.5 349.1h0.7v0.7h-0.7zM443.4 352.9h0.7v0.7h-0.7zM439.9 340.5h0.7v0.7h-0.7zM439.4 350.2h0.7v0.7h-0.7zM440.2 347.6h0.7v0.7h-0.7zM435.6 341.1h0.7v0.7h-0.7zM438.4 347.7h0.7v0.7h-0.7zM434.7 339.5h0.7v0.7h-0.7zM437.7 349.3h0.7v0.7h-0.7zM440.5 348.2h0.7v0.7h-0.7zM438.0 347.6h0.7v0.7h-0.7zM437.4 353.3h0.7v0.7h-0.7zM439.1 353.7h0.7v0.7h-0.7zM439.9 347.9h0.7v0.7h-0.7zM440.5 352.1h0.7v0.7h-0.7zM433.6 342.7h0.7v0.7h-0.7zM437.7 344.4h0.7v0.7h-0.7zM442.1 347.8h0.7v0.7h-0.7zM435.8 348.9h0.7v0.7h-0.7zM437.4 344.0h0.7v0.7h-0.7zM435.4 347.3h0.7v0.7h-0.7zM444.1 351.8h0.7v0.7h-0.7zM437.3 347.1h0.7v0.7h-0.7zM436.3 348.3h0.7v0.7h-0.7zM441.4 345.3h0.7v0.7h-0.7zM443.2 354.6h0.7v0.7h-0.7zM442.8 349.8h0.7v0.7h-0.7zM439.8 348.5h0.7v0.7h-0.7zM437.4 350.9h0.7v0.7h-0.7zM437.1 346.2h0.7v0.7h-0.7zM436.8 343.4h0.7v0.7h-0.7zM440.4 346.6h0.7v0.7h-0.7zM439.4 346.5h0.7v0.7h-0.7zM438.8 349.0h0.7v0.7h-0.7zM433.8 348.1h0.7v0.7h-0.7zM436.0 354.4h0.7v0.7h-0.7zM434.8 348.0h0.7v0.7h-0.7zM439.4 344.7h0.7v0.7h-0.7zM434.5 343.9h0.7v0.7h-0.7zM434.2 346.0h0.7v0.7h-0.7zM434.9 349.9h0.7v0.7h-0.7zM442.3 346.3h0.7v0.7h-0.7zM437.8 340.9h0.7v0.7h-0.7zM442.8 350.9h0.7v0.7h-0.7zM438.7 348.3h0.7v0.7h-0.7zM437.4 347.8h0.7v0.7h-0.7zM441.2 346.5h0.7v0.7h-0.7zM441.3 339.7h0.7v0.7h-0.7zM435.1 347.0h0.7v0.7h-0.7zM437.3 351.1h0.7v0.7h-0.7zM434.5 354.7h0.7v0.7h-0.7zM438.0 353.6h0.7v0.7h-0.7zM439.4 349.8h0.7v0.7h-0.7zM444.6 349.0h0.7v0.7h-0.7zM444.4 350.2h0.7v0.7h-0.7zM441.6 352.7h0.7v0.7h-0.7zM442.6 351.4h0.7v0.7h-0.7zM439.9 347.2h0.7v0.7h-0.7zM449.5 350.8h0.7v0.7h-0.7zM444.8 350.5h0.7v0.7h-0.7zM449.1 351.8h0.7v0.7h-0.7zM440.5 349.8h0.7v0.7h-0.7zM440.6 354.6h0.7v0.7h-0.7zM443.0 349.8h0.7v0.7h-0.7zM439.7 352.6h0.7v0.7h-0.7zM440.2 349.2h0.7v0.7h-0.7zM435.3 346.6h0.7v0.7h-0.7zM442.6 345.1h0.7v0.7h-0.7zM439.5 348.3h0.7v0.7h-0.7zM442.1 351.2h0.7v0.7h-0.7zM438.2 354.2h0.7v0.7h-0.7zM432.3 348.6h0.7v0.7h-0.7zM440.9 346.9h0.7v0.7h-0.7zM443.4 346.9h0.7v0.7h-0.7zM434.1 354.3h0.7v0.7h-0.7zM435.3 349.4h0.7v0.7h-0.7zM437.9 346.9h0.7v0.7h-0.7zM438.1 352.0h0.7v0.7h-0.7zM432.5 343.6h0.7v0.7h-0.7zM445.7 349.5h0.7v0.7h-0.7zM442.8 348.8h0.7v0.7h-0.7zM436.7 348.4h0.7v0.7h-0.7zM432.1 344.3h0.7v0.7h-0.7zM440.4 353.0h0.7v0.7h-0.7zM442.1 343.6h0.7v0.7h-0.7zM443.4 349.5h0.7v0.7h-0.7zM435.4 351.6h0.7v0.7h-0.7zM433.3 347.3h0.7v0.7h-0.7zM446.5 345.1h0.7v0.7h-0.7zM441.2 349.0h0.7v0.7h-0.7zM440.8 350.1h0.7v0.7h-0.7zM437.8 340.2h0.7v0.7h-0.7zM441.3 340.1h0.7v0.7h-0.7zM446.6 352.7h0.7v0.7h-0.7zM440.4 352.2h0.7v0.7h-0.7zM432.1 343.3h0.7v0.7h-0.7zM438.4 351.1h0.7v0.7h-0.7zM434.0 349.2h0.7v0.7h-0.7zM435.9 349.9h0.7v0.7h-0.7zM440.2 345.7h0.7v0.7h-0.7zM438.3 347.1h0.7v0.7h-0.7zM434.9 345.4h0.7v0.7h-0.7zM438.9 349.2h0.7v0.7h-0.7zM435.9 348.1h0.7v0.7h-0.7zM438.1 351.6h0.7v0.7h-0.7zM440.5 342.5h0.7v0.7h-0.7zM438.0 350.7h0.7v0.7h-0.7zM438.5 350.2h0.7v0.7h-0.7zM438.9 353.5h0.7v0.7h-0.7zM436.8 348.9h0.7v0.7h-0.7zM439.5 351.9h0.7v0.7h-0.7zM432.2 345.2h0.7v0.7h-0.7zM449.1 352.2h0.7v0.7h-0.7zM436.4 343.3h0.7v0.7h-0.7zM439.3 354.3h0.7v0.7h-0.7zM437.2 342.8h0.7v0.7h-0.7zM437.1 340.3h0.7v0.7h-0.7zM440.5 351.2h0.7v0.7h-0.7zM437.0 348.3h0.7v0.7h-0.7zM437.3 349.5h0.7v0.7h-0.7zM433.7 350.8h0.7v0.7h-0.7zM435.4 348.9h0.7v0.7h-0.7zM434.5 345.4h0.7v0.7h-0.7zM445.8 349.9h0.7v0.7h-0.7zM433.9 350.4h0.7v0.7h-0.7zM434.9 351.0h0.7v0.7h-0.7zM444.4 346.0h0.7v0.7h-0.7zM432.5 349.3h0.7v0.7h-0.7zM433.1 351.3h0.7v0.7h-0.7zM439.4 347.2h0.7v0.7h-0.7zM440.2 344.1h0.7v0.7h-0.7zM433.6 346.7h0.7v0.7h-0.7zM432.1 353.4h0.7v0.7h-0.7zM435.3 347.9h0.7v0.7h-0.7zM441.8 351.5h0.7v0.7h-0.7zM438.8 346.0h0.7v0.7h-0.7zM441.8 350.8h0.7v0.7h-0.7zM438.5 346.2h0.7v0.7h-0.7zM438.8 345.5h0.7v0.7h-0.7zM441.3 349.5h0.7v0.7h-0.7zM438.5 349.2h0.7v0.7h-0.7zM435.5 342.3h0.7v0.7h-0.7zM436.7 351.1h0.7v0.7h-0.7zM438.0 354.6h0.7v0.7h-0.7zM436.1 347.4h0.7v0.7h-0.7zM441.4 346.2h0.7v0.7h-0.7zM441.0 347.0h0.7v0.7h-0.7zM438.9 350.2h0.7v0.7h-0.7zM436.0 349.8h0.7v0.7h-0.7zM442.3 350.4h0.7v0.7h-0.7zM448.4 351.5h0.7v0.7h-0.7zM435.8 344.6h0.7v0.7h-0.7zM433.1 344.4h0.7v0.7h-0.7zM436.0 344.0h0.7v0.7h-0.7zM435.4 343.5h0.7v0.7h-0.7zM434.1 348.6h0.7v0.7h-0.7zM434.4 350.3h0.7v0.7h-0.7zM442.2 351.2h0.7v0.7h-0.7zM444.5 349.1h0.7v0.7h-0.7zM437.1 346.0h0.7v0.7h-0.7zM443.0 350.4h0.7v0.7h-0.7zM436.6 353.0h0.7v0.7h-0.7zM437.6 352.2h0.7v0.7h-0.7zM434.5 350.7h0.7v0.7h-0.7zM443.6 347.6h0.7v0.7h-0.7zM442.7 343.9h0.7v0.7h-0.7zM437.1 348.4h0.7v0.7h-0.7zM437.7 346.6h0.7v0.7h-0.7zM439.0 351.8h0.7v0.7h-0.7zM439.7 348.4h0.7v0.7h-0.7z" fill="#3d4fb8"/>
<path d="M433,355.5 L433,347 Q435,342.5 440,343 Q445.5,344 446,350 L445.5,355.5Z" fill="#3d4fb8" opacity="1"/>
<path d="M438.1 350.3h0.6v0.6h-0.6zM454.0 350.8h0.6v0.6h-0.6zM442.8 341.5h0.6v0.6h-0.6zM438.4 349.4h0.6v0.6h-0.6zM439.5 350.1h0.6v0.6h-0.6zM444.1 340.9h0.6v0.6h-0.6zM454.9 338.9h0.6v0.6h-0.6zM452.4 341.3h0.6v0.6h-0.6zM448.5 347.0h0.6v0.6h-0.6zM447.4 351.7h0.6v0.6h-0.6zM438.4 347.8h0.6v0.6h-0.6zM441.9 346.7h0.6v0.6h-0.6zM435.5 347.4h0.6v0.6h-0.6zM442.6 343.5h0.6v0.6h-0.6zM443.1 347.1h0.6v0.6h-0.6zM442.2 347.4h0.6v0.6h-0.6zM443.1 337.5h0.6v0.6h-0.6zM442.9 347.9h0.6v0.6h-0.6zM455.1 341.9h0.6v0.6h-0.6zM445.9 342.9h0.6v0.6h-0.6zM449.5 352.4h0.6v0.6h-0.6zM452.6 339.3h0.6v0.6h-0.6zM453.5 344.8h0.6v0.6h-0.6zM452.2 349.9h0.6v0.6h-0.6zM444.6 353.1h0.6v0.6h-0.6zM441.3 342.8h0.6v0.6h-0.6zM443.2 348.0h0.6v0.6h-0.6zM445.1 347.8h0.6v0.6h-0.6zM448.0 339.1h0.6v0.6h-0.6zM447.5 332.9h0.6v0.6h-0.6zM454.7 334.2h0.6v0.6h-0.6zM447.4 349.7h0.6v0.6h-0.6zM459.0 346.6h0.6v0.6h-0.6zM454.3 337.8h0.6v0.6h-0.6zM445.0 342.1h0.6v0.6h-0.6zM453.3 343.5h0.6v0.6h-0.6zM456.5 345.8h0.6v0.6h-0.6zM450.4 341.2h0.6v0.6h-0.6zM437.7 346.9h0.6v0.6h-0.6zM463.5 341.3h0.6v0.6h-0.6zM446.4 342.1h0.6v0.6h-0.6zM447.1 340.6h0.6v0.6h-0.6zM454.9 344.6h0.6v0.6h-0.6zM446.8 342.6h0.6v0.6h-0.6zM442.8 348.1h0.6v0.6h-0.6zM452.0 347.3h0.6v0.6h-0.6zM441.8 340.5h0.6v0.6h-0.6zM448.8 338.8h0.6v0.6h-0.6zM454.9 348.2h0.6v0.6h-0.6zM455.6 341.6h0.6v0.6h-0.6zM449.8 354.1h0.6v0.6h-0.6zM460.1 354.7h0.6v0.6h-0.6zM444.0 348.1h0.6v0.6h-0.6z" fill="#3d4fb8"/>
<path d="M492.2 345.9h0.7v0.7h-0.7zM487.3 346.1h0.7v0.7h-0.7zM485.0 349.5h0.7v0.7h-0.7zM491.7 350.1h0.7v0.7h-0.7zM484.3 341.6h0.7v0.7h-0.7zM490.9 349.6h0.7v0.7h-0.7zM485.0 346.9h0.7v0.7h-0.7zM489.0 348.2h0.7v0.7h-0.7zM483.0 349.2h0.7v0.7h-0.7zM485.5 347.5h0.7v0.7h-0.7zM483.6 353.5h0.7v0.7h-0.7zM484.4 350.7h0.7v0.7h-0.7zM487.7 347.5h0.7v0.7h-0.7zM486.4 348.8h0.7v0.7h-0.7zM487.7 353.4h0.7v0.7h-0.7zM491.7 352.2h0.7v0.7h-0.7zM486.6 354.5h0.7v0.7h-0.7zM485.9 349.1h0.7v0.7h-0.7zM490.7 348.3h0.7v0.7h-0.7zM490.5 352.5h0.7v0.7h-0.7zM486.2 346.4h0.7v0.7h-0.7zM489.4 341.8h0.7v0.7h-0.7zM481.7 351.5h0.7v0.7h-0.7zM491.7 345.1h0.7v0.7h-0.7zM488.6 345.1h0.7v0.7h-0.7zM488.9 340.2h0.7v0.7h-0.7zM485.6 354.1h0.7v0.7h-0.7zM487.2 349.0h0.7v0.7h-0.7zM484.5 348.6h0.7v0.7h-0.7zM489.1 350.4h0.7v0.7h-0.7zM482.1 349.6h0.7v0.7h-0.7zM490.6 348.9h0.7v0.7h-0.7zM489.0 351.0h0.7v0.7h-0.7zM494.4 347.2h0.7v0.7h-0.7zM486.9 336.2h0.7v0.7h-0.7zM486.7 352.0h0.7v0.7h-0.7zM487.7 350.5h0.7v0.7h-0.7zM487.1 348.6h0.7v0.7h-0.7zM482.9 341.8h0.7v0.7h-0.7zM482.9 334.7h0.7v0.7h-0.7zM485.9 350.5h0.7v0.7h-0.7zM482.6 340.7h0.7v0.7h-0.7zM482.7 346.6h0.7v0.7h-0.7zM486.0 351.5h0.7v0.7h-0.7zM489.7 342.7h0.7v0.7h-0.7zM486.3 351.1h0.7v0.7h-0.7zM489.8 348.4h0.7v0.7h-0.7zM485.4 350.0h0.7v0.7h-0.7zM485.5 344.0h0.7v0.7h-0.7zM484.5 346.9h0.7v0.7h-0.7zM488.7 343.8h0.7v0.7h-0.7zM483.0 342.1h0.7v0.7h-0.7zM492.3 348.9h0.7v0.7h-0.7zM485.6 343.6h0.7v0.7h-0.7zM490.4 346.5h0.7v0.7h-0.7zM485.6 345.6h0.7v0.7h-0.7zM487.0 349.4h0.7v0.7h-0.7zM486.3 352.7h0.7v0.7h-0.7zM483.8 346.8h0.7v0.7h-0.7zM494.2 342.9h0.7v0.7h-0.7zM488.1 343.9h0.7v0.7h-0.7zM488.1 348.5h0.7v0.7h-0.7zM489.5 344.8h0.7v0.7h-0.7zM487.6 342.3h0.7v0.7h-0.7zM486.1 347.4h0.7v0.7h-0.7zM485.0 352.9h0.7v0.7h-0.7zM492.5 347.4h0.7v0.7h-0.7zM484.0 348.1h0.7v0.7h-0.7zM494.3 352.2h0.7v0.7h-0.7zM488.3 347.9h0.7v0.7h-0.7zM492.2 340.5h0.7v0.7h-0.7zM492.3 344.5h0.7v0.7h-0.7zM489.1 351.9h0.7v0.7h-0.7zM484.3 349.0h0.7v0.7h-0.7zM486.7 352.6h0.7v0.7h-0.7zM484.8 340.9h0.7v0.7h-0.7zM487.2 344.5h0.7v0.7h-0.7zM484.4 342.2h0.7v0.7h-0.7zM491.7 344.5h0.7v0.7h-0.7zM489.8 346.7h0.7v0.7h-0.7zM486.6 351.0h0.7v0.7h-0.7zM489.5 353.1h0.7v0.7h-0.7zM486.7 346.1h0.7v0.7h-0.7zM482.4 348.4h0.7v0.7h-0.7zM488.6 350.9h0.7v0.7h-0.7zM490.9 344.5h0.7v0.7h-0.7zM489.1 350.4h0.7v0.7h-0.7zM487.3 350.7h0.7v0.7h-0.7zM493.4 354.3h0.7v0.7h-0.7zM487.3 343.1h0.7v0.7h-0.7zM488.8 337.6h0.7v0.7h-0.7zM485.8 348.8h0.7v0.7h-0.7zM487.0 343.5h0.7v0.7h-0.7zM495.6 349.3h0.7v0.7h-0.7zM491.9 346.3h0.7v0.7h-0.7zM485.8 349.9h0.7v0.7h-0.7zM485.6 353.8h0.7v0.7h-0.7zM487.1 352.3h0.7v0.7h-0.7zM495.1 346.7h0.7v0.7h-0.7zM487.8 342.9h0.7v0.7h-0.7zM491.1 336.6h0.7v0.7h-0.7zM485.7 338.1h0.7v0.7h-0.7zM482.3 344.6h0.7v0.7h-0.7zM491.9 348.9h0.7v0.7h-0.7zM486.7 345.2h0.7v0.7h-0.7zM484.1 345.5h0.7v0.7h-0.7zM484.5 340.8h0.7v0.7h-0.7zM484.5 340.5h0.7v0.7h-0.7zM484.8 340.1h0.7v0.7h-0.7zM481.4 351.3h0.7v0.7h-0.7zM491.4 338.9h0.7v0.7h-0.7zM488.4 351.5h0.7v0.7h-0.7zM490.6 344.0h0.7v0.7h-0.7zM485.7 350.8h0.7v0.7h-0.7zM488.3 349.4h0.7v0.7h-0.7zM487.6 351.8h0.7v0.7h-0.7zM491.3 353.9h0.7v0.7h-0.7zM490.0 344.5h0.7v0.7h-0.7zM488.3 343.6h0.7v0.7h-0.7zM484.6 346.1h0.7v0.7h-0.7zM482.6 344.5h0.7v0.7h-0.7zM484.1 351.3h0.7v0.7h-0.7zM484.7 347.6h0.7v0.7h-0.7zM485.0 348.1h0.7v0.7h-0.7zM482.5 350.1h0.7v0.7h-0.7zM493.1 345.8h0.7v0.7h-0.7zM488.0 353.3h0.7v0.7h-0.7zM483.0 349.2h0.7v0.7h-0.7zM482.1 350.4h0.7v0.7h-0.7zM487.9 344.4h0.7v0.7h-0.7zM490.9 344.7h0.7v0.7h-0.7zM483.4 352.4h0.7v0.7h-0.7zM489.3 346.5h0.7v0.7h-0.7zM486.0 338.9h0.7v0.7h-0.7zM491.2 341.6h0.7v0.7h-0.7zM492.0 352.8h0.7v0.7h-0.7zM488.1 343.8h0.7v0.7h-0.7zM489.6 354.3h0.7v0.7h-0.7zM487.0 354.6h0.7v0.7h-0.7zM485.6 347.1h0.7v0.7h-0.7zM482.7 350.6h0.7v0.7h-0.7zM488.2 344.1h0.7v0.7h-0.7zM486.7 346.1h0.7v0.7h-0.7zM485.6 344.7h0.7v0.7h-0.7zM486.7 350.8h0.7v0.7h-0.7zM486.3 341.9h0.7v0.7h-0.7zM483.2 347.4h0.7v0.7h-0.7zM485.1 348.2h0.7v0.7h-0.7zM491.2 350.5h0.7v0.7h-0.7zM486.1 337.9h0.7v0.7h-0.7zM492.1 339.4h0.7v0.7h-0.7zM482.8 343.8h0.7v0.7h-0.7zM482.1 346.9h0.7v0.7h-0.7zM487.5 348.6h0.7v0.7h-0.7zM489.8 348.9h0.7v0.7h-0.7zM489.3 351.1h0.7v0.7h-0.7zM490.4 350.8h0.7v0.7h-0.7zM490.9 345.6h0.7v0.7h-0.7zM486.6 351.7h0.7v0.7h-0.7zM486.8 351.3h0.7v0.7h-0.7zM487.1 347.4h0.7v0.7h-0.7zM488.0 350.9h0.7v0.7h-0.7zM482.4 344.1h0.7v0.7h-0.7zM483.9 337.6h0.7v0.7h-0.7zM483.3 351.9h0.7v0.7h-0.7zM490.3 351.4h0.7v0.7h-0.7zM483.1 345.8h0.7v0.7h-0.7zM489.4 345.7h0.7v0.7h-0.7zM482.2 342.1h0.7v0.7h-0.7zM486.8 345.7h0.7v0.7h-0.7zM490.1 350.3h0.7v0.7h-0.7zM489.0 345.0h0.7v0.7h-0.7zM486.2 346.1h0.7v0.7h-0.7zM484.1 349.4h0.7v0.7h-0.7zM490.0 345.9h0.7v0.7h-0.7zM487.0 348.5h0.7v0.7h-0.7zM489.9 347.7h0.7v0.7h-0.7zM488.4 342.9h0.7v0.7h-0.7zM485.3 348.3h0.7v0.7h-0.7zM492.2 342.4h0.7v0.7h-0.7zM485.2 352.4h0.7v0.7h-0.7zM488.6 343.5h0.7v0.7h-0.7zM484.7 346.8h0.7v0.7h-0.7zM486.2 339.3h0.7v0.7h-0.7zM486.1 345.8h0.7v0.7h-0.7zM484.6 342.0h0.7v0.7h-0.7zM491.8 347.3h0.7v0.7h-0.7zM493.8 350.4h0.7v0.7h-0.7zM492.2 339.6h0.7v0.7h-0.7zM486.4 342.0h0.7v0.7h-0.7zM492.3 347.1h0.7v0.7h-0.7zM488.5 341.4h0.7v0.7h-0.7zM493.5 353.3h0.7v0.7h-0.7zM482.4 346.0h0.7v0.7h-0.7zM492.4 348.6h0.7v0.7h-0.7zM484.8 349.3h0.7v0.7h-0.7zM491.2 347.2h0.7v0.7h-0.7zM485.3 351.6h0.7v0.7h-0.7zM490.3 344.7h0.7v0.7h-0.7zM486.0 349.6h0.7v0.7h-0.7zM483.5 348.9h0.7v0.7h-0.7zM486.1 348.5h0.7v0.7h-0.7zM487.1 346.3h0.7v0.7h-0.7zM482.7 351.1h0.7v0.7h-0.7zM484.3 346.7h0.7v0.7h-0.7zM486.2 339.9h0.7v0.7h-0.7zM487.8 348.7h0.7v0.7h-0.7zM484.0 347.2h0.7v0.7h-0.7zM481.5 350.1h0.7v0.7h-0.7zM488.1 348.1h0.7v0.7h-0.7zM490.2 342.2h0.7v0.7h-0.7zM485.1 343.3h0.7v0.7h-0.7zM489.3 351.0h0.7v0.7h-0.7zM483.8 343.0h0.7v0.7h-0.7zM488.0 349.4h0.7v0.7h-0.7zM487.3 347.8h0.7v0.7h-0.7zM488.6 338.6h0.7v0.7h-0.7zM483.6 351.0h0.7v0.7h-0.7zM486.6 354.4h0.7v0.7h-0.7zM483.9 348.9h0.7v0.7h-0.7zM486.4 341.3h0.7v0.7h-0.7zM489.3 351.6h0.7v0.7h-0.7zM497.8 342.9h0.7v0.7h-0.7zM487.1 347.3h0.7v0.7h-0.7zM489.6 349.8h0.7v0.7h-0.7zM487.4 344.2h0.7v0.7h-0.7zM491.1 339.9h0.7v0.7h-0.7zM488.7 347.2h0.7v0.7h-0.7zM490.8 347.7h0.7v0.7h-0.7zM488.3 343.8h0.7v0.7h-0.7zM495.7 344.2h0.7v0.7h-0.7zM492.0 351.4h0.7v0.7h-0.7zM488.1 345.6h0.7v0.7h-0.7zM487.3 345.0h0.7v0.7h-0.7zM483.9 348.3h0.7v0.7h-0.7zM485.3 347.0h0.7v0.7h-0.7zM484.3 341.3h0.7v0.7h-0.7zM487.5 346.1h0.7v0.7h-0.7zM489.7 348.2h0.7v0.7h-0.7zM489.8 353.3h0.7v0.7h-0.7zM488.3 352.3h0.7v0.7h-0.7zM485.8 350.9h0.7v0.7h-0.7zM487.0 348.4h0.7v0.7h-0.7zM485.3 346.3h0.7v0.7h-0.7zM491.2 349.4h0.7v0.7h-0.7zM488.8 345.6h0.7v0.7h-0.7zM494.2 346.2h0.7v0.7h-0.7zM485.7 343.9h0.7v0.7h-0.7zM492.3 347.6h0.7v0.7h-0.7zM484.9 347.5h0.7v0.7h-0.7zM483.2 350.4h0.7v0.7h-0.7zM488.9 346.1h0.7v0.7h-0.7zM486.8 351.5h0.7v0.7h-0.7zM489.3 345.6h0.7v0.7h-0.7zM492.4 352.6h0.7v0.7h-0.7zM486.8 351.5h0.7v0.7h-0.7zM490.3 342.8h0.7v0.7h-0.7zM486.8 347.5h0.7v0.7h-0.7zM485.0 347.3h0.7v0.7h-0.7zM488.3 349.2h0.7v0.7h-0.7zM488.8 351.2h0.7v0.7h-0.7zM489.8 343.3h0.7v0.7h-0.7zM490.0 344.5h0.7v0.7h-0.7zM484.6 349.2h0.7v0.7h-0.7zM488.6 352.3h0.7v0.7h-0.7zM491.5 342.6h0.7v0.7h-0.7zM485.3 340.6h0.7v0.7h-0.7zM488.3 353.2h0.7v0.7h-0.7zM484.8 351.8h0.7v0.7h-0.7zM487.6 352.9h0.7v0.7h-0.7zM493.3 343.3h0.7v0.7h-0.7zM487.7 346.9h0.7v0.7h-0.7zM483.5 348.9h0.7v0.7h-0.7zM488.3 349.9h0.7v0.7h-0.7zM487.8 347.3h0.7v0.7h-0.7zM491.1 347.6h0.7v0.7h-0.7zM482.1 352.5h0.7v0.7h-0.7zM483.7 345.8h0.7v0.7h-0.7zM486.7 345.3h0.7v0.7h-0.7zM481.4 345.8h0.7v0.7h-0.7zM491.1 345.5h0.7v0.7h-0.7zM484.0 346.9h0.7v0.7h-0.7zM481.7 345.8h0.7v0.7h-0.7zM484.7 354.4h0.7v0.7h-0.7zM489.9 349.2h0.7v0.7h-0.7zM489.2 346.3h0.7v0.7h-0.7zM490.4 353.7h0.7v0.7h-0.7zM489.2 345.3h0.7v0.7h-0.7zM488.1 347.4h0.7v0.7h-0.7zM485.2 346.1h0.7v0.7h-0.7zM485.6 348.2h0.7v0.7h-0.7zM485.1 341.2h0.7v0.7h-0.7zM488.8 346.0h0.7v0.7h-0.7zM484.1 349.0h0.7v0.7h-0.7zM493.3 349.1h0.7v0.7h-0.7zM489.2 349.2h0.7v0.7h-0.7zM489.8 350.9h0.7v0.7h-0.7zM490.3 347.2h0.7v0.7h-0.7zM486.9 347.3h0.7v0.7h-0.7zM494.1 347.8h0.7v0.7h-0.7zM483.2 349.8h0.7v0.7h-0.7zM488.7 346.5h0.7v0.7h-0.7zM487.0 354.8h0.7v0.7h-0.7zM486.2 342.8h0.7v0.7h-0.7zM488.2 350.7h0.7v0.7h-0.7zM484.3 350.1h0.7v0.7h-0.7zM490.2 342.6h0.7v0.7h-0.7zM489.9 350.7h0.7v0.7h-0.7zM487.4 350.4h0.7v0.7h-0.7zM489.7 344.9h0.7v0.7h-0.7zM484.9 346.3h0.7v0.7h-0.7zM486.2 345.6h0.7v0.7h-0.7zM496.0 344.4h0.7v0.7h-0.7zM486.2 349.0h0.7v0.7h-0.7zM490.8 348.1h0.7v0.7h-0.7zM490.1 341.4h0.7v0.7h-0.7zM494.6 343.1h0.7v0.7h-0.7zM487.5 344.6h0.7v0.7h-0.7zM489.4 346.0h0.7v0.7h-0.7zM486.3 346.2h0.7v0.7h-0.7zM483.9 344.8h0.7v0.7h-0.7zM483.4 350.8h0.7v0.7h-0.7zM484.2 352.2h0.7v0.7h-0.7zM492.2 348.2h0.7v0.7h-0.7zM488.1 337.8h0.7v0.7h-0.7zM486.5 347.1h0.7v0.7h-0.7zM487.1 350.4h0.7v0.7h-0.7zM485.0 347.5h0.7v0.7h-0.7zM486.9 349.1h0.7v0.7h-0.7zM486.9 348.3h0.7v0.7h-0.7zM489.4 341.0h0.7v0.7h-0.7zM490.3 336.3h0.7v0.7h-0.7zM487.9 345.4h0.7v0.7h-0.7zM492.0 349.7h0.7v0.7h-0.7zM483.4 346.4h0.7v0.7h-0.7zM486.1 347.0h0.7v0.7h-0.7zM487.6 354.1h0.7v0.7h-0.7zM491.0 342.4h0.7v0.7h-0.7zM489.2 347.8h0.7v0.7h-0.7zM486.2 342.8h0.7v0.7h-0.7zM488.8 348.1h0.7v0.7h-0.7zM490.8 350.0h0.7v0.7h-0.7zM488.4 350.8h0.7v0.7h-0.7zM493.7 348.5h0.7v0.7h-0.7zM488.6 341.5h0.7v0.7h-0.7zM483.3 348.9h0.7v0.7h-0.7zM484.2 351.9h0.7v0.7h-0.7zM486.6 352.3h0.7v0.7h-0.7zM489.3 350.4h0.7v0.7h-0.7zM488.3 343.2h0.7v0.7h-0.7zM493.2 345.4h0.7v0.7h-0.7zM490.0 348.2h0.7v0.7h-0.7zM492.4 352.6h0.7v0.7h-0.7zM484.3 342.6h0.7v0.7h-0.7zM485.5 352.0h0.7v0.7h-0.7zM489.5 350.8h0.7v0.7h-0.7zM487.4 343.9h0.7v0.7h-0.7zM489.3 350.6h0.7v0.7h-0.7zM487.9 344.3h0.7v0.7h-0.7zM484.8 347.8h0.7v0.7h-0.7zM493.2 346.4h0.7v0.7h-0.7zM491.2 348.9h0.7v0.7h-0.7zM481.4 342.4h0.7v0.7h-0.7zM484.8 350.2h0.7v0.7h-0.7zM487.1 337.9h0.7v0.7h-0.7zM489.5 346.0h0.7v0.7h-0.7zM486.8 345.2h0.7v0.7h-0.7zM490.0 350.3h0.7v0.7h-0.7zM486.3 345.6h0.7v0.7h-0.7zM491.4 343.7h0.7v0.7h-0.7zM488.1 348.0h0.7v0.7h-0.7zM490.7 344.9h0.7v0.7h-0.7zM490.2 335.2h0.7v0.7h-0.7zM485.2 348.1h0.7v0.7h-0.7zM490.8 336.6h0.7v0.7h-0.7zM487.8 352.5h0.7v0.7h-0.7zM482.6 344.2h0.7v0.7h-0.7zM485.9 345.3h0.7v0.7h-0.7zM488.8 352.7h0.7v0.7h-0.7zM489.5 348.7h0.7v0.7h-0.7zM483.1 353.2h0.7v0.7h-0.7zM489.7 347.9h0.7v0.7h-0.7zM486.8 334.3h0.7v0.7h-0.7zM483.3 344.5h0.7v0.7h-0.7zM490.1 340.7h0.7v0.7h-0.7zM484.3 352.1h0.7v0.7h-0.7zM482.8 350.3h0.7v0.7h-0.7zM489.8 347.8h0.7v0.7h-0.7zM490.3 349.9h0.7v0.7h-0.7zM484.7 348.7h0.7v0.7h-0.7zM490.9 345.2h0.7v0.7h-0.7zM485.2 348.9h0.7v0.7h-0.7zM494.3 346.9h0.7v0.7h-0.7zM486.9 341.1h0.7v0.7h-0.7zM487.9 345.0h0.7v0.7h-0.7zM489.4 347.0h0.7v0.7h-0.7zM484.9 345.6h0.7v0.7h-0.7zM488.7 347.6h0.7v0.7h-0.7zM491.2 347.9h0.7v0.7h-0.7zM492.3 340.8h0.7v0.7h-0.7zM493.9 343.9h0.7v0.7h-0.7zM489.2 351.8h0.7v0.7h-0.7zM488.3 350.0h0.7v0.7h-0.7zM484.5 342.6h0.7v0.7h-0.7zM486.8 346.0h0.7v0.7h-0.7zM492.2 351.5h0.7v0.7h-0.7zM484.1 353.5h0.7v0.7h-0.7zM487.9 341.1h0.7v0.7h-0.7zM486.9 345.9h0.7v0.7h-0.7zM488.4 348.3h0.7v0.7h-0.7zM485.7 349.4h0.7v0.7h-0.7zM490.3 347.9h0.7v0.7h-0.7zM490.6 350.9h0.7v0.7h-0.7zM482.2 341.2h0.7v0.7h-0.7zM484.4 342.6h0.7v0.7h-0.7zM486.1 348.1h0.7v0.7h-0.7zM491.2 350.2h0.7v0.7h-0.7zM487.5 353.2h0.7v0.7h-0.7zM489.2 352.0h0.7v0.7h-0.7zM490.0 351.8h0.7v0.7h-0.7zM489.3 353.7h0.7v0.7h-0.7zM485.2 347.2h0.7v0.7h-0.7zM483.7 351.3h0.7v0.7h-0.7zM489.9 344.4h0.7v0.7h-0.7zM488.4 341.5h0.7v0.7h-0.7zM486.5 343.3h0.7v0.7h-0.7zM490.2 354.3h0.7v0.7h-0.7zM487.1 353.5h0.7v0.7h-0.7zM482.2 346.2h0.7v0.7h-0.7zM488.2 349.0h0.7v0.7h-0.7zM489.0 350.0h0.7v0.7h-0.7zM490.0 352.7h0.7v0.7h-0.7zM484.0 339.3h0.7v0.7h-0.7zM484.5 345.3h0.7v0.7h-0.7zM488.4 346.7h0.7v0.7h-0.7zM485.6 349.3h0.7v0.7h-0.7zM486.9 348.2h0.7v0.7h-0.7zM490.6 346.4h0.7v0.7h-0.7zM488.6 349.2h0.7v0.7h-0.7zM493.7 336.1h0.7v0.7h-0.7zM493.3 351.7h0.7v0.7h-0.7zM491.0 351.9h0.7v0.7h-0.7zM496.4 344.9h0.7v0.7h-0.7zM487.3 349.8h0.7v0.7h-0.7z" fill="#0a0a0a"/>
<path d="M481.3,355.8 L481.3,340.5 Q482,335.8 486,335.3 Q490.6,335.5 491.8,339.5 L492.3,355.8Z" fill="#0a0a0a" opacity="1"/>
<path d="M511.5 322.0h0.7v0.7h-0.7zM506.2 323.8h0.7v0.7h-0.7zM502.1 325.3h0.7v0.7h-0.7zM506.4 324.2h0.7v0.7h-0.7zM505.0 322.8h0.7v0.7h-0.7zM508.5 320.4h0.7v0.7h-0.7zM502.0 323.0h0.7v0.7h-0.7zM505.4 324.4h0.7v0.7h-0.7zM506.8 321.5h0.7v0.7h-0.7zM504.5 327.1h0.7v0.7h-0.7zM509.2 316.8h0.7v0.7h-0.7zM502.5 327.3h0.7v0.7h-0.7zM502.2 327.4h0.7v0.7h-0.7zM504.9 327.9h0.7v0.7h-0.7zM508.5 322.1h0.7v0.7h-0.7zM505.0 320.5h0.7v0.7h-0.7zM504.1 322.5h0.7v0.7h-0.7zM508.4 325.9h0.7v0.7h-0.7zM506.6 322.9h0.7v0.7h-0.7zM504.3 323.8h0.7v0.7h-0.7zM506.3 322.3h0.7v0.7h-0.7zM505.2 324.3h0.7v0.7h-0.7zM507.8 322.5h0.7v0.7h-0.7zM506.4 319.6h0.7v0.7h-0.7zM503.5 323.7h0.7v0.7h-0.7zM504.5 327.5h0.7v0.7h-0.7zM504.7 328.6h0.7v0.7h-0.7zM507.1 323.2h0.7v0.7h-0.7zM507.1 322.1h0.7v0.7h-0.7zM503.4 329.0h0.7v0.7h-0.7zM505.4 323.9h0.7v0.7h-0.7zM506.9 320.4h0.7v0.7h-0.7zM509.3 322.0h0.7v0.7h-0.7zM506.7 325.5h0.7v0.7h-0.7zM511.9 325.3h0.7v0.7h-0.7zM506.0 322.7h0.7v0.7h-0.7zM508.2 324.4h0.7v0.7h-0.7zM504.9 323.7h0.7v0.7h-0.7zM502.9 328.7h0.7v0.7h-0.7zM506.3 324.6h0.7v0.7h-0.7zM507.4 324.0h0.7v0.7h-0.7zM506.9 320.9h0.7v0.7h-0.7zM506.4 323.0h0.7v0.7h-0.7zM504.9 323.7h0.7v0.7h-0.7zM503.4 315.6h0.7v0.7h-0.7zM505.0 326.8h0.7v0.7h-0.7zM507.4 323.3h0.7v0.7h-0.7zM508.9 322.0h0.7v0.7h-0.7zM495.9 328.1h0.7v0.7h-0.7zM507.8 323.2h0.7v0.7h-0.7zM509.3 323.0h0.7v0.7h-0.7zM509.8 318.6h0.7v0.7h-0.7zM507.1 323.8h0.7v0.7h-0.7zM508.0 323.3h0.7v0.7h-0.7zM504.6 324.8h0.7v0.7h-0.7zM505.7 320.2h0.7v0.7h-0.7zM507.6 322.9h0.7v0.7h-0.7zM502.6 322.3h0.7v0.7h-0.7zM503.5 326.2h0.7v0.7h-0.7zM506.5 327.3h0.7v0.7h-0.7zM501.9 328.4h0.7v0.7h-0.7zM506.1 323.1h0.7v0.7h-0.7zM501.4 324.9h0.7v0.7h-0.7zM506.5 322.2h0.7v0.7h-0.7zM506.0 325.0h0.7v0.7h-0.7zM504.2 323.1h0.7v0.7h-0.7zM503.1 324.1h0.7v0.7h-0.7zM504.4 318.1h0.7v0.7h-0.7zM499.1 325.2h0.7v0.7h-0.7zM504.7 322.5h0.7v0.7h-0.7zM506.3 322.4h0.7v0.7h-0.7zM509.6 325.5h0.7v0.7h-0.7zM504.4 321.2h0.7v0.7h-0.7zM505.4 320.7h0.7v0.7h-0.7zM510.2 323.5h0.7v0.7h-0.7zM511.3 318.7h0.7v0.7h-0.7zM504.4 324.4h0.7v0.7h-0.7zM509.2 322.9h0.7v0.7h-0.7zM509.5 322.3h0.7v0.7h-0.7zM507.5 321.2h0.7v0.7h-0.7zM502.9 328.0h0.7v0.7h-0.7zM503.1 329.5h0.7v0.7h-0.7zM507.7 320.5h0.7v0.7h-0.7zM513.1 319.7h0.7v0.7h-0.7zM505.4 326.9h0.7v0.7h-0.7zM510.8 321.1h0.7v0.7h-0.7zM511.8 318.4h0.7v0.7h-0.7zM502.1 324.8h0.7v0.7h-0.7zM504.1 327.2h0.7v0.7h-0.7zM510.6 319.0h0.7v0.7h-0.7zM508.9 323.2h0.7v0.7h-0.7zM507.6 324.2h0.7v0.7h-0.7zM505.9 322.3h0.7v0.7h-0.7zM507.9 324.6h0.7v0.7h-0.7zM504.0 326.8h0.7v0.7h-0.7zM513.6 322.9h0.7v0.7h-0.7zM502.4 328.3h0.7v0.7h-0.7zM500.4 322.8h0.7v0.7h-0.7zM506.4 326.2h0.7v0.7h-0.7zM510.4 323.4h0.7v0.7h-0.7zM504.4 327.4h0.7v0.7h-0.7zM505.8 321.8h0.7v0.7h-0.7zM502.8 328.0h0.7v0.7h-0.7zM505.7 325.2h0.7v0.7h-0.7zM502.8 322.5h0.7v0.7h-0.7zM502.9 329.0h0.7v0.7h-0.7zM501.4 324.2h0.7v0.7h-0.7zM504.3 322.2h0.7v0.7h-0.7zM511.7 322.3h0.7v0.7h-0.7zM505.8 322.5h0.7v0.7h-0.7zM506.5 324.7h0.7v0.7h-0.7zM512.8 320.0h0.7v0.7h-0.7zM504.0 325.8h0.7v0.7h-0.7zM502.9 327.8h0.7v0.7h-0.7zM507.5 323.2h0.7v0.7h-0.7zM502.2 328.3h0.7v0.7h-0.7zM507.0 325.8h0.7v0.7h-0.7zM509.5 320.0h0.7v0.7h-0.7zM502.6 328.0h0.7v0.7h-0.7zM504.3 326.5h0.7v0.7h-0.7zM511.2 321.8h0.7v0.7h-0.7zM502.7 328.7h0.7v0.7h-0.7zM503.8 329.6h0.7v0.7h-0.7zM506.7 325.7h0.7v0.7h-0.7zM505.0 320.6h0.7v0.7h-0.7zM503.3 326.6h0.7v0.7h-0.7zM510.9 321.2h0.7v0.7h-0.7zM504.1 324.2h0.7v0.7h-0.7zM507.0 324.5h0.7v0.7h-0.7zM504.7 323.8h0.7v0.7h-0.7zM505.2 328.8h0.7v0.7h-0.7zM501.7 326.9h0.7v0.7h-0.7zM508.8 322.7h0.7v0.7h-0.7zM504.6 326.8h0.7v0.7h-0.7zM509.9 324.3h0.7v0.7h-0.7zM502.4 329.0h0.7v0.7h-0.7zM504.4 326.5h0.7v0.7h-0.7zM507.4 323.2h0.7v0.7h-0.7zM506.3 324.3h0.7v0.7h-0.7zM503.9 319.3h0.7v0.7h-0.7zM505.5 320.3h0.7v0.7h-0.7zM501.9 328.9h0.7v0.7h-0.7zM506.1 323.1h0.7v0.7h-0.7zM497.8 333.0h0.7v0.7h-0.7zM506.5 328.6h0.7v0.7h-0.7zM510.1 318.6h0.7v0.7h-0.7zM508.7 323.5h0.7v0.7h-0.7zM508.6 330.5h0.7v0.7h-0.7zM504.6 322.6h0.7v0.7h-0.7zM507.4 324.4h0.7v0.7h-0.7zM504.7 324.1h0.7v0.7h-0.7zM505.7 323.6h0.7v0.7h-0.7zM505.6 323.5h0.7v0.7h-0.7zM495.6 329.2h0.7v0.7h-0.7zM508.8 324.7h0.7v0.7h-0.7zM507.3 321.2h0.7v0.7h-0.7zM508.5 324.1h0.7v0.7h-0.7zM503.0 323.6h0.7v0.7h-0.7zM508.1 324.4h0.7v0.7h-0.7zM507.4 324.2h0.7v0.7h-0.7zM499.1 325.4h0.7v0.7h-0.7zM500.5 327.2h0.7v0.7h-0.7zM506.1 322.0h0.7v0.7h-0.7zM503.9 322.8h0.7v0.7h-0.7zM505.9 327.2h0.7v0.7h-0.7zM504.0 320.2h0.7v0.7h-0.7zM510.5 323.3h0.7v0.7h-0.7zM500.1 328.9h0.7v0.7h-0.7zM501.7 324.6h0.7v0.7h-0.7zM502.9 328.5h0.7v0.7h-0.7zM501.7 328.6h0.7v0.7h-0.7zM504.2 321.5h0.7v0.7h-0.7zM505.8 325.5h0.7v0.7h-0.7zM501.8 327.4h0.7v0.7h-0.7zM507.1 321.5h0.7v0.7h-0.7zM510.0 323.6h0.7v0.7h-0.7zM509.3 324.4h0.7v0.7h-0.7zM512.1 319.1h0.7v0.7h-0.7zM509.4 317.0h0.7v0.7h-0.7zM505.8 325.2h0.7v0.7h-0.7zM511.4 319.3h0.7v0.7h-0.7zM508.1 318.4h0.7v0.7h-0.7zM511.7 320.2h0.7v0.7h-0.7zM505.4 318.0h0.7v0.7h-0.7zM499.5 326.4h0.7v0.7h-0.7zM502.4 329.9h0.7v0.7h-0.7zM506.5 316.1h0.7v0.7h-0.7zM507.6 324.5h0.7v0.7h-0.7zM505.3 321.9h0.7v0.7h-0.7zM509.0 321.4h0.7v0.7h-0.7zM502.4 323.4h0.7v0.7h-0.7zM503.8 326.9h0.7v0.7h-0.7zM509.0 322.5h0.7v0.7h-0.7zM506.1 321.9h0.7v0.7h-0.7zM506.3 320.4h0.7v0.7h-0.7zM510.3 320.7h0.7v0.7h-0.7zM509.3 325.5h0.7v0.7h-0.7zM503.5 322.0h0.7v0.7h-0.7zM506.6 324.9h0.7v0.7h-0.7zM500.7 327.6h0.7v0.7h-0.7zM505.9 318.7h0.7v0.7h-0.7zM507.2 326.4h0.7v0.7h-0.7zM500.6 326.6h0.7v0.7h-0.7zM510.8 327.7h0.7v0.7h-0.7zM512.1 325.7h0.7v0.7h-0.7zM507.5 322.6h0.7v0.7h-0.7zM508.8 322.2h0.7v0.7h-0.7zM510.6 319.0h0.7v0.7h-0.7zM505.5 320.6h0.7v0.7h-0.7zM509.2 324.6h0.7v0.7h-0.7zM507.2 322.8h0.7v0.7h-0.7zM501.3 325.3h0.7v0.7h-0.7zM503.2 325.0h0.7v0.7h-0.7zM504.2 326.8h0.7v0.7h-0.7zM509.3 324.9h0.7v0.7h-0.7zM506.3 323.9h0.7v0.7h-0.7zM509.0 322.0h0.7v0.7h-0.7zM504.5 325.1h0.7v0.7h-0.7zM502.1 331.6h0.7v0.7h-0.7zM512.4 315.3h0.7v0.7h-0.7zM514.4 316.7h0.7v0.7h-0.7zM507.2 324.7h0.7v0.7h-0.7zM505.4 324.8h0.7v0.7h-0.7zM509.7 325.5h0.7v0.7h-0.7zM502.6 329.3h0.7v0.7h-0.7zM505.4 329.7h0.7v0.7h-0.7zM501.6 324.1h0.7v0.7h-0.7zM507.5 325.0h0.7v0.7h-0.7zM506.8 323.0h0.7v0.7h-0.7zM504.8 327.3h0.7v0.7h-0.7zM504.0 325.6h0.7v0.7h-0.7zM501.3 328.8h0.7v0.7h-0.7zM503.5 323.3h0.7v0.7h-0.7zM509.8 322.6h0.7v0.7h-0.7zM504.9 323.2h0.7v0.7h-0.7zM509.9 321.4h0.7v0.7h-0.7zM503.3 324.2h0.7v0.7h-0.7zM505.8 321.4h0.7v0.7h-0.7zM504.6 327.8h0.7v0.7h-0.7zM505.2 325.3h0.7v0.7h-0.7zM508.4 325.8h0.7v0.7h-0.7zM499.7 324.5h0.7v0.7h-0.7zM508.3 317.6h0.7v0.7h-0.7zM508.1 321.2h0.7v0.7h-0.7zM506.0 323.6h0.7v0.7h-0.7zM506.2 326.1h0.7v0.7h-0.7zM505.3 327.3h0.7v0.7h-0.7zM508.1 326.3h0.7v0.7h-0.7zM506.2 328.2h0.7v0.7h-0.7zM503.4 327.3h0.7v0.7h-0.7zM506.5 324.1h0.7v0.7h-0.7zM508.9 320.5h0.7v0.7h-0.7zM507.1 325.4h0.7v0.7h-0.7zM506.1 322.7h0.7v0.7h-0.7zM506.6 321.6h0.7v0.7h-0.7zM504.5 326.4h0.7v0.7h-0.7zM504.6 325.4h0.7v0.7h-0.7zM500.2 329.3h0.7v0.7h-0.7zM505.4 322.4h0.7v0.7h-0.7zM509.0 325.7h0.7v0.7h-0.7zM504.8 325.6h0.7v0.7h-0.7zM503.2 325.0h0.7v0.7h-0.7zM508.8 320.6h0.7v0.7h-0.7zM506.5 320.9h0.7v0.7h-0.7zM506.4 320.1h0.7v0.7h-0.7zM507.5 327.2h0.7v0.7h-0.7zM508.2 319.1h0.7v0.7h-0.7zM505.9 325.8h0.7v0.7h-0.7zM503.5 324.7h0.7v0.7h-0.7zM511.4 319.8h0.7v0.7h-0.7zM506.2 322.7h0.7v0.7h-0.7zM503.6 325.0h0.7v0.7h-0.7zM506.6 326.2h0.7v0.7h-0.7zM509.7 323.8h0.7v0.7h-0.7zM501.7 326.2h0.7v0.7h-0.7zM510.0 318.3h0.7v0.7h-0.7zM505.6 319.4h0.7v0.7h-0.7zM512.1 326.1h0.7v0.7h-0.7zM508.1 320.3h0.7v0.7h-0.7zM505.7 320.0h0.7v0.7h-0.7zM509.9 325.2h0.7v0.7h-0.7zM509.9 318.0h0.7v0.7h-0.7zM504.9 326.6h0.7v0.7h-0.7zM506.7 326.2h0.7v0.7h-0.7zM504.4 325.5h0.7v0.7h-0.7zM508.8 325.3h0.7v0.7h-0.7zM501.7 322.4h0.7v0.7h-0.7zM505.5 321.0h0.7v0.7h-0.7zM499.5 326.8h0.7v0.7h-0.7zM507.8 323.2h0.7v0.7h-0.7zM499.2 327.2h0.7v0.7h-0.7zM502.8 326.9h0.7v0.7h-0.7zM506.8 321.6h0.7v0.7h-0.7zM504.9 318.8h0.7v0.7h-0.7zM504.7 325.8h0.7v0.7h-0.7zM503.1 324.9h0.7v0.7h-0.7zM504.6 327.0h0.7v0.7h-0.7zM500.7 332.4h0.7v0.7h-0.7zM507.0 323.8h0.7v0.7h-0.7zM508.5 324.4h0.7v0.7h-0.7zM508.3 320.5h0.7v0.7h-0.7zM505.9 326.6h0.7v0.7h-0.7zM509.7 323.1h0.7v0.7h-0.7zM507.4 324.0h0.7v0.7h-0.7zM508.9 325.1h0.7v0.7h-0.7zM507.2 320.4h0.7v0.7h-0.7zM506.1 325.5h0.7v0.7h-0.7zM503.7 326.5h0.7v0.7h-0.7zM498.0 332.4h0.7v0.7h-0.7zM508.0 318.2h0.7v0.7h-0.7zM505.7 324.0h0.7v0.7h-0.7zM512.1 327.0h0.7v0.7h-0.7zM500.0 326.0h0.7v0.7h-0.7zM508.6 321.6h0.7v0.7h-0.7zM503.1 330.4h0.7v0.7h-0.7zM506.0 330.9h0.7v0.7h-0.7zM503.3 325.7h0.7v0.7h-0.7zM507.1 321.6h0.7v0.7h-0.7zM505.9 322.5h0.7v0.7h-0.7zM508.7 321.6h0.7v0.7h-0.7zM506.5 321.5h0.7v0.7h-0.7zM507.5 321.1h0.7v0.7h-0.7zM509.9 322.6h0.7v0.7h-0.7zM507.6 323.4h0.7v0.7h-0.7zM505.6 325.6h0.7v0.7h-0.7zM509.8 322.2h0.7v0.7h-0.7zM505.7 320.9h0.7v0.7h-0.7zM507.3 325.4h0.7v0.7h-0.7zM505.0 325.2h0.7v0.7h-0.7zM504.0 323.5h0.7v0.7h-0.7zM496.9 327.9h0.7v0.7h-0.7zM508.1 323.9h0.7v0.7h-0.7zM502.5 326.0h0.7v0.7h-0.7zM508.3 322.6h0.7v0.7h-0.7zM511.5 323.4h0.7v0.7h-0.7zM502.0 328.9h0.7v0.7h-0.7zM508.7 321.9h0.7v0.7h-0.7zM505.7 324.1h0.7v0.7h-0.7zM507.4 320.3h0.7v0.7h-0.7zM502.4 325.4h0.7v0.7h-0.7zM506.1 325.3h0.7v0.7h-0.7zM506.5 326.2h0.7v0.7h-0.7zM510.4 322.3h0.7v0.7h-0.7zM512.6 320.5h0.7v0.7h-0.7zM507.0 321.6h0.7v0.7h-0.7zM504.9 325.2h0.7v0.7h-0.7zM512.8 317.7h0.7v0.7h-0.7zM505.7 324.5h0.7v0.7h-0.7zM505.9 324.2h0.7v0.7h-0.7zM506.3 321.4h0.7v0.7h-0.7zM507.4 324.2h0.7v0.7h-0.7zM508.2 322.4h0.7v0.7h-0.7zM504.3 326.5h0.7v0.7h-0.7zM505.7 322.9h0.7v0.7h-0.7zM511.8 322.5h0.7v0.7h-0.7zM510.9 325.8h0.7v0.7h-0.7zM507.4 323.8h0.7v0.7h-0.7zM506.9 325.8h0.7v0.7h-0.7zM505.3 322.6h0.7v0.7h-0.7zM509.2 321.5h0.7v0.7h-0.7zM504.5 319.7h0.7v0.7h-0.7zM506.4 323.4h0.7v0.7h-0.7zM504.7 321.7h0.7v0.7h-0.7zM504.1 325.3h0.7v0.7h-0.7zM506.2 318.4h0.7v0.7h-0.7zM506.1 321.7h0.7v0.7h-0.7zM504.3 325.1h0.7v0.7h-0.7zM505.8 325.2h0.7v0.7h-0.7zM506.3 319.4h0.7v0.7h-0.7zM504.6 323.6h0.7v0.7h-0.7zM504.1 332.0h0.7v0.7h-0.7zM505.6 326.4h0.7v0.7h-0.7zM508.2 323.4h0.7v0.7h-0.7zM509.4 314.9h0.7v0.7h-0.7zM506.6 321.2h0.7v0.7h-0.7zM505.2 325.8h0.7v0.7h-0.7zM506.0 324.7h0.7v0.7h-0.7zM511.9 322.3h0.7v0.7h-0.7zM508.8 325.2h0.7v0.7h-0.7zM503.2 325.7h0.7v0.7h-0.7zM505.9 326.4h0.7v0.7h-0.7zM504.4 320.0h0.7v0.7h-0.7zM504.9 331.4h0.7v0.7h-0.7zM500.9 325.8h0.7v0.7h-0.7zM506.1 322.2h0.7v0.7h-0.7zM501.9 330.2h0.7v0.7h-0.7zM504.3 326.5h0.7v0.7h-0.7zM510.7 324.3h0.7v0.7h-0.7zM509.1 320.8h0.7v0.7h-0.7zM503.4 326.1h0.7v0.7h-0.7zM502.9 327.5h0.7v0.7h-0.7zM503.3 322.3h0.7v0.7h-0.7zM500.3 326.3h0.7v0.7h-0.7zM503.1 324.8h0.7v0.7h-0.7zM505.2 323.6h0.7v0.7h-0.7zM502.9 323.7h0.7v0.7h-0.7zM508.4 319.4h0.7v0.7h-0.7zM505.9 325.3h0.7v0.7h-0.7zM504.4 325.5h0.7v0.7h-0.7zM511.4 324.5h0.7v0.7h-0.7zM508.2 322.7h0.7v0.7h-0.7zM506.3 322.1h0.7v0.7h-0.7zM511.7 317.3h0.7v0.7h-0.7zM510.1 322.2h0.7v0.7h-0.7zM503.9 324.2h0.7v0.7h-0.7zM507.0 329.0h0.7v0.7h-0.7zM504.7 330.9h0.7v0.7h-0.7zM501.7 330.5h0.7v0.7h-0.7zM511.8 318.7h0.7v0.7h-0.7zM510.6 317.9h0.7v0.7h-0.7zM502.2 325.3h0.7v0.7h-0.7zM507.6 320.8h0.7v0.7h-0.7zM501.1 330.4h0.7v0.7h-0.7zM509.3 322.7h0.7v0.7h-0.7zM505.9 323.0h0.7v0.7h-0.7zM505.2 324.4h0.7v0.7h-0.7zM509.9 325.5h0.7v0.7h-0.7zM506.1 321.4h0.7v0.7h-0.7zM505.3 325.7h0.7v0.7h-0.7zM508.8 319.0h0.7v0.7h-0.7zM505.1 323.9h0.7v0.7h-0.7zM508.7 320.9h0.7v0.7h-0.7zM506.1 324.8h0.7v0.7h-0.7zM508.6 323.2h0.7v0.7h-0.7zM508.0 326.3h0.7v0.7h-0.7zM508.5 324.6h0.7v0.7h-0.7zM503.0 323.9h0.7v0.7h-0.7zM511.8 317.5h0.7v0.7h-0.7zM505.6 322.0h0.7v0.7h-0.7zM511.5 320.1h0.7v0.7h-0.7zM504.2 324.3h0.7v0.7h-0.7zM505.2 322.4h0.7v0.7h-0.7zM505.3 327.3h0.7v0.7h-0.7zM509.6 324.8h0.7v0.7h-0.7zM504.8 323.9h0.7v0.7h-0.7zM507.3 322.0h0.7v0.7h-0.7zM501.3 325.7h0.7v0.7h-0.7zM504.6 324.6h0.7v0.7h-0.7zM506.7 323.6h0.7v0.7h-0.7zM505.7 319.8h0.7v0.7h-0.7zM500.3 325.7h0.7v0.7h-0.7zM507.6 318.1h0.7v0.7h-0.7zM503.1 325.6h0.7v0.7h-0.7zM512.0 322.8h0.7v0.7h-0.7zM505.5 321.4h0.7v0.7h-0.7zM513.0 321.0h0.7v0.7h-0.7zM508.1 321.3h0.7v0.7h-0.7zM507.5 321.4h0.7v0.7h-0.7zM504.6 330.0h0.7v0.7h-0.7zM505.7 326.6h0.7v0.7h-0.7zM507.5 324.6h0.7v0.7h-0.7zM500.1 325.8h0.7v0.7h-0.7zM509.1 323.6h0.7v0.7h-0.7zM502.5 325.3h0.7v0.7h-0.7zM505.3 325.6h0.7v0.7h-0.7zM497.6 325.8h0.7v0.7h-0.7zM507.5 323.1h0.7v0.7h-0.7zM508.4 321.8h0.7v0.7h-0.7zM506.9 319.7h0.7v0.7h-0.7zM507.1 328.1h0.7v0.7h-0.7zM504.9 326.8h0.7v0.7h-0.7zM506.5 321.6h0.7v0.7h-0.7zM509.8 318.1h0.7v0.7h-0.7zM504.7 322.7h0.7v0.7h-0.7zM507.6 320.9h0.7v0.7h-0.7zM508.3 321.2h0.7v0.7h-0.7zM505.3 320.2h0.7v0.7h-0.7zM506.8 321.4h0.7v0.7h-0.7zM506.7 323.8h0.7v0.7h-0.7zM504.5 325.9h0.7v0.7h-0.7zM513.6 314.8h0.7v0.7h-0.7zM504.7 324.6h0.7v0.7h-0.7zM511.3 318.7h0.7v0.7h-0.7zM509.4 319.5h0.7v0.7h-0.7zM499.8 326.3h0.7v0.7h-0.7zM506.8 321.7h0.7v0.7h-0.7zM509.2 324.3h0.7v0.7h-0.7zM508.6 324.6h0.7v0.7h-0.7zM503.3 324.5h0.7v0.7h-0.7zM506.9 321.8h0.7v0.7h-0.7zM502.3 330.7h0.7v0.7h-0.7zM502.8 330.7h0.7v0.7h-0.7zM505.3 325.4h0.7v0.7h-0.7zM506.6 323.3h0.7v0.7h-0.7zM511.0 324.2h0.7v0.7h-0.7zM507.2 327.4h0.7v0.7h-0.7zM509.3 320.9h0.7v0.7h-0.7zM502.3 330.8h0.7v0.7h-0.7zM502.5 325.3h0.7v0.7h-0.7zM504.6 327.7h0.7v0.7h-0.7zM511.5 319.9h0.7v0.7h-0.7zM501.9 326.2h0.7v0.7h-0.7zM501.1 325.2h0.7v0.7h-0.7zM505.8 324.2h0.7v0.7h-0.7zM509.7 324.9h0.7v0.7h-0.7zM501.0 324.1h0.7v0.7h-0.7zM505.3 323.6h0.7v0.7h-0.7zM501.8 327.6h0.7v0.7h-0.7zM510.5 320.5h0.7v0.7h-0.7zM508.2 328.5h0.7v0.7h-0.7z" fill="#0a0a0a"/>
<path d="M501,330 Q500,324 504,319.5 Q509,316 512.5,318 Q514,322 510,327 Q505,331.5 501,330Z" fill="#0a0a0a" opacity="1"/>
<path d="M483.0 322.3h0.5v0.5h-0.5zM518.5 324.0h0.5v0.5h-0.5zM490.2 353.2h0.5v0.5h-0.5zM504.7 322.8h0.5v0.5h-0.5zM510.4 325.4h0.5v0.5h-0.5zM500.8 328.5h0.5v0.5h-0.5zM483.5 344.0h0.5v0.5h-0.5zM493.1 336.4h0.5v0.5h-0.5zM496.6 333.1h0.5v0.5h-0.5zM501.1 321.5h0.5v0.5h-0.5zM504.8 338.6h0.5v0.5h-0.5zM506.0 333.0h0.5v0.5h-0.5zM509.1 326.4h0.5v0.5h-0.5zM487.6 338.8h0.5v0.5h-0.5zM504.8 340.1h0.5v0.5h-0.5zM497.3 322.3h0.5v0.5h-0.5zM486.5 330.1h0.5v0.5h-0.5zM495.8 330.9h0.5v0.5h-0.5zM504.8 342.9h0.5v0.5h-0.5zM481.9 337.4h0.5v0.5h-0.5zM485.2 348.0h0.5v0.5h-0.5zM490.1 336.8h0.5v0.5h-0.5zM496.7 347.7h0.5v0.5h-0.5zM490.5 351.2h0.5v0.5h-0.5zM493.0 332.6h0.5v0.5h-0.5zM485.8 332.0h0.5v0.5h-0.5zM507.5 335.9h0.5v0.5h-0.5zM493.2 326.4h0.5v0.5h-0.5zM485.5 336.0h0.5v0.5h-0.5zM502.1 319.8h0.5v0.5h-0.5zM500.3 335.4h0.5v0.5h-0.5zM497.9 335.5h0.5v0.5h-0.5zM498.0 349.4h0.5v0.5h-0.5zM492.5 340.1h0.5v0.5h-0.5zM494.8 330.7h0.5v0.5h-0.5zM482.1 329.1h0.5v0.5h-0.5zM485.0 339.6h0.5v0.5h-0.5zM498.6 333.4h0.5v0.5h-0.5zM506.9 336.3h0.5v0.5h-0.5zM494.5 344.5h0.5v0.5h-0.5zM493.6 319.5h0.5v0.5h-0.5zM506.1 335.8h0.5v0.5h-0.5zM492.8 343.3h0.5v0.5h-0.5zM501.9 323.9h0.5v0.5h-0.5zM499.9 351.2h0.5v0.5h-0.5zM484.2 333.4h0.5v0.5h-0.5zM497.8 342.2h0.5v0.5h-0.5zM485.7 347.4h0.5v0.5h-0.5zM486.8 341.1h0.5v0.5h-0.5zM484.6 348.1h0.5v0.5h-0.5zM508.3 323.4h0.5v0.5h-0.5zM514.9 323.4h0.5v0.5h-0.5zM502.3 317.2h0.5v0.5h-0.5zM510.0 336.5h0.5v0.5h-0.5zM484.0 333.5h0.5v0.5h-0.5zM508.6 338.7h0.5v0.5h-0.5zM513.7 335.8h0.5v0.5h-0.5zM510.5 320.1h0.5v0.5h-0.5zM487.6 344.6h0.5v0.5h-0.5zM505.7 335.3h0.5v0.5h-0.5zM495.0 338.0h0.5v0.5h-0.5zM505.6 337.1h0.5v0.5h-0.5zM490.3 337.5h0.5v0.5h-0.5zM496.1 336.1h0.5v0.5h-0.5zM490.9 346.6h0.5v0.5h-0.5zM500.3 326.2h0.5v0.5h-0.5zM495.1 325.9h0.5v0.5h-0.5zM506.0 326.5h0.5v0.5h-0.5zM503.4 342.7h0.5v0.5h-0.5zM499.7 332.1h0.5v0.5h-0.5zM495.7 352.6h0.5v0.5h-0.5zM496.1 329.8h0.5v0.5h-0.5zM502.7 330.1h0.5v0.5h-0.5zM497.2 338.0h0.5v0.5h-0.5zM498.6 346.7h0.5v0.5h-0.5zM495.7 334.5h0.5v0.5h-0.5zM495.3 327.4h0.5v0.5h-0.5zM490.1 345.0h0.5v0.5h-0.5zM501.0 339.5h0.5v0.5h-0.5zM487.3 341.2h0.5v0.5h-0.5zM513.2 323.7h0.5v0.5h-0.5zM485.6 335.0h0.5v0.5h-0.5zM505.0 335.8h0.5v0.5h-0.5zM498.3 335.6h0.5v0.5h-0.5zM498.9 333.0h0.5v0.5h-0.5zM506.2 322.9h0.5v0.5h-0.5zM504.3 336.0h0.5v0.5h-0.5zM496.2 330.2h0.5v0.5h-0.5zM486.5 339.6h0.5v0.5h-0.5zM485.1 334.2h0.5v0.5h-0.5zM497.7 337.2h0.5v0.5h-0.5zM510.2 338.2h0.5v0.5h-0.5zM503.9 335.6h0.5v0.5h-0.5zM495.7 341.7h0.5v0.5h-0.5zM499.0 323.2h0.5v0.5h-0.5zM502.2 338.1h0.5v0.5h-0.5zM511.5 333.8h0.5v0.5h-0.5zM489.2 332.6h0.5v0.5h-0.5zM502.5 332.6h0.5v0.5h-0.5zM489.2 338.7h0.5v0.5h-0.5zM486.9 335.2h0.5v0.5h-0.5zM499.0 339.4h0.5v0.5h-0.5zM494.2 331.0h0.5v0.5h-0.5zM496.9 338.1h0.5v0.5h-0.5zM504.9 331.3h0.5v0.5h-0.5zM496.9 339.9h0.5v0.5h-0.5zM510.5 332.4h0.5v0.5h-0.5zM493.7 334.2h0.5v0.5h-0.5zM489.0 342.3h0.5v0.5h-0.5zM495.0 343.4h0.5v0.5h-0.5zM487.6 319.0h0.5v0.5h-0.5zM492.9 337.1h0.5v0.5h-0.5zM507.0 327.5h0.5v0.5h-0.5zM511.4 321.8h0.5v0.5h-0.5zM501.7 345.5h0.5v0.5h-0.5zM497.8 343.7h0.5v0.5h-0.5zM487.9 329.5h0.5v0.5h-0.5zM487.0 329.0h0.5v0.5h-0.5zM499.4 342.0h0.5v0.5h-0.5zM497.5 330.1h0.5v0.5h-0.5zM490.8 334.7h0.5v0.5h-0.5zM492.0 320.2h0.5v0.5h-0.5zM510.0 330.6h0.5v0.5h-0.5zM504.9 343.0h0.5v0.5h-0.5zM496.5 331.8h0.5v0.5h-0.5zM498.1 334.3h0.5v0.5h-0.5zM507.5 347.5h0.5v0.5h-0.5zM499.3 342.5h0.5v0.5h-0.5zM498.2 347.5h0.5v0.5h-0.5zM481.9 345.6h0.5v0.5h-0.5zM495.9 321.7h0.5v0.5h-0.5zM499.0 354.1h0.5v0.5h-0.5zM488.2 339.8h0.5v0.5h-0.5zM500.0 333.7h0.5v0.5h-0.5zM500.0 328.2h0.5v0.5h-0.5zM495.3 327.4h0.5v0.5h-0.5zM482.8 315.8h0.5v0.5h-0.5zM509.0 351.3h0.5v0.5h-0.5zM508.4 331.5h0.5v0.5h-0.5zM490.9 338.0h0.5v0.5h-0.5zM513.5 318.6h0.5v0.5h-0.5zM496.5 335.3h0.5v0.5h-0.5zM489.0 341.3h0.5v0.5h-0.5zM492.4 336.3h0.5v0.5h-0.5zM492.9 329.6h0.5v0.5h-0.5zM481.7 343.0h0.5v0.5h-0.5zM506.2 340.5h0.5v0.5h-0.5zM498.9 339.9h0.5v0.5h-0.5zM483.6 342.9h0.5v0.5h-0.5zM501.2 333.5h0.5v0.5h-0.5zM497.5 340.2h0.5v0.5h-0.5zM500.3 331.3h0.5v0.5h-0.5zM496.7 327.6h0.5v0.5h-0.5zM485.9 345.5h0.5v0.5h-0.5zM495.0 322.4h0.5v0.5h-0.5zM494.4 331.6h0.5v0.5h-0.5zM496.6 342.4h0.5v0.5h-0.5zM509.4 340.0h0.5v0.5h-0.5zM511.3 328.1h0.5v0.5h-0.5zM510.3 332.2h0.5v0.5h-0.5zM490.3 342.3h0.5v0.5h-0.5zM489.3 337.3h0.5v0.5h-0.5zM496.2 329.2h0.5v0.5h-0.5zM499.9 338.5h0.5v0.5h-0.5z" fill="#0a0a0a"/>
<rect x="285.40" y="313.60" width="40.20" height="42.40" fill="none" stroke="#111" stroke-width="1.15"/>
<rect x="303.70" y="316.40" width="16.50" height="20.00" fill="none" stroke="#111" stroke-width="0.9"/>
<g transform="translate(287.60 318.60) scale(1 1.0)"><text x="0" y="2.70" font-size="7.5" fill="#333" letter-spacing="-0.05">0</text></g>
<line x1="285.40" y1="320.70" x2="286.90" y2="320.70" stroke="#333" stroke-width="0.5"/>
<line x1="292.10" y1="356.00" x2="292.10" y2="354.50" stroke="#333" stroke-width="0.5"/>
<line x1="285.40" y1="327.80" x2="286.90" y2="327.80" stroke="#333" stroke-width="0.5"/>
<line x1="298.80" y1="356.00" x2="298.80" y2="354.50" stroke="#333" stroke-width="0.5"/>
<line x1="285.40" y1="334.90" x2="286.90" y2="334.90" stroke="#333" stroke-width="0.5"/>
<line x1="305.50" y1="356.00" x2="305.50" y2="354.50" stroke="#333" stroke-width="0.5"/>
<line x1="285.40" y1="342.00" x2="286.90" y2="342.00" stroke="#333" stroke-width="0.5"/>
<line x1="312.20" y1="356.00" x2="312.20" y2="354.50" stroke="#333" stroke-width="0.5"/>
<line x1="285.40" y1="349.10" x2="286.90" y2="349.10" stroke="#333" stroke-width="0.5"/>
<line x1="318.90" y1="356.00" x2="318.90" y2="354.50" stroke="#333" stroke-width="0.5"/>
<rect x="334.30" y="313.60" width="40.20" height="42.40" fill="none" stroke="#111" stroke-width="1.15"/>
<rect x="352.60" y="316.40" width="16.50" height="20.00" fill="none" stroke="#111" stroke-width="0.9"/>
<g transform="translate(336.50 318.60) scale(1 1.0)"><text x="0" y="2.70" font-size="7.5" fill="#333" letter-spacing="-0.05">0</text></g>
<line x1="334.30" y1="320.70" x2="335.80" y2="320.70" stroke="#333" stroke-width="0.5"/>
<line x1="341.00" y1="356.00" x2="341.00" y2="354.50" stroke="#333" stroke-width="0.5"/>
<line x1="334.30" y1="327.80" x2="335.80" y2="327.80" stroke="#333" stroke-width="0.5"/>
<line x1="347.70" y1="356.00" x2="347.70" y2="354.50" stroke="#333" stroke-width="0.5"/>
<line x1="334.30" y1="334.90" x2="335.80" y2="334.90" stroke="#333" stroke-width="0.5"/>
<line x1="354.40" y1="356.00" x2="354.40" y2="354.50" stroke="#333" stroke-width="0.5"/>
<line x1="334.30" y1="342.00" x2="335.80" y2="342.00" stroke="#333" stroke-width="0.5"/>
<line x1="361.10" y1="356.00" x2="361.10" y2="354.50" stroke="#333" stroke-width="0.5"/>
<line x1="334.30" y1="349.10" x2="335.80" y2="349.10" stroke="#333" stroke-width="0.5"/>
<line x1="367.80" y1="356.00" x2="367.80" y2="354.50" stroke="#333" stroke-width="0.5"/>
<rect x="383.00" y="313.60" width="40.20" height="42.40" fill="none" stroke="#111" stroke-width="1.15"/>
<rect x="401.30" y="316.40" width="16.50" height="20.00" fill="none" stroke="#111" stroke-width="0.9"/>
<g transform="translate(385.20 318.60) scale(1 1.0)"><text x="0" y="2.70" font-size="7.5" fill="#333" letter-spacing="-0.05">0</text></g>
<line x1="383.00" y1="320.70" x2="384.50" y2="320.70" stroke="#333" stroke-width="0.5"/>
<line x1="389.70" y1="356.00" x2="389.70" y2="354.50" stroke="#333" stroke-width="0.5"/>
<line x1="383.00" y1="327.80" x2="384.50" y2="327.80" stroke="#333" stroke-width="0.5"/>
<line x1="396.40" y1="356.00" x2="396.40" y2="354.50" stroke="#333" stroke-width="0.5"/>
<line x1="383.00" y1="334.90" x2="384.50" y2="334.90" stroke="#333" stroke-width="0.5"/>
<line x1="403.10" y1="356.00" x2="403.10" y2="354.50" stroke="#333" stroke-width="0.5"/>
<line x1="383.00" y1="342.00" x2="384.50" y2="342.00" stroke="#333" stroke-width="0.5"/>
<line x1="409.80" y1="356.00" x2="409.80" y2="354.50" stroke="#333" stroke-width="0.5"/>
<line x1="383.00" y1="349.10" x2="384.50" y2="349.10" stroke="#333" stroke-width="0.5"/>
<line x1="416.50" y1="356.00" x2="416.50" y2="354.50" stroke="#333" stroke-width="0.5"/>
<rect x="431.60" y="313.60" width="40.20" height="42.40" fill="none" stroke="#111" stroke-width="1.15"/>
<rect x="449.90" y="316.40" width="16.50" height="20.00" fill="none" stroke="#111" stroke-width="0.9"/>
<g transform="translate(433.80 318.60) scale(1 1.0)"><text x="0" y="2.70" font-size="7.5" fill="#333" letter-spacing="-0.05">0</text></g>
<line x1="431.60" y1="320.70" x2="433.10" y2="320.70" stroke="#333" stroke-width="0.5"/>
<line x1="438.30" y1="356.00" x2="438.30" y2="354.50" stroke="#333" stroke-width="0.5"/>
<line x1="431.60" y1="327.80" x2="433.10" y2="327.80" stroke="#333" stroke-width="0.5"/>
<line x1="445.00" y1="356.00" x2="445.00" y2="354.50" stroke="#333" stroke-width="0.5"/>
<line x1="431.60" y1="334.90" x2="433.10" y2="334.90" stroke="#333" stroke-width="0.5"/>
<line x1="451.70" y1="356.00" x2="451.70" y2="354.50" stroke="#333" stroke-width="0.5"/>
<line x1="431.60" y1="342.00" x2="433.10" y2="342.00" stroke="#333" stroke-width="0.5"/>
<line x1="458.40" y1="356.00" x2="458.40" y2="354.50" stroke="#333" stroke-width="0.5"/>
<line x1="431.60" y1="349.10" x2="433.10" y2="349.10" stroke="#333" stroke-width="0.5"/>
<line x1="465.10" y1="356.00" x2="465.10" y2="354.50" stroke="#333" stroke-width="0.5"/>
<rect x="480.70" y="313.60" width="40.20" height="42.40" fill="none" stroke="#111" stroke-width="1.15"/>
<rect x="499.00" y="316.40" width="16.50" height="20.00" fill="none" stroke="#111" stroke-width="0.9"/>
<g transform="translate(482.90 318.60) scale(1 1.0)"><text x="0" y="2.70" font-size="7.5" fill="#333" letter-spacing="-0.05">47</text></g>
<line x1="480.70" y1="320.70" x2="482.20" y2="320.70" stroke="#333" stroke-width="0.5"/>
<line x1="487.40" y1="356.00" x2="487.40" y2="354.50" stroke="#333" stroke-width="0.5"/>
<line x1="480.70" y1="327.80" x2="482.20" y2="327.80" stroke="#333" stroke-width="0.5"/>
<line x1="494.10" y1="356.00" x2="494.10" y2="354.50" stroke="#333" stroke-width="0.5"/>
<line x1="480.70" y1="334.90" x2="482.20" y2="334.90" stroke="#333" stroke-width="0.5"/>
<line x1="500.80" y1="356.00" x2="500.80" y2="354.50" stroke="#333" stroke-width="0.5"/>
<line x1="480.70" y1="342.00" x2="482.20" y2="342.00" stroke="#333" stroke-width="0.5"/>
<line x1="507.50" y1="356.00" x2="507.50" y2="354.50" stroke="#333" stroke-width="0.5"/>
<line x1="480.70" y1="349.10" x2="482.20" y2="349.10" stroke="#333" stroke-width="0.5"/>
<line x1="514.20" y1="356.00" x2="514.20" y2="354.50" stroke="#333" stroke-width="0.5"/>
<g transform="translate(265.00 274.50) rotate(-90) scale(1 1.07)"><text x="0" y="2.81" font-size="7.8" fill="#333" text-anchor="middle" letter-spacing="-0.05">CAR19 AF647</text></g>
<g transform="translate(285.30 304.40) scale(1 1.0)"><text x="0" y="2.74" font-size="7.6" fill="#333" letter-spacing="-0.05">CD3 BV605</text></g>
<line x1="326.70" y1="305.00" x2="517.00" y2="305.00" stroke="#333" stroke-width="0.8"/>
<path d="M521.00,305.00 L516.00,302.80 L517.25,305.00 L516.00,307.20Z" fill="#222"/>
<g transform="translate(264.00 335.00) rotate(-90) scale(1 1.07)"><text x="0" y="2.81" font-size="7.8" fill="#333" text-anchor="middle" letter-spacing="-0.05">CD19 PECy7</text></g>
<g transform="translate(281.30 315.20) scale(1 1.0)"><text x="0" y="2.30" font-size="6.4" fill="#333" text-anchor="end">10<tspan font-size="4.2" dy="-2.6">5</tspan></text></g>
<g transform="translate(281.30 325.20) scale(1 1.0)"><text x="0" y="2.30" font-size="6.4" fill="#333" text-anchor="end">10<tspan font-size="4.2" dy="-2.6">4</tspan></text></g>
<g transform="translate(281.30 335.30) scale(1 1.0)"><text x="0" y="2.30" font-size="6.4" fill="#333" text-anchor="end">10<tspan font-size="4.2" dy="-2.6">3</tspan></text></g>
<g transform="translate(281.30 345.20) scale(1 1.0)"><text x="0" y="2.30" font-size="6.4" fill="#333" text-anchor="end">10<tspan font-size="4.2" dy="-2.6">2</tspan></text></g>
<g transform="translate(281.30 355.30) scale(1 1.0)"><text x="0" y="2.30" font-size="6.4" fill="#333" text-anchor="end">0</text></g>
<text x="289.30" y="359.0" font-size="6.0" fill="#333" text-anchor="end" transform="rotate(-50 289.30 359.0)">0</text>
<text x="297.00" y="359.0" font-size="6.0" fill="#333" text-anchor="end" transform="rotate(-50 297.00 359.0)">10<tspan font-size="3.6" dy="-2.2">2</tspan></text>
<text x="304.70" y="359.0" font-size="6.0" fill="#333" text-anchor="end" transform="rotate(-50 304.70 359.0)">10<tspan font-size="3.6" dy="-2.2">3</tspan></text>
<text x="312.40" y="359.0" font-size="6.0" fill="#333" text-anchor="end" transform="rotate(-50 312.40 359.0)">10<tspan font-size="3.6" dy="-2.2">4</tspan></text>
<text x="320.10" y="359.0" font-size="6.0" fill="#333" text-anchor="end" transform="rotate(-50 320.10 359.0)">10<tspan font-size="3.6" dy="-2.2">5</tspan></text>
<g transform="translate(284.00 372.60) scale(1 1.0)"><text x="0" y="2.74" font-size="7.6" fill="#333" letter-spacing="-0.05">CD20 APCH7</text></g>
<line x1="331.70" y1="373.60" x2="517.00" y2="373.60" stroke="#333" stroke-width="0.8"/>
<path d="M521.00,373.60 L516.00,371.40 L517.25,373.60 L516.00,375.80Z" fill="#222"/>
<text x="-0.50" y="392.24" font-size="9" font-weight="bold" fill="#111">f</text>
<circle cx="54.10" cy="398.70" r="3.9" fill="#efcfe0" stroke="#5e4a58" stroke-width="0.6"/>
<circle cx="54.10" cy="398.70" r="2.886" fill="#cf4d96" stroke="none" stroke-width="0.5"/>
<circle cx="53.60" cy="398.20" r="1.404" fill="#e07ab4" stroke="none" stroke-width="0.5"/>
<circle cx="61.90" cy="396.10" r="3.9" fill="#efcfe0" stroke="#5e4a58" stroke-width="0.6"/>
<circle cx="61.90" cy="396.10" r="2.886" fill="#cf4d96" stroke="none" stroke-width="0.5"/>
<circle cx="61.40" cy="395.60" r="1.404" fill="#e07ab4" stroke="none" stroke-width="0.5"/>
<circle cx="60.10" cy="403.90" r="3.9" fill="#efcfe0" stroke="#5e4a58" stroke-width="0.6"/>
<circle cx="60.10" cy="403.90" r="2.886" fill="#cf4d96" stroke="none" stroke-width="0.5"/>
<circle cx="59.60" cy="403.40" r="1.404" fill="#e07ab4" stroke="none" stroke-width="0.5"/>
<g transform="translate(67.60 399.80) scale(1 1.07)"><text x="0" y="2.83" font-size="7.85" fill="#333" letter-spacing="-0.05">Patient CAR T cells</text></g>
<line x1="60.30" y1="408.80" x2="60.30" y2="414.50" stroke="#222" stroke-width="1.0"/>
<path d="M60.30,417.60 L57.70,412.80 L60.30,414.00 L62.90,412.80Z" fill="#111"/>
<line x1="41.10" y1="432.00" x2="151.00" y2="432.00" stroke="#333" stroke-width="1.0"/>
<path d="M158.2,432 L149.5,427.8 L151.5,432 L149.5,436.2Z" fill="#111" stroke="none" stroke-width="0"/>
<line x1="41.10" y1="427.00" x2="41.10" y2="436.60" stroke="#222" stroke-width="1.0"/>
<g transform="translate(41.10 422.60) scale(1 1.0)"><text x="0" y="2.74" font-size="7.6" fill="#333" text-anchor="middle" letter-spacing="-0.05">0</text></g>
<line x1="63.70" y1="428.80" x2="63.70" y2="435.60" stroke="#222" stroke-width="0.9"/>
<g transform="translate(63.70 422.60) scale(1 1.0)"><text x="0" y="2.74" font-size="7.6" fill="#333" text-anchor="middle" letter-spacing="-0.05">8</text></g>
<line x1="76.80" y1="428.80" x2="76.80" y2="435.60" stroke="#222" stroke-width="0.9"/>
<g transform="translate(76.80 422.60) scale(1 1.0)"><text x="0" y="2.74" font-size="7.6" fill="#333" text-anchor="middle" letter-spacing="-0.05">12</text></g>
<line x1="89.70" y1="428.80" x2="89.70" y2="435.60" stroke="#222" stroke-width="0.9"/>
<g transform="translate(89.70 422.60) scale(1 1.0)"><text x="0" y="2.74" font-size="7.6" fill="#333" text-anchor="middle" letter-spacing="-0.05">16</text></g>
<line x1="102.50" y1="428.80" x2="102.50" y2="435.60" stroke="#222" stroke-width="0.9"/>
<g transform="translate(102.50 422.60) scale(1 1.0)"><text x="0" y="2.74" font-size="7.6" fill="#333" text-anchor="middle" letter-spacing="-0.05">20</text></g>
<line x1="115.60" y1="428.80" x2="115.60" y2="435.60" stroke="#222" stroke-width="0.9"/>
<g transform="translate(115.60 422.60) scale(1 1.0)"><text x="0" y="2.74" font-size="7.6" fill="#333" text-anchor="middle" letter-spacing="-0.05">24</text></g>
<line x1="128.80" y1="428.80" x2="128.80" y2="435.60" stroke="#222" stroke-width="0.9"/>
<g transform="translate(128.80 422.60) scale(1 1.0)"><text x="0" y="2.74" font-size="7.6" fill="#333" text-anchor="middle" letter-spacing="-0.05">28</text></g>
<line x1="141.60" y1="428.80" x2="141.60" y2="435.60" stroke="#222" stroke-width="0.9"/>
<g transform="translate(141.60 422.60) scale(1 1.0)"><text x="0" y="2.74" font-size="7.6" fill="#333" text-anchor="middle" letter-spacing="-0.05">32</text></g>
<g transform="translate(161.40 431.80) scale(1 1.07)"><text x="0" y="2.83" font-size="7.85" fill="#333" letter-spacing="-0.05">40 (d)</text></g>
<g transform="translate(126.70 442.40) scale(1 1.07)"><text x="0" y="2.83" font-size="7.85" fill="#333" text-anchor="middle" letter-spacing="-0.05">Monitor CAR T cell expansion,</text></g>
<g transform="translate(126.60 451.60) scale(1 1.07)"><text x="0" y="2.83" font-size="7.85" fill="#333" text-anchor="middle" letter-spacing="-0.05">tumor burden, morbidity and survival</text></g>
<path d="M62.9,449.6 L62.9,457.2 L191.1,457.2 L191.1,451.1" fill="none" stroke="#444" stroke-width="1.0"/>
<path d="M36.6,442.8 C34,439 31,440.5 24,439.8 C17,439.2 12.5,437.5 14.2,433.6" fill="none" stroke="#333" stroke-width="0.75"/>
<path d="M14.6,433.5 C13.6,428.5 18,424.4 23.5,424.2 C27,424.1 29,424.6 30.6,425.8 L31.5,423.4 L32.4,426.6 C34,428 35.5,430 35.8,431.2 C35.4,432.6 33.8,433.2 32.5,433.4 L31.4,435.6 L29.8,435.4 L29.6,434.2 C27,434.8 24,435.2 22.4,435.2 L21.2,435.6 C18,435.2 15.2,434.8 14.6,433.5Z" fill="#ebebeb" stroke="#333" stroke-width="0.75"/>
<path d="M27.8,427.4 C27.2,425.2 29.4,424.6 30.2,426.4 C30.5,427.8 28.8,428.8 27.8,427.4Z" fill="#f4f4f4" stroke="#333" stroke-width="0.6"/>
<path d="M19.5,435.3 L22.5,435.6 M29.3,435.0 L31.8,435.8" fill="none" stroke="#222" stroke-width="1.0"/>
<circle cx="32.40" cy="429.80" r="0.55" fill="#333" stroke="none" stroke-width="0.5"/>
<path d="M35.6,431.3 L36.4,431.5" fill="none" stroke="#555" stroke-width="0.5"/>
<line x1="41.10" y1="448.00" x2="41.10" y2="442.50" stroke="#222" stroke-width="1.0"/>
<path d="M41.10,439.40 L38.50,444.20 L41.10,443.00 L43.70,444.20Z" fill="#111"/>
<circle cx="43.20" cy="452.80" r="3.4" fill="#9fbaa5" stroke="#6f8576" stroke-width="0.5"/>
<circle cx="43.00" cy="452.60" r="2.584" fill="#c67890" stroke="none" stroke-width="0.5"/>
<circle cx="42.70" cy="452.30" r="1.428" fill="#d99aae" stroke="none" stroke-width="0.5"/>
<circle cx="36.80" cy="456.10" r="3.4" fill="#9fbaa5" stroke="#6f8576" stroke-width="0.5"/>
<circle cx="36.60" cy="455.90" r="2.584" fill="#c67890" stroke="none" stroke-width="0.5"/>
<circle cx="36.30" cy="455.60" r="1.428" fill="#d99aae" stroke="none" stroke-width="0.5"/>
<circle cx="42.80" cy="458.60" r="3.4" fill="#9fbaa5" stroke="#6f8576" stroke-width="0.5"/>
<circle cx="42.60" cy="458.40" r="2.584" fill="#c67890" stroke="none" stroke-width="0.5"/>
<circle cx="42.30" cy="458.10" r="1.428" fill="#d99aae" stroke="none" stroke-width="0.5"/>
<g transform="translate(42.60 466.10) scale(1 1.07)"><text x="0" y="2.83" font-size="7.85" fill="#333" text-anchor="middle" letter-spacing="-0.05">Leukemia</text></g>
<g transform="translate(42.60 475.20) scale(1 1.07)"><text x="0" y="2.83" font-size="7.85" fill="#333" text-anchor="middle" letter-spacing="-0.05">cells</text></g>
<text x="262.00" y="392.18" font-size="10.5" font-weight="bold" fill="#111" font-family="Liberation Serif, serif">g</text>
<g transform="translate(346.10 397.10) scale(1 1.07)"><text x="0" y="2.83" font-size="7.85" fill="#333" text-anchor="middle" letter-spacing="-0.05">Morbidity</text></g>
<line x1="303.00" y1="420.21" x2="303.00" y2="491.00" stroke="#444" stroke-width="0.8"/>
<line x1="302.60" y1="490.60" x2="392.50" y2="490.60" stroke="#444" stroke-width="0.8"/>
<line x1="300.80" y1="490.60" x2="303.00" y2="490.60" stroke="#444" stroke-width="0.8"/>
<g transform="translate(295.10 490.60) scale(1 1.0)"><text x="0" y="2.70" font-size="7.5" fill="#333" text-anchor="end" letter-spacing="-0.05">0</text></g>
<line x1="300.80" y1="478.87" x2="303.00" y2="478.87" stroke="#444" stroke-width="0.8"/>
<g transform="translate(295.10 478.87) scale(1 1.0)"><text x="0" y="2.70" font-size="7.5" fill="#333" text-anchor="end" letter-spacing="-0.05">20</text></g>
<line x1="300.80" y1="467.14" x2="303.00" y2="467.14" stroke="#444" stroke-width="0.8"/>
<g transform="translate(295.10 467.14) scale(1 1.0)"><text x="0" y="2.70" font-size="7.5" fill="#333" text-anchor="end" letter-spacing="-0.05">40</text></g>
<line x1="300.80" y1="455.40" x2="303.00" y2="455.40" stroke="#444" stroke-width="0.8"/>
<g transform="translate(295.10 455.40) scale(1 1.0)"><text x="0" y="2.70" font-size="7.5" fill="#333" text-anchor="end" letter-spacing="-0.05">60</text></g>
<line x1="300.80" y1="443.67" x2="303.00" y2="443.67" stroke="#444" stroke-width="0.8"/>
<g transform="translate(295.10 443.67) scale(1 1.0)"><text x="0" y="2.70" font-size="7.5" fill="#333" text-anchor="end" letter-spacing="-0.05">80</text></g>
<line x1="300.80" y1="431.94" x2="303.00" y2="431.94" stroke="#444" stroke-width="0.8"/>
<g transform="translate(295.10 431.94) scale(1 1.0)"><text x="0" y="2.70" font-size="7.5" fill="#333" text-anchor="end" letter-spacing="-0.05">100</text></g>
<line x1="300.80" y1="420.21" x2="303.00" y2="420.21" stroke="#444" stroke-width="0.8"/>
<g transform="translate(295.10 420.21) scale(1 1.0)"><text x="0" y="2.70" font-size="7.5" fill="#333" text-anchor="end" letter-spacing="-0.05">120</text></g>
<line x1="310.50" y1="490.60" x2="310.50" y2="492.60" stroke="#444" stroke-width="0.8"/>
<g transform="translate(310.50 500.30) scale(1 1.0)"><text x="0" y="2.70" font-size="7.5" fill="#333" text-anchor="middle" letter-spacing="-0.05">5</text></g>
<line x1="321.80" y1="490.60" x2="321.80" y2="492.60" stroke="#444" stroke-width="0.8"/>
<g transform="translate(321.80 500.30) scale(1 1.0)"><text x="0" y="2.70" font-size="7.5" fill="#333" text-anchor="middle" letter-spacing="-0.05">12</text></g>
<line x1="332.70" y1="490.60" x2="332.70" y2="492.60" stroke="#444" stroke-width="0.8"/>
<g transform="translate(332.70 500.30) scale(1 1.0)"><text x="0" y="2.70" font-size="7.5" fill="#333" text-anchor="middle" letter-spacing="-0.05">20</text></g>
<line x1="344.80" y1="490.60" x2="344.80" y2="492.60" stroke="#444" stroke-width="0.8"/>
<g transform="translate(344.80 500.30) scale(1 1.0)"><text x="0" y="2.70" font-size="7.5" fill="#333" text-anchor="middle" letter-spacing="-0.05">24</text></g>
<line x1="356.30" y1="490.60" x2="356.30" y2="492.60" stroke="#444" stroke-width="0.8"/>
<g transform="translate(356.30 500.30) scale(1 1.0)"><text x="0" y="2.70" font-size="7.5" fill="#333" text-anchor="middle" letter-spacing="-0.05">28</text></g>
<line x1="367.50" y1="490.60" x2="367.50" y2="492.60" stroke="#444" stroke-width="0.8"/>
<g transform="translate(367.50 500.30) scale(1 1.0)"><text x="0" y="2.70" font-size="7.5" fill="#333" text-anchor="middle" letter-spacing="-0.05">32</text></g>
<line x1="379.30" y1="490.60" x2="379.30" y2="492.60" stroke="#444" stroke-width="0.8"/>
<g transform="translate(379.30 500.30) scale(1 1.0)"><text x="0" y="2.70" font-size="7.5" fill="#333" text-anchor="middle" letter-spacing="-0.05">38</text></g>
<line x1="389.70" y1="490.60" x2="389.70" y2="492.60" stroke="#444" stroke-width="0.8"/>
<g transform="translate(389.70 500.30) scale(1 1.0)"><text x="0" y="2.70" font-size="7.5" fill="#333" text-anchor="middle" letter-spacing="-0.05">40</text></g>
<g transform="translate(345.40 510.60) scale(1 1.07)"><text x="0" y="2.83" font-size="7.85" fill="#333" text-anchor="middle" letter-spacing="-0.05">Time (d)</text></g>
<g transform="translate(263.80 455.00) rotate(-90) scale(1 1.07)"><text x="0" y="2.81" font-size="7.8" fill="#333" text-anchor="middle" letter-spacing="-0.05">% of original</text></g>
<g transform="translate(271.60 455.00) rotate(-90) scale(1 1.07)"><text x="0" y="2.81" font-size="7.8" fill="#333" text-anchor="middle" letter-spacing="-0.05">body weight</text></g>
<line x1="333.60" y1="430.60" x2="333.60" y2="434.60" stroke="#ec9030" stroke-width="0.9"/>
<line x1="332.20" y1="430.60" x2="335.00" y2="430.60" stroke="#ec9030" stroke-width="0.9"/>
<line x1="332.20" y1="434.60" x2="335.00" y2="434.60" stroke="#ec9030" stroke-width="0.9"/>
<line x1="344.90" y1="429.50" x2="344.90" y2="434.50" stroke="#ec9030" stroke-width="0.9"/>
<line x1="343.50" y1="429.50" x2="346.30" y2="429.50" stroke="#ec9030" stroke-width="0.9"/>
<line x1="343.50" y1="434.50" x2="346.30" y2="434.50" stroke="#ec9030" stroke-width="0.9"/>
<line x1="368.00" y1="428.50" x2="368.00" y2="432.20" stroke="#ec9030" stroke-width="0.9"/>
<line x1="366.60" y1="428.50" x2="369.40" y2="428.50" stroke="#ec9030" stroke-width="0.9"/>
<line x1="366.60" y1="432.20" x2="369.40" y2="432.20" stroke="#ec9030" stroke-width="0.9"/>
<line x1="379.70" y1="432.50" x2="379.70" y2="439.50" stroke="#ec9030" stroke-width="0.9"/>
<line x1="378.30" y1="432.50" x2="381.10" y2="432.50" stroke="#ec9030" stroke-width="0.9"/>
<line x1="378.30" y1="439.50" x2="381.10" y2="439.50" stroke="#ec9030" stroke-width="0.9"/>
<line x1="391.00" y1="428.00" x2="391.00" y2="432.80" stroke="#ec9030" stroke-width="0.9"/>
<line x1="389.60" y1="428.00" x2="392.40" y2="428.00" stroke="#ec9030" stroke-width="0.9"/>
<line x1="389.60" y1="432.80" x2="392.40" y2="432.80" stroke="#ec9030" stroke-width="0.9"/>
<polyline points="333.60,432.60 339.30,432.00 344.90,432.00 356.70,431.60 368.00,430.30 379.70,436.20 385.40,435.60 391.00,430.30" fill="none" stroke="#ec9030" stroke-width="1.2" stroke-linejoin="round"/>
<circle cx="333.60" cy="432.60" r="2.1" fill="#ec9030" stroke="none" stroke-width="0.5"/>
<circle cx="339.30" cy="432.00" r="2.1" fill="#ec9030" stroke="none" stroke-width="0.5"/>
<circle cx="344.90" cy="432.00" r="2.1" fill="#ec9030" stroke="none" stroke-width="0.5"/>
<circle cx="356.70" cy="431.60" r="2.1" fill="#ec9030" stroke="none" stroke-width="0.5"/>
<circle cx="368.00" cy="430.30" r="2.1" fill="#ec9030" stroke="none" stroke-width="0.5"/>
<circle cx="379.70" cy="436.20" r="2.1" fill="#ec9030" stroke="none" stroke-width="0.5"/>
<circle cx="385.40" cy="435.60" r="2.1" fill="#ec9030" stroke="none" stroke-width="0.5"/>
<circle cx="391.00" cy="430.30" r="2.1" fill="#ec9030" stroke="none" stroke-width="0.5"/>
<line x1="333.60" y1="428.80" x2="333.60" y2="432.20" stroke="#2e3f9e" stroke-width="0.9"/>
<line x1="332.20" y1="428.80" x2="335.00" y2="428.80" stroke="#2e3f9e" stroke-width="0.9"/>
<line x1="332.20" y1="432.20" x2="335.00" y2="432.20" stroke="#2e3f9e" stroke-width="0.9"/>
<line x1="344.90" y1="422.50" x2="344.90" y2="431.00" stroke="#2e3f9e" stroke-width="0.9"/>
<line x1="343.50" y1="422.50" x2="346.30" y2="422.50" stroke="#2e3f9e" stroke-width="0.9"/>
<line x1="343.50" y1="431.00" x2="346.30" y2="431.00" stroke="#2e3f9e" stroke-width="0.9"/>
<line x1="356.70" y1="429.00" x2="356.70" y2="433.00" stroke="#2e3f9e" stroke-width="0.9"/>
<line x1="355.30" y1="429.00" x2="358.10" y2="429.00" stroke="#2e3f9e" stroke-width="0.9"/>
<line x1="355.30" y1="433.00" x2="358.10" y2="433.00" stroke="#2e3f9e" stroke-width="0.9"/>
<line x1="368.00" y1="432.00" x2="368.00" y2="436.00" stroke="#2e3f9e" stroke-width="0.9"/>
<line x1="366.60" y1="432.00" x2="369.40" y2="432.00" stroke="#2e3f9e" stroke-width="0.9"/>
<line x1="366.60" y1="436.00" x2="369.40" y2="436.00" stroke="#2e3f9e" stroke-width="0.9"/>
<line x1="373.40" y1="433.00" x2="373.40" y2="437.50" stroke="#2e3f9e" stroke-width="0.9"/>
<line x1="372.00" y1="433.00" x2="374.80" y2="433.00" stroke="#2e3f9e" stroke-width="0.9"/>
<line x1="372.00" y1="437.50" x2="374.80" y2="437.50" stroke="#2e3f9e" stroke-width="0.9"/>
<line x1="379.70" y1="422.50" x2="379.70" y2="430.50" stroke="#2e3f9e" stroke-width="0.9"/>
<line x1="378.30" y1="422.50" x2="381.10" y2="422.50" stroke="#2e3f9e" stroke-width="0.9"/>
<line x1="378.30" y1="430.50" x2="381.10" y2="430.50" stroke="#2e3f9e" stroke-width="0.9"/>
<line x1="391.00" y1="433.50" x2="391.00" y2="439.00" stroke="#2e3f9e" stroke-width="0.9"/>
<line x1="389.60" y1="433.50" x2="392.40" y2="433.50" stroke="#2e3f9e" stroke-width="0.9"/>
<line x1="389.60" y1="439.00" x2="392.40" y2="439.00" stroke="#2e3f9e" stroke-width="0.9"/>
<polyline points="327.70,431.40 333.60,430.50 339.30,431.40 344.90,427.40 356.70,431.00 368.00,434.10 373.40,435.20 379.70,426.80 391.00,436.20" fill="none" stroke="#2e3f9e" stroke-width="1.2" stroke-linejoin="round"/>
<circle cx="327.70" cy="431.40" r="2.1" fill="#2e3f9e" stroke="none" stroke-width="0.5"/>
<circle cx="333.60" cy="430.50" r="2.1" fill="#2e3f9e" stroke="none" stroke-width="0.5"/>
<circle cx="339.30" cy="431.40" r="2.1" fill="#2e3f9e" stroke="none" stroke-width="0.5"/>
<circle cx="344.90" cy="427.40" r="2.1" fill="#2e3f9e" stroke="none" stroke-width="0.5"/>
<circle cx="356.70" cy="431.00" r="2.1" fill="#2e3f9e" stroke="none" stroke-width="0.5"/>
<circle cx="368.00" cy="434.10" r="2.1" fill="#2e3f9e" stroke="none" stroke-width="0.5"/>
<circle cx="373.40" cy="435.20" r="2.1" fill="#2e3f9e" stroke="none" stroke-width="0.5"/>
<circle cx="379.70" cy="426.80" r="2.1" fill="#2e3f9e" stroke="none" stroke-width="0.5"/>
<circle cx="391.00" cy="436.20" r="2.1" fill="#2e3f9e" stroke="none" stroke-width="0.5"/>
<line x1="339.30" y1="437.50" x2="339.30" y2="441.50" stroke="#111" stroke-width="0.9"/>
<line x1="337.90" y1="437.50" x2="340.70" y2="437.50" stroke="#111" stroke-width="0.9"/>
<line x1="337.90" y1="441.50" x2="340.70" y2="441.50" stroke="#111" stroke-width="0.9"/>
<line x1="344.90" y1="438.00" x2="344.90" y2="441.60" stroke="#111" stroke-width="0.9"/>
<line x1="343.50" y1="438.00" x2="346.30" y2="438.00" stroke="#111" stroke-width="0.9"/>
<line x1="343.50" y1="441.60" x2="346.30" y2="441.60" stroke="#111" stroke-width="0.9"/>
<line x1="356.70" y1="438.50" x2="356.70" y2="442.30" stroke="#111" stroke-width="0.9"/>
<line x1="355.30" y1="438.50" x2="358.10" y2="438.50" stroke="#111" stroke-width="0.9"/>
<line x1="355.30" y1="442.30" x2="358.10" y2="442.30" stroke="#111" stroke-width="0.9"/>
<line x1="368.00" y1="440.50" x2="368.00" y2="444.50" stroke="#111" stroke-width="0.9"/>
<line x1="366.60" y1="440.50" x2="369.40" y2="440.50" stroke="#111" stroke-width="0.9"/>
<line x1="366.60" y1="444.50" x2="369.40" y2="444.50" stroke="#111" stroke-width="0.9"/>
<line x1="379.70" y1="443.20" x2="379.70" y2="452.20" stroke="#111" stroke-width="0.9"/>
<line x1="378.30" y1="443.20" x2="381.10" y2="443.20" stroke="#111" stroke-width="0.9"/>
<line x1="378.30" y1="452.20" x2="381.10" y2="452.20" stroke="#111" stroke-width="0.9"/>
<polyline points="339.30,439.40 344.90,439.80 356.70,440.40 368.00,442.50 373.40,442.90 379.70,447.70" fill="none" stroke="#111" stroke-width="1.2" stroke-linejoin="round"/>
<circle cx="339.30" cy="439.40" r="2.1" fill="#111" stroke="none" stroke-width="0.5"/>
<circle cx="344.90" cy="439.80" r="2.1" fill="#111" stroke="none" stroke-width="0.5"/>
<circle cx="356.70" cy="440.40" r="2.1" fill="#111" stroke="none" stroke-width="0.5"/>
<circle cx="368.00" cy="442.50" r="2.1" fill="#111" stroke="none" stroke-width="0.5"/>
<circle cx="373.40" cy="442.90" r="2.1" fill="#111" stroke="none" stroke-width="0.5"/>
<circle cx="379.70" cy="447.70" r="2.1" fill="#111" stroke="none" stroke-width="0.5"/>
<polyline points="304.70,431.60 310.30,431.60 316.20,431.60 322.10,432.30 327.70,435.20 333.40,441.00" fill="none" stroke="#8e2a96" stroke-width="1.2" stroke-linejoin="round"/>
<circle cx="304.70" cy="431.60" r="2.1" fill="#8e2a96" stroke="none" stroke-width="0.5"/>
<circle cx="310.30" cy="431.60" r="2.1" fill="#8e2a96" stroke="none" stroke-width="0.5"/>
<circle cx="316.20" cy="431.60" r="2.1" fill="#8e2a96" stroke="none" stroke-width="0.5"/>
<circle cx="322.10" cy="432.30" r="2.1" fill="#8e2a96" stroke="none" stroke-width="0.5"/>
<circle cx="327.70" cy="435.20" r="2.1" fill="#8e2a96" stroke="none" stroke-width="0.5"/>
<circle cx="333.40" cy="441.00" r="2.1" fill="#8e2a96" stroke="none" stroke-width="0.5"/>
<g transform="translate(304.70 454.70) scale(1 1.07)"><text x="0" y="2.83" font-size="7.85" fill="#8e2a96" letter-spacing="-0.05">Tumor alone</text></g>
<g transform="translate(304.70 462.40) scale(1 1.07)"><text x="0" y="2.83" font-size="7.85" fill="#111" letter-spacing="-0.05">NR</text></g>
<g transform="translate(304.70 470.20) scale(1 1.07)"><text x="0" y="2.83" font-size="7.85" fill="#2e3f9e" letter-spacing="-0.05">CR</text></g>
<g transform="translate(304.70 478.50) scale(1 1.07)"><text x="0" y="2.83" font-size="7.85" fill="#ec9030" letter-spacing="-0.05">Healthy donor</text></g>
<text x="410.50" y="393.94" font-size="9" font-weight="bold" fill="#111">h</text>
<g transform="translate(487.80 391.90) scale(1 1.07)"><text x="0" y="2.83" font-size="7.85" fill="#333" text-anchor="middle" letter-spacing="-0.05">Peak CAR T cell</text></g>
<g transform="translate(487.50 401.90) scale(1 1.07)"><text x="0" y="2.83" font-size="7.85" fill="#333" text-anchor="middle" letter-spacing="-0.05">expansion</text></g>
<g transform="translate(487.30 411.40) scale(1 1.07)"><text x="0" y="2.83" font-size="7.85" fill="#333" text-anchor="middle" letter-spacing="-0.05"><tspan font-style="italic">P</tspan> = 0.0289</text></g>
<path d="M476.20,419.30 L476.20,416.90 L501.90,416.90 L501.90,419.30" fill="none" stroke="#333" stroke-width="0.8"/>
<line x1="457.90" y1="421.00" x2="457.90" y2="490.30" stroke="#444" stroke-width="0.8"/>
<line x1="457.50" y1="489.90" x2="515.80" y2="489.90" stroke="#444" stroke-width="0.8"/>
<line x1="455.70" y1="489.90" x2="457.90" y2="489.90" stroke="#444" stroke-width="0.8"/>
<g transform="translate(452.70 489.90) scale(1 1.0)"><text x="0" y="2.70" font-size="7.5" fill="#333" text-anchor="end" letter-spacing="-0.05">0</text></g>
<line x1="455.70" y1="466.94" x2="457.90" y2="466.94" stroke="#444" stroke-width="0.8"/>
<g transform="translate(452.70 466.94) scale(1 1.0)"><text x="0" y="2.70" font-size="7.5" fill="#333" text-anchor="end" letter-spacing="-0.05">5,000</text></g>
<line x1="455.70" y1="443.97" x2="457.90" y2="443.97" stroke="#444" stroke-width="0.8"/>
<g transform="translate(452.70 443.97) scale(1 1.0)"><text x="0" y="2.70" font-size="7.5" fill="#333" text-anchor="end" letter-spacing="-0.05">10,000</text></g>
<line x1="455.70" y1="421.00" x2="457.90" y2="421.00" stroke="#444" stroke-width="0.8"/>
<g transform="translate(452.70 421.00) scale(1 1.0)"><text x="0" y="2.70" font-size="7.5" fill="#333" text-anchor="end" letter-spacing="-0.05">15,000</text></g>
<line x1="475.40" y1="489.90" x2="475.40" y2="491.90" stroke="#444" stroke-width="0.8"/>
<line x1="499.60" y1="489.90" x2="499.60" y2="491.90" stroke="#444" stroke-width="0.8"/>
<g transform="translate(475.40 500.20) scale(1 1.07)"><text x="0" y="2.83" font-size="7.85" fill="#333" text-anchor="middle" letter-spacing="-0.05">CR</text></g>
<g transform="translate(499.40 500.20) scale(1 1.07)"><text x="0" y="2.83" font-size="7.85" fill="#333" text-anchor="middle" letter-spacing="-0.05">NR</text></g>
<g transform="translate(411.20 455.00) rotate(-90) scale(1 1.07)"><text x="0" y="2.81" font-size="7.8" fill="#333" text-anchor="middle" letter-spacing="-0.05">Absolute CTL019 count</text></g>
<g transform="translate(419.60 455.00) rotate(-90) scale(1 1.07)"><text x="0" y="2.70" font-size="7.5" fill="#333" text-anchor="middle" letter-spacing="-0.05">(cells/100 µl)</text></g>
<rect x="468.40" y="439.30" width="15.50" height="35.90" fill="none" stroke="#333" stroke-width="0.85"/>
<line x1="468.40" y1="468.50" x2="483.90" y2="468.50" stroke="#333" stroke-width="0.85"/>
<line x1="476.10" y1="439.30" x2="476.10" y2="423.80" stroke="#333" stroke-width="0.85"/>
<line x1="472.30" y1="423.80" x2="479.90" y2="423.80" stroke="#333" stroke-width="0.85"/>
<line x1="472.60" y1="477.60" x2="479.60" y2="477.60" stroke="#333" stroke-width="0.85"/>
<circle cx="475.80" cy="423.80" r="2.0" fill="#2e3b8e" stroke="#10164a" stroke-width="0.7"/>
<circle cx="476.10" cy="432.30" r="2.0" fill="#2e3b8e" stroke="#10164a" stroke-width="0.7"/>
<circle cx="476.10" cy="456.70" r="2.0" fill="#2e3b8e" stroke="#10164a" stroke-width="0.7"/>
<circle cx="476.10" cy="465.50" r="2.0" fill="#2e3b8e" stroke="#10164a" stroke-width="0.7"/>
<circle cx="470.70" cy="473.80" r="2.0" fill="#2e3b8e" stroke="#10164a" stroke-width="0.7"/>
<circle cx="476.10" cy="472.20" r="2.0" fill="#2e3b8e" stroke="#10164a" stroke-width="0.7"/>
<circle cx="475.80" cy="477.50" r="2.0" fill="#2e3b8e" stroke="#10164a" stroke-width="0.7"/>
<circle cx="481.30" cy="476.90" r="2.0" fill="#2e3b8e" stroke="#10164a" stroke-width="0.7"/>
<rect x="492.50" y="472.20" width="15.20" height="17.60" fill="none" stroke="#333" stroke-width="0.85"/>
<line x1="492.50" y1="482.50" x2="507.70" y2="482.50" stroke="#333" stroke-width="0.85"/>
<line x1="499.70" y1="472.20" x2="499.70" y2="458.80" stroke="#333" stroke-width="0.85"/>
<line x1="496.20" y1="458.80" x2="503.50" y2="458.80" stroke="#333" stroke-width="0.85"/>
<circle cx="499.70" cy="458.80" r="2.0" fill="#111" stroke="#000" stroke-width="0.7"/>
<circle cx="499.70" cy="471.70" r="2.0" fill="#111" stroke="#000" stroke-width="0.7"/>
<circle cx="496.80" cy="479.80" r="2.0" fill="#111" stroke="#000" stroke-width="0.7"/>
<circle cx="502.60" cy="482.50" r="2.0" fill="#111" stroke="#000" stroke-width="0.7"/>
<circle cx="494.50" cy="488.00" r="2.0" fill="#111" stroke="#000" stroke-width="0.7"/>
<circle cx="505.00" cy="488.60" r="2.0" fill="#111" stroke="#000" stroke-width="0.7"/>
<circle cx="499.70" cy="490.90" r="2.0" fill="#111" stroke="#000" stroke-width="0.7"/>
<g transform="translate(134.80 482.00) scale(1 1.07)"><text x="0" y="2.83" font-size="7.85" fill="#333" text-anchor="middle" letter-spacing="-0.05">Tumor burden</text></g>
<line x1="42.30" y1="501.20" x2="42.30" y2="570.80" stroke="#444" stroke-width="0.8"/>
<line x1="41.90" y1="570.40" x2="133.60" y2="570.40" stroke="#444" stroke-width="0.8"/>
<line x1="40.10" y1="570.40" x2="42.30" y2="570.40" stroke="#444" stroke-width="0.8"/>
<g transform="translate(36.30 570.80) scale(1 1.0)"><text x="0" y="2.12" font-size="5.9" fill="#333" text-anchor="end">10<tspan font-size="3.9" dy="-2.36">5</tspan></text></g>
<line x1="40.10" y1="558.87" x2="42.30" y2="558.87" stroke="#444" stroke-width="0.8"/>
<g transform="translate(36.30 559.27) scale(1 1.0)"><text x="0" y="2.12" font-size="5.9" fill="#333" text-anchor="end">10<tspan font-size="3.9" dy="-2.36">6</tspan></text></g>
<line x1="40.10" y1="547.33" x2="42.30" y2="547.33" stroke="#444" stroke-width="0.8"/>
<g transform="translate(36.30 547.73) scale(1 1.0)"><text x="0" y="2.12" font-size="5.9" fill="#333" text-anchor="end">10<tspan font-size="3.9" dy="-2.36">7</tspan></text></g>
<line x1="40.10" y1="535.80" x2="42.30" y2="535.80" stroke="#444" stroke-width="0.8"/>
<g transform="translate(36.30 536.20) scale(1 1.0)"><text x="0" y="2.12" font-size="5.9" fill="#333" text-anchor="end">10<tspan font-size="3.9" dy="-2.36">8</tspan></text></g>
<line x1="40.10" y1="524.27" x2="42.30" y2="524.27" stroke="#444" stroke-width="0.8"/>
<g transform="translate(36.30 524.67) scale(1 1.0)"><text x="0" y="2.12" font-size="5.9" fill="#333" text-anchor="end">10<tspan font-size="3.9" dy="-2.36">9</tspan></text></g>
<line x1="40.10" y1="512.73" x2="42.30" y2="512.73" stroke="#444" stroke-width="0.8"/>
<g transform="translate(36.30 513.13) scale(1 1.0)"><text x="0" y="2.12" font-size="5.9" fill="#333" text-anchor="end">10<tspan font-size="3.9" dy="-2.36">10</tspan></text></g>
<line x1="40.10" y1="501.20" x2="42.30" y2="501.20" stroke="#444" stroke-width="0.8"/>
<g transform="translate(36.30 501.60) scale(1 1.0)"><text x="0" y="2.12" font-size="5.9" fill="#333" text-anchor="end">10<tspan font-size="3.9" dy="-2.36">11</tspan></text></g>
<line x1="50.50" y1="570.40" x2="50.50" y2="572.40" stroke="#444" stroke-width="0.8"/>
<text x="51.70" y="575.60" font-size="5.2" fill="#333" text-anchor="end" transform="rotate(-60 51.70 575.60)">5</text>
<line x1="58.03" y1="570.40" x2="58.03" y2="572.40" stroke="#444" stroke-width="0.8"/>
<text x="59.23" y="575.60" font-size="5.2" fill="#333" text-anchor="end" transform="rotate(-60 59.23 575.60)">8</text>
<line x1="65.56" y1="570.40" x2="65.56" y2="572.40" stroke="#444" stroke-width="0.8"/>
<text x="66.76" y="575.60" font-size="5.2" fill="#333" text-anchor="end" transform="rotate(-60 66.76 575.60)">9</text>
<line x1="73.09" y1="570.40" x2="73.09" y2="572.40" stroke="#444" stroke-width="0.8"/>
<text x="74.29" y="575.60" font-size="5.2" fill="#333" text-anchor="end" transform="rotate(-60 74.29 575.60)">12</text>
<line x1="80.62" y1="570.40" x2="80.62" y2="572.40" stroke="#444" stroke-width="0.8"/>
<text x="81.82" y="575.60" font-size="5.2" fill="#333" text-anchor="end" transform="rotate(-60 81.82 575.60)">15</text>
<line x1="88.15" y1="570.40" x2="88.15" y2="572.40" stroke="#444" stroke-width="0.8"/>
<text x="89.35" y="575.60" font-size="5.2" fill="#333" text-anchor="end" transform="rotate(-60 89.35 575.60)">19</text>
<line x1="95.68" y1="570.40" x2="95.68" y2="572.40" stroke="#444" stroke-width="0.8"/>
<text x="96.88" y="575.60" font-size="5.2" fill="#333" text-anchor="end" transform="rotate(-60 96.88 575.60)">22</text>
<line x1="103.21" y1="570.40" x2="103.21" y2="572.40" stroke="#444" stroke-width="0.8"/>
<text x="104.41" y="575.60" font-size="5.2" fill="#333" text-anchor="end" transform="rotate(-60 104.41 575.60)">26</text>
<line x1="110.74" y1="570.40" x2="110.74" y2="572.40" stroke="#444" stroke-width="0.8"/>
<text x="111.94" y="575.60" font-size="5.2" fill="#333" text-anchor="end" transform="rotate(-60 111.94 575.60)">29</text>
<line x1="118.27" y1="570.40" x2="118.27" y2="572.40" stroke="#444" stroke-width="0.8"/>
<text x="119.47" y="575.60" font-size="5.2" fill="#333" text-anchor="end" transform="rotate(-60 119.47 575.60)">33</text>
<line x1="125.80" y1="570.40" x2="125.80" y2="572.40" stroke="#444" stroke-width="0.8"/>
<text x="127.00" y="575.60" font-size="5.2" fill="#333" text-anchor="end" transform="rotate(-60 127.00 575.60)">36</text>
<line x1="133.33" y1="570.40" x2="133.33" y2="572.40" stroke="#444" stroke-width="0.8"/>
<text x="134.53" y="575.60" font-size="5.2" fill="#333" text-anchor="end" transform="rotate(-60 134.53 575.60)">40</text>
<polyline points="50.50,545.03 58.03,533.49 65.56,528.88 73.09,518.50 80.62,509.27 88.15,503.51" fill="none" stroke="#8e2a96" stroke-width="1.05" stroke-linejoin="round"/>
<polyline points="50.50,547.33 58.03,535.80 65.56,526.57 73.09,515.04 80.62,508.12 88.15,505.81" fill="none" stroke="#8e2a96" stroke-width="1.05" stroke-linejoin="round"/>
<polyline points="50.50,540.41 58.03,532.34 65.56,527.73 73.09,519.65 80.62,511.58 88.15,504.66" fill="none" stroke="#8e2a96" stroke-width="1.05" stroke-linejoin="round"/>
<polyline points="50.50,549.64 58.03,538.11 65.56,530.03 73.09,517.35 80.62,506.97 88.15,502.35" fill="none" stroke="#8e2a96" stroke-width="1.05" stroke-linejoin="round"/>
<polyline points="50.50,542.72 58.03,534.65 65.56,525.42 73.09,516.19 80.62,505.81 88.15,506.97" fill="none" stroke="#8e2a96" stroke-width="1.05" stroke-linejoin="round"/>
<polyline points="50.50,538.11 58.03,531.19 65.56,533.49 73.09,524.27 80.62,512.73 88.15,504.66" fill="none" stroke="#8e2a96" stroke-width="1.05" stroke-linejoin="round"/>
<polyline points="50.50,546.18 58.03,542.72 65.56,535.80 73.09,527.73 80.62,524.27 88.15,503.51" fill="none" stroke="#8e2a96" stroke-width="1.05" stroke-linejoin="round"/>
<polyline points="50.50,541.57 58.03,532.34 65.56,536.95 73.09,540.41 80.62,532.34 88.15,512.73" fill="none" stroke="#8e2a96" stroke-width="1.05" stroke-linejoin="round"/>
<polyline points="50.50,547.33 58.03,545.03 65.56,540.41 73.09,532.34 80.62,525.42 88.15,506.97" fill="none" stroke="#8e2a96" stroke-width="1.05" stroke-linejoin="round"/>
<polyline points="50.50,543.87 58.03,533.49 65.56,525.42 73.09,511.58 80.62,509.27 88.15,512.73" fill="none" stroke="#8e2a96" stroke-width="1.05" stroke-linejoin="round"/>
<polyline points="50.50,539.26 58.03,536.95 65.56,528.88 73.09,521.96 80.62,513.89 88.15,505.81" fill="none" stroke="#8e2a96" stroke-width="1.05" stroke-linejoin="round"/>
<g transform="translate(46.90 501.80) scale(1 1.07)"><text x="0" y="2.81" font-size="7.8" fill="#9b3aa3" letter-spacing="-0.05">Tumor</text></g>
<g transform="translate(46.90 511.20) scale(1 1.07)"><text x="0" y="2.81" font-size="7.8" fill="#9b3aa3" letter-spacing="-0.05">alone</text></g>
<line x1="157.30" y1="500.60" x2="157.30" y2="570.00" stroke="#444" stroke-width="0.8"/>
<line x1="156.90" y1="569.60" x2="248.80" y2="569.60" stroke="#444" stroke-width="0.8"/>
<line x1="155.10" y1="569.60" x2="157.30" y2="569.60" stroke="#444" stroke-width="0.8"/>
<g transform="translate(151.30 570.00) scale(1 1.0)"><text x="0" y="2.12" font-size="5.9" fill="#333" text-anchor="end">10<tspan font-size="3.9" dy="-2.36">5</tspan></text></g>
<line x1="155.10" y1="558.10" x2="157.30" y2="558.10" stroke="#444" stroke-width="0.8"/>
<g transform="translate(151.30 558.50) scale(1 1.0)"><text x="0" y="2.12" font-size="5.9" fill="#333" text-anchor="end">10<tspan font-size="3.9" dy="-2.36">6</tspan></text></g>
<line x1="155.10" y1="546.60" x2="157.30" y2="546.60" stroke="#444" stroke-width="0.8"/>
<g transform="translate(151.30 547.00) scale(1 1.0)"><text x="0" y="2.12" font-size="5.9" fill="#333" text-anchor="end">10<tspan font-size="3.9" dy="-2.36">7</tspan></text></g>
<line x1="155.10" y1="535.10" x2="157.30" y2="535.10" stroke="#444" stroke-width="0.8"/>
<g transform="translate(151.30 535.50) scale(1 1.0)"><text x="0" y="2.12" font-size="5.9" fill="#333" text-anchor="end">10<tspan font-size="3.9" dy="-2.36">8</tspan></text></g>
<line x1="155.10" y1="523.60" x2="157.30" y2="523.60" stroke="#444" stroke-width="0.8"/>
<g transform="translate(151.30 524.00) scale(1 1.0)"><text x="0" y="2.12" font-size="5.9" fill="#333" text-anchor="end">10<tspan font-size="3.9" dy="-2.36">9</tspan></text></g>
<line x1="155.10" y1="512.10" x2="157.30" y2="512.10" stroke="#444" stroke-width="0.8"/>
<g transform="translate(151.30 512.50) scale(1 1.0)"><text x="0" y="2.12" font-size="5.9" fill="#333" text-anchor="end">10<tspan font-size="3.9" dy="-2.36">10</tspan></text></g>
<line x1="155.10" y1="500.60" x2="157.30" y2="500.60" stroke="#444" stroke-width="0.8"/>
<g transform="translate(151.30 501.00) scale(1 1.0)"><text x="0" y="2.12" font-size="5.9" fill="#333" text-anchor="end">10<tspan font-size="3.9" dy="-2.36">11</tspan></text></g>
<line x1="165.50" y1="569.60" x2="165.50" y2="571.60" stroke="#444" stroke-width="0.8"/>
<text x="166.70" y="574.80" font-size="5.2" fill="#333" text-anchor="end" transform="rotate(-60 166.70 574.80)">5</text>
<line x1="173.03" y1="569.60" x2="173.03" y2="571.60" stroke="#444" stroke-width="0.8"/>
<text x="174.23" y="574.80" font-size="5.2" fill="#333" text-anchor="end" transform="rotate(-60 174.23 574.80)">8</text>
<line x1="180.56" y1="569.60" x2="180.56" y2="571.60" stroke="#444" stroke-width="0.8"/>
<text x="181.76" y="574.80" font-size="5.2" fill="#333" text-anchor="end" transform="rotate(-60 181.76 574.80)">9</text>
<line x1="188.09" y1="569.60" x2="188.09" y2="571.60" stroke="#444" stroke-width="0.8"/>
<text x="189.29" y="574.80" font-size="5.2" fill="#333" text-anchor="end" transform="rotate(-60 189.29 574.80)">12</text>
<line x1="195.62" y1="569.60" x2="195.62" y2="571.60" stroke="#444" stroke-width="0.8"/>
<text x="196.82" y="574.80" font-size="5.2" fill="#333" text-anchor="end" transform="rotate(-60 196.82 574.80)">15</text>
<line x1="203.15" y1="569.60" x2="203.15" y2="571.60" stroke="#444" stroke-width="0.8"/>
<text x="204.35" y="574.80" font-size="5.2" fill="#333" text-anchor="end" transform="rotate(-60 204.35 574.80)">19</text>
<line x1="210.68" y1="569.60" x2="210.68" y2="571.60" stroke="#444" stroke-width="0.8"/>
<text x="211.88" y="574.80" font-size="5.2" fill="#333" text-anchor="end" transform="rotate(-60 211.88 574.80)">22</text>
<line x1="218.21" y1="569.60" x2="218.21" y2="571.60" stroke="#444" stroke-width="0.8"/>
<text x="219.41" y="574.80" font-size="5.2" fill="#333" text-anchor="end" transform="rotate(-60 219.41 574.80)">26</text>
<line x1="225.74" y1="569.60" x2="225.74" y2="571.60" stroke="#444" stroke-width="0.8"/>
<text x="226.94" y="574.80" font-size="5.2" fill="#333" text-anchor="end" transform="rotate(-60 226.94 574.80)">29</text>
<line x1="233.27" y1="569.60" x2="233.27" y2="571.60" stroke="#444" stroke-width="0.8"/>
<text x="234.47" y="574.80" font-size="5.2" fill="#333" text-anchor="end" transform="rotate(-60 234.47 574.80)">33</text>
<line x1="240.80" y1="569.60" x2="240.80" y2="571.60" stroke="#444" stroke-width="0.8"/>
<text x="242.00" y="574.80" font-size="5.2" fill="#333" text-anchor="end" transform="rotate(-60 242.00 574.80)">36</text>
<line x1="248.33" y1="569.60" x2="248.33" y2="571.60" stroke="#444" stroke-width="0.8"/>
<text x="249.53" y="574.80" font-size="5.2" fill="#333" text-anchor="end" transform="rotate(-60 249.53 574.80)">40</text>
<polyline points="165.50,563.85 173.03,547.75 180.56,521.30 188.09,512.10 195.62,508.65 203.15,505.20 210.68,505.20 218.21,514.40" fill="none" stroke="#111" stroke-width="1.05" stroke-linejoin="round"/>
<polyline points="165.50,546.60 173.03,538.55 180.56,520.15 188.09,514.40 195.62,509.80 203.15,506.35 210.68,504.05 218.21,512.10" fill="none" stroke="#111" stroke-width="1.05" stroke-linejoin="round"/>
<polyline points="165.50,540.85 173.03,536.25 180.56,519.00 188.09,516.70 195.62,519.00 203.15,521.30 210.68,523.60 218.21,525.90 225.74,522.45 233.27,516.70 240.80,512.10 248.33,508.65" fill="none" stroke="#111" stroke-width="1.05" stroke-linejoin="round"/>
<polyline points="165.50,544.30 173.03,544.30 180.56,523.60 188.09,535.10 195.62,514.40 203.15,519.00 210.68,521.30 218.21,523.60 225.74,532.80 233.27,517.85 240.80,513.25 248.33,509.80" fill="none" stroke="#111" stroke-width="1.05" stroke-linejoin="round"/>
<polyline points="165.50,548.90 173.03,540.85 180.56,522.45 188.09,517.85 195.62,523.60 203.15,525.90 210.68,523.60 218.21,521.30 225.74,520.15 233.27,515.55 240.80,509.80 248.33,507.50" fill="none" stroke="#111" stroke-width="1.05" stroke-linejoin="round"/>
<polyline points="165.50,543.15 173.03,539.70 180.56,521.30 188.09,513.25 195.62,520.15 203.15,517.85 210.68,520.15 218.21,520.15 225.74,519.00 233.27,513.25 240.80,510.95 248.33,515.55" fill="none" stroke="#111" stroke-width="1.05" stroke-linejoin="round"/>
<polyline points="165.50,546.60 173.03,535.10 180.56,520.15 188.09,521.30 195.62,515.55 203.15,523.60 210.68,521.30 218.21,519.00 225.74,521.30 233.27,514.40 240.80,508.65" fill="none" stroke="#111" stroke-width="1.05" stroke-linejoin="round"/>
<polyline points="165.50,539.70 173.03,537.40 180.56,523.60 188.09,519.00 195.62,510.95 203.15,506.35 210.68,506.35" fill="none" stroke="#111" stroke-width="1.05" stroke-linejoin="round"/>
<polyline points="165.50,547.75 173.03,543.15 180.56,521.30 188.09,515.55 195.62,521.30 203.15,524.75 210.68,520.15 218.21,525.90 225.74,517.85 233.27,513.25 240.80,515.55" fill="none" stroke="#111" stroke-width="1.05" stroke-linejoin="round"/>
<polyline points="165.50,542.00 173.03,533.95 180.56,520.15 188.09,512.10 195.62,516.70 203.15,520.15 210.68,522.45 218.21,521.30 225.74,523.60 233.27,514.40 240.80,509.80 248.33,507.50" fill="none" stroke="#111" stroke-width="1.05" stroke-linejoin="round"/>
<polyline points="165.50,545.45 173.03,538.55 180.56,524.75 188.09,522.45 195.62,516.70 203.15,514.40 210.68,508.65" fill="none" stroke="#111" stroke-width="1.05" stroke-linejoin="round"/>
<polyline points="165.50,537.40 173.03,535.10 180.56,519.00 188.09,514.40 195.62,521.30 203.15,523.60 210.68,523.60 218.21,528.20 225.74,519.00 233.27,516.70 240.80,512.10 248.33,508.65" fill="none" stroke="#111" stroke-width="1.05" stroke-linejoin="round"/>
<g transform="translate(161.30 501.00) scale(1 1.07)"><text x="0" y="2.81" font-size="7.8" fill="#111" letter-spacing="-0.05">NR</text></g>
<line x1="42.30" y1="592.60" x2="42.30" y2="662.00" stroke="#444" stroke-width="0.8"/>
<line x1="41.90" y1="661.60" x2="133.60" y2="661.60" stroke="#444" stroke-width="0.8"/>
<line x1="40.10" y1="661.60" x2="42.30" y2="661.60" stroke="#444" stroke-width="0.8"/>
<g transform="translate(36.30 662.00) scale(1 1.0)"><text x="0" y="2.12" font-size="5.9" fill="#333" text-anchor="end">10<tspan font-size="3.9" dy="-2.36">5</tspan></text></g>
<line x1="40.10" y1="650.10" x2="42.30" y2="650.10" stroke="#444" stroke-width="0.8"/>
<g transform="translate(36.30 650.50) scale(1 1.0)"><text x="0" y="2.12" font-size="5.9" fill="#333" text-anchor="end">10<tspan font-size="3.9" dy="-2.36">6</tspan></text></g>
<line x1="40.10" y1="638.60" x2="42.30" y2="638.60" stroke="#444" stroke-width="0.8"/>
<g transform="translate(36.30 639.00) scale(1 1.0)"><text x="0" y="2.12" font-size="5.9" fill="#333" text-anchor="end">10<tspan font-size="3.9" dy="-2.36">7</tspan></text></g>
<line x1="40.10" y1="627.10" x2="42.30" y2="627.10" stroke="#444" stroke-width="0.8"/>
<g transform="translate(36.30 627.50) scale(1 1.0)"><text x="0" y="2.12" font-size="5.9" fill="#333" text-anchor="end">10<tspan font-size="3.9" dy="-2.36">8</tspan></text></g>
<line x1="40.10" y1="615.60" x2="42.30" y2="615.60" stroke="#444" stroke-width="0.8"/>
<g transform="translate(36.30 616.00) scale(1 1.0)"><text x="0" y="2.12" font-size="5.9" fill="#333" text-anchor="end">10<tspan font-size="3.9" dy="-2.36">9</tspan></text></g>
<line x1="40.10" y1="604.10" x2="42.30" y2="604.10" stroke="#444" stroke-width="0.8"/>
<g transform="translate(36.30 604.50) scale(1 1.0)"><text x="0" y="2.12" font-size="5.9" fill="#333" text-anchor="end">10<tspan font-size="3.9" dy="-2.36">10</tspan></text></g>
<line x1="40.10" y1="592.60" x2="42.30" y2="592.60" stroke="#444" stroke-width="0.8"/>
<g transform="translate(36.30 593.00) scale(1 1.0)"><text x="0" y="2.12" font-size="5.9" fill="#333" text-anchor="end">10<tspan font-size="3.9" dy="-2.36">11</tspan></text></g>
<line x1="50.50" y1="661.60" x2="50.50" y2="663.60" stroke="#444" stroke-width="0.8"/>
<text x="51.70" y="666.80" font-size="5.2" fill="#333" text-anchor="end" transform="rotate(-60 51.70 666.80)">5</text>
<line x1="58.03" y1="661.60" x2="58.03" y2="663.60" stroke="#444" stroke-width="0.8"/>
<text x="59.23" y="666.80" font-size="5.2" fill="#333" text-anchor="end" transform="rotate(-60 59.23 666.80)">8</text>
<line x1="65.56" y1="661.60" x2="65.56" y2="663.60" stroke="#444" stroke-width="0.8"/>
<text x="66.76" y="666.80" font-size="5.2" fill="#333" text-anchor="end" transform="rotate(-60 66.76 666.80)">9</text>
<line x1="73.09" y1="661.60" x2="73.09" y2="663.60" stroke="#444" stroke-width="0.8"/>
<text x="74.29" y="666.80" font-size="5.2" fill="#333" text-anchor="end" transform="rotate(-60 74.29 666.80)">12</text>
<line x1="80.62" y1="661.60" x2="80.62" y2="663.60" stroke="#444" stroke-width="0.8"/>
<text x="81.82" y="666.80" font-size="5.2" fill="#333" text-anchor="end" transform="rotate(-60 81.82 666.80)">15</text>
<line x1="88.15" y1="661.60" x2="88.15" y2="663.60" stroke="#444" stroke-width="0.8"/>
<text x="89.35" y="666.80" font-size="5.2" fill="#333" text-anchor="end" transform="rotate(-60 89.35 666.80)">19</text>
<line x1="95.68" y1="661.60" x2="95.68" y2="663.60" stroke="#444" stroke-width="0.8"/>
<text x="96.88" y="666.80" font-size="5.2" fill="#333" text-anchor="end" transform="rotate(-60 96.88 666.80)">22</text>
<line x1="103.21" y1="661.60" x2="103.21" y2="663.60" stroke="#444" stroke-width="0.8"/>
<text x="104.41" y="666.80" font-size="5.2" fill="#333" text-anchor="end" transform="rotate(-60 104.41 666.80)">26</text>
<line x1="110.74" y1="661.60" x2="110.74" y2="663.60" stroke="#444" stroke-width="0.8"/>
<text x="111.94" y="666.80" font-size="5.2" fill="#333" text-anchor="end" transform="rotate(-60 111.94 666.80)">29</text>
<line x1="118.27" y1="661.60" x2="118.27" y2="663.60" stroke="#444" stroke-width="0.8"/>
<text x="119.47" y="666.80" font-size="5.2" fill="#333" text-anchor="end" transform="rotate(-60 119.47 666.80)">33</text>
<line x1="125.80" y1="661.60" x2="125.80" y2="663.60" stroke="#444" stroke-width="0.8"/>
<text x="127.00" y="666.80" font-size="5.2" fill="#333" text-anchor="end" transform="rotate(-60 127.00 666.80)">36</text>
<line x1="133.33" y1="661.60" x2="133.33" y2="663.60" stroke="#444" stroke-width="0.8"/>
<text x="134.53" y="666.80" font-size="5.2" fill="#333" text-anchor="end" transform="rotate(-60 134.53 666.80)">40</text>
<polyline points="50.50,628.25 58.03,612.15 65.56,604.10 73.09,606.40 80.62,615.60 88.15,622.50 95.68,617.90 103.21,613.30 110.74,608.70 118.27,604.10 125.80,599.50" fill="none" stroke="#2e3f9e" stroke-width="1.05" stroke-linejoin="round"/>
<polyline points="50.50,631.70 58.03,615.60 65.56,606.40 73.09,609.85 80.62,620.20 88.15,627.10 95.68,621.35 103.21,615.60 110.74,609.85 118.27,602.95 125.80,600.65 133.33,597.20" fill="none" stroke="#2e3f9e" stroke-width="1.05" stroke-linejoin="round"/>
<polyline points="50.50,634.00 58.03,620.20 65.56,608.70 73.09,602.95 80.62,611.00 88.15,621.35 95.68,616.75 103.21,612.15 110.74,606.40 118.27,599.50 125.80,601.80 133.33,604.10" fill="none" stroke="#2e3f9e" stroke-width="1.05" stroke-linejoin="round"/>
<polyline points="50.50,647.80 58.03,627.10 65.56,615.60 73.09,608.70 80.62,623.65 88.15,624.80 95.68,622.50 103.21,619.05 110.74,614.45 118.27,611.00 125.80,605.25 133.33,601.80" fill="none" stroke="#2e3f9e" stroke-width="1.05" stroke-linejoin="round"/>
<polyline points="50.50,653.55 58.03,642.05 65.56,637.45 73.09,635.15 80.62,632.85 88.15,628.25 95.68,623.65 103.21,620.20 110.74,615.60 118.27,613.30 125.80,609.85 133.33,605.25" fill="none" stroke="#2e3f9e" stroke-width="1.05" stroke-linejoin="round"/>
<polyline points="50.50,629.40 58.03,616.75 65.56,611.00 73.09,627.10 80.62,650.10 88.15,638.60 95.68,652.40 103.21,639.75 110.74,632.85 118.27,622.50 125.80,614.45 133.33,609.85" fill="none" stroke="#2e3f9e" stroke-width="1.05" stroke-linejoin="round"/>
<polyline points="50.50,628.25 58.03,624.80 65.56,616.75 73.09,614.45 80.62,615.60 88.15,625.95 95.68,632.85 103.21,627.10 110.74,619.05 118.27,628.25 125.80,613.30 133.33,608.70" fill="none" stroke="#2e3f9e" stroke-width="1.05" stroke-linejoin="round"/>
<polyline points="50.50,632.85 58.03,621.35 65.56,612.15 73.09,637.45 80.62,643.20 88.15,653.55 95.68,645.50 103.21,652.40 110.74,636.30 118.27,627.10 125.80,620.20 133.33,612.15" fill="none" stroke="#2e3f9e" stroke-width="1.05" stroke-linejoin="round"/>
<polyline points="50.50,627.10 58.03,613.30 65.56,605.25 73.09,605.25 80.62,613.30 88.15,617.90 95.68,611.00 103.21,605.25 110.74,599.50 118.27,594.90 125.80,597.20" fill="none" stroke="#2e3f9e" stroke-width="1.05" stroke-linejoin="round"/>
<polyline points="50.50,636.30 58.03,620.20 65.56,614.45 73.09,623.65 80.62,627.10 88.15,629.40 95.68,625.95 103.21,621.35 110.74,615.60 118.27,621.35 125.80,620.20 133.33,640.90" fill="none" stroke="#2e3f9e" stroke-width="1.05" stroke-linejoin="round"/>
<polyline points="50.50,630.55 58.03,615.60 65.56,607.55 73.09,612.15 80.62,616.75 88.15,623.65 95.68,617.90 103.21,613.30 110.74,616.75 118.27,648.95 125.80,617.90" fill="none" stroke="#2e3f9e" stroke-width="1.05" stroke-linejoin="round"/>
<polyline points="50.50,638.60 58.03,629.40 65.56,627.10 73.09,625.95 80.62,635.15 88.15,639.75 95.68,632.85 103.21,637.45 110.74,640.90 118.27,624.80 125.80,613.30 133.33,607.55" fill="none" stroke="#2e3f9e" stroke-width="1.05" stroke-linejoin="round"/>
<polyline points="50.50,629.40 58.03,614.45 65.56,606.40 73.09,608.70 80.62,616.75 88.15,625.95 95.68,620.20 103.21,614.45 110.74,612.15 118.27,616.75 125.80,606.40 133.33,602.95" fill="none" stroke="#2e3f9e" stroke-width="1.05" stroke-linejoin="round"/>
<polyline points="50.50,631.70 58.03,617.90 65.56,619.05 73.09,615.60 80.62,625.95 88.15,629.40 95.68,624.80 103.21,620.20 110.74,615.60 118.27,609.85 125.80,608.70 133.33,604.10" fill="none" stroke="#2e3f9e" stroke-width="1.05" stroke-linejoin="round"/>
<g transform="translate(45.70 594.30) scale(1 1.07)"><text x="0" y="2.81" font-size="7.8" fill="#2e3f9e" letter-spacing="-0.05">CR</text></g>
<line x1="157.30" y1="592.60" x2="157.30" y2="662.00" stroke="#444" stroke-width="0.8"/>
<line x1="156.90" y1="661.60" x2="248.80" y2="661.60" stroke="#444" stroke-width="0.8"/>
<line x1="155.10" y1="661.60" x2="157.30" y2="661.60" stroke="#444" stroke-width="0.8"/>
<g transform="translate(151.30 662.00) scale(1 1.0)"><text x="0" y="2.12" font-size="5.9" fill="#333" text-anchor="end">10<tspan font-size="3.9" dy="-2.36">5</tspan></text></g>
<line x1="155.10" y1="650.10" x2="157.30" y2="650.10" stroke="#444" stroke-width="0.8"/>
<g transform="translate(151.30 650.50) scale(1 1.0)"><text x="0" y="2.12" font-size="5.9" fill="#333" text-anchor="end">10<tspan font-size="3.9" dy="-2.36">6</tspan></text></g>
<line x1="155.10" y1="638.60" x2="157.30" y2="638.60" stroke="#444" stroke-width="0.8"/>
<g transform="translate(151.30 639.00) scale(1 1.0)"><text x="0" y="2.12" font-size="5.9" fill="#333" text-anchor="end">10<tspan font-size="3.9" dy="-2.36">7</tspan></text></g>
<line x1="155.10" y1="627.10" x2="157.30" y2="627.10" stroke="#444" stroke-width="0.8"/>
<g transform="translate(151.30 627.50) scale(1 1.0)"><text x="0" y="2.12" font-size="5.9" fill="#333" text-anchor="end">10<tspan font-size="3.9" dy="-2.36">8</tspan></text></g>
<line x1="155.10" y1="615.60" x2="157.30" y2="615.60" stroke="#444" stroke-width="0.8"/>
<g transform="translate(151.30 616.00) scale(1 1.0)"><text x="0" y="2.12" font-size="5.9" fill="#333" text-anchor="end">10<tspan font-size="3.9" dy="-2.36">9</tspan></text></g>
<line x1="155.10" y1="604.10" x2="157.30" y2="604.10" stroke="#444" stroke-width="0.8"/>
<g transform="translate(151.30 604.50) scale(1 1.0)"><text x="0" y="2.12" font-size="5.9" fill="#333" text-anchor="end">10<tspan font-size="3.9" dy="-2.36">10</tspan></text></g>
<line x1="155.10" y1="592.60" x2="157.30" y2="592.60" stroke="#444" stroke-width="0.8"/>
<g transform="translate(151.30 593.00) scale(1 1.0)"><text x="0" y="2.12" font-size="5.9" fill="#333" text-anchor="end">10<tspan font-size="3.9" dy="-2.36">11</tspan></text></g>
<line x1="165.50" y1="661.60" x2="165.50" y2="663.60" stroke="#444" stroke-width="0.8"/>
<text x="166.70" y="666.80" font-size="5.2" fill="#333" text-anchor="end" transform="rotate(-60 166.70 666.80)">5</text>
<line x1="173.03" y1="661.60" x2="173.03" y2="663.60" stroke="#444" stroke-width="0.8"/>
<text x="174.23" y="666.80" font-size="5.2" fill="#333" text-anchor="end" transform="rotate(-60 174.23 666.80)">8</text>
<line x1="180.56" y1="661.60" x2="180.56" y2="663.60" stroke="#444" stroke-width="0.8"/>
<text x="181.76" y="666.80" font-size="5.2" fill="#333" text-anchor="end" transform="rotate(-60 181.76 666.80)">9</text>
<line x1="188.09" y1="661.60" x2="188.09" y2="663.60" stroke="#444" stroke-width="0.8"/>
<text x="189.29" y="666.80" font-size="5.2" fill="#333" text-anchor="end" transform="rotate(-60 189.29 666.80)">12</text>
<line x1="195.62" y1="661.60" x2="195.62" y2="663.60" stroke="#444" stroke-width="0.8"/>
<text x="196.82" y="666.80" font-size="5.2" fill="#333" text-anchor="end" transform="rotate(-60 196.82 666.80)">15</text>
<line x1="203.15" y1="661.60" x2="203.15" y2="663.60" stroke="#444" stroke-width="0.8"/>
<text x="204.35" y="666.80" font-size="5.2" fill="#333" text-anchor="end" transform="rotate(-60 204.35 666.80)">19</text>
<line x1="210.68" y1="661.60" x2="210.68" y2="663.60" stroke="#444" stroke-width="0.8"/>
<text x="211.88" y="666.80" font-size="5.2" fill="#333" text-anchor="end" transform="rotate(-60 211.88 666.80)">22</text>
<line x1="218.21" y1="661.60" x2="218.21" y2="663.60" stroke="#444" stroke-width="0.8"/>
<text x="219.41" y="666.80" font-size="5.2" fill="#333" text-anchor="end" transform="rotate(-60 219.41 666.80)">26</text>
<line x1="225.74" y1="661.60" x2="225.74" y2="663.60" stroke="#444" stroke-width="0.8"/>
<text x="226.94" y="666.80" font-size="5.2" fill="#333" text-anchor="end" transform="rotate(-60 226.94 666.80)">29</text>
<line x1="233.27" y1="661.60" x2="233.27" y2="663.60" stroke="#444" stroke-width="0.8"/>
<text x="234.47" y="666.80" font-size="5.2" fill="#333" text-anchor="end" transform="rotate(-60 234.47 666.80)">33</text>
<line x1="240.80" y1="661.60" x2="240.80" y2="663.60" stroke="#444" stroke-width="0.8"/>
<text x="242.00" y="666.80" font-size="5.2" fill="#333" text-anchor="end" transform="rotate(-60 242.00 666.80)">36</text>
<line x1="248.33" y1="661.60" x2="248.33" y2="663.60" stroke="#444" stroke-width="0.8"/>
<text x="249.53" y="666.80" font-size="5.2" fill="#333" text-anchor="end" transform="rotate(-60 249.53 666.80)">40</text>
<polyline points="165.50,630.55 173.03,611.00 180.56,617.90 188.09,613.30 195.62,646.65 203.15,653.55 210.68,653.55 218.21,653.55 225.74,653.55 233.27,653.55 240.80,653.55 248.33,653.55" fill="none" stroke="#ec9030" stroke-width="1.05" stroke-linejoin="round"/>
<polyline points="165.50,632.85 173.03,622.50 180.56,615.60 188.09,612.15 195.62,652.40 203.15,653.55 210.68,653.55 218.21,653.55 225.74,653.55 233.27,653.32 240.80,652.98 248.33,653.55" fill="none" stroke="#ec9030" stroke-width="1.05" stroke-linejoin="round"/>
<polyline points="165.50,639.75 173.03,622.50 180.56,613.30 188.09,624.80 195.62,653.55 203.15,653.55 210.68,653.55 218.21,653.55 225.74,653.55 233.27,653.55 240.80,653.55 248.33,653.55" fill="none" stroke="#ec9030" stroke-width="1.05" stroke-linejoin="round"/>
<polyline points="165.50,639.75 173.03,648.95 180.56,651.25 188.09,653.55 195.62,653.55 203.15,653.55 210.68,653.55 218.21,653.55 225.74,653.55 233.27,653.55 240.80,652.98 248.33,652.40" fill="none" stroke="#ec9030" stroke-width="1.05" stroke-linejoin="round"/>
<polyline points="165.50,634.00 173.03,632.85 180.56,614.45 188.09,622.50 195.62,624.80 203.15,648.95 210.68,629.40 218.21,650.10 225.74,623.65 233.27,651.25 240.80,623.65 248.33,645.50" fill="none" stroke="#ec9030" stroke-width="1.05" stroke-linejoin="round"/>
<polyline points="165.50,632.85 173.03,623.65 180.56,624.80 188.09,634.00 195.62,634.00 203.15,639.75 210.68,637.45 218.21,637.45 225.74,637.45 233.27,636.30 240.80,634.58 248.33,634.00" fill="none" stroke="#ec9030" stroke-width="1.05" stroke-linejoin="round"/>
<polyline points="165.50,631.70 173.03,623.65 180.56,622.50 188.09,654.70 195.62,640.90 203.15,653.55 210.68,643.20 218.21,653.55 225.74,653.55 233.27,653.55 240.80,653.55 248.33,653.55" fill="none" stroke="#ec9030" stroke-width="1.05" stroke-linejoin="round"/>
<polyline points="165.50,637.45 173.03,622.50 180.56,619.05 188.09,634.00 195.62,634.00 203.15,639.75 210.68,650.10 218.21,627.10 225.74,623.65 233.27,620.20 240.80,615.60 248.33,612.15" fill="none" stroke="#ec9030" stroke-width="1.05" stroke-linejoin="round"/>
<g transform="translate(162.10 594.80) scale(1 1.07)"><text x="0" y="2.81" font-size="7.8" fill="#ec9030" letter-spacing="-0.05">Healthy</text></g>
<g transform="translate(162.10 604.20) scale(1 1.07)"><text x="0" y="2.81" font-size="7.8" fill="#ec9030" letter-spacing="-0.05">donor</text></g>
<line x1="15.90" y1="503.00" x2="15.90" y2="622.00" stroke="#333" stroke-width="0.8"/>
<path d="M15.90,499.00 L13.70,504.00 L15.90,502.75 L18.10,504.00Z" fill="#222"/>
<g transform="translate(15.90 644.80) rotate(-90) scale(1 1.07)"><text x="0" y="2.81" font-size="7.8" fill="#333" text-anchor="middle" letter-spacing="-0.05">(photons/s)</text></g>
<g transform="translate(6.70 644.70) rotate(-90) scale(1 1.07)"><text x="0" y="2.83" font-size="7.85" fill="#333" text-anchor="middle" letter-spacing="-0.05">BLI</text></g>
<g transform="translate(41.00 680.50) scale(1 1.07)"><text x="0" y="2.83" font-size="7.85" fill="#333" letter-spacing="-0.05">Days</text></g>
<line x1="61.20" y1="680.80" x2="246.00" y2="680.80" stroke="#333" stroke-width="0.8"/>
<path d="M250.00,680.80 L245.00,678.60 L246.25,680.80 L245.00,683.00Z" fill="#222"/>
<text x="262.60" y="528.94" font-size="9" font-weight="bold" fill="#111">i</text>
<g transform="translate(338.40 530.00) scale(1 1.07)"><text x="0" y="2.83" font-size="7.85" fill="#333" text-anchor="middle" letter-spacing="-0.05">Survival</text></g>
<line x1="291.80" y1="538.22" x2="291.80" y2="608.90" stroke="#444" stroke-width="0.8"/>
<line x1="291.40" y1="608.50" x2="379.60" y2="608.50" stroke="#444" stroke-width="0.8"/>
<line x1="289.60" y1="608.50" x2="291.80" y2="608.50" stroke="#444" stroke-width="0.8"/>
<g transform="translate(286.60 608.50) scale(1 1.0)"><text x="0" y="2.70" font-size="7.5" fill="#333" text-anchor="end" letter-spacing="-0.05">0</text></g>
<line x1="289.60" y1="590.98" x2="291.80" y2="590.98" stroke="#444" stroke-width="0.8"/>
<g transform="translate(286.60 590.98) scale(1 1.0)"><text x="0" y="2.70" font-size="7.5" fill="#333" text-anchor="end" letter-spacing="-0.05">25</text></g>
<line x1="289.60" y1="573.46" x2="291.80" y2="573.46" stroke="#444" stroke-width="0.8"/>
<g transform="translate(286.60 573.46) scale(1 1.0)"><text x="0" y="2.70" font-size="7.5" fill="#333" text-anchor="end" letter-spacing="-0.05">50</text></g>
<line x1="289.60" y1="555.94" x2="291.80" y2="555.94" stroke="#444" stroke-width="0.8"/>
<g transform="translate(286.60 555.94) scale(1 1.0)"><text x="0" y="2.70" font-size="7.5" fill="#333" text-anchor="end" letter-spacing="-0.05">75</text></g>
<line x1="289.60" y1="538.42" x2="291.80" y2="538.42" stroke="#444" stroke-width="0.8"/>
<g transform="translate(286.60 538.42) scale(1 1.0)"><text x="0" y="2.70" font-size="7.5" fill="#333" text-anchor="end" letter-spacing="-0.05">100</text></g>
<line x1="291.80" y1="608.50" x2="291.80" y2="610.50" stroke="#444" stroke-width="0.8"/>
<g transform="translate(291.80 617.70) scale(1 1.0)"><text x="0" y="2.70" font-size="7.5" fill="#333" text-anchor="middle" letter-spacing="-0.05">0</text></g>
<line x1="302.74" y1="608.50" x2="302.74" y2="610.50" stroke="#444" stroke-width="0.8"/>
<g transform="translate(302.74 617.70) scale(1 1.0)"><text x="0" y="2.70" font-size="7.5" fill="#333" text-anchor="middle" letter-spacing="-0.05">5</text></g>
<line x1="313.68" y1="608.50" x2="313.68" y2="610.50" stroke="#444" stroke-width="0.8"/>
<g transform="translate(313.68 617.70) scale(1 1.0)"><text x="0" y="2.70" font-size="7.5" fill="#333" text-anchor="middle" letter-spacing="-0.05">10</text></g>
<line x1="324.61" y1="608.50" x2="324.61" y2="610.50" stroke="#444" stroke-width="0.8"/>
<g transform="translate(324.61 617.70) scale(1 1.0)"><text x="0" y="2.70" font-size="7.5" fill="#333" text-anchor="middle" letter-spacing="-0.05">15</text></g>
<line x1="335.55" y1="608.50" x2="335.55" y2="610.50" stroke="#444" stroke-width="0.8"/>
<g transform="translate(335.55 617.70) scale(1 1.0)"><text x="0" y="2.70" font-size="7.5" fill="#333" text-anchor="middle" letter-spacing="-0.05">20</text></g>
<line x1="346.49" y1="608.50" x2="346.49" y2="610.50" stroke="#444" stroke-width="0.8"/>
<g transform="translate(346.49 617.70) scale(1 1.0)"><text x="0" y="2.70" font-size="7.5" fill="#333" text-anchor="middle" letter-spacing="-0.05">25</text></g>
<line x1="357.43" y1="608.50" x2="357.43" y2="610.50" stroke="#444" stroke-width="0.8"/>
<g transform="translate(357.43 617.70) scale(1 1.0)"><text x="0" y="2.70" font-size="7.5" fill="#333" text-anchor="middle" letter-spacing="-0.05">30</text></g>
<line x1="368.36" y1="608.50" x2="368.36" y2="610.50" stroke="#444" stroke-width="0.8"/>
<g transform="translate(368.36 617.70) scale(1 1.0)"><text x="0" y="2.70" font-size="7.5" fill="#333" text-anchor="middle" letter-spacing="-0.05">35</text></g>
<line x1="379.30" y1="608.50" x2="379.30" y2="610.50" stroke="#444" stroke-width="0.8"/>
<g transform="translate(379.30 617.70) scale(1 1.0)"><text x="0" y="2.70" font-size="7.5" fill="#333" text-anchor="middle" letter-spacing="-0.05">40</text></g>
<g transform="translate(336.50 627.40) scale(1 1.07)"><text x="0" y="2.83" font-size="7.85" fill="#333" text-anchor="middle" letter-spacing="-0.05">Time (d)</text></g>
<g transform="translate(267.10 574.30) rotate(-90) scale(1 1.07)"><text x="0" y="2.81" font-size="7.8" fill="#333" text-anchor="middle" letter-spacing="-0.05">% survival</text></g>
<path d="M291.80,538.7 L378.7,538.7" fill="none" stroke="#f0a050" stroke-width="1.1"/>
<path d="M370,538.7 L370,543.3 L374.4,543.3 L374.4,553.7 L378.7,553.7 L378.7,558.7" fill="none" stroke="#2e3f9e" stroke-width="1.1"/>
<path d="M331.6,538.7 L340,538.7 L340,543.3 L341.7,543.3 L341.7,570.7 L348.4,570.7 L348.4,576.7 L370.4,576.7 L370.4,587 L374.4,587 L374.4,592.4 L378.7,592.4 L378.7,608.5" fill="none" stroke="#222" stroke-width="1.1"/>
<path d="M291.80,538.7 L331.6,538.7 L331.6,544 L333.3,544 L333.3,576.7 L334.9,576.7 L334.9,589.7 L337.3,589.7 L337.3,608.5" fill="none" stroke="#a04cc0" stroke-width="1.1"/>
<g transform="translate(383.20 559.30) scale(1 1.07)"><text x="0" y="2.83" font-size="7.85" fill="#8e2aa0" letter-spacing="-0.05">Tumor alone</text></g>
<g transform="translate(383.20 566.30) scale(1 1.07)"><text x="0" y="2.83" font-size="7.85" fill="#111" letter-spacing="-0.05">NR</text></g>
<g transform="translate(383.20 574.20) scale(1 1.07)"><text x="0" y="2.83" font-size="7.85" fill="#2e3f9e" letter-spacing="-0.05">CR</text></g>
<g transform="translate(383.20 583.20) scale(1 1.07)"><text x="0" y="2.83" font-size="7.85" fill="#ec9030" letter-spacing="-0.05">Healthy donor</text></g>
<path d="M396.20,566.50 L397.80,566.50 L397.80,574.50 L396.20,574.50" fill="none" stroke="#333" stroke-width="0.8"/>
<g transform="translate(399.40 570.20) scale(1 1.07)"><text x="0" y="2.30" font-size="6.4" fill="#333"><tspan font-style="italic">P</tspan> &lt; 0.0001</text></g>
<path d="M432.00,566.50 L433.60,566.50 L433.60,572.70 L432.00,572.70" fill="none" stroke="#333" stroke-width="0.8"/>
<path d="M435.90,559.30 L437.50,559.30 L437.50,564.90 L435.90,564.90" fill="none" stroke="#333" stroke-width="0.8"/>
<g transform="translate(438.90 562.50) scale(1 1.07)"><text x="0" y="2.30" font-size="6.4" fill="#333"><tspan font-style="italic">P</tspan> &lt; 0.0001</text></g>
<path d="M438.60,574.00 L440.20,574.00 L440.20,580.70 L438.60,580.70" fill="none" stroke="#333" stroke-width="0.8"/>
<g transform="translate(441.90 578.00) scale(1 1.07)"><text x="0" y="2.30" font-size="6.4" fill="#333"><tspan font-style="italic">P</tspan> = 0.1258</text></g>
<path d="M475.90,566.50 L477.50,566.50 L477.50,576.70 L475.90,576.70" fill="none" stroke="#333" stroke-width="0.8"/>
<g transform="translate(479.30 570.80) scale(1 1.07)"><text x="0" y="2.30" font-size="6.4" fill="#333"><tspan font-style="italic">P</tspan> &lt; 0.0001</text></g>
<g transform="translate(391.70 628.10) scale(1 1.07)"><text x="0" y="2.83" font-size="7.85" fill="#111" letter-spacing="-0.05">Number at risk</text></g>
<line x1="391.70" y1="631.60" x2="442.40" y2="631.60" stroke="#111" stroke-width="0.7"/>
<g transform="translate(391.70 640.70) scale(1 1.07)"><text x="0" y="2.83" font-size="7.85" fill="#8e2aa0" letter-spacing="-0.05">Tumor alone</text></g>
<g transform="translate(391.70 650.50) scale(1 1.07)"><text x="0" y="2.83" font-size="7.85" fill="#111" letter-spacing="-0.05">NR</text></g>
<g transform="translate(391.70 660.10) scale(1 1.07)"><text x="0" y="2.83" font-size="7.85" fill="#2e3f9e" letter-spacing="-0.05">CR</text></g>
<g transform="translate(391.70 669.20) scale(1 1.07)"><text x="0" y="2.83" font-size="7.85" fill="#ec9030" letter-spacing="-0.05">Healthy donor</text></g>
<g transform="translate(291.60 641.60) scale(1 1.0)"><text x="0" y="2.74" font-size="7.6" fill="#8e2aa0" text-anchor="middle" letter-spacing="-0.05">11</text></g>
<g transform="translate(313.50 641.60) scale(1 1.0)"><text x="0" y="2.74" font-size="7.6" fill="#8e2aa0" text-anchor="middle" letter-spacing="-0.05">11</text></g>
<g transform="translate(335.30 641.60) scale(1 1.0)"><text x="0" y="2.74" font-size="7.6" fill="#8e2aa0" text-anchor="middle" letter-spacing="-0.05">5</text></g>
<g transform="translate(357.20 641.60) scale(1 1.0)"><text x="0" y="2.74" font-size="7.6" fill="#8e2aa0" text-anchor="middle" letter-spacing="-0.05">0</text></g>
<g transform="translate(379.30 641.60) scale(1 1.0)"><text x="0" y="2.74" font-size="7.6" fill="#8e2aa0" text-anchor="middle" letter-spacing="-0.05">0</text></g>
<g transform="translate(291.60 650.50) scale(1 1.0)"><text x="0" y="2.74" font-size="7.6" fill="#111" text-anchor="middle" letter-spacing="-0.05">13</text></g>
<g transform="translate(313.50 650.50) scale(1 1.0)"><text x="0" y="2.74" font-size="7.6" fill="#111" text-anchor="middle" letter-spacing="-0.05">13</text></g>
<g transform="translate(335.30 650.50) scale(1 1.0)"><text x="0" y="2.74" font-size="7.6" fill="#111" text-anchor="middle" letter-spacing="-0.05">13</text></g>
<g transform="translate(357.20 650.50) scale(1 1.0)"><text x="0" y="2.74" font-size="7.6" fill="#111" text-anchor="middle" letter-spacing="-0.05">6</text></g>
<g transform="translate(379.30 650.50) scale(1 1.0)"><text x="0" y="2.74" font-size="7.6" fill="#111" text-anchor="middle" letter-spacing="-0.05">3</text></g>
<g transform="translate(291.60 659.30) scale(1 1.0)"><text x="0" y="2.74" font-size="7.6" fill="#2e3f9e" text-anchor="middle" letter-spacing="-0.05">14</text></g>
<g transform="translate(313.50 659.30) scale(1 1.0)"><text x="0" y="2.74" font-size="7.6" fill="#2e3f9e" text-anchor="middle" letter-spacing="-0.05">14</text></g>
<g transform="translate(335.30 659.30) scale(1 1.0)"><text x="0" y="2.74" font-size="7.6" fill="#2e3f9e" text-anchor="middle" letter-spacing="-0.05">14</text></g>
<g transform="translate(357.20 659.30) scale(1 1.0)"><text x="0" y="2.74" font-size="7.6" fill="#2e3f9e" text-anchor="middle" letter-spacing="-0.05">14</text></g>
<g transform="translate(379.30 659.30) scale(1 1.0)"><text x="0" y="2.74" font-size="7.6" fill="#2e3f9e" text-anchor="middle" letter-spacing="-0.05">11</text></g>
<g transform="translate(291.60 668.20) scale(1 1.0)"><text x="0" y="2.74" font-size="7.6" fill="#ec9030" text-anchor="middle" letter-spacing="-0.05">8</text></g>
<g transform="translate(313.50 668.20) scale(1 1.0)"><text x="0" y="2.74" font-size="7.6" fill="#ec9030" text-anchor="middle" letter-spacing="-0.05">8</text></g>
<g transform="translate(335.30 668.20) scale(1 1.0)"><text x="0" y="2.74" font-size="7.6" fill="#ec9030" text-anchor="middle" letter-spacing="-0.05">8</text></g>
<g transform="translate(357.20 668.20) scale(1 1.0)"><text x="0" y="2.74" font-size="7.6" fill="#ec9030" text-anchor="middle" letter-spacing="-0.05">8</text></g>
<g transform="translate(379.30 668.20) scale(1 1.0)"><text x="0" y="2.74" font-size="7.6" fill="#ec9030" text-anchor="middle" letter-spacing="-0.05">7</text></g>
</svg></body></html>
